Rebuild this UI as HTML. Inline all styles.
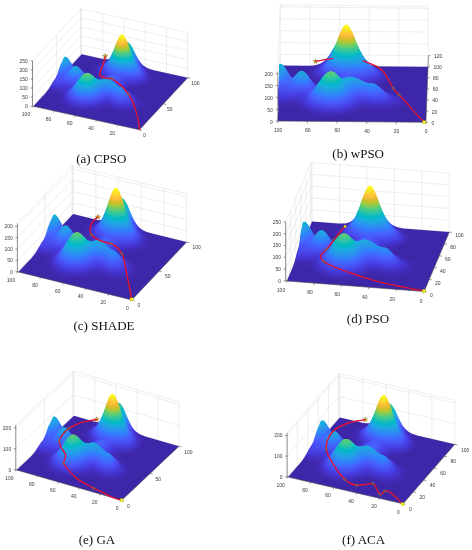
<!DOCTYPE html>
<html><head><meta charset="utf-8"><title>Figure</title>
<style>html,body{margin:0;padding:0;background:#fff}svg{display:block}text{font-family:"Liberation Sans",sans-serif}text.cap{font-family:"Liberation Serif",serif;font-size:13px;fill:#111}</style></head>
<body>
<svg width="472" height="550" viewBox="0 0 472 550">
<defs><linearGradient id="ga" gradientUnits="userSpaceOnUse" x1="0" y1="0" x2="7.83" y2="-35.37"><stop offset="0" stop-color="#3e26a8"/><stop offset=".031" stop-color="#422ebf"/><stop offset=".062" stop-color="#4536d5"/><stop offset=".094" stop-color="#4741e5"/><stop offset=".125" stop-color="#484cef"/><stop offset=".156" stop-color="#4757f7"/><stop offset=".188" stop-color="#4562fc"/><stop offset=".219" stop-color="#3f6efe"/><stop offset=".25" stop-color="#347afd"/><stop offset=".281" stop-color="#2e85f8"/><stop offset=".312" stop-color="#2c90f0"/><stop offset=".344" stop-color="#269ae9"/><stop offset=".375" stop-color="#21a3e3"/><stop offset=".406" stop-color="#1aacdd"/><stop offset=".438" stop-color="#0cb3d3"/><stop offset=".469" stop-color="#01b9c6"/><stop offset=".5" stop-color="#12beb9"/><stop offset=".531" stop-color="#28c2ab"/><stop offset=".562" stop-color="#34c79c"/><stop offset=".594" stop-color="#44ca8a"/><stop offset=".625" stop-color="#5ccc76"/><stop offset=".656" stop-color="#77cc60"/><stop offset=".688" stop-color="#94ca4a"/><stop offset=".719" stop-color="#afc637"/><stop offset=".75" stop-color="#c8c129"/><stop offset=".781" stop-color="#debc2a"/><stop offset=".812" stop-color="#f1ba37"/><stop offset=".844" stop-color="#febe3c"/><stop offset=".875" stop-color="#feca33"/><stop offset=".906" stop-color="#f9d62d"/><stop offset=".938" stop-color="#f5e327"/><stop offset=".969" stop-color="#f6ef20"/><stop offset="1" stop-color="#f9fb15"/></linearGradient><linearGradient id="gb" gradientUnits="userSpaceOnUse" x1="0" y1="0" x2="0.43" y2="-48.58"><stop offset="0" stop-color="#3e26a8"/><stop offset=".031" stop-color="#422ebf"/><stop offset=".062" stop-color="#4536d5"/><stop offset=".094" stop-color="#4741e5"/><stop offset=".125" stop-color="#484cef"/><stop offset=".156" stop-color="#4757f7"/><stop offset=".188" stop-color="#4562fc"/><stop offset=".219" stop-color="#3f6efe"/><stop offset=".25" stop-color="#347afd"/><stop offset=".281" stop-color="#2e85f8"/><stop offset=".312" stop-color="#2c90f0"/><stop offset=".344" stop-color="#269ae9"/><stop offset=".375" stop-color="#21a3e3"/><stop offset=".406" stop-color="#1aacdd"/><stop offset=".438" stop-color="#0cb3d3"/><stop offset=".469" stop-color="#01b9c6"/><stop offset=".5" stop-color="#12beb9"/><stop offset=".531" stop-color="#28c2ab"/><stop offset=".562" stop-color="#34c79c"/><stop offset=".594" stop-color="#44ca8a"/><stop offset=".625" stop-color="#5ccc76"/><stop offset=".656" stop-color="#77cc60"/><stop offset=".688" stop-color="#94ca4a"/><stop offset=".719" stop-color="#afc637"/><stop offset=".75" stop-color="#c8c129"/><stop offset=".781" stop-color="#debc2a"/><stop offset=".812" stop-color="#f1ba37"/><stop offset=".844" stop-color="#febe3c"/><stop offset=".875" stop-color="#feca33"/><stop offset=".906" stop-color="#f9d62d"/><stop offset=".938" stop-color="#f5e327"/><stop offset=".969" stop-color="#f6ef20"/><stop offset="1" stop-color="#f9fb15"/></linearGradient><linearGradient id="gc" gradientUnits="userSpaceOnUse" x1="0" y1="0" x2="10.80" y2="-43.77"><stop offset="0" stop-color="#3e26a8"/><stop offset=".031" stop-color="#422ebf"/><stop offset=".062" stop-color="#4536d5"/><stop offset=".094" stop-color="#4741e5"/><stop offset=".125" stop-color="#484cef"/><stop offset=".156" stop-color="#4757f7"/><stop offset=".188" stop-color="#4562fc"/><stop offset=".219" stop-color="#3f6efe"/><stop offset=".25" stop-color="#347afd"/><stop offset=".281" stop-color="#2e85f8"/><stop offset=".312" stop-color="#2c90f0"/><stop offset=".344" stop-color="#269ae9"/><stop offset=".375" stop-color="#21a3e3"/><stop offset=".406" stop-color="#1aacdd"/><stop offset=".438" stop-color="#0cb3d3"/><stop offset=".469" stop-color="#01b9c6"/><stop offset=".5" stop-color="#12beb9"/><stop offset=".531" stop-color="#28c2ab"/><stop offset=".562" stop-color="#34c79c"/><stop offset=".594" stop-color="#44ca8a"/><stop offset=".625" stop-color="#5ccc76"/><stop offset=".656" stop-color="#77cc60"/><stop offset=".688" stop-color="#94ca4a"/><stop offset=".719" stop-color="#afc637"/><stop offset=".75" stop-color="#c8c129"/><stop offset=".781" stop-color="#debc2a"/><stop offset=".812" stop-color="#f1ba37"/><stop offset=".844" stop-color="#febe3c"/><stop offset=".875" stop-color="#feca33"/><stop offset=".906" stop-color="#f9d62d"/><stop offset=".938" stop-color="#f5e327"/><stop offset=".969" stop-color="#f6ef20"/><stop offset="1" stop-color="#f9fb15"/></linearGradient><linearGradient id="gd" gradientUnits="userSpaceOnUse" x1="0" y1="0" x2="3.68" y2="-48.10"><stop offset="0" stop-color="#3e26a8"/><stop offset=".031" stop-color="#422ebf"/><stop offset=".062" stop-color="#4536d5"/><stop offset=".094" stop-color="#4741e5"/><stop offset=".125" stop-color="#484cef"/><stop offset=".156" stop-color="#4757f7"/><stop offset=".188" stop-color="#4562fc"/><stop offset=".219" stop-color="#3f6efe"/><stop offset=".25" stop-color="#347afd"/><stop offset=".281" stop-color="#2e85f8"/><stop offset=".312" stop-color="#2c90f0"/><stop offset=".344" stop-color="#269ae9"/><stop offset=".375" stop-color="#21a3e3"/><stop offset=".406" stop-color="#1aacdd"/><stop offset=".438" stop-color="#0cb3d3"/><stop offset=".469" stop-color="#01b9c6"/><stop offset=".5" stop-color="#12beb9"/><stop offset=".531" stop-color="#28c2ab"/><stop offset=".562" stop-color="#34c79c"/><stop offset=".594" stop-color="#44ca8a"/><stop offset=".625" stop-color="#5ccc76"/><stop offset=".656" stop-color="#77cc60"/><stop offset=".688" stop-color="#94ca4a"/><stop offset=".719" stop-color="#afc637"/><stop offset=".75" stop-color="#c8c129"/><stop offset=".781" stop-color="#debc2a"/><stop offset=".812" stop-color="#f1ba37"/><stop offset=".844" stop-color="#febe3c"/><stop offset=".875" stop-color="#feca33"/><stop offset=".906" stop-color="#f9d62d"/><stop offset=".938" stop-color="#f5e327"/><stop offset=".969" stop-color="#f6ef20"/><stop offset="1" stop-color="#f9fb15"/></linearGradient><linearGradient id="ge" gradientUnits="userSpaceOnUse" x1="0" y1="0" x2="11.44" y2="-39.54"><stop offset="0" stop-color="#3e26a8"/><stop offset=".031" stop-color="#422ebf"/><stop offset=".062" stop-color="#4536d5"/><stop offset=".094" stop-color="#4741e5"/><stop offset=".125" stop-color="#484cef"/><stop offset=".156" stop-color="#4757f7"/><stop offset=".188" stop-color="#4562fc"/><stop offset=".219" stop-color="#3f6efe"/><stop offset=".25" stop-color="#347afd"/><stop offset=".281" stop-color="#2e85f8"/><stop offset=".312" stop-color="#2c90f0"/><stop offset=".344" stop-color="#269ae9"/><stop offset=".375" stop-color="#21a3e3"/><stop offset=".406" stop-color="#1aacdd"/><stop offset=".438" stop-color="#0cb3d3"/><stop offset=".469" stop-color="#01b9c6"/><stop offset=".5" stop-color="#12beb9"/><stop offset=".531" stop-color="#28c2ab"/><stop offset=".562" stop-color="#34c79c"/><stop offset=".594" stop-color="#44ca8a"/><stop offset=".625" stop-color="#5ccc76"/><stop offset=".656" stop-color="#77cc60"/><stop offset=".688" stop-color="#94ca4a"/><stop offset=".719" stop-color="#afc637"/><stop offset=".75" stop-color="#c8c129"/><stop offset=".781" stop-color="#debc2a"/><stop offset=".812" stop-color="#f1ba37"/><stop offset=".844" stop-color="#febe3c"/><stop offset=".875" stop-color="#feca33"/><stop offset=".906" stop-color="#f9d62d"/><stop offset=".938" stop-color="#f5e327"/><stop offset=".969" stop-color="#f6ef20"/><stop offset="1" stop-color="#f9fb15"/></linearGradient><linearGradient id="gf" gradientUnits="userSpaceOnUse" x1="0" y1="0" x2="9.36" y2="-40.15"><stop offset="0" stop-color="#3e26a8"/><stop offset=".031" stop-color="#422ebf"/><stop offset=".062" stop-color="#4536d5"/><stop offset=".094" stop-color="#4741e5"/><stop offset=".125" stop-color="#484cef"/><stop offset=".156" stop-color="#4757f7"/><stop offset=".188" stop-color="#4562fc"/><stop offset=".219" stop-color="#3f6efe"/><stop offset=".25" stop-color="#347afd"/><stop offset=".281" stop-color="#2e85f8"/><stop offset=".312" stop-color="#2c90f0"/><stop offset=".344" stop-color="#269ae9"/><stop offset=".375" stop-color="#21a3e3"/><stop offset=".406" stop-color="#1aacdd"/><stop offset=".438" stop-color="#0cb3d3"/><stop offset=".469" stop-color="#01b9c6"/><stop offset=".5" stop-color="#12beb9"/><stop offset=".531" stop-color="#28c2ab"/><stop offset=".562" stop-color="#34c79c"/><stop offset=".594" stop-color="#44ca8a"/><stop offset=".625" stop-color="#5ccc76"/><stop offset=".656" stop-color="#77cc60"/><stop offset=".688" stop-color="#94ca4a"/><stop offset=".719" stop-color="#afc637"/><stop offset=".75" stop-color="#c8c129"/><stop offset=".781" stop-color="#debc2a"/><stop offset=".812" stop-color="#f1ba37"/><stop offset=".844" stop-color="#febe3c"/><stop offset=".875" stop-color="#feca33"/><stop offset=".906" stop-color="#f9d62d"/><stop offset=".938" stop-color="#f5e327"/><stop offset=".969" stop-color="#f6ef20"/><stop offset="1" stop-color="#f9fb15"/></linearGradient></defs>
<rect width="472" height="550" fill="#fff"/>
<g id="plot-a">
<g stroke="#e3e3e3" stroke-width=".6" fill="none"><path d="M32.5 106.1L80.8 54"/><path d="M80.8 54L187.7 77.7"/><path d="M32.5 97.1L80.8 45"/><path d="M80.8 45L187.7 68.7"/><path d="M32.5 88L80.8 35.9"/><path d="M80.8 35.9L187.7 59.6"/><path d="M32.5 79L80.8 26.9"/><path d="M80.8 26.9L187.7 50.6"/><path d="M32.5 69.9L80.8 17.8"/><path d="M80.8 17.8L187.7 41.5"/><path d="M32.5 60.9L80.8 8.8"/><path d="M80.8 8.8L187.7 32.5"/><path d="M32.5 106.1L32.5 60.9"/><path d="M56.6 80.1L56.6 34.8"/><path d="M80.8 54L80.8 8.8"/><path d="M187.7 77.7L187.7 32.5"/><path d="M166.5 73L166.5 27.8"/><path d="M145.3 68.3L145.3 23"/><path d="M124 63.6L124 18.3"/><path d="M102.8 58.9L102.8 13.6"/><path d="M81.6 54.2L81.6 8.9"/><path d="M80.8 54L80.8 8.8"/></g>
<polygon fill="#3e26a8" points="139.4,129.8 33.3,106.3 81.6,54.2 187.7,77.7"/>
<g fill="url(#ga)"><path transform="translate(187.7 77.7)" d="M-35 -7.8l-1.1-.4-1-.3-1.1-.4-1.1-.4-1-.4-1.1-.6-1-.6-1.1-.7-1.1-.9-1-1-1.1-1.2-1-1.4-1.1-1.6-1.1-1.7-1-2-1.1-2.1-1.1-2.1-1-2.2-1.1-2.1-1-1.9-1.1-1.6-1.1-1.3-1-.8-1.1-.5-1 .1-1.1 .5-1.1 .9-1 1.3-1.1 1.5-1 1.6-1.1 1.7-1.1 1.7-1 1.7-1.1 1.4-1 1.3-1.1 1.1-1.1 .9-1 .7-1.1 .5-1.1 .4-1 .2-1.1 .1-1 0-1.1-.1-1.1-.1-1-.1-1.1-.1z"/>
<path transform="translate(187.2 78.2)" d="M-34 -7.5l-1-.5-1.1-.3-1-.3-1.1-.4-1.1-.4-1-.5-1.1-.5-1-.6-1.1-.7-1.1-.9-1-1-1.1-1.2-1-1.3-1.1-1.6-1.1-1.7-1-1.9-1.1-2-1.1-2.1-1-2-1.1-2-1-1.8-1.1-1.5-1.1-1.2-1-.9-1.1-.3-1 0-1.1 .5-1.1 .9-1 1.2-1.1 1.4-1 1.6-1.1 1.6-1.1 1.6-1 1.6-1.1 1.4-1 1.2-1.1 1-1.1 .9-1 .6-1.1 .5-1.1 .3-1 .2-1.1 .1-1 0-1.1 0-1.1-.1-1-.2-1.1 0z"/>
<path transform="translate(186.7 78.7)" d="M-32.9 -7.3l-1.1-.4-1-.3-1.1-.4-1-.3-1.1-.4-1.1-.4-1-.5-1.1-.6-1-.6-1.1-.7-1.1-.9-1-1-1.1-1.2-1-1.3-1.1-1.5-1.1-1.7-1-1.8-1.1-1.9-1.1-2-1-1.9-1.1-1.9-1-1.7-1.1-1.4-1.1-1.1-1-.8-1.1-.3-1 .1-1.1 .5-1.1 .8-1 1.2-1.1 1.3-1 1.5-1.1 1.5-1.1 1.5-1 1.5-1.1 1.3-1 1.2-1.1 .9-1.1 .8-1 .7-1.1 .4-1.1 .3-1 .2-1.1 .1-1 0-1.1 0-1.1-.1-1-.2-1.1 0z"/>
<path transform="translate(186.3 79.3)" d="M-31.8 -7.1l-1.1-.4-1.1-.3-1-.3-1.1-.4-1-.3-1.1-.4-1.1-.5-1-.5-1.1-.6-1-.6-1.1-.8-1.1-.9-1-1-1.1-1.1-1-1.3-1.1-1.5-1.1-1.6-1-1.8-1.1-1.8-1.1-1.9-1-1.8-1.1-1.8-1-1.6-1.1-1.3-1.1-1-1-.7-1.1-.3-1 .1-1.1 .5-1.1 .8-1 1.1-1.1 1.3-1 1.4-1.1 1.5-1.1 1.4-1 1.4-1.1 1.2-1 1.1-1.1 .9-1.1 .8-1 .5-1.1 .5-1.1 .3-1 .2-1.1 .1-1 0-1.1-.1-1.1-.1-1-.1-1.1 0z"/>
<path transform="translate(185.8 79.8)" d="M-30.8 -6.8l-1-.4-1.1-.3-1.1-.4-1-.3-1.1-.4-1-.4-1.1-.4-1.1-.5-1-.5-1.1-.6-1-.7-1.1-.8-1.1-.9-1-1.1-1.1-1.1-1-1.3-1.1-1.5-1.1-1.6-1-1.7-1.1-1.8-1.1-1.8-1-1.7-1.1-1.7-1-1.5-1.1-1.2-1.1-1-1-.6-1.1-.2-1 .2-1.1 .5-1.1 .8-1 1.1-1.1 1.3-1 1.3-1.1 1.4-1.1 1.4-1 1.2-1.1 1.2-1 1-1.1 .9-1.1 .7-1 .6-1.1 .4-1.1 .3-1 .2-1.1 .1-1 0-1.1 0-1.1-.1-1-.1-1.1-.2-1 0z"/>
<path transform="translate(185.3 80.3)" d="M-29.7 -6.6l-1.1-.4-1-.3-1.1-.3-1.1-.4-1-.3-1.1-.4-1-.4-1.1-.5-1.1-.5-1-.6-1.1-.7-1-.7-1.1-.8-1.1-1-1-1-1.1-1.2-1-1.4-1.1-1.4-1.1-1.6-1-1.7-1.1-1.8-1.1-1.7-1-1.8-1.1-1.6-1-1.4-1.1-1.2-1.1-.8-1-.5-1.1-.2-1 .3-1.1 .6-1.1 .8-1 1.1-1.1 1.2-1 1.4-1.1 1.3-1.1 1.3-1 1.3-1.1 1.1-1 1-1.1 .8-1.1 .7-1 .6-1.1 .4-1.1 .3-1 .2-1.1 .1-1 0-1.1 0-1.1-.1-1-.1-1.1-.1-1 0z"/>
<path transform="translate(184.8 80.8)" d="M-29.7 -6.6l-1.1-.4-1-.4-1.1-.3-1.1-.4-1-.3-1.1-.5-1-.4-1.1-.6-1.1-.5-1-.7-1.1-.7-1-.8-1.1-.8-1.1-1-1-1.2-1.1-1.2-1-1.4-1.1-1.5-1.1-1.6-1-1.7-1.1-1.8-1.1-1.8-1-1.7-1.1-1.6-1-1.4-1.1-1.1-1.1-.8-1-.4-1.1 0-1 .3-1.1 .7-1.1 .9-1 1.1-1.1 1.3-1 1.4-1.1 1.3-1.1 1.3-1 1.3-1.1 1.1-1 .9-1.1 .9-1.1 .7-1 .5-1.1 .5-1.1 .3-1 .2-1.1 .1-1 0-1.1 0-1.1 0-1-.1-1.1-.2-1-.1-1.1-.1z"/>
<path transform="translate(184.3 81.3)" d="M-28.6 -6.3l-1.1-.5-1.1-.3-1-.3-1.1-.4-1.1-.4-1-.4-1.1-.5-1-.5-1.1-.6-1.1-.6-1-.7-1.1-.7-1-.9-1.1-.9-1.1-1.1-1-1.2-1.1-1.3-1-1.4-1.1-1.6-1.1-1.7-1-1.8-1.1-1.9-1.1-1.8-1-1.8-1.1-1.6-1-1.4-1.1-1.1-1.1-.8-1-.3-1.1 .1-1 .5-1.1 .8-1.1 1-1 1.3-1.1 1.4-1 1.4-1.1 1.4-1.1 1.3-1 1.3-1.1 1.1-1 1-1.1 .8-1.1 .7-1 .6-1.1 .5-1.1 .3-1 .2-1.1 .2-1 0-1.1 0-1.1 0-1-.1-1.1-.1-1-.2-1.1 0z"/>
<path transform="translate(183.8 81.9)" d="M-27.6 -6.1l-1-.4-1.1-.3-1.1-.4-1-.3-1.1-.4-1.1-.4-1-.5-1.1-.5-1-.6-1.1-.6-1.1-.7-1-.7-1.1-.9-1-.9-1.1-1-1.1-1.2-1-1.2-1.1-1.4-1-1.6-1.1-1.6-1.1-1.9-1-1.9-1.1-2-1.1-1.9-1-1.9-1.1-1.7-1-1.5-1.1-1.1-1.1-.7-1-.2-1.1 .2-1 .6-1.1 1-1.1 1.3-1 1.4-1.1 1.5-1 1.5-1.1 1.5-1.1 1.4-1 1.3-1.1 1.2-1 1-1.1 .9-1.1 .7-1 .6-1.1 .5-1.1 .4-1 .3-1.1 .1-1 .1-1.1 0-1.1 0-1-.1-1.1-.1-1-.1-1.1-.2-1.1 0z"/>
<path transform="translate(183.4 82.4)" d="M-27.6 -6.1l-1-.5-1.1-.3-1.1-.3-1-.4-1.1-.4-1.1-.5-1-.5-1.1-.6-1-.6-1.1-.7-1.1-.7-1-.8-1.1-.9-1-1.1-1.1-1.1-1.1-1.2-1-1.4-1.1-1.5-1-1.6-1.1-1.8-1.1-2-1-2.1-1.1-2.1-1.1-2.1-1-2.1-1.1-1.8-1-1.6-1.1-1.1-1.1-.6-1-.2-1.1 .4-1 .8-1.1 1.2-1.1 1.4-1 1.6-1.1 1.7-1 1.7-1.1 1.7-1.1 1.5-1 1.4-1.1 1.2-1 1.1-1.1 .9-1.1 .8-1 .7-1.1 .5-1.1 .4-1 .3-1.1 .2-1 .1-1.1 0-1.1 0-1 0-1.1-.1-1-.1-1.1-.2-1.1 0z"/>
<path transform="translate(182.9 82.9)" d="M-26.5 -5.9l-1.1-.4-1-.3-1.1-.4-1.1-.3-1-.4-1.1-.5-1.1-.5-1-.5-1.1-.6-1-.7-1.1-.8-1.1-.8-1-.9-1.1-1-1-1.1-1.1-1.2-1.1-1.3-1-1.4-1.1-1.7-1-1.7-1.1-2-1.1-2.1-1-2.3-1.1-2.3-1.1-2.4-1-2.2-1.1-2-1-1.6-1.1-1.2-1.1-.6-1-.1-1.1 .5-1 1-1.1 1.4-1.1 1.7-1 1.9-1.1 1.9-1 1.9-1.1 1.8-1.1 1.6-1 1.5-1.1 1.4-1 1.1-1.1 1-1.1 .8-1 .7-1.1 .6-1.1 .4-1 .4-1.1 .2-1 .2-1.1 0-1.1 .1-1-.1-1.1-.1-1-.1-1.1-.1-1.1 0z"/>
<path transform="translate(182.4 83.4)" d="M-26.5 -5.9l-1.1-.4-1-.4-1.1-.3-1.1-.4-1-.5-1.1-.5-1.1-.5-1-.6-1.1-.7-1-.7-1.1-.8-1.1-.9-1-1-1.1-1-1-1.2-1.1-1.3-1.1-1.4-1-1.5-1.1-1.8-1-1.9-1.1-2.1-1.1-2.3-1-2.4-1.1-2.6-1.1-2.5-1-2.4-1.1-2.2-1-1.8-1.1-1.2-1.1-.7-1 0-1.1 .7-1 1.2-1.1 1.6-1.1 2-1 2.1-1.1 2.2-1 2.1-1.1 1.9-1.1 1.8-1 1.7-1.1 1.4-1 1.2-1.1 1.1-1.1 .9-1 .7-1.1 .6-1.1 .5-1 .4-1.1 .3-1 .1-1.1 .2-1.1 0-1 0-1.1-.1-1-.1-1.1-.1-1.1-.2-1 0z"/>
<path transform="translate(181.9 84)" d="M-25.5 -5.6l-1-.5-1.1-.3-1-.3-1.1-.4-1.1-.4-1-.5-1.1-.5-1.1-.6-1-.7-1.1-.7-1-.8-1.1-.8-1.1-1-1-1-1.1-1.2-1-1.2-1.1-1.4-1.1-1.5-1-1.6-1.1-1.8-1-2-1.1-2.3-1.1-2.4-1-2.7-1.1-2.7-1.1-2.8-1-2.6-1.1-2.3-1-1.9-1.1-1.3-1.1-.7-1 .1-1.1 .8-1 1.4-1.1 1.9-1.1 2.2-1 2.3-1.1 2.4-1 2.3-1.1 2.2-1.1 1.9-1 1.7-1.1 1.6-1 1.3-1.1 1.1-1.1 1-1 .8-1.1 .6-1.1 .5-1 .4-1.1 .3-1 .2-1.1 .2-1.1 0-1 0-1.1 0-1-.1-1.1-.2-1.1-.1-1 0z"/>
<path transform="translate(181.4 84.5)" d="M-25.5 -5.6l-1-.5-1.1-.3-1-.4-1.1-.4-1.1-.4-1-.5-1.1-.6-1.1-.6-1-.7-1.1-.8-1-.9-1.1-.9-1.1-1-1-1.1-1.1-1.2-1-1.3-1.1-1.4-1.1-1.6-1-1.7-1.1-1.9-1-2.1-1.1-2.3-1.1-2.6-1-2.8-1.1-2.9-1.1-2.9-1-2.8-1.1-2.5-1-2-1.1-1.3-1.1-.7-1 .2-1.1 .9-1 1.5-1.1 2.1-1.1 2.4-1 2.6-1.1 2.5-1 2.5-1.1 2.3-1.1 2.1-1 1.8-1.1 1.6-1 1.4-1.1 1.2-1.1 1-1 .8-1.1 .7-1.1 .6-1 .4-1.1 .3-1 .3-1.1 .1-1.1 .1-1 0-1.1-.1-1-.1-1.1-.1-1.1-.1-1 0z"/>
<path transform="translate(180.9 85)" d="M-25.5 -5.6l-1-.5-1.1-.4-1-.4-1.1-.4-1.1-.5-1-.5-1.1-.6-1.1-.7-1-.7-1.1-.8-1-1-1.1-.9-1.1-1.1-1-1.2-1.1-1.2-1-1.4-1.1-1.4-1.1-1.6-1-1.7-1.1-2-1-2.1-1.1-2.4-1.1-2.7-1-2.8-1.1-3-1.1-3-1-2.9-1.1-2.6-1-2.1-1.1-1.4-1.1-.6-1 .2-1.1 1-1 1.6-1.1 2.2-1.1 2.6-1 2.7-1.1 2.7-1 2.6-1.1 2.4-1.1 2.2-1 1.9-1.1 1.6-1 1.5-1.1 1.2-1.1 1-1 .9-1.1 .7-1.1 .6-1 .4-1.1 .4-1 .2-1.1 .2-1.1 0-1 0-1.1 0-1-.1-1.1-.1-1.1-.1-1 0z"/>
<path transform="translate(180.5 85.5)" d="M-24.4 -5.4l-1.1-.4-1-.4-1.1-.3-1-.4-1.1-.5-1.1-.5-1-.5-1.1-.7-1.1-.7-1-.8-1.1-.9-1-.9-1.1-1.1-1.1-1.1-1-1.2-1.1-1.3-1-1.3-1.1-1.5-1.1-1.6-1-1.7-1.1-1.9-1-2.2-1.1-2.4-1.1-2.7-1-2.8-1.1-3-1.1-3.1-1-2.9-1.1-2.6-1-2.1-1.1-1.4-1.1-.6-1 .2-1.1 1-1 1.8-1.1 2.2-1.1 2.7-1 2.7-1.1 2.8-1 2.7-1.1 2.4-1.1 2.2-1 1.9-1.1 1.7-1 1.5-1.1 1.2-1.1 1.1-1 .8-1.1 .8-1.1 .5-1 .5-1.1 .3-1 .3-1.1 .1-1.1 .1-1 0-1.1 0-1-.1-1.1-.1-1.1-.1-1 0z"/>
<path transform="translate(180 86)" d="M-24.4 -5.4l-1.1-.5-1-.3-1.1-.4-1-.4-1.1-.4-1.1-.6-1-.6-1.1-.6-1.1-.8-1-.8-1.1-1-1-1-1.1-1-1.1-1.2-1-1.2-1.1-1.3-1-1.4-1.1-1.4-1.1-1.6-1-1.7-1.1-1.9-1-2.1-1.1-2.3-1.1-2.6-1-2.8-1.1-3-1.1-3-1-2.8-1.1-2.6-1-2-1.1-1.4-1.1-.6-1 .3-1.1 1-1 1.7-1.1 2.3-1.1 2.6-1 2.7-1.1 2.8-1 2.6-1.1 2.5-1.1 2.1-1 2-1.1 1.6-1 1.4-1.1 1.3-1.1 1-1 .9-1.1 .7-1.1 .6-1 .4-1.1 .3-1 .3-1.1 .1-1.1 .1-1 0-1.1 0-1-.1-1.1-.1-1.1-.1-1 0z"/>
<path transform="translate(179.5 86.6)" d="M-24.4 -5.4l-1.1-.5-1-.3-1.1-.4-1-.4-1.1-.5-1.1-.6-1-.6-1.1-.7-1.1-.8-1-.9-1.1-.9-1-1.1-1.1-1.1-1.1-1.1-1-1.3-1.1-1.2-1-1.4-1.1-1.4-1.1-1.5-1-1.7-1.1-1.8-1-1.9-1.1-2.3-1.1-2.4-1-2.7-1.1-2.8-1-2.8-1.1-2.7-1.1-2.5-1-1.9-1.1-1.3-1.1-.6-1 .3-1.1 1-1 1.6-1.1 2.2-1.1 2.5-1 2.6-1.1 2.7-1 2.5-1.1 2.4-1.1 2.1-1 1.8-1.1 1.6-1 1.4-1.1 1.2-1.1 1-1 .8-1.1 .7-1.1 .5-1 .5-1.1 .3-1 .2-1.1 .2-1.1 0-1 .1-1.1-.1-1-.1-1.1-.1-1.1-.1-1 0z"/>
<path transform="translate(179 87.1)" d="M-24.4 -5.4l-1.1-.5-1-.3-1.1-.4-1-.5-1.1-.5-1.1-.5-1-.7-1.1-.7-1.1-.8-1-.9-1.1-1-1-1.1-1.1-1.1-1.1-1.2-1-1.2-1.1-1.3-1-1.3-1.1-1.3-1.1-1.4-1-1.6-1.1-1.7-1-1.8-1.1-2.1-1.1-2.2-1-2.5-1.1-2.5-1-2.7-1.1-2.5-1.1-2.2-1-1.8-1.1-1.2-1.1-.5-1 .2-1.1 .9-1 1.6-1.1 2-1.1 2.3-1 2.5-1.1 2.4-1 2.4-1.1 2.2-1.1 1.9-1 1.8-1.1 1.5-1 1.3-1.1 1.1-1.1 .9-1 .8-1.1 .7-1.1 .5-1 .4-1.1 .3-1 .2-1.1 .1-1.1 .1-1 0-1.1-.1-1-.1-1.1-.1-1.1-.1-1 0z"/>
<path transform="translate(178.5 87.6)" d="M-24.4 -5.4l-1.1-.5-1-.4-1.1-.4-1-.4-1.1-.5-1.1-.6-1-.7-1.1-.7-1.1-.8-1-1-1.1-1-1-1-1.1-1.1-1.1-1.2-1-1.2-1.1-1.2-1-1.3-1.1-1.2-1.1-1.4-1-1.4-1.1-1.5-1-1.7-1.1-1.8-1.1-2-1-2.2-1.1-2.3-1.1-2.4-1-2.2-1.1-2-1-1.6-1.1-1.1-1.1-.5-1 .2-1.1 .9-1 1.3-1.1 1.8-1.1 2.1-1 2.2-1.1 2.3-1 2.1-1.1 2-1.1 1.8-1 1.5-1.1 1.4-1 1.2-1.1 1-1.1 .9-1 .7-1.1 .6-1.1 .5-1 .3-1.1 .3-1 .2-1.1 .1-1.1 0-1 0-1.1 0-1-.1-1.1-.2-1.1-.1-1 0z"/>
<path transform="translate(178 88.1)" d="M-24.4 -5.4l-1.1-.5-1-.4-1.1-.4-1-.4-1.1-.5-1.1-.6-1-.7-1.1-.8-1.1-.8-1-.9-1.1-1-1-1.1-1.1-1.1-1.1-1.1-1-1.2-1.1-1.1-1-1.2-1.1-1.2-1.1-1.2-1-1.3-1.1-1.3-1-1.5-1.1-1.6-1.1-1.8-1-1.9-1.1-2-1.1-2-1-2-1.1-1.7-1-1.4-1.1-.9-1.1-.4-1 .1-1.1 .7-1 1.2-1.1 1.6-1.1 1.8-1 1.9-1.1 2-1 1.8-1.1 1.8-1.1 1.6-1 1.4-1.1 1.2-1 1.1-1.1 .9-1.1 .7-1 .7-1.1 .5-1.1 .4-1 .3-1.1 .3-1 .1-1.1 .1-1.1 0-1 0-1.1-.1-1-.1-1.1-.1-1.1-.2-1 0z"/>
<path transform="translate(177.6 88.6)" d="M-24.4 -5.4l-1.1-.5-1-.4-1.1-.4-1-.4-1.1-.5-1.1-.6-1-.7-1.1-.8-1.1-.8-1-.9-1.1-1-1-1-1.1-1.1-1.1-1.1-1-1.1-1.1-1.1-1-1.1-1.1-1.1-1.1-1.1-1-1.1-1.1-1.2-1-1.2-1.1-1.4-1.1-1.5-1-1.6-1.1-1.7-1.1-1.7-1-1.7-1.1-1.4-1-1.2-1.1-.8-1.1-.4-1 .1-1.1 .6-1 1-1.1 1.3-1.1 1.5-1 1.7-1.1 1.6-1 1.6-1.1 1.5-1.1 1.4-1 1.2-1.1 1-1 1-1.1 .8-1.1 .6-1 .6-1.1 .4-1.1 .4-1 .3-1.1 .1-1 .2-1.1 0-1.1 0-1-.1-1.1 0-1-.2-1.1-.1-1.1-.2-1 0zM-101.9 -22.6l-1-.4-1.1-.2-1-.3-1.1-.2 0 .2z"/>
<path transform="translate(177.1 89.2)" d="M-24.4 -5.4l-1.1-.5-1-.4-1.1-.4-1-.4-1.1-.5-1.1-.6-1-.7-1.1-.7-1.1-.8-1-.9-1.1-1-1-1-1.1-1-1.1-1.1-1-1-1.1-1-1-1.1-1.1-.9-1.1-1-1-1-1.1-1-1-1.1-1.1-1.1-1.1-1.3-1-1.3-1.1-1.4-1.1-1.4-1-1.4-1.1-1.2-1-.9-1.1-.7-1.1-.3-1 .1-1.1 .4-1 .8-1.1 1.1-1.1 1.2-1 1.4-1.1 1.3-1 1.3-1.1 1.3-1.1 1.1-1 1-1.1 .9-1 .8-1.1 .7-1.1 .6-1 .4-1.1 .4-1.1 .3-1 .2-1.1 .1-1 .1-1.1 0-1.1 0-1-.1-1.1-.1-1-.1-1.1-.2-1.1 0zM-98.7 -21.9l-1-.4-1.1-.3-1.1-.2-1-.3-1.1-.3-1-.2-1.1-.2 0 .3z"/>
<path transform="translate(176.6 89.7)" d="M-24.4 -5.4l-1.1-.5-1-.3-1.1-.4-1-.5-1.1-.5-1.1-.6-1-.6-1.1-.7-1.1-.8-1-.9-1.1-.9-1-1-1.1-1-1.1-.9-1-1-1.1-1-1-.9-1.1-.9-1.1-.8-1-.9-1.1-.8-1-.9-1.1-1-1.1-1-1-1.1-1.1-1.1-1.1-1.2-1-1-1.1-1-1-.8-1.1-.6-1.1-.2-1 0-1.1 .4-1 .6-1.1 .8-1.1 1-1 1.1-1.1 1-1 1.1-1.1 1-1.1 1-1 .8-1.1 .7-1 .7-1.1 .5-1.1 .5-1 .4-1.1 .3-1.1 .2-1 .1-1.1 .1-1 0-1.1 0-1.1 0-1-.1-1.1-.2-1-.1-1.1-.2-1.1 0zM-96.6 -21.4l-1-.4-1.1-.3-1-.3-1.1-.3-1.1-.4-1-.2-1.1-.3-1-.3-1.1-.2 0 .6z"/>
<path transform="translate(176.1 90.2)" d="M-24.4 -5.4l-1.1-.5-1-.3-1.1-.4-1-.4-1.1-.5-1.1-.6-1-.6-1.1-.7-1.1-.8-1-.8-1.1-.9-1-.9-1.1-.9-1.1-.9-1-.9-1.1-.9-1-.8-1.1-.8-1.1-.7-1-.8-1.1-.7-1-.8-1.1-.7-1.1-.9-1-.9-1.1-.9-1.1-.9-1-.9-1.1-.8-1-.6-1.1-.5-1.1-.2-1 0-1.1 .3-1 .4-1.1 .7-1.1 .7-1 .9-1.1 .8-1 .9-1.1 .8-1.1 .7-1 .7-1.1 .6-1 .5-1.1 .4-1.1 .4-1 .3-1.1 .2-1.1 .2-1 .1-1.1 0-1 0-1.1-.1-1.1-.1-1-.1-1.1-.1-1-.2-1.1-.2-1.1 0zM-94.4 -20.9l-1.1-.4-1.1-.3-1-.4-1.1-.3-1-.3-1.1-.4-1.1-.4-1-.3-1.1-.3-1-.3-1.1-.2 0 1z"/>
<path transform="translate(175.6 90.7)" d="M-24.4 -5.4l-1.1-.5-1-.3-1.1-.4-1-.4-1.1-.5-1.1-.5-1-.6-1.1-.6-1.1-.7-1-.8-1.1-.8-1-.9-1.1-.8-1.1-.9-1-.8-1.1-.8-1-.8-1.1-.7-1.1-.6-1-.7-1.1-.6-1-.6-1.1-.7-1.1-.7-1-.7-1.1-.8-1.1-.7-1-.7-1.1-.7-1-.5-1.1-.4-1.1-.2-1 0-1.1 .2-1 .3-1.1 .5-1.1 .6-1 .6-1.1 .7-1 .7-1.1 .6-1.1 .6-1 .5-1.1 .5-1 .4-1.1 .3-1.1 .3-1 .2-1.1 .1-1.1 .1-1 .1-1.1 0-1-.1-1.1-.1-1.1-.1-1-.1-1.1-.2-1-.2-1.1-.2-1.1 0zM-93.4 -20.7l-1-.4-1.1-.3-1.1-.4-1-.3-1.1-.4-1-.5-1.1-.4-1.1-.4-1-.4-1.1-.4-1-.2-1.1-.2 0 1.5z"/>
<path transform="translate(175.1 91.2)" d="M-24.4 -5.4l-1.1-.4-1-.4-1.1-.3-1-.4-1.1-.5-1.1-.5-1-.5-1.1-.6-1.1-.7-1-.7-1.1-.8-1-.8-1.1-.8-1.1-.7-1-.8-1.1-.7-1-.7-1.1-.6-1.1-.6-1-.6-1.1-.6-1-.5-1.1-.6-1.1-.6-1-.6-1.1-.6-1.1-.6-1-.6-1.1-.5-1-.5-1.1-.3-1.1-.2-1 0-1.1 .1-1 .2-1.1 .4-1.1 .4-1 .5-1.1 .5-1 .5-1.1 .5-1.1 .5-1 .4-1.1 .4-1 .3-1.1 .2-1.1 .2-1 .1-1.1 .1-1.1 .1-1 0-1.1-.1-1-.1-1.1-.1-1.1-.1-1-.2-1.1-.2-1-.2-1.1-.2-1.1-.2-1-.2-1.1-.3-1-.2-1.1-.3-1.1-.2-1-.3-1.1-.4-1.1-.4-1-.4-1.1-.5-1-.5-1.1-.6-1.1-.5-1-.4-1.1-.4-1-.3-1.1-.2 0 2.3z"/>
<path transform="translate(174.7 91.8)" d="M-25.5 -5.6l-1-.5-1.1-.4-1-.4-1.1-.4-1.1-.4-1-.6-1.1-.5-1.1-.7-1-.6-1.1-.7-1-.7-1.1-.7-1.1-.8-1-.6-1.1-.7-1-.6-1.1-.6-1.1-.6-1-.5-1.1-.5-1-.5-1.1-.5-1.1-.5-1-.6-1.1-.5-1.1-.6-1-.5-1.1-.4-1-.4-1.1-.3-1.1-.2-1 0-1.1 .1-1 .1-1.1 .3-1.1 .3-1 .4-1.1 .4-1 .4-1.1 .4-1.1 .4-1 .3-1.1 .3-1 .2-1.1 .1-1.1 .2-1 0-1.1 .1-1.1 0-1-.1-1.1-.1-1-.1-1.1-.1-1.1-.2-1-.2-1.1-.2-1-.2-1.1-.2-1.1-.3-1-.2-1.1-.2-1-.3-1.1-.3-1.1-.3-1-.3-1.1-.4-1.1-.4-1-.6-1.1-.6-1-.6-1.1-.7-1.1-.6-1-.6-1.1-.5-1-.3-1.1-.1 0 3.3z"/>
<path transform="translate(174.2 92.3)" d="M-25.5 -5.6l-1-.5-1.1-.3-1-.4-1.1-.4-1.1-.4-1-.5-1.1-.5-1.1-.6-1-.6-1.1-.6-1-.7-1.1-.6-1.1-.7-1-.6-1.1-.6-1-.6-1.1-.5-1.1-.5-1-.5-1.1-.5-1-.5-1.1-.5-1.1-.5-1-.5-1.1-.5-1.1-.5-1-.5-1.1-.4-1-.3-1.1-.3-1.1-.2-1 0-1.1 0-1 .1-1.1 .3-1.1 .2-1 .3-1.1 .4-1 .3-1.1 .3-1.1 .3-1 .2-1.1 .2-1 .2-1.1 .1-1.1 .1-1 0-1.1 0-1.1-.1-1-.1-1.1-.1-1-.1-1.1-.2-1.1-.2-1-.2-1.1-.2-1-.3-1.1-.2-1.1-.3-1-.2-1.1-.3-1-.2-1.1-.3-1.1-.3-1-.4-1.1-.4-1.1-.6-1-.6-1.1-.8-1-.8-1.1-.8-1.1-.8-1-.7-1.1-.6-1-.3-1.1-.1 0 4.6z"/>
<path transform="translate(173.7 92.8)" d="M-25.5 -5.6l-1-.5-1.1-.3-1-.3-1.1-.4-1.1-.4-1-.4-1.1-.5-1.1-.5-1-.6-1.1-.5-1-.6-1.1-.6-1.1-.6-1-.6-1.1-.6-1-.5-1.1-.5-1.1-.5-1-.5-1.1-.5-1-.5-1.1-.5-1.1-.5-1-.5-1.1-.5-1.1-.5-1-.4-1.1-.4-1-.3-1.1-.3-1.1-.2-1 0-1.1 0-1 .1-1.1 .2-1.1 .2-1 .3-1.1 .3-1 .3-1.1 .2-1.1 .3-1 .2-1.1 .1-1 .1-1.1 .1-1.1 0-1 0-1.1 0-1.1-.1-1-.2-1.1-.1-1-.2-1.1-.2-1.1-.2-1-.3-1.1-.2-1-.3-1.1-.3-1.1-.2-1-.3-1.1-.2-1-.3-1.1-.3-1.1-.3-1-.5-1.1-.5-1.1-.6-1-.8-1.1-.9-1-1-1.1-1-1.1-1-1-.9-1.1-.7-1-.3-1.1-.1 0 6.2z"/>
<path transform="translate(173.2 93.3)" d="M-26.5 -5.9l-1.1-.4-1-.4-1.1-.3-1.1-.4-1-.4-1.1-.4-1.1-.5-1-.5-1.1-.5-1-.5-1.1-.6-1.1-.5-1-.5-1.1-.6-1-.5-1.1-.5-1.1-.5-1-.5-1.1-.5-1-.5-1.1-.5-1.1-.5-1-.5-1.1-.6-1-.5-1.1-.4-1.1-.4-1-.3-1.1-.3-1.1-.2-1 0-1.1 0-1 .1-1.1 .2-1.1 .2-1 .2-1.1 .3-1 .3-1.1 .2-1.1 .2-1 .2-1.1 .1-1 .1-1.1 0-1.1 0-1 0-1.1-.1-1.1-.1-1-.2-1.1-.2-1-.2-1.1-.2-1.1-.3-1-.3-1.1-.3-1-.3-1.1-.3-1.1-.3-1-.2-1.1-.3-1-.3-1.1-.3-1.1-.3-1-.5-1.1-.6-1.1-.7-1-1-1.1-1-1-1.3-1.1-1.2-1.1-1.2-1-1.1-1.1-.7-1-.4-1.1-.1 0 8z"/>
<path transform="translate(172.7 93.9)" d="M-27.6 -6.1l-1-.5-1.1-.3-1.1-.4-1-.3-1.1-.4-1.1-.5-1-.4-1.1-.5-1-.5-1.1-.5-1.1-.5-1-.5-1.1-.5-1-.4-1.1-.5-1.1-.5-1-.6-1.1-.5-1-.5-1.1-.6-1.1-.5-1-.6-1.1-.5-1-.6-1.1-.4-1.1-.5-1-.3-1.1-.3-1.1-.1-1-.1-1.1 0-1 .1-1.1 .2-1.1 .2-1 .3-1.1 .2-1 .3-1.1 .2-1.1 .2-1 .2-1.1 .1-1 .1-1.1 0-1.1-.1-1 0-1.1-.1-1.1-.2-1-.2-1.1-.2-1-.2-1.1-.3-1.1-.3-1-.4-1.1-.3-1-.3-1.1-.4-1.1-.3-1-.3-1.1-.2-1-.3-1.1-.3-1.1-.4-1-.5-1.1-.7-1.1-.8-1-1.1-1.1-1.2-1-1.5-1.1-1.5-1.1-1.4-1-1.2-1.1-.9-1-.5-1.1 .1 0 9.8z"/>
<path transform="translate(172.2 94.4)" d="M-27.6 -6.1l-1-.4-1.1-.3-1.1-.4-1-.3-1.1-.4-1.1-.4-1-.4-1.1-.4-1-.5-1.1-.4-1.1-.5-1-.4-1.1-.5-1-.5-1.1-.5-1.1-.5-1-.6-1.1-.5-1-.6-1.1-.6-1.1-.6-1-.6-1.1-.6-1.1-.6-1-.5-1.1-.4-1-.4-1.1-.2-1.1-.2-1 0-1.1 0-1 .1-1.1 .2-1.1 .2-1 .3-1.1 .3-1 .2-1.1 .3-1.1 .2-1 .1-1.1 .1-1 .1-1.1 0-1.1-.1-1-.1-1.1-.1-1.1-.2-1-.2-1.1-.2-1-.3-1.1-.4-1.1-.3-1-.4-1.1-.4-1-.4-1.1-.3-1.1-.4-1-.3-1.1-.3-1-.3-1.1-.3-1.1-.4-1-.5-1.1-.7-1.1-.9-1-1.2-1.1-1.5-1-1.6-1.1-1.7-1.1-1.6-1-1.4-1.1-1-1-.5-1.1 0 0 11.7z"/>
<path transform="translate(171.8 94.9)" d="M-28.6 -6.3l-1.1-.5-1.1-.3-1-.3-1.1-.4-1.1-.3-1-.4-1.1-.4-1-.4-1.1-.4-1.1-.4-1-.5-1.1-.5-1-.4-1.1-.6-1.1-.5-1-.5-1.1-.6-1-.7-1.1-.6-1.1-.7-1-.6-1.1-.7-1.1-.6-1-.5-1.1-.5-1-.3-1.1-.3-1.1-.2-1 0-1.1 0-1 .2-1.1 .2-1.1 .2-1 .3-1.1 .3-1 .3-1.1 .2-1.1 .2-1 .2-1.1 .1-1 0-1.1 0-1.1 0-1-.1-1.1-.2-1.1-.2-1-.2-1.1-.3-1-.4-1.1-.4-1.1-.4-1-.4-1.1-.5-1-.4-1.1-.4-1.1-.4-1-.4-1.1-.3-1-.3-1.1-.3-1.1-.3-1-.5-1.1-.8-1.1-1-1-1.2-1.1-1.6-1-1.8-1.1-1.9-1.1-1.8-1-1.6-1.1-1.1-1-.5-1.1 .1 0 13.3z"/>
<path transform="translate(171.3 95.4)" d="M-29.7 -6.6l-1.1-.4-1-.3-1.1-.4-1.1-.3-1-.3-1.1-.4-1-.4-1.1-.4-1.1-.4-1-.4-1.1-.5-1-.5-1.1-.5-1.1-.5-1-.6-1.1-.6-1-.7-1.1-.7-1.1-.7-1-.7-1.1-.7-1.1-.6-1-.6-1.1-.5-1-.4-1.1-.3-1.1-.1-1-.1-1.1 .1-1 .1-1.1 .3-1.1 .2-1 .3-1.1 .3-1 .3-1.1 .3-1.1 .2-1 .2-1.1 .1-1 .1-1.1 0-1.1-.1-1-.1-1.1-.2-1.1-.2-1-.3-1.1-.3-1-.4-1.1-.5-1.1-.5-1-.5-1.1-.6-1-.5-1.1-.5-1.1-.4-1-.4-1.1-.3-1-.3-1.1-.2-1.1-.4-1-.5-1.1-.7-1.1-1-1-1.3-1.1-1.7-1-1.9-1.1-2-1.1-2-1-1.6-1.1-1.2-1-.6-1.1 .1 0 14.7z"/>
<path transform="translate(170.8 95.9)" d="M-30.8 -6.8l-1-.5-1.1-.3-1.1-.3-1-.3-1.1-.3-1-.4-1.1-.4-1.1-.4-1-.4-1.1-.5-1-.4-1.1-.6-1.1-.5-1-.7-1.1-.6-1-.7-1.1-.8-1.1-.7-1-.7-1.1-.8-1.1-.7-1-.6-1.1-.5-1-.4-1.1-.3-1.1-.1-1-.1-1.1 .1-1 .2-1.1 .2-1.1 .3-1 .3-1.1 .4-1 .3-1.1 .3-1.1 .2-1 .2-1.1 .1-1 .1-1.1 0-1.1-.1-1-.1-1.1-.2-1.1-.3-1-.3-1.1-.4-1-.5-1.1-.5-1.1-.6-1-.6-1.1-.7-1-.6-1.1-.6-1.1-.5-1-.4-1.1-.3-1-.2-1.1-.3-1.1-.2-1-.5-1.1-.6-1.1-1-1-1.3-1.1-1.7-1-1.9-1.1-2.1-1.1-2-1-1.8-1.1-1.2-1-.6-1.1 .1 0 15.6z"/>
<path transform="translate(170.3 96.5)" d="M-31.8 -7.1l-1.1-.4-1.1-.3-1-.3-1.1-.3-1-.4-1.1-.3-1.1-.4-1-.4-1.1-.5-1-.5-1.1-.5-1.1-.6-1-.6-1.1-.7-1-.8-1.1-.7-1.1-.8-1-.8-1.1-.8-1-.7-1.1-.6-1.1-.5-1-.5-1.1-.3-1.1-.1-1 0-1.1 0-1 .2-1.1 .3-1.1 .3-1 .4-1.1 .3-1 .3-1.1 .3-1.1 .3-1 .2-1.1 .1-1 0-1.1 0-1.1 0-1-.2-1.1-.2-1.1-.3-1-.4-1.1-.4-1-.6-1.1-.6-1.1-.7-1-.7-1.1-.8-1-.7-1.1-.7-1.1-.6-1-.4-1.1-.3-1-.2-1.1-.2-1.1-.2-1-.3-1.1-.6-1.1-.8-1-1.3-1.1-1.6-1-1.9-1.1-2.1-1.1-2-1-1.8-1.1-1.3-1-.6-1.1 .2 0 16z"/>
<path transform="translate(169.8 97)" d="M-32.9 -7.3l-1.1-.4-1-.3-1.1-.4-1-.3-1.1-.3-1.1-.4-1-.4-1.1-.5-1-.5-1.1-.5-1.1-.6-1-.7-1.1-.7-1-.7-1.1-.8-1.1-.8-1-.8-1.1-.8-1.1-.8-1-.6-1.1-.6-1-.4-1.1-.3-1.1-.1-1-.1-1.1 .1-1 .2-1.1 .3-1.1 .3-1 .4-1.1 .3-1 .4-1.1 .3-1.1 .2-1 .2-1.1 .1-1 .1-1.1 0-1.1-.1-1-.1-1.1-.3-1.1-.3-1-.4-1.1-.6-1-.6-1.1-.7-1.1-.9-1-.8-1.1-.9-1-.9-1.1-.8-1.1-.6-1-.5-1.1-.3-1-.2-1.1-.1-1.1-.1-1-.1-1.1-.4-1.1-.7-1-1.1-1.1-1.5-1-1.8-1.1-2-1.1-2-1-1.8-1.1-1.3-1-.6-1.1 .1 0 16.1z"/>
<path transform="translate(169.3 97.5)" d="M-32.9 -7.3l-1.1-.4-1-.3-1.1-.3-1-.3-1.1-.4-1.1-.4-1-.4-1.1-.4-1-.5-1.1-.5-1.1-.6-1-.7-1.1-.7-1-.8-1.1-.8-1.1-.8-1-.8-1.1-.8-1.1-.8-1-.7-1.1-.5-1-.5-1.1-.3-1.1-.1-1 0-1.1 .1-1 .2-1.1 .2-1.1 .4-1 .3-1.1 .4-1 .3-1.1 .3-1.1 .3-1 .2-1.1 .1-1 .1-1.1-.1-1.1 0-1-.2-1.1-.3-1.1-.4-1-.4-1.1-.7-1-.7-1.1-.8-1.1-1-1-1-1.1-1.1-1-1-1.1-.8-1.1-.8-1-.5-1.1-.3-1-.1-1.1 0-1.1 0-1 0-1.1-.2-1.1-.5-1-.9-1.1-1.3-1-1.6-1.1-1.9-1.1-1.9-1-1.7-1.1-1.3-1-.6-1.1 0 0 15.8z"/>
<path transform="translate(168.9 98)" d="M-32.9 -7.3l-1.1-.4-1-.3-1.1-.3-1-.3-1.1-.4-1.1-.3-1-.4-1.1-.5-1-.5-1.1-.5-1.1-.6-1-.7-1.1-.7-1-.8-1.1-.8-1.1-.8-1-.8-1.1-.8-1.1-.8-1-.7-1.1-.5-1-.5-1.1-.3-1.1-.1-1 0-1.1 .1-1 .2-1.1 .3-1.1 .3-1 .3-1.1 .4-1 .3-1.1 .3-1.1 .3-1 .1-1.1 .2-1 0-1.1 0-1.1-.1-1-.2-1.1-.3-1.1-.4-1-.6-1.1-.7-1-.8-1.1-1-1.1-1.1-1-1.1-1.1-1.2-1-1.2-1.1-1-1.1-.8-1-.6-1.1-.3-1-.1-1.1 .1-1.1 .2-1 .2-1.1 0-1.1-.2-1-.7-1.1-1-1-1.4-1.1-1.7-1.1-1.8-1-1.7-1.1-1.3-1-.7-1.1 .1 0 15.2z"/>
<path transform="translate(168.4 98.5)" d="M-32.9 -7.3l-1.1-.4-1-.3-1.1-.3-1-.3-1.1-.4-1.1-.3-1-.4-1.1-.5-1-.4-1.1-.6-1.1-.6-1-.6-1.1-.8-1-.7-1.1-.8-1.1-.9-1-.8-1.1-.8-1.1-.8-1-.6-1.1-.6-1-.4-1.1-.3-1.1-.2-1 0-1.1 .1-1 .2-1.1 .3-1.1 .3-1 .4-1.1 .3-1 .3-1.1 .3-1.1 .2-1 .2-1.1 .1-1 0-1.1 0-1.1-.1-1-.2-1.1-.4-1.1-.4-1-.6-1.1-.8-1-.9-1.1-1.1-1.1-1.2-1-1.4-1.1-1.3-1-1.3-1.1-1.2-1.1-.9-1-.6-1.1-.3-1 0-1.1 .2-1.1 .4-1 .3-1.1 .3-1.1 0-1-.4-1.1-.8-1-1.2-1.1-1.5-1.1-1.7-1-1.6-1.1-1.3-1-.7-1.1 0 0 14.6z"/>
<path transform="translate(167.9 99.1)" d="M-31.8 -7.1l-1.1-.4-1.1-.3-1-.3-1.1-.3-1-.3-1.1-.3-1.1-.4-1-.4-1.1-.4-1-.5-1.1-.5-1.1-.6-1-.7-1.1-.7-1-.7-1.1-.8-1.1-.9-1-.8-1.1-.8-1.1-.7-1-.7-1.1-.5-1-.4-1.1-.3-1.1-.2-1 0-1.1 .1-1 .2-1.1 .3-1.1 .3-1 .3-1.1 .4-1 .2-1.1 .3-1.1 .2-1 .2-1.1 0-1 .1-1.1-.1-1.1-.1-1-.3-1.1-.3-1.1-.5-1-.7-1.1-.8-1-1-1.1-1.2-1.1-1.4-1-1.5-1.1-1.5-1-1.4-1.1-1.3-1.1-1-1-.7-1.1-.3-1 .1-1.1 .3-1.1 .5-1 .6-1.1 .4-1.1 .3-1-.1-1.1-.6-1-.9-1.1-1.4-1.1-1.6-1-1.5-1.1-1.3-1-.8-1.1-.1 0 14.1z"/>
<path transform="translate(167.4 99.6)" d="M-30.8 -6.8l-1-.4-1.1-.3-1.1-.3-1-.3-1.1-.4-1-.3-1.1-.3-1.1-.4-1-.4-1.1-.4-1-.5-1.1-.5-1.1-.6-1-.6-1.1-.7-1-.8-1.1-.8-1.1-.8-1-.8-1.1-.8-1.1-.7-1-.7-1.1-.5-1-.4-1.1-.2-1.1-.2-1 0-1.1 .2-1 .2-1.1 .2-1.1 .3-1 .3-1.1 .3-1 .3-1.1 .2-1.1 .2-1 .1-1.1 .1-1 0-1.1-.1-1.1-.2-1-.2-1.1-.4-1.1-.5-1-.7-1.1-.9-1-1.1-1.1-1.4-1.1-1.4-1-1.6-1.1-1.7-1-1.5-1.1-1.4-1.1-1.1-1-.7-1.1-.3-1 .1-1.1 .4-1.1 .6-1 .8-1.1 .7-1.1 .4-1 .2-1.1-.3-1-.8-1.1-1.2-1.1-1.5-1-1.5-1.1-1.3-1-.8-1.1-.2 0 13.6z"/>
<path transform="translate(166.9 100.1)" d="M-29.7 -6.6l-1.1-.4-1-.3-1.1-.3-1.1-.3-1-.4-1.1-.3-1-.3-1.1-.4-1.1-.4-1-.3-1.1-.5-1-.4-1.1-.5-1.1-.6-1-.7-1.1-.7-1-.7-1.1-.8-1.1-.8-1-.8-1.1-.8-1-.7-1.1-.6-1.1-.5-1-.4-1.1-.2-1.1-.1-1 0-1.1 .2-1 .2-1.1 .2-1.1 .3-1 .3-1.1 .2-1 .2-1.1 .2-1.1 .2-1 .1-1.1 0-1 0-1.1-.1-1.1-.1-1-.3-1.1-.4-1.1-.5-1-.8-1.1-.9-1-1.2-1.1-1.4-1.1-1.6-1-1.7-1.1-1.7-1-1.7-1.1-1.4-1.1-1.2-1-.7-1.1-.4-1 .2-1.1 .4-1.1 .8-1 .9-1.1 .8-1.1 .7-1 .3-1.1-.1-1-.5-1.1-1.1-1.1-1.3-1-1.5-1.1-1.3-1-.9-1.1-.2 0 13.1z"/>
<path transform="translate(166.4 100.6)" d="M-27.6 -6.1l-1-.4-1.1-.3-1.1-.3-1-.3-1.1-.3-1.1-.4-1-.3-1.1-.4-1-.4-1.1-.3-1.1-.4-1-.4-1.1-.4-1-.5-1.1-.5-1.1-.6-1-.6-1.1-.7-1-.7-1.1-.8-1.1-.8-1-.8-1.1-.8-1.1-.7-1-.6-1.1-.4-1-.4-1.1-.2-1.1 0-1 0-1.1 .2-1 .2-1.1 .3-1.1 .2-1 .3-1.1 .2-1 .2-1.1 .1-1.1 .2-1 0-1.1 .1-1-.1-1.1-.1-1.1-.1-1-.3-1.1-.4-1.1-.6-1-.7-1.1-1-1-1.2-1.1-1.5-1.1-1.6-1-1.8-1.1-1.8-1-1.7-1.1-1.5-1.1-1.2-1-.8-1.1-.3-1 .1-1.1 .5-1.1 .9-1 .9-1.1 1-1.1 .8-1 .5-1.1 .1-1-.4-1.1-.9-1.1-1.3-1-1.4-1.1-1.3-1-.8-1.1-.3 0 12.6z"/>
<path transform="translate(166 101.1)" d="M-26.5 -5.9l-1.1-.4-1-.3-1.1-.3-1.1-.3-1-.4-1.1-.3-1.1-.4-1-.4-1.1-.4-1-.4-1.1-.3-1.1-.4-1-.4-1.1-.4-1-.5-1.1-.5-1.1-.6-1-.7-1.1-.7-1-.7-1.1-.8-1.1-.8-1-.7-1.1-.8-1.1-.7-1-.6-1.1-.4-1-.3-1.1-.2-1.1 0-1 .1-1.1 .2-1 .3-1.1 .2-1.1 .3-1 .2-1.1 .2-1 .2-1.1 .1-1.1 .1-1 0-1.1 0-1 0-1.1-.1-1.1-.2-1-.3-1.1-.4-1.1-.5-1-.8-1.1-.9-1-1.3-1.1-1.4-1.1-1.7-1-1.8-1.1-1.9-1-1.7-1.1-1.6-1.1-1.2-1-.8-1.1-.3-1 .1-1.1 .6-1.1 .8-1 1.1-1.1 1-1.1 1-1 .6-1.1 .2-1-.3-1.1-.8-1.1-1.1-1-1.4-1.1-1.2-1-.8-1.1-.2 0 11.9z"/>
<path transform="translate(165.5 101.7)" d="M-24.4 -5.4l-1.1-.4-1-.3-1.1-.3-1-.3-1.1-.3-1.1-.4-1-.3-1.1-.4-1.1-.5-1-.4-1.1-.4-1-.5-1.1-.4-1.1-.4-1-.4-1.1-.4-1-.5-1.1-.5-1.1-.6-1-.7-1.1-.7-1-.7-1.1-.8-1.1-.8-1-.8-1.1-.7-1.1-.7-1-.6-1.1-.4-1-.3-1.1-.1-1.1 .1-1 .2-1.1 .2-1 .3-1.1 .3-1.1 .2-1 .3-1.1 .1-1 .2-1.1 0-1.1 .1-1 0-1.1 0-1 0-1.1-.1-1.1-.2-1-.3-1.1-.3-1.1-.6-1-.7-1.1-1-1-1.2-1.1-1.4-1.1-1.7-1-1.7-1.1-1.9-1-1.8-1.1-1.5-1.1-1.2-1-.9-1.1-.3-1 .2-1.1 .5-1.1 .9-1 1-1.1 1.1-1.1 1-1 .7-1.1 .2-1-.1-1.1-.7-1.1-1-1-1.2-1.1-1.1-1-.8-1.1-.2 0 11.2z"/>
<path transform="translate(165 102.2)" d="M-22.3 -4.9l-1-.5-1.1-.2-1.1-.3-1-.3-1.1-.3-1-.3-1.1-.4-1.1-.4-1-.4-1.1-.4-1.1-.5-1-.5-1.1-.5-1-.5-1.1-.4-1.1-.4-1-.5-1.1-.4-1-.5-1.1-.5-1.1-.6-1-.7-1.1-.8-1-.8-1.1-.7-1.1-.8-1-.8-1.1-.7-1.1-.7-1-.5-1.1-.4-1-.3-1.1 0-1.1 .1-1 .3-1.1 .3-1 .3-1.1 .3-1.1 .3-1 .2-1.1 .1-1 .1-1.1 .1-1.1 0-1 0-1.1 0-1 0-1.1-.1-1.1-.2-1-.2-1.1-.4-1.1-.5-1-.6-1.1-.9-1-1.2-1.1-1.4-1.1-1.6-1-1.7-1.1-1.8-1-1.7-1.1-1.5-1.1-1.3-1-.8-1.1-.3-1 .1-1.1 .5-1.1 .9-1 1-1.1 1.1-1.1 .9-1 .7-1.1 .4-1-.1-1.1-.5-1.1-.9-1-1-1.1-1-1-.7-1.1-.2 0 10.3z"/>
<path transform="translate(164.5 102.7)" d="M-20.2 -4.5l-1-.4-1.1-.3-1-.2-1.1-.3-1.1-.3-1-.3-1.1-.3-1-.4-1.1-.4-1.1-.4-1-.5-1.1-.5-1.1-.6-1-.5-1.1-.6-1-.5-1.1-.5-1.1-.4-1-.5-1.1-.4-1-.5-1.1-.6-1.1-.6-1-.8-1.1-.7-1-.8-1.1-.8-1.1-.8-1-.8-1.1-.7-1.1-.7-1-.5-1.1-.4-1-.1-1.1 0-1.1 .2-1 .3-1.1 .4-1 .4-1.1 .3-1.1 .3-1 .2-1.1 .1-1 .1-1.1 0-1.1 0-1 0-1.1 0-1-.1-1.1 0-1.1-.1-1-.2-1.1-.3-1.1-.5-1-.6-1.1-.8-1-1.1-1.1-1.3-1.1-1.5-1-1.6-1.1-1.7-1-1.6-1.1-1.5-1.1-1.2-1-.7-1.1-.4-1 .1-1.1 .5-1.1 .7-1 1-1.1 .9-1.1 .9-1 .7-1.1 .4-1 0-1.1-.4-1.1-.7-1-.8-1.1-.8-1-.6-1.1-.2 0 9.3z"/>
<path transform="translate(164 103.2)" d="M-18 -4l-1.1-.4-1.1-.3-1-.3-1.1-.2-1-.3-1.1-.3-1.1-.3-1-.4-1.1-.3-1-.4-1.1-.4-1.1-.5-1-.6-1.1-.6-1.1-.6-1-.6-1.1-.6-1-.6-1.1-.6-1.1-.4-1-.5-1.1-.5-1-.5-1.1-.6-1.1-.7-1-.7-1.1-.8-1-.9-1.1-.8-1.1-.8-1-.7-1.1-.8-1-.6-1.1-.5-1.1-.3-1-.2-1.1 .1-1.1 .3-1 .4-1.1 .4-1 .5-1.1 .4-1.1 .3-1 .2-1.1 .1-1 0-1.1 0-1.1 0-1 0-1.1 0-1-.1-1.1 0-1.1-.1-1-.1-1.1-.3-1.1-.3-1-.6-1.1-.7-1-.9-1.1-1.2-1.1-1.3-1-1.6-1.1-1.5-1-1.5-1.1-1.4-1.1-1.1-1-.7-1.1-.4-1 0-1.1 .4-1.1 .7-1 .8-1.1 .9-1.1 .8-1 .6-1.1 .4-1 0-1.1-.2-1.1-.6-1-.6-1.1-.7-1-.4-1.1-.1 0 8.2z"/>
<path transform="translate(163.6 103.8)" d="M-17 -3.8l-1-.4-1.1-.3-1.1-.2-1-.3-1.1-.3-1-.3-1.1-.3-1.1-.4-1-.3-1.1-.4-1-.5-1.1-.5-1.1-.5-1-.6-1.1-.7-1.1-.7-1-.7-1.1-.7-1-.7-1.1-.6-1.1-.5-1-.4-1.1-.5-1-.6-1.1-.6-1.1-.7-1-.8-1.1-.9-1-.8-1.1-.8-1.1-.8-1-.8-1.1-.7-1.1-.6-1-.5-1.1-.3-1-.1-1.1 .2-1.1 .3-1 .5-1.1 .5-1 .5-1.1 .4-1.1 .3-1 .2-1.1 .1-1 0-1.1 0-1.1 0-1-.1-1.1 0-1 0-1.1 0-1.1 0-1-.1-1.1-.2-1.1-.2-1-.5-1.1-.6-1-.8-1.1-1-1.1-1.2-1-1.3-1.1-1.4-1-1.4-1.1-1.2-1.1-1-1-.7-1.1-.4-1 0-1.1 .3-1.1 .5-1 .7-1.1 .8-1.1 .6-1 .6-1.1 .3-1 .1-1.1-.2-1.1-.4-1-.5-1.1-.5-1-.3-1.1 0 0 7.2z"/>
<path transform="translate(163.1 104.3)" d="M-15.9 -3.5l-1.1-.5-1-.2-1.1-.3-1.1-.3-1-.3-1.1-.3-1-.3-1.1-.4-1.1-.3-1-.4-1.1-.5-1-.4-1.1-.6-1.1-.6-1-.8-1.1-.7-1.1-.8-1-.8-1.1-.8-1-.7-1.1-.6-1.1-.6-1-.5-1.1-.5-1-.5-1.1-.7-1.1-.7-1-.8-1.1-.9-1-.9-1.1-.8-1.1-.8-1-.7-1.1-.7-1.1-.6-1-.5-1.1-.2-1-.1-1.1 .2-1.1 .4-1 .5-1.1 .5-1 .5-1.1 .5-1.1 .3-1 .2-1.1 0-1 0-1.1 0-1.1 0-1-.1-1.1 0-1 0-1.1 .1-1.1 0-1 0-1.1-.1-1.1-.1-1-.3-1.1-.5-1-.6-1.1-.8-1.1-1.1-1-1.1-1.1-1.2-1-1.2-1.1-1.1-1.1-.9-1-.7-1.1-.4-1 0-1.1 .2-1.1 .4-1 .5-1.1 .6-1.1 .6-1 .4-1.1 .3-1 0-1.1-.1-1.1-.3-1-.3-1.1-.4-1-.2-1.1 0 0 6.4z"/>
<path transform="translate(162.6 104.8)" d="M-14.9 -3.3l-1-.4-1.1-.3-1-.3-1.1-.3-1.1-.3-1-.3-1.1-.3-1-.4-1.1-.3-1.1-.4-1-.4-1.1-.5-1-.6-1.1-.6-1.1-.7-1-.8-1.1-.9-1.1-.9-1-.9-1.1-.8-1-.8-1.1-.7-1.1-.5-1-.5-1.1-.5-1-.6-1.1-.6-1.1-.8-1-.8-1.1-.9-1-.9-1.1-.8-1.1-.8-1-.7-1.1-.6-1.1-.6-1-.5-1.1-.2-1-.1-1.1 .2-1.1 .4-1 .6-1.1 .5-1 .6-1.1 .4-1.1 .3-1 .1-1.1 .1-1 0-1.1-.1-1.1-.1-1 0-1.1 0-1 .1-1.1 0-1.1 .1-1 .1-1.1 .1-1.1-.1-1-.1-1.1-.3-1-.5-1.1-.6-1.1-.8-1-1-1.1-1-1-1-1.1-1-1.1-.8-1-.6-1.1-.3-1-.2-1.1 .1-1.1 .3-1 .4-1.1 .4-1.1 .4-1 .3-1.1 .2-1 .1-1.1-.1-1.1-.2-1-.3-1.1-.2-1-.1-1.1 0 0 5.7z"/>
<path transform="translate(162.1 105.3)" d="M-13.8 -3.1l-1.1-.4-1-.3-1.1-.3-1-.3-1.1-.3-1.1-.3-1-.3-1.1-.4-1-.3-1.1-.4-1.1-.4-1-.5-1.1-.5-1-.7-1.1-.7-1.1-.8-1-.9-1.1-.9-1.1-1-1-1-1.1-.9-1-.8-1.1-.7-1.1-.6-1-.5-1.1-.5-1-.5-1.1-.6-1.1-.8-1-.9-1.1-.8-1-.9-1.1-.8-1.1-.7-1-.7-1.1-.6-1.1-.5-1-.5-1.1-.2-1-.1-1.1 .2-1.1 .4-1 .5-1.1 .5-1 .5-1.1 .4-1.1 .3-1 .1-1.1 0-1-.1-1.1-.1-1.1 0-1-.1-1.1 .1-1 .1-1.1 .1-1.1 .2-1 .2-1.1 .1-1.1 .1-1 0-1.1-.1-1-.3-1.1-.5-1.1-.6-1-.7-1.1-.8-1-.8-1.1-.8-1.1-.7-1-.6-1.1-.3-1-.2-1.1 0-1.1 .2-1 .2-1.1 .3-1.1 .2-1 .2-1.1 .1-1 0-1.1-.1-1.1-.2-1-.1-1.1-.2-1 0-1.1 0 0 5.2z"/>
<path transform="translate(161.6 105.8)" d="M-12.7 -2.8l-1.1-.4-1.1-.3-1-.3-1.1-.3-1-.3-1.1-.4-1.1-.3-1-.3-1.1-.4-1-.4-1.1-.4-1.1-.4-1-.6-1.1-.6-1-.7-1.1-.7-1.1-.9-1-1-1.1-1.1-1.1-1-1-1.1-1.1-1-1-.8-1.1-.7-1.1-.6-1-.5-1.1-.4-1-.5-1.1-.6-1.1-.8-1-.8-1.1-.8-1-.9-1.1-.7-1.1-.7-1-.6-1.1-.6-1.1-.5-1-.5-1.1-.2-1-.1-1.1 .1-1.1 .4-1 .4-1.1 .5-1 .4-1.1 .3-1.1 .2-1 0-1.1 0-1-.1-1.1-.1-1.1-.1-1 0-1.1 0-1 .2-1.1 .2-1.1 .2-1 .3-1.1 .3-1.1 .2-1 .2-1.1 0-1-.1-1.1-.2-1.1-.4-1-.5-1.1-.7-1-.6-1.1-.6-1.1-.6-1-.5-1.1-.3-1-.2-1.1-.1-1.1 0-1 .1-1.1 .1-1.1 .1-1 0-1.1 0-1 0-1.1-.1-1.1-.1-1-.2-1.1-.1-1 0-1.1 .1 0 4.8z"/>
<path transform="translate(161.1 106.4)" d="M-12.7 -2.8l-1.1-.5-1.1-.3-1-.3-1.1-.3-1-.3-1.1-.3-1.1-.4-1-.4-1.1-.3-1-.4-1.1-.5-1.1-.5-1-.5-1.1-.7-1-.8-1.1-.8-1.1-1-1-1.1-1.1-1.1-1.1-1.2-1-1.1-1.1-1-1-.9-1.1-.7-1.1-.5-1-.4-1.1-.4-1-.5-1.1-.5-1.1-.7-1-.8-1.1-.8-1-.8-1.1-.6-1.1-.7-1-.6-1.1-.5-1.1-.5-1-.5-1.1-.3-1-.1-1.1 .1-1.1 .2-1 .3-1.1 .4-1 .3-1.1 .2-1.1 .1-1-.1-1.1-.1-1-.2-1.1-.1-1.1-.1-1 0-1.1 .1-1 .2-1.1 .2-1.1 .4-1 .4-1.1 .4-1.1 .3-1 .3-1.1 .2-1 .1-1.1 0-1.1-.2-1-.3-1.1-.4-1-.5-1.1-.5-1.1-.4-1-.4-1.1-.4-1-.2-1.1-.1-1.1-.1-1-.1-1.1 0-1.1 0-1-.1-1.1-.1-1-.1-1.1-.1-1.1-.2-1-.1-1.1 0-1 0-1.1 .1 0 4.5z"/>
<path transform="translate(160.7 106.9)" d="M-11.7 -2.6l-1-.4-1.1-.3-1.1-.3-1-.3-1.1-.4-1-.3-1.1-.3-1.1-.4-1-.4-1.1-.4-1-.4-1.1-.5-1.1-.5-1-.6-1.1-.7-1-.9-1.1-.9-1.1-1.1-1-1.1-1.1-1.2-1.1-1.2-1-1.1-1.1-1.1-1-.9-1.1-.6-1.1-.6-1-.3-1.1-.4-1-.3-1.1-.5-1.1-.6-1-.7-1.1-.7-1-.7-1.1-.7-1.1-.5-1-.6-1.1-.5-1-.5-1.1-.5-1.1-.3-1-.2-1.1-.1-1.1 .1-1 .2-1.1 .2-1 .2-1.1 0-1.1 0-1-.2-1.1-.2-1-.3-1.1-.1-1.1-.2-1 0-1.1 .1-1 .3-1.1 .3-1.1 .5-1 .5-1.1 .5-1.1 .5-1 .5-1.1 .3-1 .3-1.1 .2-1.1 0-1-.1-1.1-.3-1-.3-1.1-.3-1.1-.4-1-.3-1.1-.3-1-.2-1.1-.3-1.1-.1-1-.2-1.1-.1-1.1-.2-1-.1-1.1-.2-1-.2-1.1-.1-1.1-.2-1-.1-1.1 0-1 0-1.1 .1 0 4.3z"/>
<path transform="translate(160.2 107.4)" d="M-11.7 -2.6l-1-.4-1.1-.3-1.1-.4-1-.3-1.1-.3-1-.4-1.1-.3-1.1-.4-1-.4-1.1-.4-1-.5-1.1-.5-1.1-.6-1-.6-1.1-.8-1-.8-1.1-1-1.1-1.1-1-1.2-1.1-1.3-1.1-1.2-1-1.2-1.1-1-1-.9-1.1-.6-1.1-.5-1-.3-1.1-.3-1-.2-1.1-.4-1.1-.5-1-.6-1.1-.7-1-.6-1.1-.6-1.1-.5-1-.5-1.1-.5-1-.5-1.1-.5-1.1-.4-1-.3-1.1-.2-1.1-.1-1 0-1.1 0-1 0-1.1-.2-1.1-.2-1-.3-1.1-.3-1-.3-1.1-.2-1.1-.2-1 0-1.1 .2-1 .3-1.1 .4-1.1 .5-1 .6-1.1 .7-1.1 .6-1 .6-1.1 .6-1 .4-1.1 .3-1.1 .2-1 .1-1.1 0-1-.2-1.1-.2-1.1-.2-1-.3-1.1-.3-1-.2-1.1-.3-1.1-.2-1-.2-1.1-.3-1.1-.2-1-.3-1.1-.2-1-.2-1.1-.2-1.1-.2-1-.1-1.1-.1-1 .1-1.1 0 0 4.2z"/>
<path transform="translate(159.7 107.9)" d="M-10.6 -2.3l-1.1-.5-1-.3-1.1-.3-1.1-.3-1-.3-1.1-.4-1-.3-1.1-.4-1.1-.4-1-.4-1.1-.5-1-.5-1.1-.5-1.1-.6-1-.7-1.1-.8-1-.9-1.1-1-1.1-1.2-1-1.2-1.1-1.2-1.1-1.3-1-1.1-1.1-1.1-1-.8-1.1-.6-1.1-.4-1-.2-1.1-.2-1-.2-1.1-.3-1.1-.4-1-.5-1.1-.5-1-.5-1.1-.5-1.1-.5-1-.5-1.1-.5-1.1-.5-1-.5-1.1-.6-1-.4-1.1-.4-1.1-.3-1-.2-1.1-.2-1-.3-1.1-.3-1.1-.4-1-.4-1.1-.5-1-.4-1.1-.2-1.1-.2-1 0-1.1 .2-1 .3-1.1 .5-1.1 .7-1 .7-1.1 .8-1.1 .7-1 .8-1.1 .7-1 .6-1.1 .5-1.1 .3-1 .3-1.1 .1-1 0-1.1-.1-1.1-.2-1-.2-1.1-.2-1-.2-1.1-.3-1.1-.3-1-.3-1.1-.3-1.1-.3-1-.3-1.1-.3-1-.3-1.1-.2-1.1-.2-1-.1-1.1-.1-1 0-1.1 .1 0 4z"/>
<path transform="translate(159.2 108.4)" d="M-10.6 -2.3l-1.1-.5-1-.3-1.1-.3-1.1-.3-1-.4-1.1-.3-1-.4-1.1-.4-1.1-.4-1-.5-1.1-.4-1-.5-1.1-.6-1.1-.6-1-.7-1.1-.8-1-.9-1.1-1.1-1.1-1.2-1-1.2-1.1-1.3-1.1-1.2-1-1.1-1.1-1-1-.7-1.1-.6-1.1-.3-1-.2-1.1-.1-1-.1-1.1-.1-1.1-.3-1-.4-1.1-.5-1-.4-1.1-.4-1.1-.5-1-.4-1.1-.5-1.1-.6-1-.6-1.1-.7-1-.6-1.1-.5-1.1-.5-1-.5-1.1-.4-1-.5-1.1-.6-1.1-.6-1-.6-1.1-.5-1-.5-1.1-.3-1.1-.2-1 0-1.1 .2-1 .4-1.1 .6-1.1 .7-1 .8-1.1 .9-1.1 .9-1 .9-1.1 .9-1 .7-1.1 .7-1.1 .5-1 .4-1.1 .2-1 .1-1.1 .1-1.1-.1-1-.1-1.1-.2-1-.3-1.1-.2-1.1-.4-1-.3-1.1-.3-1.1-.4-1-.3-1.1-.4-1-.3-1.1-.2-1.1-.2-1-.2-1.1 0-1 0-1.1 0 0 3.8z"/>
<path transform="translate(158.7 109)" d="M-10.6 -2.3l-1.1-.5-1-.3-1.1-.3-1.1-.4-1-.3-1.1-.4-1-.4-1.1-.4-1.1-.4-1-.5-1.1-.4-1-.5-1.1-.6-1.1-.6-1-.8-1.1-.8-1-.9-1.1-1.1-1.1-1.2-1-1.2-1.1-1.2-1.1-1.2-1-1-1.1-1-1-.7-1.1-.4-1.1-.3-1-.1-1.1 0-1 0-1.1-.1-1.1-.2-1-.2-1.1-.4-1-.4-1.1-.4-1.1-.4-1-.4-1.1-.6-1.1-.6-1-.7-1.1-.8-1-.7-1.1-.8-1.1-.7-1-.7-1.1-.7-1-.7-1.1-.8-1.1-.8-1-.7-1.1-.7-1-.6-1.1-.3-1.1-.2-1 0-1.1 .2-1 .5-1.1 .6-1.1 .8-1 1-1.1 1-1.1 1-1 1-1.1 1-1 .9-1.1 .7-1.1 .7-1 .5-1.1 .4-1 .2-1.1 .1-1.1 .1-1-.1-1.1-.2-1-.2-1.1-.3-1.1-.3-1-.3-1.1-.4-1.1-.4-1-.4-1.1-.3-1-.3-1.1-.3-1.1-.2-1-.2-1.1-.1-1 0-1.1 .1 0 3.5z"/>
<path transform="translate(158.2 109.5)" d="M-9.5 -2.1l-1.1-.4-1.1-.3-1-.3-1.1-.4-1.1-.3-1-.4-1.1-.3-1-.4-1.1-.4-1.1-.5-1-.4-1.1-.5-1-.6-1.1-.5-1.1-.7-1-.7-1.1-.8-1-1-1.1-1-1.1-1.1-1-1.2-1.1-1.2-1.1-1.1-1-1-1.1-.8-1-.6-1.1-.5-1.1-.1-1-.1-1.1 .1-1 .1-1.1 0-1.1-.1-1-.2-1.1-.3-1-.3-1.1-.4-1.1-.4-1-.5-1.1-.5-1.1-.7-1-.8-1.1-.9-1-.9-1.1-1-1.1-.9-1-1-1.1-.9-1-1-1.1-.9-1.1-1-1-.9-1.1-.8-1-.6-1.1-.5-1.1-.2-1 .1-1.1 .2-1 .5-1.1 .7-1.1 .9-1 1-1.1 1.1-1.1 1.2-1 1.1-1.1 1.1-1 1-1.1 .9-1.1 .8-1 .6-1.1 .5-1 .3-1.1 .2-1.1 .1-1 0-1.1-.1-1-.2-1.1-.3-1.1-.3-1-.3-1.1-.4-1.1-.4-1-.4-1.1-.3-1-.4-1.1-.3-1.1-.2-1-.2-1.1-.1-1 0-1.1 0 0 3.3z"/>
<path transform="translate(157.8 110)" d="M-9.5 -2.1l-1.1-.4-1.1-.3-1-.4-1.1-.3-1.1-.3-1-.4-1.1-.4-1-.4-1.1-.4-1.1-.4-1-.5-1.1-.5-1-.5-1.1-.6-1.1-.6-1-.8-1.1-.8-1-.9-1.1-1-1.1-1-1-1.2-1.1-1.1-1.1-1-1-.9-1.1-.8-1-.5-1.1-.4-1.1-.1-1 0-1.1 .1-1 .2-1.1 .1-1.1-.1-1-.1-1.1-.2-1-.3-1.1-.4-1.1-.4-1-.5-1.1-.6-1.1-.8-1-.9-1.1-1-1-1-1.1-1.2-1.1-1.1-1-1.2-1.1-1.1-1-1.2-1.1-1.2-1.1-1.1-1-1-1.1-.9-1-.7-1.1-.5-1.1-.3-1 .1-1.1 .3-1 .5-1.1 .8-1.1 .9-1 1.1-1.1 1.2-1.1 1.3-1 1.2-1.1 1.2-1 1.1-1.1 1-1.1 .8-1 .8-1.1 .5-1 .5-1.1 .2-1.1 .2-1 0-1.1 0-1-.2-1.1-.2-1.1-.3-1-.4-1.1-.3-1.1-.4-1-.4-1.1-.4-1-.3-1.1-.3-1.1-.2-1-.2-1.1-.1-1-.1-1.1 0 0 3z"/>
<path transform="translate(157.3 110.5)" d="M-9.5 -2.1l-1.1-.5-1.1-.2-1-.4-1.1-.3-1.1-.3-1-.4-1.1-.4-1-.4-1.1-.4-1.1-.5-1-.4-1.1-.5-1-.6-1.1-.5-1.1-.7-1-.7-1.1-.7-1-.9-1.1-1-1.1-1-1-1-1.1-1-1.1-.9-1-.9-1.1-.6-1-.5-1.1-.3-1.1-.1-1 .1-1.1 .1-1 .2-1.1 .1-1.1 0-1-.1-1.1-.1-1-.3-1.1-.4-1.1-.4-1-.5-1.1-.7-1.1-.9-1-1-1.1-1.1-1-1.2-1.1-1.3-1.1-1.3-1-1.3-1.1-1.4-1-1.4-1.1-1.3-1.1-1.3-1-1.1-1.1-1-1-.8-1.1-.5-1.1-.3-1 .1-1.1 .3-1 .6-1.1 .8-1.1 1-1 1.2-1.1 1.2-1.1 1.3-1 1.4-1.1 1.2-1 1.2-1.1 1.1-1.1 .9-1 .8-1.1 .7-1 .5-1.1 .3-1.1 .2-1 .1-1.1 0-1-.1-1.1-.2-1.1-.3-1-.3-1.1-.4-1.1-.4-1-.3-1.1-.4-1-.3-1.1-.3-1.1-.3-1-.1-1.1-.2-1 0-1.1-.1 0 2.7z"/>
<path transform="translate(156.8 111)" d="M-9.5 -2.1l-1.1-.5-1.1-.3-1-.3-1.1-.3-1.1-.3-1-.4-1.1-.4-1-.4-1.1-.4-1.1-.5-1-.5-1.1-.4-1-.6-1.1-.5-1.1-.6-1-.7-1.1-.8-1-.8-1.1-.8-1.1-1-1-.9-1.1-.9-1.1-.9-1-.7-1.1-.6-1-.4-1.1-.2-1.1-.1-1 .1-1.1 .1-1 .2-1.1 .2-1.1 0-1 0-1.1-.2-1-.3-1.1-.3-1.1-.5-1-.6-1.1-.8-1.1-.9-1-1-1.1-1.2-1-1.4-1.1-1.4-1.1-1.5-1-1.5-1.1-1.5-1-1.5-1.1-1.5-1.1-1.4-1-1.2-1.1-1.1-1-.8-1.1-.6-1.1-.2-1 0-1.1 .3-1 .6-1.1 .9-1.1 1.1-1 1.2-1.1 1.3-1.1 1.4-1 1.3-1.1 1.4-1 1.2-1.1 1.2-1.1 1-1 .8-1.1 .7-1 .6-1.1 .4-1.1 .2-1 .2-1.1 0-1-.1-1.1-.2-1.1-.2-1-.3-1.1-.4-1.1-.3-1-.4-1.1-.3-1-.4-1.1-.2-1.1-.3-1-.2-1.1-.1-1-.1-1.1-.1 0 2.4z"/>
<path transform="translate(156.3 111.6)" d="M-9.5 -2.1l-1.1-.5-1.1-.2-1-.4-1.1-.3-1.1-.3-1-.4-1.1-.4-1-.4-1.1-.4-1.1-.5-1-.4-1.1-.5-1-.5-1.1-.6-1.1-.6-1-.6-1.1-.7-1-.8-1.1-.8-1.1-.8-1-.8-1.1-.8-1.1-.8-1-.6-1.1-.5-1-.4-1.1-.2-1.1 0-1 0-1.1 .2-1 .2-1.1 .1-1.1 .1-1-.1-1.1-.1-1-.3-1.1-.4-1.1-.5-1-.7-1.1-.8-1.1-1-1-1.1-1.1-1.3-1-1.4-1.1-1.5-1.1-1.6-1-1.7-1.1-1.6-1-1.7-1.1-1.6-1.1-1.4-1-1.3-1.1-1.2-1-.8-1.1-.6-1.1-.3-1 .1-1.1 .3-1 .6-1.1 .9-1.1 1.1-1 1.3-1.1 1.3-1.1 1.4-1 1.5-1.1 1.3-1 1.3-1.1 1.2-1.1 1.1-1 .9-1.1 .7-1 .6-1.1 .4-1.1 .3-1 .2-1.1 0-1 0-1.1-.2-1.1-.2-1-.3-1.1-.3-1.1-.3-1-.4-1.1-.3-1-.3-1.1-.3-1.1-.2-1-.2-1.1-.2-1-.1-1.1-.1 0 2.1z"/>
<path transform="translate(155.8 112.1)" d="M-9.5 -2.1l-1.1-.4-1.1-.3-1-.4-1.1-.3-1.1-.3-1-.4-1.1-.4-1-.4-1.1-.4-1.1-.4-1-.5-1.1-.5-1-.5-1.1-.5-1.1-.6-1-.6-1.1-.6-1-.7-1.1-.7-1.1-.8-1-.7-1.1-.7-1.1-.7-1-.5-1.1-.5-1-.3-1.1-.1-1.1-.1-1 .1-1.1 .1-1 .2-1.1 .1-1.1 0-1 0-1.1-.2-1-.3-1.1-.4-1.1-.6-1-.7-1.1-.8-1.1-1-1-1.2-1.1-1.4-1-1.5-1.1-1.6-1.1-1.7-1-1.7-1.1-1.7-1-1.8-1.1-1.6-1.1-1.6-1-1.3-1.1-1.2-1-.9-1.1-.6-1.1-.2-1 0-1.1 .3-1 .7-1.1 .9-1.1 1.1-1 1.3-1.1 1.3-1.1 1.5-1 1.4-1.1 1.4-1 1.3-1.1 1.2-1.1 1.1-1 1-1.1 .7-1 .6-1.1 .5-1.1 .3-1 .2-1.1 .1-1-.1-1.1-.1-1.1-.2-1-.2-1.1-.3-1.1-.3-1-.3-1.1-.4-1-.2-1.1-.3-1.1-.3-1-.2-1.1-.1-1-.2-1.1-.1 0 1.8z"/>
<path transform="translate(155.3 112.6)" d="M-9.5 -2.1l-1.1-.4-1.1-.3-1-.3-1.1-.4-1.1-.3-1-.4-1.1-.3-1-.4-1.1-.4-1.1-.5-1-.4-1.1-.5-1-.5-1.1-.5-1.1-.5-1-.6-1.1-.6-1-.6-1.1-.6-1.1-.7-1-.7-1.1-.6-1.1-.5-1-.5-1.1-.4-1-.3-1.1-.1-1.1-.1-1 .1-1.1 .1-1 .1-1.1 .1-1.1 0-1-.1-1.1-.2-1-.3-1.1-.4-1.1-.6-1-.8-1.1-.9-1.1-1-1-1.2-1.1-1.4-1-1.6-1.1-1.6-1.1-1.7-1-1.8-1.1-1.8-1-1.8-1.1-1.7-1.1-1.6-1-1.4-1.1-1.1-1-.9-1.1-.6-1.1-.3-1 0-1.1 .3-1 .7-1.1 .9-1.1 1.1-1 1.3-1.1 1.3-1.1 1.5-1 1.4-1.1 1.4-1 1.3-1.1 1.3-1.1 1.1-1 .9-1.1 .8-1 .6-1.1 .5-1.1 .3-1 .2-1.1 .1-1 0-1.1-.1-1.1-.2-1-.2-1.1-.3-1.1-.3-1-.2-1.1-.3-1-.3-1.1-.3-1.1-.2-1-.2-1.1-.2-1-.2-1.1-.1 0 1.5z"/>
<path transform="translate(154.9 113.1)" d="M-10.6 -2.3l-1.1-.5-1-.3-1.1-.3-1.1-.4-1-.3-1.1-.4-1-.4-1.1-.4-1.1-.4-1-.4-1.1-.5-1-.5-1.1-.4-1.1-.5-1-.6-1.1-.5-1-.6-1.1-.5-1.1-.6-1-.6-1.1-.5-1.1-.5-1-.4-1.1-.4-1-.2-1.1-.1-1.1-.1-1 0-1.1 .1-1 .1-1.1 0-1.1 0-1-.1-1.1-.3-1-.3-1.1-.5-1.1-.6-1-.7-1.1-1-1.1-1.1-1-1.2-1.1-1.4-1-1.6-1.1-1.6-1.1-1.8-1-1.8-1.1-1.8-1-1.8-1.1-1.7-1.1-1.6-1-1.4-1.1-1.1-1-.9-1.1-.7-1.1-.2-1 0-1.1 .3-1 .6-1.1 .9-1.1 1.1-1 1.3-1.1 1.3-1.1 1.4-1 1.5-1.1 1.4-1 1.3-1.1 1.2-1.1 1.1-1 .9-1.1 .8-1 .6-1.1 .5-1.1 .3-1 .2-1.1 .1-1 0-1.1 0-1.1-.2-1-.2-1.1-.2-1.1-.3-1-.3-1.1-.3-1-.2-1.1-.3-1.1-.2-1-.2-1.1-.2-1-.2-1.1-.1 0 1.2z"/>
<path transform="translate(154.4 113.6)" d="M-10.6 -2.3l-1.1-.5-1-.3-1.1-.3-1.1-.3-1-.4-1.1-.3-1-.4-1.1-.4-1.1-.4-1-.4-1.1-.5-1-.4-1.1-.5-1.1-.4-1-.5-1.1-.5-1-.5-1.1-.5-1.1-.6-1-.4-1.1-.5-1.1-.4-1-.4-1.1-.3-1-.2-1.1-.1-1.1-.1-1 0-1.1 0-1 0-1.1 0-1.1 0-1-.2-1.1-.2-1-.4-1.1-.5-1.1-.6-1-.8-1.1-1-1-1-1.1-1.3-1.1-1.4-1-1.5-1.1-1.7-1.1-1.7-1-1.8-1.1-1.8-1-1.8-1.1-1.7-1.1-1.6-1-1.3-1.1-1.2-1-.9-1.1-.6-1.1-.3-1 0-1.1 .3-1 .7-1.1 .8-1.1 1.1-1 1.2-1.1 1.3-1.1 1.4-1 1.4-1.1 1.3-1 1.3-1.1 1.2-1.1 1-1 .9-1.1 .8-1 .6-1.1 .5-1.1 .3-1 .2-1.1 .2-1 0-1.1-.1-1.1-.1-1-.2-1.1-.2-1.1-.3-1-.2-1.1-.3-1-.3-1.1-.2-1.1-.3-1-.2-1.1-.2-1-.1-1.1-.2 0 1z"/>
<path transform="translate(153.9 114.2)" d="M-10.6 -2.3l-1.1-.5-1-.3-1.1-.3-1.1-.3-1-.3-1.1-.4-1-.3-1.1-.4-1.1-.4-1-.4-1.1-.4-1-.5-1.1-.4-1.1-.4-1-.5-1.1-.4-1-.5-1.1-.4-1.1-.5-1-.4-1.1-.4-1.1-.4-1-.3-1.1-.3-1-.2-1.1-.1-1.1-.1-1 0-1.1-.1-1 0-1.1 0-1.1-.1-1-.2-1.1-.3-1-.4-1.1-.5-1.1-.7-1-.7-1.1-1-1-1.1-1.1-1.2-1.1-1.4-1-1.5-1.1-1.6-1.1-1.7-1-1.8-1.1-1.7-1-1.8-1.1-1.6-1.1-1.5-1-1.4-1.1-1.1-1-.9-1.1-.6-1.1-.3-1 0-1.1 .3-1 .6-1.1 .8-1.1 1-1 1.2-1.1 1.3-1.1 1.3-1 1.3-1.1 1.3-1 1.2-1.1 1.2-1.1 1-1 .9-1.1 .7-1 .6-1.1 .4-1.1 .4-1 .2-1.1 .1-1 0-1.1-.1-1.1-.1-1-.2-1.1-.2-1.1-.2-1-.2-1.1-.3-1-.2-1.1-.3-1.1-.2-1-.2-1.1-.2-1-.2-1.1-.2 0 .8z"/>
<path transform="translate(153.4 114.7)" d="M-11.7 -2.6l-1-.4-1.1-.3-1.1-.4-1-.3-1.1-.3-1-.4-1.1-.3-1.1-.4-1-.4-1.1-.4-1-.4-1.1-.4-1.1-.4-1-.4-1.1-.4-1-.5-1.1-.4-1.1-.4-1-.3-1.1-.4-1.1-.3-1-.3-1.1-.2-1-.2-1.1-.2-1.1-.1-1-.1-1.1 0-1-.1-1.1-.1-1.1-.1-1-.3-1.1-.3-1-.4-1.1-.5-1.1-.6-1-.8-1.1-.9-1.1-1.1-1-1.2-1.1-1.3-1-1.5-1.1-1.5-1.1-1.7-1-1.7-1.1-1.7-1-1.7-1.1-1.6-1.1-1.5-1-1.3-1.1-1.1-1-.8-1.1-.6-1.1-.3-1 0-1.1 .3-1 .5-1.1 .8-1.1 1-1 1.1-1.1 1.2-1.1 1.2-1 1.3-1.1 1.2-1 1.2-1.1 1-1.1 1-1 .8-1.1 .7-1 .6-1.1 .4-1.1 .3-1 .2-1.1 .1-1 0-1.1 0-1.1-.2-1-.1-1.1-.2-1.1-.2-1-.3-1.1-.2-1-.2-1.1-.3-1.1-.2-1-.2-1.1-.2-1-.2-1.1-.2 0 .6z"/>
<path transform="translate(152.9 115.2)" d="M-11.7 -2.6l-1-.4-1.1-.3-1.1-.3-1-.3-1.1-.4-1-.3-1.1-.3-1.1-.4-1-.4-1.1-.3-1-.4-1.1-.4-1.1-.4-1-.4-1.1-.4-1-.3-1.1-.4-1.1-.4-1-.3-1.1-.3-1.1-.3-1-.3-1.1-.2-1-.2-1.1-.2-1.1-.1-1-.1-1.1-.1-1-.1-1.1-.1-1.1-.2-1-.2-1.1-.4-1-.4-1.1-.5-1.1-.7-1-.7-1.1-.9-1.1-1-1-1.2-1.1-1.2-1-1.4-1.1-1.5-1.1-1.6-1-1.6-1.1-1.7-1-1.6-1.1-1.5-1.1-1.4-1-1.3-1.1-1-1-.8-1.1-.6-1.1-.3-1 0-1.1 .3-1 .5-1.1 .7-1.1 .9-1 1-1.1 1.1-1.1 1.2-1 1.1-1.1 1.2-1 1.1-1.1 1-1.1 .8-1 .8-1.1 .7-1 .5-1.1 .4-1.1 .3-1 .1-1.1 .1-1 0-1.1 0-1.1-.1-1-.2-1.1-.2-1.1-.2-1-.2-1.1-.3-1-.2-1.1-.2-1.1-.2-1-.3-1.1-.2-1-.2-1.1-.2 0 .5z"/>
<path transform="translate(152.4 115.7)" d="M-12.7 -2.8l-1.1-.5-1.1-.3-1-.3-1.1-.3-1-.3-1.1-.3-1.1-.4-1-.3-1.1-.4-1-.4-1.1-.3-1.1-.4-1-.3-1.1-.4-1-.3-1.1-.4-1.1-.3-1-.3-1.1-.3-1.1-.3-1-.2-1.1-.2-1-.2-1.1-.2-1.1-.1-1-.2-1.1-.1-1-.1-1.1-.2-1.1-.2-1-.3-1.1-.3-1-.4-1.1-.6-1.1-.6-1-.7-1.1-.9-1.1-.9-1-1.1-1.1-1.3-1-1.3-1.1-1.4-1.1-1.5-1-1.5-1.1-1.6-1-1.5-1.1-1.4-1.1-1.3-1-1.2-1.1-1-1-.8-1.1-.5-1.1-.3-1 0-1.1 .2-1 .4-1.1 .7-1.1 .8-1 .9-1.1 1-1.1 1.1-1 1.1-1.1 1-1 1-1.1 .9-1.1 .9-1 .7-1.1 .5-1 .5-1.1 .4-1.1 .2-1 .2-1.1 0-1 0-1.1 0-1.1-.1-1-.2-1.1-.2-1.1-.2-1-.2-1.1-.2-1-.3-1.1-.2-1.1-.2-1-.2-1.1-.3-1-.2-1.1-.2 0 .4z"/>
<path transform="translate(152 116.3)" d="M-12.7 -2.8l-1.1-.4-1.1-.3-1-.3-1.1-.3-1-.3-1.1-.4-1.1-.3-1-.3-1.1-.4-1-.3-1.1-.3-1.1-.4-1-.3-1.1-.3-1-.4-1.1-.3-1.1-.3-1-.3-1.1-.3-1.1-.2-1-.2-1.1-.2-1-.2-1.1-.2-1.1-.2-1-.1-1.1-.2-1-.2-1.1-.1-1.1-.3-1-.3-1.1-.3-1-.4-1.1-.5-1.1-.6-1-.7-1.1-.8-1.1-1-1-1-1.1-1.1-1-1.3-1.1-1.3-1.1-1.4-1-1.4-1.1-1.5-1-1.4-1.1-1.3-1.1-1.3-1-1.1-1.1-.9-1-.8-1.1-.5-1.1-.2-1-.1-1.1 .2-1 .4-1.1 .5-1.1 .8-1 .8-1.1 .9-1.1 1-1 1-1.1 .9-1 .9-1.1 .9-1.1 .7-1 .6-1.1 .5-1 .4-1.1 .4-1.1 .2-1 .1-1.1 .1-1-.1-1.1 0-1.1-.1-1-.2-1.1-.2-1.1-.2-1-.2-1.1-.2-1-.2-1.1-.3-1.1-.2-1-.2-1.1-.2-1-.3-1.1-.2 0 .3z"/>
<path transform="translate(151.5 116.8)" d="M-13.8 -3.1l-1.1-.4-1-.3-1.1-.3-1-.3-1.1-.3-1.1-.3-1-.3-1.1-.3-1-.3-1.1-.4-1.1-.3-1-.3-1.1-.3-1-.3-1.1-.3-1.1-.3-1-.3-1.1-.2-1.1-.3-1-.2-1.1-.2-1-.2-1.1-.2-1.1-.2-1-.1-1.1-.2-1-.2-1.1-.2-1.1-.3-1-.3-1.1-.3-1-.4-1.1-.5-1.1-.6-1-.7-1.1-.7-1.1-.9-1-1-1.1-1-1-1.2-1.1-1.2-1.1-1.3-1-1.3-1.1-1.3-1-1.4-1.1-1.2-1.1-1.2-1-1-1.1-.9-1-.6-1.1-.5-1.1-.3-1-.1-1.1 .2-1 .3-1.1 .5-1.1 .6-1 .8-1.1 .8-1.1 .9-1 .8-1.1 .9-1 .8-1.1 .7-1.1 .6-1 .6-1.1 .4-1 .4-1.1 .3-1.1 .1-1 .1-1.1 .1-1-.1-1.1 0-1.1-.2-1-.1-1.1-.2-1.1-.2-1-.2-1.1-.2-1-.3-1.1-.2-1.1-.2-1-.2-1.1-.3-1-.2-1.1-.2 0 .2z"/>
<path transform="translate(151 117.3)" d="M-14.9 -3.3l-1-.4-1.1-.3-1-.3-1.1-.3-1.1-.3-1-.3-1.1-.3-1-.3-1.1-.3-1.1-.3-1-.3-1.1-.3-1-.3-1.1-.3-1.1-.3-1-.2-1.1-.3-1.1-.2-1-.2-1.1-.2-1-.2-1.1-.2-1.1-.2-1-.2-1.1-.2-1-.2-1.1-.2-1.1-.3-1-.3-1.1-.4-1-.4-1.1-.4-1.1-.6-1-.6-1.1-.7-1-.8-1.1-.9-1.1-1-1-1.1-1.1-1.1-1.1-1.2-1-1.2-1.1-1.2-1-1.2-1.1-1.2-1.1-1-1-1-1.1-.8-1-.6-1.1-.5-1.1-.3-1 0-1.1 .1-1 .2-1.1 .5-1.1 .5-1 .7-1.1 .7-1.1 .7-1 .8-1.1 .7-1 .7-1.1 .6-1.1 .6-1 .5-1.1 .4-1 .3-1.1 .2-1.1 .1-1 .1-1.1 0-1-.1-1.1-.1-1.1-.1-1-.2-1.1-.1-1.1-.2-1-.2-1.1-.3-1-.2-1.1-.2-1.1-.2-1-.1z"/>
<path transform="translate(150.5 117.8)" d="M-15.9 -3.5l-1.1-.5-1-.2-1.1-.3-1.1-.3-1-.3-1.1-.3-1-.3-1.1-.3-1.1-.3-1-.3-1.1-.2-1-.3-1.1-.3-1.1-.3-1-.2-1.1-.3-1.1-.2-1-.2-1.1-.2-1-.2-1.1-.2-1.1-.2-1-.2-1.1-.2-1-.3-1.1-.2-1.1-.3-1-.3-1.1-.3-1-.4-1.1-.5-1.1-.5-1-.6-1.1-.6-1.1-.8-1-.8-1.1-.9-1-.9-1.1-1.1-1.1-1.1-1-1.1-1.1-1.1-1-1.1-1.1-1-1.1-1-1-.9-1.1-.7-1-.6-1.1-.4-1.1-.3-1-.1-1.1 .1-1 .2-1.1 .3-1.1 .5-1 .5-1.1 .7-1.1 .6-1 .6-1.1 .7-1 .6-1.1 .5-1.1 .5-1 .3-1.1 .4-1 .2-1.1 .2-1.1 .1-1 0-1.1 0-1-.1-1.1-.1-1.1-.1-1-.2-1.1-.2-1.1-.2-1 0z"/>
<path transform="translate(150 118.3)" d="M-17 -3.8l-1-.4-1.1-.3-1.1-.2-1-.3-1.1-.3-1-.3-1.1-.3-1.1-.2-1-.3-1.1-.3-1-.3-1.1-.2-1.1-.3-1-.2-1.1-.3-1.1-.2-1-.2-1.1-.2-1-.3-1.1-.2-1.1-.2-1-.2-1.1-.2-1-.2-1.1-.3-1.1-.2-1-.3-1.1-.4-1-.4-1.1-.4-1.1-.5-1-.5-1.1-.6-1.1-.7-1-.8-1.1-.8-1-.9-1.1-.9-1.1-1-1-1-1.1-1-1-1-1.1-.9-1.1-.9-1-.8-1.1-.7-1-.5-1.1-.4-1.1-.3-1-.1-1.1 0-1 .2-1.1 .3-1.1 .3-1 .5-1.1 .5-1.1 .5-1 .6-1.1 .5-1 .5-1.1 .4-1.1 .4-1 .3-1.1 .3-1 .1-1.1 .2-1.1 0-1 0-1.1 0-1-.1-1.1-.1-1.1-.2-1-.1-1.1-.2-1.1-.1z"/>
<path transform="translate(149.5 118.9)" d="M-18 -4l-1.1-.4-1.1-.3-1-.3-1.1-.2-1-.3-1.1-.3-1.1-.2-1-.3-1.1-.3-1-.2-1.1-.3-1.1-.2-1-.3-1.1-.2-1.1-.2-1-.3-1.1-.2-1-.2-1.1-.2-1.1-.2-1-.3-1.1-.2-1-.2-1.1-.3-1.1-.2-1-.3-1.1-.4-1-.3-1.1-.4-1.1-.5-1-.5-1.1-.6-1.1-.6-1-.7-1.1-.7-1-.8-1.1-.8-1.1-.9-1-.9-1.1-.9-1-.9-1.1-.9-1.1-.8-1-.7-1.1-.6-1-.5-1.1-.4-1.1-.3-1-.1-1.1 0-1 .1-1.1 .2-1.1 .3-1 .4-1.1 .4-1.1 .4-1 .5-1.1 .4-1 .4-1.1 .3-1.1 .3-1 .3-1.1 .1-1 .2-1.1 0-1.1 .1-1-.1-1.1 0-1-.1-1.1-.2-1.1-.1-1-.2-1.1-.1z"/>
<path transform="translate(149.1 119.4)" d="M-20.2 -4.5l-1-.4-1.1-.3-1-.2-1.1-.3-1.1-.2-1-.3-1.1-.3-1-.2-1.1-.3-1.1-.2-1-.3-1.1-.2-1.1-.2-1-.2-1.1-.3-1-.2-1.1-.2-1.1-.2-1-.3-1.1-.2-1-.2-1.1-.3-1.1-.3-1-.2-1.1-.4-1-.3-1.1-.4-1.1-.4-1-.5-1.1-.5-1.1-.6-1-.6-1.1-.7-1-.7-1.1-.7-1.1-.8-1-.8-1.1-.8-1-.8-1.1-.8-1.1-.7-1-.7-1.1-.5-1-.5-1.1-.4-1.1-.2-1-.2-1.1 0-1 0-1.1 .2-1.1 .2-1 .3-1.1 .3-1.1 .4-1 .3-1.1 .3-1 .3-1.1 .3-1.1 .2-1 .2-1.1 .1-1 .1-1.1 0-1.1 0-1-.1-1.1 0-1-.2-1.1-.1-1.1-.2-1 0z"/>
<path transform="translate(148.6 119.9)" d="M-22.3 -4.9l-1-.5-1.1-.2-1.1-.3-1-.2-1.1-.3-1-.2-1.1-.3-1.1-.2-1-.3-1.1-.2-1.1-.2-1-.3-1.1-.2-1-.2-1.1-.2-1.1-.3-1-.2-1.1-.2-1-.3-1.1-.2-1.1-.3-1-.3-1.1-.3-1-.3-1.1-.4-1.1-.4-1-.4-1.1-.5-1.1-.5-1-.6-1.1-.6-1-.6-1.1-.7-1.1-.7-1-.7-1.1-.7-1-.7-1.1-.7-1.1-.7-1-.5-1.1-.6-1-.4-1.1-.3-1.1-.3-1-.2-1.1 0-1 0-1.1 .1-1.1 .1-1 .2-1.1 .3-1.1 .2-1 .3-1.1 .2-1 .2-1.1 .2-1.1 .2-1 .1-1.1 .1-1 0-1.1 0-1.1-.1-1-.1-1.1-.1-1-.1-1.1-.2-1.1 0z"/>
<path transform="translate(148.1 120.4)" d="M-25.5 -5.6l-1-.5-1.1-.2-1-.3-1.1-.2-1.1-.2-1-.3-1.1-.2-1.1-.2-1-.3-1.1-.2-1-.2-1.1-.3-1.1-.2-1-.2-1.1-.3-1-.2-1.1-.3-1.1-.2-1-.3-1.1-.3-1-.3-1.1-.4-1.1-.3-1-.4-1.1-.5-1-.4-1.1-.5-1.1-.6-1-.6-1.1-.6-1.1-.6-1-.6-1.1-.7-1-.6-1.1-.6-1.1-.6-1-.5-1.1-.5-1-.4-1.1-.3-1.1-.3-1-.2-1.1-.1-1 0-1.1 .1-1.1 0-1 .2-1.1 .1-1.1 .2-1 .2-1.1 .1-1 .2-1.1 .1-1.1 .1-1 .1-1.1 0-1 0-1.1-.1-1.1-.1-1-.1-1.1-.1-1-.2-1.1-.1-1.1-.1z"/>
<path transform="translate(147.6 120.9)" d="M-43.5 -9.6l-1.1-.5-1-.2-1.1-.3-1-.3-1.1-.4-1.1-.3-1-.4-1.1-.4-1-.4-1.1-.5-1.1-.5-1-.5-1.1-.5-1.1-.6-1-.6-1.1-.5-1-.6-1.1-.5-1.1-.6-1-.4-1.1-.5-1-.3-1.1-.4-1.1-.2-1-.2-1.1-.1-1-.1-1.1 0-1.1 .1-1 0-1.1 .1-1.1 .1-1 .1-1.1 .1-1 .1-1.1 .1-1.1 0-1 0-1.1 0-1-.1-1.1-.1-1.1-.1-1-.1-1.1-.1-1-.2-1.1 0z"/>
<path transform="translate(147.1 121.5)" d="M-44.6 -9.9l-1-.4-1.1-.3-1-.3-1.1-.3-1.1-.3-1-.4-1.1-.3-1.1-.4-1-.4-1.1-.5-1-.5-1.1-.4-1.1-.5-1-.5-1.1-.6-1-.5-1.1-.5-1.1-.4-1-.5-1.1-.3-1-.4-1.1-.3-1.1-.2-1-.2-1.1-.2-1-.1-1.1 0-1.1 0-1 0-1.1 0-1.1 0-1 .1-1.1 0-1 0-1.1 .1-1.1-.1-1 0-1.1-.1-1 0-1.1-.2-1.1-.1-1-.1-1.1-.2-1 0z"/>
<path transform="translate(146.6 122)" d="M-45.6 -10.1l-1.1-.4-1-.3-1.1-.3-1.1-.3-1-.3-1.1-.4-1.1-.4-1-.3-1.1-.4-1-.5-1.1-.4-1.1-.5-1-.4-1.1-.5-1-.4-1.1-.5-1.1-.4-1-.4-1.1-.3-1-.4-1.1-.3-1.1-.2-1-.2-1.1-.2-1-.1-1.1-.1-1.1 0-1-.1-1.1 0-1.1 0-1 0-1.1 0-1 0-1.1-.1-1.1 0-1-.1-1.1-.1-1-.1-1.1-.2-1.1-.1-1-.2-1.1 0z"/>
<path transform="translate(146.2 122.5)" d="M-46.7 -10.3l-1-.5-1.1-.2-1.1-.3-1-.3-1.1-.4-1.1-.3-1-.4-1.1-.3-1-.4-1.1-.4-1.1-.4-1-.4-1.1-.4-1-.5-1.1-.4-1.1-.3-1-.4-1.1-.3-1-.4-1.1-.2-1.1-.3-1-.2-1.1-.2-1-.1-1.1-.1-1.1-.1-1-.1-1.1 0-1.1-.1-1-.1-1.1 0-1-.1-1.1-.1-1.1-.1-1-.1-1.1-.1-1-.1-1.1-.2-1.1-.1-1-.2-1.1-.1z"/>
<path transform="translate(145.7 123)" d="M-48.8 -10.8l-1.1-.5-1-.3-1.1-.3-1.1-.3-1-.3-1.1-.4-1-.3-1.1-.4-1.1-.4-1-.3-1.1-.4-1-.4-1.1-.3-1.1-.4-1-.3-1.1-.3-1-.3-1.1-.3-1.1-.2-1-.3-1.1-.1-1-.2-1.1-.1-1.1-.2-1-.1-1.1-.1-1.1-.1-1-.1-1.1-.1-1-.1-1.1-.1-1.1-.1-1-.1-1.1-.2-1-.1-1.1-.2-1.1-.2-1 0z"/>
<path transform="translate(145.2 123.5)" d="M-49.9 -11l-1-.5-1.1-.3-1.1-.3-1-.3-1.1-.3-1-.3-1.1-.4-1.1-.3-1-.4-1.1-.3-1-.4-1.1-.3-1.1-.3-1-.3-1.1-.3-1-.3-1.1-.3-1.1-.2-1-.2-1.1-.2-1-.2-1.1-.2-1.1-.1-1-.2-1.1-.1-1.1-.1-1-.1-1.1-.2-1-.1-1.1-.1-1.1-.2-1-.1-1.1-.2-1-.2-1.1-.2-1.1 0z"/>
<path transform="translate(144.7 124.1)" d="M-50.9 -11.3l-1.1-.4-1-.3-1.1-.3-1.1-.3-1-.3-1.1-.3-1.1-.3-1-.4-1.1-.3-1-.3-1.1-.3-1.1-.3-1-.3-1.1-.3-1-.3-1.1-.2-1.1-.3-1-.2-1.1-.2-1-.2-1.1-.2-1.1-.1-1-.2-1.1-.1-1.1-.2-1-.1-1.1-.2-1-.1-1.1-.2-1.1-.2-1-.2-1.1-.1-1-.2-1.1-.1z"/>
<path transform="translate(144.2 124.6)" d="M-52 -11.5l-1.1-.5-1-.2-1.1-.3-1-.3-1.1-.3-1.1-.3-1-.3-1.1-.3-1-.3-1.1-.3-1.1-.3-1-.3-1.1-.2-1-.3-1.1-.2-1.1-.3-1-.2-1.1-.2-1-.2-1.1-.2-1.1-.2-1-.2-1.1-.1-1.1-.2-1-.2-1.1-.2-1-.1-1.1-.2-1.1-.2-1-.2-1.1 0z"/>
<path transform="translate(143.7 125.1)" d="M-53.1 -11.8l-1-.4-1.1-.2-1-.3-1.1-.3-1.1-.3-1-.3-1.1-.2-1-.3-1.1-.3-1.1-.3-1-.3-1.1-.2-1-.3-1.1-.2-1.1-.3-1-.2-1.1-.2-1-.2-1.1-.2-1.1-.2-1-.2-1.1-.2-1.1-.2-1-.2-1.1-.2-1-.1-1.1-.2-1.1-.2-1-.1z"/>
<path transform="translate(143.3 125.6)" d="M-55.2 -12.2l-1-.5-1.1-.2-1.1-.3-1-.3-1.1-.2-1-.3-1.1-.3-1.1-.2-1-.3-1.1-.3-1-.2-1.1-.2-1.1-.3-1-.2-1.1-.2-1-.2-1.1-.3-1.1-.2-1-.2-1.1-.2-1.1-.2-1-.2-1.1-.2-1-.2-1.1 0z"/>
<path transform="translate(142.8 126.2)" d="M-57.3 -12.7l-1.1-.4-1-.3-1.1-.2-1-.3-1.1-.3-1.1-.2-1-.3-1.1-.2-1-.3-1.1-.2-1.1-.2-1-.3-1.1-.2-1-.2-1.1-.2-1.1-.3-1-.2-1.1-.2-1.1-.2-1-.2-1.1 0z"/>
<path transform="translate(142.3 126.7)" d="M-60.5 -13.4l-1-.4-1.1-.3-1.1-.2-1-.3-1.1-.2-1-.3-1.1-.2-1.1-.2-1-.3-1.1-.2-1-.2-1.1-.3-1.1-.2-1-.2-1.1-.2-1.1-.1z"/>
<path transform="translate(141.8 127.2)" d="M-64.7 -14.3l-1.1-.5-1-.2-1.1-.2-1.1-.3-1-.2-1.1-.2-1-.1z"/></g>
<g stroke="#4a4a4a" stroke-width=".6" fill="none"><path d="M32.5 106.1L32.5 60.9"/><path d="M32.5 106.1L139.4 129.8"/><path d="M139.4 129.8L187.7 77.7"/><path d="M32.5 106.1L30.5 106.1"/><path d="M32.5 97.1L30.5 97.1"/><path d="M32.5 88L30.5 88"/><path d="M32.5 79L30.5 79"/><path d="M32.5 69.9L30.5 69.9"/><path d="M32.5 60.9L30.5 60.9"/><path d="M33.3 106.3L31.9 107.8"/><path d="M54.5 111L53.2 112.5"/><path d="M75.7 115.7L74.4 117.2"/><path d="M97 120.4L95.6 121.9"/><path d="M118.2 125.1L116.8 126.6"/><path d="M139.4 129.8L141.9 130.4"/><path d="M163.6 103.8L166.1 104.3"/><path d="M187.7 77.7L190.2 78.3"/></g>
<g font-size="5" fill="#3a3a3a"><text x="27.9" y="107.9" text-anchor="end">0</text><text x="27.9" y="98.9" text-anchor="end">50</text><text x="27.9" y="89.8" text-anchor="end">100</text><text x="27.9" y="80.8" text-anchor="end">150</text><text x="27.9" y="71.7" text-anchor="end">200</text><text x="27.9" y="62.7" text-anchor="end">250</text><text x="30.2" y="116" text-anchor="end">100</text><text x="51.4" y="120.7" text-anchor="end">80</text><text x="72.6" y="125.4" text-anchor="end">60</text><text x="93.9" y="130.1" text-anchor="end">40</text><text x="115.1" y="134.8" text-anchor="end">20</text><text x="142.9" y="136.6">0</text><text x="167.1" y="110.5">50</text><text x="191.2" y="84.5">100</text></g>
<polygon points="105.2,53.5 105.8,55.3 107.8,55.4 106.2,56.5 106.8,58.4 105.2,57.3 103.6,58.4 104.2,56.5 102.6,55.4 104.6,55.3" fill="#f0e01e" stroke="#5a5420" stroke-width=".4"/>
<path d="M105.2 56.2C105 57.2 104.5 60.1 103.8 62.3C103.1 64.5 101.9 67.3 101.2 69.2C100.5 71.1 99.9 72.3 99.8 73.5C99.7 74.7 99.9 75.4 100.7 76.1C101.5 76.8 103.3 77.4 104.7 77.8C106.1 78.2 107.7 78 109 78.2C110.3 78.4 111.2 78.6 112.5 79.2C113.8 79.8 115.2 80.9 116.8 82.1C118.4 83.3 120.3 84.8 122 86.5C123.7 88.2 125.5 90.3 127.1 92.5C128.7 94.7 130.1 96.7 131.5 99.4C132.9 102.1 134.2 105.6 135.3 108.9C136.4 112.2 137.3 115.8 138 119.3C138.7 122.8 139.3 127.9 139.6 129.6" fill="none" stroke="#dd1431" stroke-width="1.4" stroke-linecap="round" stroke-linejoin="round"/>
<circle cx="111.6" cy="78.7" r="1.3" fill="none" stroke="#4f9a4c" stroke-width=".5"/>
<circle cx="128.3" cy="93.9" r="1.3" fill="none" stroke="#4f9a4c" stroke-width=".5"/>
<text x="101.3" y="162.7" text-anchor="middle" class="cap">(a) CPSO</text>
</g>
<g id="plot-b">
<g stroke="#e3e3e3" stroke-width=".6" fill="none"><path d="M280.3 54.4L428.4 55.7"/><path d="M280.3 42.6L428.4 43.9"/><path d="M280.3 30.7L428.4 32"/><path d="M280.3 18.9L428.4 20.2"/><path d="M280.3 7L428.4 8.3"/><path d="M280.3 4.9L428.4 6.2"/><path d="M280.3 54.4L280.3 4.9"/><path d="M279.9 65.5L280.3 54.4"/><path d="M309.9 54.7L309.9 5.1"/><path d="M309.5 65.8L309.9 54.7"/><path d="M339.6 54.9L339.6 5.4"/><path d="M339.1 66L339.6 54.9"/><path d="M369.2 55.2L369.2 5.6"/><path d="M368.8 66.3L369.2 55.2"/><path d="M398.8 55.4L398.8 5.9"/><path d="M398.4 66.5L398.8 55.4"/><path d="M428.4 55.7L428.4 6.2"/><path d="M428 66.8L428.4 55.7"/><path d="M277.8 71.5L280.3 4.9"/><path d="M277.8 121L280.3 54.4"/></g>
<polygon fill="#3e26a8" points="425.9,122.3 277.8,121 279.9,65.5 428,66.8"/>
<g fill="url(#gb)"><path transform="translate(428 66.8)" d="M-48.9 -.4l-1.5-.4-1.4-.1-1.5-.1-1.5-.3-1.5-.3-1.5-.3-1.4-.6-1.5-.6-1.5-.8-1.5-1.1-1.5-1.2-1.4-1.6-1.5-1.8-1.5-2-1.5-2.3-1.5-2.4-1.4-2.5-1.5-2.6-1.5-2.4-1.5-2.2-1.5-1.8-1.5-1.4-1.4-.8-1.5-.3-1.5 .4-1.5 .9-1.5 1.5-1.4 1.9-1.5 2.3-1.5 2.5-1.5 2.5-1.5 2.6-1.4 2.4-1.5 2.2-1.5 2-1.5 1.7-1.5 1.5-1.5 1.2-1.4 .9-1.5 .8-1.5 .5-1.5 .5-1.5 .3-1.4 .2-1.5 .1-1.5 .1-1.5 .3z"/>
<path transform="translate(428 67.4)" d="M-47.4 -.4l-1.5-.3-1.5-.1-1.4-.2-1.5-.2-1.5-.2-1.5-.3-1.5-.4-1.4-.5-1.5-.7-1.5-.8-1.5-1-1.5-1.3-1.4-1.5-1.5-1.7-1.5-2-1.5-2.1-1.5-2.4-1.4-2.4-1.5-2.4-1.5-2.3-1.5-2-1.5-1.8-1.5-1.2-1.4-.8-1.5-.2-1.5 .4-1.5 .9-1.5 1.5-1.4 1.8-1.5 2.2-1.5 2.3-1.5 2.5-1.5 2.4-1.4 2.3-1.5 2.1-1.5 1.9-1.5 1.7-1.5 1.4-1.5 1.1-1.4 .9-1.5 .8-1.5 .5-1.5 .4-1.5 .3-1.4 .3-1.5 .1-1.5 .1-1.5 .3z"/>
<path transform="translate(428 67.9)" d="M-45.9 -.4l-1.5-.3-1.5-.1-1.5-.1-1.4-.2-1.5-.2-1.5-.3-1.5-.3-1.5-.4-1.4-.6-1.5-.6-1.5-.9-1.5-1-1.5-1.2-1.4-1.5-1.5-1.7-1.5-1.8-1.5-2.1-1.5-2.2-1.4-2.3-1.5-2.3-1.5-2.1-1.5-1.9-1.5-1.6-1.5-1.2-1.4-.7-1.5-.1-1.5 .4-1.5 .9-1.5 1.4-1.4 1.8-1.5 2.1-1.5 2.2-1.5 2.3-1.5 2.3-1.4 2.2-1.5 2-1.5 1.8-1.5 1.6-1.5 1.3-1.5 1.1-1.4 .9-1.5 .7-1.5 .6-1.5 .4-1.5 .3-1.4 .2-1.5 .2-1.5 .1-1.5 .3z"/>
<path transform="translate(427.9 68.5)" d="M-44.4 -.4l-1.5-.3-1.5-.1-1.5-.1-1.5-.1-1.4-.2-1.5-.3-1.5-.3-1.5-.3-1.5-.5-1.4-.6-1.5-.7-1.5-.8-1.5-1.1-1.5-1.2-1.4-1.4-1.5-1.6-1.5-1.9-1.5-1.9-1.5-2.2-1.4-2.1-1.5-2.2-1.5-2-1.5-1.7-1.5-1.5-1.5-1-1.4-.6-1.5-.1-1.5 .5-1.5 .9-1.5 1.4-1.4 1.7-1.5 2-1.5 2.1-1.5 2.2-1.5 2.2-1.4 2-1.5 2-1.5 1.7-1.5 1.5-1.5 1.2-1.5 1.1-1.4 .9-1.5 .7-1.5 .5-1.5 .4-1.5 .3-1.4 .3-1.5 .1-1.5 .1-1.5 .4z"/>
<path transform="translate(427.9 69)" d="M-42.9 -.4l-1.5-.2-1.5-.1-1.5-.2-1.5-.1-1.5-.2-1.4-.2-1.5-.3-1.5-.3-1.5-.5-1.5-.5-1.4-.6-1.5-.7-1.5-.9-1.5-1.1-1.5-1.2-1.4-1.4-1.5-1.6-1.5-1.8-1.5-1.9-1.5-2.1-1.4-2-1.5-2.1-1.5-1.9-1.5-1.6-1.5-1.4-1.5-.9-1.4-.5-1.5 .1-1.5 .5-1.5 1-1.5 1.3-1.4 1.7-1.5 2-1.5 2-1.5 2.1-1.5 2.1-1.4 2-1.5 1.8-1.5 1.6-1.5 1.5-1.5 1.2-1.5 1-1.4 .9-1.5 .7-1.5 .5-1.5 .4-1.5 .4-1.4 .2-1.5 .2-1.5 .1-1.5 .1-1.5 .2z"/>
<path transform="translate(427.9 69.6)" d="M-41.5 -.4l-1.4-.2-1.5-.1-1.5-.1-1.5-.2-1.5-.2-1.5-.2-1.4-.2-1.5-.4-1.5-.4-1.5-.4-1.5-.6-1.4-.7-1.5-.8-1.5-.9-1.5-1.1-1.5-1.3-1.4-1.4-1.5-1.6-1.5-1.8-1.5-1.9-1.5-2-1.4-2.1-1.5-1.9-1.5-1.9-1.5-1.5-1.5-1.3-1.5-.8-1.4-.3-1.5 .1-1.5 .6-1.5 1-1.5 1.5-1.4 1.7-1.5 1.9-1.5 2-1.5 2.1-1.5 2-1.4 1.9-1.5 1.8-1.5 1.6-1.5 1.4-1.5 1.2-1.5 1-1.4 .9-1.5 .6-1.5 .6-1.5 .4-1.5 .4-1.4 .2-1.5 .2-1.5 .1-1.5 .1-1.5 .3z"/>
<path transform="translate(427.9 70.1)" d="M-41.5 -.4l-1.4-.3-1.5-.1-1.5-.1-1.5-.2-1.5-.2-1.5-.3-1.4-.3-1.5-.4-1.5-.5-1.5-.5-1.5-.6-1.4-.8-1.5-.8-1.5-1-1.5-1.2-1.5-1.3-1.4-1.5-1.5-1.7-1.5-1.8-1.5-2-1.5-2-1.4-2.1-1.5-2-1.5-1.8-1.5-1.5-1.5-1.2-1.5-.7-1.4-.2-1.5 .2-1.5 .8-1.5 1.2-1.5 1.5-1.4 1.8-1.5 1.9-1.5 2.1-1.5 2.1-1.5 2-1.4 1.9-1.5 1.7-1.5 1.6-1.5 1.4-1.5 1.2-1.5 1-1.4 .9-1.5 .7-1.5 .5-1.5 .5-1.5 .3-1.4 .3-1.5 .2-1.5 .2-1.5 .1-1.5 .1-1.4 .2z"/>
<path transform="translate(427.9 70.7)" d="M-40 -.4l-1.5-.2-1.4-.2-1.5-.1-1.5-.2-1.5-.2-1.5-.2-1.5-.4-1.4-.3-1.5-.5-1.5-.5-1.5-.6-1.5-.7-1.4-.9-1.5-.9-1.5-1.1-1.5-1.3-1.5-1.4-1.4-1.6-1.5-1.7-1.5-2-1.5-2-1.5-2.2-1.4-2.1-1.5-2-1.5-1.9-1.5-1.5-1.5-1.2-1.5-.6-1.4-.1-1.5 .4-1.5 .9-1.5 1.3-1.5 1.7-1.4 2-1.5 2-1.5 2.2-1.5 2.1-1.5 2.1-1.4 1.9-1.5 1.8-1.5 1.6-1.5 1.4-1.5 1.2-1.5 1-1.4 .9-1.5 .7-1.5 .6-1.5 .5-1.5 .4-1.4 .3-1.5 .2-1.5 .2-1.5 .1-1.5 .1-1.4 .3z"/>
<path transform="translate(427.8 71.2)" d="M-38.5 -.3l-1.5-.3-1.5-.1-1.4-.1-1.5-.2-1.5-.2-1.5-.3-1.5-.3-1.5-.4-1.4-.4-1.5-.5-1.5-.6-1.5-.7-1.5-.8-1.4-.9-1.5-1.1-1.5-1.2-1.5-1.4-1.5-1.5-1.4-1.7-1.5-1.9-1.5-2.1-1.5-2.2-1.5-2.3-1.4-2.3-1.5-2.2-1.5-1.9-1.5-1.6-1.5-1.2-1.5-.6-1.4 0-1.5 .6-1.5 1.1-1.5 1.6-1.5 1.9-1.4 2.1-1.5 2.3-1.5 2.3-1.5 2.3-1.5 2.1-1.4 2-1.5 1.8-1.5 1.7-1.5 1.4-1.5 1.3-1.5 1.1-1.4 .9-1.5 .8-1.5 .6-1.5 .5-1.5 .4-1.4 .4-1.5 .2-1.5 .2-1.5 .2-1.5 .1-1.4 .1-1.5 .2z"/>
<path transform="translate(427.8 71.8)" d="M-38.5 -.3l-1.5-.4-1.5-.1-1.4-.1-1.5-.2-1.5-.3-1.5-.3-1.5-.4-1.5-.4-1.4-.5-1.5-.6-1.5-.7-1.5-.8-1.5-.9-1.4-1-1.5-1.2-1.5-1.3-1.5-1.5-1.5-1.6-1.4-1.9-1.5-2.1-1.5-2.3-1.5-2.4-1.5-2.5-1.4-2.5-1.5-2.4-1.5-2.1-1.5-1.7-1.5-1.2-1.5-.5-1.4 .1-1.5 .7-1.5 1.4-1.5 1.8-1.5 2.2-1.4 2.4-1.5 2.5-1.5 2.6-1.5 2.4-1.5 2.3-1.4 2.1-1.5 1.9-1.5 1.7-1.5 1.5-1.5 1.4-1.5 1.1-1.4 1-1.5 .8-1.5 .7-1.5 .5-1.5 .5-1.4 .3-1.5 .3-1.5 .3-1.5 .1-1.5 .1-1.4 .1-1.5 .3z"/>
<path transform="translate(427.8 72.3)" d="M-37 -.3l-1.5-.3-1.5-.1-1.5-.2-1.4-.2-1.5-.2-1.5-.3-1.5-.3-1.5-.5-1.5-.5-1.4-.6-1.5-.6-1.5-.8-1.5-.9-1.5-1-1.4-1.1-1.5-1.3-1.5-1.4-1.5-1.7-1.5-1.8-1.4-2-1.5-2.3-1.5-2.5-1.5-2.6-1.5-2.8-1.4-2.8-1.5-2.6-1.5-2.3-1.5-1.9-1.5-1.2-1.5-.6-1.4 .3-1.5 .9-1.5 1.6-1.5 2.1-1.5 2.6-1.4 2.7-1.5 2.8-1.5 2.8-1.5 2.6-1.5 2.5-1.4 2.2-1.5 2.1-1.5 1.8-1.5 1.6-1.5 1.4-1.5 1.2-1.4 1-1.5 .9-1.5 .7-1.5 .6-1.5 .5-1.4 .4-1.5 .3-1.5 .3-1.5 .2-1.5 .1-1.4 .1-1.5 .3z"/>
<path transform="translate(427.8 72.9)" d="M-37 -.3l-1.5-.4-1.5-.1-1.5-.2-1.4-.2-1.5-.3-1.5-.3-1.5-.4-1.5-.5-1.5-.6-1.4-.6-1.5-.8-1.5-.9-1.5-.9-1.5-1.1-1.4-1.3-1.5-1.4-1.5-1.5-1.5-1.8-1.5-1.9-1.4-2.2-1.5-2.5-1.5-2.7-1.5-2.9-1.5-3.1-1.4-3-1.5-2.9-1.5-2.5-1.5-2.1-1.5-1.3-1.5-.5-1.4 .3-1.5 1.1-1.5 1.9-1.5 2.4-1.5 2.9-1.4 3-1.5 3.2-1.5 3-1.5 2.9-1.5 2.7-1.4 2.4-1.5 2.1-1.5 2-1.5 1.6-1.5 1.5-1.5 1.3-1.4 1.1-1.5 .9-1.5 .8-1.5 .6-1.5 .6-1.4 .4-1.5 .3-1.5 .3-1.5 .2-1.5 .2-1.4 .1-1.5 .1-1.5 .2z"/>
<path transform="translate(427.7 73.5)" d="M-35.5 -.3l-1.5-.3-1.5-.1-1.5-.2-1.5-.2-1.4-.2-1.5-.3-1.5-.4-1.5-.5-1.5-.5-1.5-.7-1.4-.7-1.5-.9-1.5-.9-1.5-1.1-1.5-1.2-1.4-1.3-1.5-1.5-1.5-1.7-1.5-1.8-1.5-2.1-1.4-2.4-1.5-2.6-1.5-2.9-1.5-3.2-1.5-3.3-1.4-3.3-1.5-3.1-1.5-2.8-1.5-2.2-1.5-1.4-1.5-.5-1.4 .4-1.5 1.3-1.5 2.1-1.5 2.8-1.5 3.1-1.4 3.4-1.5 3.4-1.5 3.3-1.5 3.1-1.5 2.9-1.4 2.6-1.5 2.3-1.5 2-1.5 1.7-1.5 1.6-1.5 1.3-1.4 1.2-1.5 1-1.5 .8-1.5 .7-1.5 .5-1.4 .5-1.5 .3-1.5 .3-1.5 .3-1.5 .1-1.4 .2-1.5 0-1.5 .3z"/>
<path transform="translate(427.7 74)" d="M-35.5 -.3l-1.5-.3-1.5-.2-1.5-.1-1.5-.3-1.4-.3-1.5-.3-1.5-.5-1.5-.5-1.5-.6-1.5-.7-1.4-.9-1.5-.9-1.5-1-1.5-1.2-1.5-1.2-1.4-1.5-1.5-1.5-1.5-1.7-1.5-2-1.5-2.2-1.4-2.4-1.5-2.8-1.5-3.1-1.5-3.3-1.5-3.5-1.4-3.5-1.5-3.4-1.5-2.9-1.5-2.4-1.5-1.5-1.5-.5-1.4 .5-1.5 1.4-1.5 2.4-1.5 3-1.5 3.4-1.4 3.7-1.5 3.6-1.5 3.6-1.5 3.3-1.5 3-1.4 2.7-1.5 2.4-1.5 2.1-1.5 1.8-1.5 1.6-1.5 1.4-1.4 1.2-1.5 1.1-1.5 .8-1.5 .7-1.5 .6-1.4 .5-1.5 .4-1.5 .3-1.5 .2-1.5 .2-1.4 .1-1.5 .1-1.5 .3z"/>
<path transform="translate(427.7 74.6)" d="M-35.5 -.3l-1.5-.4-1.5-.1-1.5-.2-1.5-.3-1.4-.3-1.5-.4-1.5-.5-1.5-.6-1.5-.7-1.5-.8-1.4-.9-1.5-1-1.5-1.1-1.5-1.2-1.5-1.3-1.4-1.5-1.5-1.6-1.5-1.8-1.5-2-1.5-2.2-1.4-2.5-1.5-2.9-1.5-3.1-1.5-3.5-1.5-3.6-1.4-3.7-1.5-3.5-1.5-3-1.5-2.5-1.5-1.5-1.5-.5-1.4 .5-1.5 1.6-1.5 2.5-1.5 3.2-1.5 3.6-1.4 3.8-1.5 3.9-1.5 3.7-1.5 3.4-1.5 3.1-1.4 2.8-1.5 2.5-1.5 2.2-1.5 1.9-1.5 1.6-1.5 1.4-1.4 1.3-1.5 1-1.5 .9-1.5 .7-1.5 .6-1.4 .5-1.5 .4-1.5 .3-1.5 .3-1.5 .2-1.4 .1-1.5 .1-1.5 .3z"/>
<path transform="translate(427.7 75.1)" d="M-34.1 -.3l-1.4-.3-1.5-.1-1.5-.2-1.5-.2-1.5-.3-1.4-.4-1.5-.4-1.5-.5-1.5-.7-1.5-.7-1.5-.9-1.4-1-1.5-1-1.5-1.2-1.5-1.3-1.5-1.3-1.4-1.5-1.5-1.7-1.5-1.7-1.5-2-1.5-2.3-1.4-2.5-1.5-2.8-1.5-3.2-1.5-3.5-1.5-3.6-1.4-3.7-1.5-3.6-1.5-3.1-1.5-2.4-1.5-1.6-1.5-.5-1.4 .6-1.5 1.7-1.5 2.5-1.5 3.3-1.5 3.7-1.4 4-1.5 3.9-1.5 3.8-1.5 3.5-1.5 3.1-1.4 2.9-1.5 2.5-1.5 2.1-1.5 2-1.5 1.6-1.5 1.5-1.4 1.2-1.5 1.1-1.5 .8-1.5 .8-1.5 .6-1.4 .5-1.5 .4-1.5 .3-1.5 .3-1.5 .2-1.4 .1-1.5 .1-1.5 .3z"/>
<path transform="translate(427.7 75.7)" d="M-34.1 -.3l-1.4-.3-1.5-.1-1.5-.2-1.5-.3-1.5-.3-1.4-.4-1.5-.5-1.5-.6-1.5-.7-1.5-.8-1.5-.9-1.4-1-1.5-1.1-1.5-1.2-1.5-1.3-1.5-1.4-1.4-1.5-1.5-1.6-1.5-1.8-1.5-1.9-1.5-2.2-1.4-2.5-1.5-2.7-1.5-3.1-1.5-3.4-1.5-3.6-1.4-3.6-1.5-3.4-1.5-3.1-1.5-2.4-1.5-1.5-1.5-.5-1.4 .7-1.5 1.6-1.5 2.6-1.5 3.2-1.5 3.7-1.4 3.9-1.5 3.9-1.5 3.8-1.5 3.4-1.5 3.2-1.4 2.8-1.5 2.5-1.5 2.1-1.5 1.9-1.5 1.7-1.5 1.4-1.4 1.2-1.5 1.1-1.5 .9-1.5 .7-1.5 .6-1.4 .5-1.5 .4-1.5 .3-1.5 .3-1.5 .2-1.4 .1-1.5 .1-1.5 .3z"/>
<path transform="translate(427.6 76.2)" d="M-34.1 -.3l-1.4-.3-1.5-.2-1.5-.2-1.5-.2-1.5-.4-1.4-.4-1.5-.5-1.5-.7-1.5-.7-1.5-.9-1.5-.9-1.4-1.1-1.5-1.1-1.5-1.3-1.5-1.3-1.5-1.4-1.4-1.4-1.5-1.6-1.5-1.7-1.5-1.8-1.5-2.1-1.4-2.3-1.5-2.6-1.5-2.9-1.5-3.2-1.5-3.4-1.4-3.4-1.5-3.3-1.5-2.9-1.5-2.2-1.5-1.5-1.5-.4-1.4 .6-1.5 1.6-1.5 2.5-1.5 3.1-1.5 3.6-1.4 3.8-1.5 3.7-1.5 3.6-1.5 3.4-1.5 3-1.4 2.7-1.5 2.4-1.5 2.1-1.5 1.9-1.5 1.6-1.5 1.4-1.4 1.2-1.5 1-1.5 .9-1.5 .7-1.5 .6-1.4 .5-1.5 .3-1.5 .4-1.5 .2-1.5 .2-1.4 .1-1.5 .1-1.5 .3z"/>
<path transform="translate(427.6 76.8)" d="M-34.1 -.3l-1.4-.3-1.5-.2-1.5-.2-1.5-.3-1.5-.4-1.4-.4-1.5-.6-1.5-.6-1.5-.8-1.5-.9-1.5-1-1.4-1.1-1.5-1.1-1.5-1.3-1.5-1.3-1.5-1.3-1.4-1.5-1.5-1.4-1.5-1.6-1.5-1.7-1.5-1.9-1.4-2.2-1.5-2.3-1.5-2.7-1.5-2.9-1.5-3.1-1.4-3.1-1.5-3-1.5-2.7-1.5-2-1.5-1.3-1.5-.4-1.4 .6-1.5 1.5-1.5 2.3-1.5 3-1.5 3.3-1.4 3.5-1.5 3.5-1.5 3.4-1.5 3.2-1.5 2.8-1.4 2.6-1.5 2.3-1.5 2-1.5 1.7-1.5 1.5-1.5 1.4-1.4 1.1-1.5 1-1.5 .8-1.5 .7-1.5 .6-1.4 .4-1.5 .4-1.5 .3-1.5 .2-1.5 .2-1.4 .1-1.5 .1-1.5 .3z"/>
<path transform="translate(427.6 77.3)" d="M-34.1 -.3l-1.4-.4-1.5-.1-1.5-.2-1.5-.3-1.5-.4-1.4-.5-1.5-.6-1.5-.6-1.5-.8-1.5-1-1.5-1-1.4-1.1-1.5-1.1-1.5-1.3-1.5-1.2-1.5-1.3-1.4-1.4-1.5-1.3-1.5-1.5-1.5-1.5-1.5-1.7-1.4-1.9-1.5-2.1-1.5-2.4-1.5-2.6-1.5-2.7-1.4-2.8-1.5-2.6-1.5-2.3-1.5-1.9-1.5-1.1-1.5-.3-1.4 .6-1.5 1.3-1.5 2.1-1.5 2.7-1.5 3-1.4 3.2-1.5 3.2-1.5 3.1-1.5 2.9-1.5 2.6-1.4 2.4-1.5 2.1-1.5 1.9-1.5 1.6-1.5 1.4-1.5 1.3-1.4 1-1.5 .9-1.5 .8-1.5 .7-1.5 .5-1.4 .4-1.5 .4-1.5 .3-1.5 .2-1.5 .1-1.4 .2-1.5 0-1.5 .3z"/>
<path transform="translate(427.6 77.9)" d="M-34.1 -.3l-1.4-.4-1.5-.1-1.5-.3-1.5-.3-1.5-.3-1.4-.5-1.5-.6-1.5-.7-1.5-.8-1.5-.9-1.5-1-1.4-1.1-1.5-1.2-1.5-1.2-1.5-1.2-1.5-1.2-1.4-1.3-1.5-1.2-1.5-1.3-1.5-1.4-1.5-1.5-1.4-1.6-1.5-1.8-1.5-2-1.5-2.2-1.5-2.4-1.4-2.3-1.5-2.3-1.5-1.9-1.5-1.6-1.5-.9-1.5-.3-1.4 .6-1.5 1.2-1.5 1.8-1.5 2.4-1.5 2.6-1.4 2.9-1.5 2.8-1.5 2.7-1.5 2.6-1.5 2.4-1.4 2.1-1.5 1.9-1.5 1.7-1.5 1.5-1.5 1.3-1.5 1.1-1.4 1-1.5 .9-1.5 .7-1.5 .6-1.5 .5-1.4 .4-1.5 .3-1.5 .2-1.5 .2-1.5 .2-1.4 .1-1.5 .1-1.5 .2z"/>
<path transform="translate(427.6 78.5)" d="M-34.1 -.3l-1.4-.4-1.5-.1-1.5-.3-1.5-.3-1.5-.4-1.4-.4-1.5-.6-1.5-.7-1.5-.8-1.5-.9-1.5-1-1.4-1.1-1.5-1.1-1.5-1.1-1.5-1.2-1.5-1.1-1.4-1.2-1.5-1.1-1.5-1.1-1.5-1.2-1.5-1.2-1.4-1.4-1.5-1.5-1.5-1.7-1.5-1.8-1.5-1.9-1.4-2-1.5-1.8-1.5-1.6-1.5-1.3-1.5-.8-1.5-.1-1.4 .4-1.5 1.1-1.5 1.6-1.5 2-1.5 2.3-1.4 2.4-1.5 2.5-1.5 2.3-1.5 2.3-1.5 2.1-1.4 1.8-1.5 1.7-1.5 1.5-1.5 1.4-1.5 1.1-1.5 1.1-1.4 .9-1.5 .7-1.5 .6-1.5 .6-1.5 .4-1.4 .4-1.5 .3-1.5 .2-1.5 .2-1.5 .1-1.4 .1-1.5 .1-1.5 .2zM-142.2 -1.2l-1.5-.3-1.4 0-1.5 0-1.5-.1 0 .3z"/>
<path transform="translate(427.5 79)" d="M-34.1 -.3l-1.4-.4-1.5-.1-1.5-.3-1.5-.3-1.5-.3-1.4-.5-1.5-.6-1.5-.7-1.5-.7-1.5-.9-1.5-1-1.4-1-1.5-1.1-1.5-1-1.5-1.1-1.5-1.1-1.4-1-1.5-1-1.5-.9-1.5-1-1.5-1.1-1.4-1.1-1.5-1.2-1.5-1.3-1.5-1.5-1.5-1.5-1.4-1.6-1.5-1.4-1.5-1.3-1.5-1-1.5-.6-1.5-.1-1.4 .4-1.5 .9-1.5 1.3-1.5 1.7-1.5 1.9-1.4 2.1-1.5 2.1-1.5 2-1.5 1.9-1.5 1.8-1.4 1.6-1.5 1.5-1.5 1.3-1.5 1.2-1.5 1-1.5 .9-1.4 .8-1.5 .7-1.5 .6-1.5 .4-1.5 .4-1.4 .3-1.5 .3-1.5 .2-1.5 .1-1.5 .2-1.4 0-1.5 .3zM-137.7 -1.2l-1.5-.3-1.5-.1-1.5 0-1.5-.1-1.4 0-1.5-.1-1.5 0 0 .5z"/>
<path transform="translate(427.5 79.6)" d="M-34.1 -.3l-1.4-.3-1.5-.2-1.5-.2-1.5-.3-1.5-.4-1.4-.4-1.5-.6-1.5-.6-1.5-.8-1.5-.8-1.5-.9-1.4-1-1.5-1-1.5-1-1.5-1-1.5-.9-1.4-.9-1.5-.9-1.5-.8-1.5-.8-1.5-.8-1.4-.9-1.5-1-1.5-1-1.5-1.2-1.5-1.1-1.4-1.2-1.5-1.2-1.5-1-1.5-.7-1.5-.4-1.5-.1-1.4 .4-1.5 .7-1.5 1.1-1.5 1.4-1.5 1.6-1.4 1.7-1.5 1.7-1.5 1.7-1.5 1.6-1.5 1.5-1.4 1.4-1.5 1.3-1.5 1.1-1.5 1-1.5 .9-1.5 .8-1.4 .7-1.5 .6-1.5 .5-1.5 .4-1.5 .3-1.4 .3-1.5 .2-1.5 .2-1.5 .1-1.5 .1-1.4 .1-1.5 .2zM-134.8 -1.2l-1.5-.3-1.4-.1-1.5-.1-1.5-.1-1.5-.1-1.5-.1-1.4 0-1.5-.1-1.5 0 0 .8z"/>
<path transform="translate(427.5 80.1)" d="M-34.1 -.3l-1.4-.3-1.5-.2-1.5-.2-1.5-.3-1.5-.3-1.4-.4-1.5-.6-1.5-.6-1.5-.7-1.5-.8-1.5-.8-1.4-.9-1.5-.9-1.5-.9-1.5-.9-1.5-.8-1.4-.8-1.5-.8-1.5-.7-1.5-.6-1.5-.7-1.4-.7-1.5-.7-1.5-.8-1.5-.9-1.5-.9-1.4-.9-1.5-.8-1.5-.8-1.5-.5-1.5-.3-1.5 0-1.4 .3-1.5 .6-1.5 .9-1.5 1.1-1.5 1.3-1.4 1.4-1.5 1.4-1.5 1.4-1.5 1.4-1.5 1.2-1.4 1.2-1.5 1.1-1.5 1-1.5 .8-1.5 .8-1.5 .7-1.4 .5-1.5 .5-1.5 .5-1.5 .3-1.5 .3-1.4 .2-1.5 .2-1.5 .1-1.5 .1-1.5 .1-1.4 .1-1.5 .2zM-131.8 -1.2l-1.5-.2-1.5-.1-1.5-.1-1.4-.2-1.5-.2-1.5-.1-1.5-.2-1.5-.1-1.4-.1-1.5-.1-1.5 0 0 1.3z"/>
<path transform="translate(427.5 80.7)" d="M-34.1 -.3l-1.4-.3-1.5-.1-1.5-.2-1.5-.3-1.5-.3-1.4-.4-1.5-.5-1.5-.6-1.5-.6-1.5-.7-1.5-.8-1.4-.8-1.5-.8-1.5-.8-1.5-.8-1.5-.8-1.4-.7-1.5-.6-1.5-.6-1.5-.5-1.5-.6-1.4-.5-1.5-.6-1.5-.6-1.5-.6-1.5-.7-1.4-.7-1.5-.6-1.5-.6-1.5-.4-1.5-.2-1.5 .1-1.4 .3-1.5 .5-1.5 .7-1.5 .9-1.5 1.1-1.4 1.1-1.5 1.2-1.5 1.1-1.5 1.2-1.5 1-1.4 1-1.5 .9-1.5 .8-1.5 .8-1.5 .6-1.5 .6-1.4 .5-1.5 .4-1.5 .3-1.5 .3-1.5 .3-1.4 .1-1.5 .2-1.5 .1-1.5 .1-1.5 0-1.4 .1-1.5 .2zM-130.3 -1.1l-1.5-.3-1.5-.1-1.5-.2-1.5-.2-1.4-.2-1.5-.3-1.5-.2-1.5-.3-1.5-.2-1.4-.2-1.5 0-1.5 0 0 2z"/>
<path transform="translate(427.5 81.2)" d="M-34.1 -.3l-1.4-.3-1.5-.1-1.5-.2-1.5-.2-1.5-.3-1.4-.4-1.5-.4-1.5-.5-1.5-.6-1.5-.6-1.5-.7-1.4-.7-1.5-.8-1.5-.7-1.5-.7-1.5-.7-1.4-.6-1.5-.5-1.5-.5-1.5-.4-1.5-.5-1.4-.4-1.5-.5-1.5-.4-1.5-.5-1.5-.6-1.4-.5-1.5-.5-1.5-.4-1.5-.2-1.5-.2-1.5 .1-1.4 .2-1.5 .5-1.5 .6-1.5 .8-1.5 .8-1.4 1-1.5 .9-1.5 1-1.5 .9-1.5 .9-1.4 .9-1.5 .7-1.5 .7-1.5 .6-1.5 .6-1.5 .5-1.4 .4-1.5 .3-1.5 .3-1.5 .2-1.5 .2-1.4 .1-1.5 .2-1.5 0-1.5 .1-1.5 0-1.4 0-1.5 .1-1.5 0-1.5-.1-1.5 0-1.4 0-1.5-.1-1.5-.1-1.5-.1-1.5-.2-1.5-.3-1.4-.4-1.5-.4-1.5-.4-1.5-.4-1.5-.3-1.4-.2-1.5-.1-1.5 .1 0 3z"/>
<path transform="translate(427.4 81.8)" d="M-35.5 -.3l-1.5-.4-1.5-.1-1.5-.2-1.5-.3-1.4-.3-1.5-.4-1.5-.4-1.5-.5-1.5-.6-1.5-.6-1.4-.7-1.5-.6-1.5-.7-1.5-.6-1.5-.5-1.4-.6-1.5-.4-1.5-.4-1.5-.4-1.5-.4-1.4-.4-1.5-.3-1.5-.4-1.5-.5-1.5-.4-1.4-.4-1.5-.4-1.5-.3-1.5-.2-1.5-.1-1.5 .1-1.4 .2-1.5 .4-1.5 .6-1.5 .6-1.5 .7-1.4 .8-1.5 .9-1.5 .8-1.5 .8-1.5 .7-1.4 .7-1.5 .7-1.5 .6-1.5 .5-1.5 .5-1.5 .4-1.4 .3-1.5 .3-1.5 .2-1.5 .2-1.5 .1-1.4 .1-1.5 .1-1.5 0-1.5 .1-1.5 0-1.4 0-1.5 0-1.5 0-1.5-.1-1.5 0-1.4 0-1.5-.1-1.5-.2-1.5-.2-1.5-.3-1.5-.4-1.4-.5-1.5-.6-1.5-.5-1.5-.6-1.5-.4-1.4-.3-1.5-.2-1.5 .1 0 4.4z"/>
<path transform="translate(427.4 82.3)" d="M-35.5 -.3l-1.5-.3-1.5-.2-1.5-.1-1.5-.3-1.4-.2-1.5-.4-1.5-.4-1.5-.4-1.5-.5-1.5-.5-1.4-.6-1.5-.5-1.5-.6-1.5-.5-1.5-.5-1.4-.5-1.5-.4-1.5-.4-1.5-.3-1.5-.4-1.4-.3-1.5-.4-1.5-.3-1.5-.4-1.5-.4-1.4-.3-1.5-.3-1.5-.3-1.5-.1-1.5-.1-1.5 .1-1.4 .2-1.5 .3-1.5 .5-1.5 .6-1.5 .6-1.4 .7-1.5 .8-1.5 .7-1.5 .7-1.5 .6-1.4 .7-1.5 .5-1.5 .5-1.5 .5-1.5 .4-1.5 .3-1.4 .3-1.5 .2-1.5 .2-1.5 .1-1.5 .1-1.4 .1-1.5 0-1.5 0-1.5 0-1.5 0-1.4 0-1.5-.1-1.5 0-1.5 0-1.5-.1-1.4 0-1.5-.1-1.5-.2-1.5-.3-1.5-.5-1.5-.5-1.4-.7-1.5-.8-1.5-.8-1.5-.7-1.5-.6-1.4-.5-1.5-.1-1.5 .1 0 6.1z"/>
<path transform="translate(427.4 82.9)" d="M-35.5 -.3l-1.5-.3-1.5-.1-1.5-.1-1.5-.2-1.4-.3-1.5-.3-1.5-.3-1.5-.4-1.5-.4-1.5-.4-1.4-.5-1.5-.5-1.5-.5-1.5-.4-1.5-.5-1.4-.4-1.5-.4-1.5-.3-1.5-.4-1.5-.3-1.4-.3-1.5-.4-1.5-.4-1.5-.3-1.5-.4-1.4-.3-1.5-.3-1.5-.3-1.5-.1-1.5 0-1.5 .1-1.4 .2-1.5 .3-1.5 .4-1.5 .6-1.5 .6-1.4 .6-1.5 .7-1.5 .6-1.5 .7-1.5 .6-1.4 .5-1.5 .5-1.5 .5-1.5 .4-1.5 .3-1.5 .3-1.4 .2-1.5 .2-1.5 .1-1.5 .1-1.5 0-1.4 .1-1.5 0-1.5-.1-1.5 0-1.5-.1-1.4 0-1.5-.1-1.5 0-1.5 0-1.5-.1-1.4-.1-1.5-.1-1.5-.3-1.5-.4-1.5-.5-1.5-.7-1.4-.9-1.5-1.1-1.5-1-1.5-1-1.5-.9-1.4-.5-1.5-.2-1.5 .2 0 8.1z"/>
<path transform="translate(427.4 83.5)" d="M-37 -.3l-1.5-.3-1.5-.2-1.5-.1-1.4-.2-1.5-.3-1.5-.2-1.5-.3-1.5-.4-1.5-.4-1.4-.4-1.5-.4-1.5-.4-1.5-.4-1.5-.4-1.4-.4-1.5-.3-1.5-.4-1.5-.3-1.5-.4-1.4-.4-1.5-.3-1.5-.4-1.5-.4-1.5-.4-1.4-.4-1.5-.3-1.5-.2-1.5-.2-1.5 0-1.5 .1-1.4 .2-1.5 .3-1.5 .5-1.5 .5-1.5 .6-1.4 .6-1.5 .6-1.5 .6-1.5 .6-1.5 .6-1.4 .5-1.5 .5-1.5 .4-1.5 .3-1.5 .3-1.5 .3-1.4 .2-1.5 .1-1.5 .1-1.5 0-1.5 0-1.4 0-1.5 0-1.5-.1-1.5-.1-1.5-.1-1.4-.1-1.5-.1-1.5 0-1.5-.1-1.5 0-1.4-.1-1.5-.2-1.5-.3-1.5-.5-1.5-.7-1.5-.9-1.4-1.1-1.5-1.3-1.5-1.4-1.5-1.3-1.5-1-1.4-.7-1.5-.3-1.5 .3 0 10.4z"/>
<path transform="translate(427.3 84)" d="M-38.5 -.3l-1.5-.4-1.5-.1-1.4-.2-1.5-.2-1.5-.2-1.5-.3-1.5-.3-1.5-.3-1.4-.3-1.5-.4-1.5-.3-1.5-.4-1.5-.3-1.4-.4-1.5-.3-1.5-.4-1.5-.4-1.5-.4-1.4-.4-1.5-.4-1.5-.4-1.5-.5-1.5-.4-1.4-.4-1.5-.3-1.5-.3-1.5-.1-1.5-.1-1.5 .1-1.4 .2-1.5 .3-1.5 .5-1.5 .5-1.5 .6-1.4 .6-1.5 .6-1.5 .7-1.5 .6-1.5 .5-1.4 .5-1.5 .4-1.5 .4-1.5 .3-1.5 .3-1.5 .2-1.4 .2-1.5 .1-1.5 0-1.5 0-1.5 0-1.4-.1-1.5-.1-1.5-.1-1.5-.2-1.5-.1-1.4-.2-1.5-.1-1.5-.1-1.5 0-1.5-.1-1.4-.1-1.5-.2-1.5-.4-1.5-.5-1.5-.8-1.5-1.1-1.4-1.4-1.5-1.6-1.5-1.6-1.5-1.6-1.5-1.3-1.4-.9-1.5-.3-1.5 .3 0 12.9z"/>
<path transform="translate(427.3 84.6)" d="M-38.5 -.3l-1.5-.3-1.5-.1-1.4-.1-1.5-.2-1.5-.2-1.5-.2-1.5-.2-1.5-.3-1.4-.3-1.5-.3-1.5-.3-1.5-.3-1.5-.4-1.4-.3-1.5-.4-1.5-.3-1.5-.4-1.5-.5-1.4-.4-1.5-.5-1.5-.5-1.5-.5-1.5-.5-1.4-.4-1.5-.4-1.5-.3-1.5-.2-1.5 0-1.5 .1-1.4 .2-1.5 .3-1.5 .5-1.5 .5-1.5 .6-1.4 .6-1.5 .7-1.5 .6-1.5 .6-1.5 .6-1.4 .5-1.5 .4-1.5 .4-1.5 .3-1.5 .2-1.5 .2-1.4 .1-1.5 .1-1.5 0-1.5 0-1.5-.1-1.4-.2-1.5-.1-1.5-.3-1.5-.2-1.5-.2-1.4-.2-1.5-.1-1.5-.1-1.5-.1-1.5-.1-1.4-.1-1.5-.2-1.5-.4-1.5-.6-1.5-1-1.5-1.2-1.4-1.6-1.5-1.9-1.5-1.9-1.5-1.9-1.5-1.5-1.4-1-1.5-.4-1.5 .4 0 15.3z"/>
<path transform="translate(427.3 85.1)" d="M-40 -.4l-1.5-.2-1.4-.1-1.5-.2-1.5-.1-1.5-.2-1.5-.2-1.5-.2-1.4-.2-1.5-.3-1.5-.3-1.5-.3-1.5-.3-1.4-.3-1.5-.4-1.5-.4-1.5-.4-1.5-.5-1.4-.5-1.5-.6-1.5-.6-1.5-.5-1.5-.6-1.4-.5-1.5-.4-1.5-.3-1.5-.2-1.5-.1-1.5 .1-1.4 .3-1.5 .3-1.5 .5-1.5 .6-1.5 .6-1.4 .7-1.5 .6-1.5 .7-1.5 .6-1.5 .6-1.4 .5-1.5 .4-1.5 .4-1.5 .3-1.5 .2-1.5 .1-1.4 .1-1.5 .1-1.5-.1-1.5-.1-1.5-.1-1.4-.2-1.5-.3-1.5-.3-1.5-.3-1.5-.3-1.4-.2-1.5-.2-1.5-.2-1.5-.1-1.5-.1-1.4-.1-1.5-.2-1.5-.3-1.5-.7-1.5-1-1.5-1.4-1.4-1.7-1.5-2.1-1.5-2.2-1.5-2.1-1.5-1.7-1.4-1.2-1.5-.4-1.5 .4 0 17.5z"/>
<path transform="translate(427.3 85.7)" d="M-41.5 -.4l-1.4-.3-1.5-.1-1.5-.1-1.5-.1-1.5-.2-1.5-.2-1.4-.2-1.5-.2-1.5-.2-1.5-.3-1.5-.3-1.4-.4-1.5-.3-1.5-.5-1.5-.4-1.5-.6-1.4-.5-1.5-.7-1.5-.6-1.5-.6-1.5-.6-1.4-.6-1.5-.4-1.5-.4-1.5-.2-1.5-.1-1.5 .1-1.4 .3-1.5 .3-1.5 .5-1.5 .6-1.5 .7-1.4 .7-1.5 .7-1.5 .7-1.5 .6-1.5 .6-1.4 .5-1.5 .4-1.5 .4-1.5 .3-1.5 .2-1.5 .2-1.4 0-1.5 0-1.5-.1-1.5-.1-1.5-.2-1.4-.4-1.5-.3-1.5-.4-1.5-.4-1.5-.4-1.4-.4-1.5-.2-1.5-.2-1.5-.1-1.5-.1-1.4-.1-1.5-.1-1.5-.4-1.5-.6-1.5-1-1.5-1.5-1.4-1.8-1.5-2.2-1.5-2.4-1.5-2.3-1.5-1.9-1.4-1.2-1.5-.5-1.5 .5 0 19.2z"/>
<path transform="translate(427.3 86.2)" d="M-42.9 -.4l-1.5-.3-1.5-.1-1.5-.1-1.5-.1-1.5-.2-1.4-.1-1.5-.2-1.5-.3-1.5-.2-1.5-.3-1.4-.4-1.5-.4-1.5-.4-1.5-.5-1.5-.6-1.4-.6-1.5-.7-1.5-.7-1.5-.7-1.5-.6-1.4-.6-1.5-.5-1.5-.4-1.5-.2-1.5-.1-1.5 .1-1.4 .2-1.5 .4-1.5 .5-1.5 .6-1.5 .7-1.4 .8-1.5 .7-1.5 .7-1.5 .6-1.5 .6-1.4 .6-1.5 .4-1.5 .4-1.5 .3-1.5 .2-1.5 .1-1.4 .1-1.5-.1-1.5-.1-1.5-.2-1.5-.4-1.4-.4-1.5-.4-1.5-.6-1.5-.5-1.5-.5-1.4-.5-1.5-.3-1.5-.3-1.5-.1-1.5 0-1.4 0-1.5-.1-1.5-.3-1.5-.5-1.5-1-1.5-1.4-1.4-1.9-1.5-2.3-1.5-2.4-1.5-2.4-1.5-2-1.4-1.3-1.5-.5-1.5 .5 0 20.4z"/>
<path transform="translate(427.2 86.8)" d="M-44.4 -.4l-1.5-.3-1.5-.1-1.5-.1-1.5-.1-1.4-.2-1.5-.2-1.5-.2-1.5-.2-1.5-.3-1.4-.4-1.5-.4-1.5-.4-1.5-.6-1.5-.6-1.4-.7-1.5-.7-1.5-.7-1.5-.7-1.5-.7-1.4-.7-1.5-.5-1.5-.4-1.5-.3-1.5-.1-1.5 .1-1.4 .3-1.5 .4-1.5 .5-1.5 .7-1.5 .7-1.4 .7-1.5 .8-1.5 .7-1.5 .7-1.5 .6-1.4 .5-1.5 .5-1.5 .4-1.5 .3-1.5 .2-1.5 .1-1.4 0-1.5-.1-1.5-.2-1.5-.3-1.5-.4-1.4-.6-1.5-.6-1.5-.7-1.5-.7-1.5-.6-1.4-.6-1.5-.5-1.5-.2-1.5-.2-1.5 .1-1.4 0-1.5 .1-1.5-.2-1.5-.4-1.5-.8-1.5-1.3-1.4-1.8-1.5-2.3-1.5-2.4-1.5-2.4-1.5-2-1.4-1.4-1.5-.5-1.5 .5 0 21z"/>
<path transform="translate(427.2 87.3)" d="M-45.9 -.4l-1.5-.3-1.5-.1-1.5-.1-1.4-.2-1.5-.1-1.5-.2-1.5-.3-1.5-.3-1.4-.3-1.5-.4-1.5-.5-1.5-.6-1.5-.6-1.4-.7-1.5-.7-1.5-.8-1.5-.8-1.5-.7-1.4-.7-1.5-.5-1.5-.5-1.5-.2-1.5-.1-1.5 .1-1.4 .2-1.5 .4-1.5 .6-1.5 .6-1.5 .8-1.4 .7-1.5 .8-1.5 .7-1.5 .7-1.5 .6-1.4 .6-1.5 .5-1.5 .3-1.5 .3-1.5 .2-1.5 .1-1.4 0-1.5-.2-1.5-.2-1.5-.4-1.5-.6-1.4-.6-1.5-.8-1.5-.9-1.5-.9-1.5-.8-1.4-.7-1.5-.6-1.5-.3-1.5-.1-1.5 .1-1.4 .1-1.5 .2-1.5 .1-1.5-.2-1.5-.7-1.5-1.1-1.4-1.6-1.5-2.1-1.5-2.3-1.5-2.4-1.5-2-1.4-1.4-1.5-.5-1.5 .5 0 21z"/>
<path transform="translate(427.2 87.9)" d="M-45.9 -.4l-1.5-.3-1.5-.1-1.5-.1-1.4-.1-1.5-.2-1.5-.2-1.5-.2-1.5-.3-1.4-.3-1.5-.4-1.5-.5-1.5-.6-1.5-.6-1.4-.8-1.5-.7-1.5-.8-1.5-.8-1.5-.7-1.4-.7-1.5-.6-1.5-.4-1.5-.3-1.5-.1-1.5 .1-1.4 .2-1.5 .5-1.5 .5-1.5 .7-1.5 .7-1.4 .8-1.5 .7-1.5 .8-1.5 .7-1.5 .6-1.4 .5-1.5 .5-1.5 .4-1.5 .2-1.5 .2-1.5 .1-1.4-.1-1.5-.2-1.5-.3-1.5-.5-1.5-.7-1.4-.8-1.5-1-1.5-1-1.5-1.1-1.5-1-1.4-.8-1.5-.7-1.5-.4-1.5-.1-1.5 .1-1.4 .3-1.5 .4-1.5 .3-1.5 0-1.5-.4-1.5-.8-1.4-1.4-1.5-1.9-1.5-2.1-1.5-2.2-1.5-2-1.4-1.4-1.5-.5-1.5 .4 0 20.6z"/>
<path transform="translate(427.2 88.4)" d="M-45.9 -.4l-1.5-.3-1.5 0-1.5-.2-1.4-.1-1.5-.1-1.5-.2-1.5-.2-1.5-.3-1.4-.4-1.5-.4-1.5-.5-1.5-.5-1.5-.7-1.4-.7-1.5-.8-1.5-.8-1.5-.8-1.5-.7-1.4-.7-1.5-.6-1.5-.5-1.5-.2-1.5-.1-1.5 .1-1.4 .2-1.5 .5-1.5 .5-1.5 .7-1.5 .7-1.4 .8-1.5 .7-1.5 .8-1.5 .6-1.5 .7-1.4 .5-1.5 .4-1.5 .4-1.5 .3-1.5 .1-1.5 .1-1.4-.1-1.5-.3-1.5-.4-1.5-.6-1.5-.8-1.4-1-1.5-1.1-1.5-1.3-1.5-1.2-1.5-1.2-1.4-1.1-1.5-.8-1.5-.4-1.5-.1-1.5 .2-1.4 .4-1.5 .6-1.5 .5-1.5 .3-1.5 0-1.5-.6-1.4-1-1.5-1.6-1.5-2-1.5-2-1.5-1.9-1.4-1.4-1.5-.6-1.5 .3 0 20z"/>
<path transform="translate(427.2 89)" d="M-45.9 -.4l-1.5-.3-1.5-.1-1.5-.1-1.4-.1-1.5-.1-1.5-.2-1.5-.2-1.5-.3-1.4-.4-1.5-.4-1.5-.4-1.5-.6-1.5-.7-1.4-.7-1.5-.7-1.5-.8-1.5-.8-1.5-.8-1.4-.7-1.5-.6-1.5-.4-1.5-.3-1.5 0-1.5 .1-1.4 .2-1.5 .5-1.5 .5-1.5 .7-1.5 .7-1.4 .7-1.5 .8-1.5 .7-1.5 .6-1.5 .6-1.4 .5-1.5 .5-1.5 .3-1.5 .3-1.5 .1-1.5 0-1.4-.1-1.5-.3-1.5-.5-1.5-.7-1.5-1-1.4-1.1-1.5-1.3-1.5-1.5-1.5-1.4-1.5-1.4-1.4-1.2-1.5-.9-1.5-.6-1.5-.1-1.5 .3-1.4 .6-1.5 .8-1.5 .7-1.5 .7-1.5 .2-1.5-.1-1.4-.8-1.5-1.3-1.5-1.7-1.5-1.9-1.5-1.8-1.4-1.4-1.5-.7-1.5 .3 0 19.2z"/>
<path transform="translate(427.1 89.6)" d="M-44.4 -.4l-1.5-.2-1.5-.1-1.5-.1-1.5-.1-1.4-.2-1.5-.1-1.5-.2-1.5-.2-1.5-.3-1.4-.3-1.5-.4-1.5-.5-1.5-.5-1.5-.7-1.4-.7-1.5-.7-1.5-.8-1.5-.8-1.5-.8-1.4-.6-1.5-.6-1.5-.4-1.5-.3-1.5 0-1.5 .1-1.4 .3-1.5 .4-1.5 .6-1.5 .6-1.5 .7-1.4 .7-1.5 .7-1.5 .7-1.5 .6-1.5 .6-1.4 .5-1.5 .4-1.5 .3-1.5 .2-1.5 .1-1.5 0-1.4-.1-1.5-.4-1.5-.6-1.5-.8-1.5-1-1.4-1.3-1.5-1.5-1.5-1.6-1.5-1.7-1.5-1.6-1.4-1.3-1.5-1.1-1.5-.5-1.5-.2-1.5 .4-1.4 .7-1.5 1-1.5 1-1.5 .9-1.5 .6-1.5 .2-1.4-.4-1.5-1-1.5-1.5-1.5-1.7-1.5-1.8-1.4-1.4-1.5-.7-1.5 .2 0 18.4z"/>
<path transform="translate(427.1 90.1)" d="M-42.9 -.4l-1.5-.2-1.5-.1-1.5-.1-1.5-.1-1.5-.2-1.4-.1-1.5-.1-1.5-.2-1.5-.2-1.5-.3-1.4-.3-1.5-.4-1.5-.5-1.5-.5-1.5-.6-1.4-.7-1.5-.8-1.5-.8-1.5-.7-1.5-.8-1.4-.6-1.5-.6-1.5-.4-1.5-.2-1.5 0-1.5 .1-1.4 .3-1.5 .5-1.5 .5-1.5 .6-1.5 .7-1.4 .7-1.5 .7-1.5 .6-1.5 .6-1.5 .5-1.4 .5-1.5 .4-1.5 .3-1.5 .2-1.5 .1-1.5-.1-1.4-.2-1.5-.4-1.5-.6-1.5-.9-1.5-1.1-1.4-1.5-1.5-1.6-1.5-1.8-1.5-1.9-1.5-1.7-1.4-1.5-1.5-1.1-1.5-.7-1.5-.1-1.5 .4-1.4 .9-1.5 1.1-1.5 1.3-1.5 1.1-1.5 1-1.5 .4-1.4-.1-1.5-.7-1.5-1.2-1.5-1.7-1.5-1.7-1.4-1.4-1.5-.8-1.5 .2 0 17.7z"/>
<path transform="translate(427.1 90.7)" d="M-41.5 -.4l-1.4-.2-1.5-.1-1.5-.1-1.5-.2-1.5-.1-1.5-.1-1.4-.2-1.5-.2-1.5-.1-1.5-.3-1.5-.2-1.4-.3-1.5-.4-1.5-.5-1.5-.5-1.5-.6-1.4-.7-1.5-.7-1.5-.8-1.5-.7-1.5-.8-1.4-.6-1.5-.5-1.5-.4-1.5-.2-1.5 0-1.5 .2-1.4 .3-1.5 .5-1.5 .5-1.5 .7-1.5 .6-1.4 .7-1.5 .6-1.5 .6-1.5 .5-1.5 .5-1.4 .4-1.5 .4-1.5 .3-1.5 .2-1.5 .1-1.5-.1-1.4-.2-1.5-.5-1.5-.6-1.5-1-1.5-1.2-1.4-1.5-1.5-1.8-1.5-2-1.5-1.9-1.5-1.9-1.4-1.6-1.5-1.2-1.5-.7-1.5-.2-1.5 .5-1.4 .9-1.5 1.3-1.5 1.5-1.5 1.4-1.5 1.1-1.5 .8-1.4 .1-1.5-.4-1.5-1.1-1.5-1.5-1.5-1.6-1.4-1.4-1.5-.9-1.5 .1 0 17.1z"/>
<path transform="translate(427.1 91.2)" d="M-38.5 -.3l-1.5-.3-1.5-.1-1.4-.1-1.5-.1-1.5-.1-1.5-.1-1.5-.2-1.5-.2-1.4-.2-1.5-.2-1.5-.2-1.5-.2-1.5-.2-1.4-.3-1.5-.4-1.5-.5-1.5-.5-1.5-.6-1.4-.7-1.5-.7-1.5-.8-1.5-.7-1.5-.7-1.4-.6-1.5-.5-1.5-.4-1.5-.1-1.5 0-1.5 .2-1.4 .4-1.5 .5-1.5 .6-1.5 .6-1.5 .7-1.4 .6-1.5 .6-1.5 .5-1.5 .5-1.5 .5-1.4 .4-1.5 .3-1.5 .2-1.5 .2-1.5 .1-1.5-.1-1.4-.2-1.5-.5-1.5-.6-1.5-1-1.5-1.3-1.4-1.6-1.5-1.9-1.5-2-1.5-2.1-1.5-2-1.4-1.7-1.5-1.2-1.5-.8-1.5-.1-1.5 .5-1.4 1-1.5 1.4-1.5 1.6-1.5 1.5-1.5 1.4-1.5 .9-1.4 .4-1.5-.2-1.5-.9-1.5-1.4-1.5-1.5-1.4-1.4-1.5-.9-1.5 .1 0 16.4z"/>
<path transform="translate(427.1 91.8)" d="M-37 -.3l-1.5-.3-1.5-.1-1.5-.1-1.4-.1-1.5-.1-1.5-.2-1.5-.2-1.5-.2-1.5-.3-1.4-.2-1.5-.2-1.5-.2-1.5-.2-1.5-.3-1.4-.3-1.5-.4-1.5-.4-1.5-.6-1.5-.6-1.4-.7-1.5-.7-1.5-.7-1.5-.8-1.5-.7-1.4-.6-1.5-.4-1.5-.4-1.5-.1-1.5 .1-1.5 .3-1.4 .5-1.5 .5-1.5 .6-1.5 .7-1.5 .6-1.4 .6-1.5 .6-1.5 .5-1.5 .4-1.5 .4-1.4 .4-1.5 .3-1.5 .2-1.5 .2-1.5 .1-1.5-.1-1.4-.2-1.5-.5-1.5-.7-1.5-.9-1.5-1.4-1.4-1.6-1.5-1.9-1.5-2-1.5-2.2-1.5-2-1.4-1.7-1.5-1.3-1.5-.8-1.5-.1-1.5 .5-1.4 1-1.5 1.4-1.5 1.7-1.5 1.7-1.5 1.4-1.5 1.1-1.4 .6-1.5-.1-1.5-.7-1.5-1.2-1.5-1.4-1.4-1.3-1.5-.8-1.5 0 0 15.6z"/>
<path transform="translate(427 92.3)" d="M-34.1 -.3l-1.4-.3-1.5 0-1.5-.1-1.5-.1-1.5-.1-1.4-.2-1.5-.2-1.5-.2-1.5-.3-1.5-.3-1.5-.2-1.4-.3-1.5-.2-1.5-.3-1.5-.2-1.5-.3-1.4-.3-1.5-.4-1.5-.5-1.5-.6-1.5-.6-1.4-.7-1.5-.7-1.5-.8-1.5-.7-1.5-.7-1.4-.5-1.5-.5-1.5-.3-1.5 0-1.5 .2-1.5 .3-1.4 .5-1.5 .7-1.5 .6-1.5 .7-1.5 .6-1.4 .6-1.5 .5-1.5 .5-1.5 .4-1.5 .4-1.4 .3-1.5 .3-1.5 .2-1.5 .2-1.5 0-1.5 0-1.4-.2-1.5-.4-1.5-.7-1.5-.9-1.5-1.3-1.4-1.6-1.5-1.9-1.5-2-1.5-2.1-1.5-2.1-1.4-1.7-1.5-1.3-1.5-.8-1.5-.1-1.5 .5-1.4 1-1.5 1.4-1.5 1.7-1.5 1.7-1.5 1.5-1.5 1.2-1.4 .7-1.5 .1-1.5-.6-1.5-1-1.5-1.3-1.4-1.1-1.5-.8-1.5 0 0 14.7z"/>
<path transform="translate(427 92.9)" d="M-31.1 -.3l-1.5-.3-1.5 0-1.4-.1-1.5-.1-1.5-.1-1.5-.1-1.5-.2-1.4-.2-1.5-.2-1.5-.3-1.5-.3-1.5-.4-1.5-.3-1.4-.4-1.5-.2-1.5-.3-1.5-.3-1.5-.2-1.4-.4-1.5-.4-1.5-.5-1.5-.6-1.5-.7-1.4-.7-1.5-.8-1.5-.7-1.5-.7-1.5-.7-1.4-.6-1.5-.4-1.5-.2-1.5 0-1.5 .2-1.5 .5-1.4 .6-1.5 .7-1.5 .7-1.5 .7-1.5 .7-1.4 .6-1.5 .4-1.5 .5-1.5 .3-1.5 .4-1.4 .3-1.5 .2-1.5 .3-1.5 .1-1.5 .1-1.5 0-1.4-.1-1.5-.4-1.5-.6-1.5-.9-1.5-1.2-1.4-1.5-1.5-1.8-1.5-2-1.5-2-1.5-2-1.4-1.7-1.5-1.3-1.5-.7-1.5-.2-1.5 .5-1.4 1-1.5 1.3-1.5 1.7-1.5 1.6-1.5 1.6-1.5 1.2-1.4 .8-1.5 .1-1.5-.3-1.5-.8-1.5-1.1-1.4-1-1.5-.6-1.5 0 0 13.5z"/>
<path transform="translate(427 93.4)" d="M-28.1 -.2l-1.5-.3-1.5-.1-1.5 0-1.5-.1-1.4-.1-1.5-.1-1.5-.1-1.5-.2-1.5-.2-1.4-.3-1.5-.3-1.5-.4-1.5-.4-1.5-.4-1.5-.5-1.4-.4-1.5-.3-1.5-.3-1.5-.3-1.5-.3-1.4-.4-1.5-.4-1.5-.6-1.5-.6-1.5-.7-1.4-.8-1.5-.7-1.5-.8-1.5-.7-1.5-.7-1.4-.5-1.5-.4-1.5-.2-1.5 .1-1.5 .3-1.5 .5-1.4 .8-1.5 .7-1.5 .8-1.5 .8-1.5 .7-1.4 .5-1.5 .5-1.5 .4-1.5 .3-1.5 .3-1.4 .3-1.5 .3-1.5 .2-1.5 .2-1.5 .1-1.5 .1-1.4-.1-1.5-.3-1.5-.5-1.5-.8-1.5-1.1-1.4-1.4-1.5-1.6-1.5-1.9-1.5-1.9-1.5-1.9-1.4-1.6-1.5-1.2-1.5-.7-1.5-.2-1.5 .4-1.4 .9-1.5 1.3-1.5 1.5-1.5 1.6-1.5 1.5-1.5 1.2-1.4 .8-1.5 .2-1.5-.2-1.5-.6-1.5-.8-1.4-.8-1.5-.4-1.5 .1 0 12.1z"/>
<path transform="translate(427 94)" d="M-25.2 -.2l-1.5-.3-1.4 0-1.5-.1-1.5-.1-1.5 0-1.5-.1-1.4-.1-1.5-.2-1.5-.2-1.5-.2-1.5-.3-1.4-.3-1.5-.4-1.5-.5-1.5-.5-1.5-.5-1.5-.6-1.4-.4-1.5-.4-1.5-.4-1.5-.3-1.5-.3-1.4-.4-1.5-.5-1.5-.6-1.5-.7-1.5-.7-1.4-.8-1.5-.8-1.5-.8-1.5-.7-1.5-.6-1.4-.5-1.5-.4-1.5-.2-1.5 .2-1.5 .4-1.5 .6-1.4 .8-1.5 .9-1.5 .9-1.5 .8-1.5 .7-1.4 .5-1.5 .5-1.5 .3-1.5 .3-1.5 .3-1.4 .3-1.5 .2-1.5 .3-1.5 .2-1.5 .2-1.5 .1-1.4 0-1.5-.2-1.5-.4-1.5-.6-1.5-.9-1.4-1.3-1.5-1.5-1.5-1.6-1.5-1.8-1.5-1.7-1.4-1.5-1.5-1.1-1.5-.7-1.5-.2-1.5 .4-1.4 .8-1.5 1.1-1.5 1.4-1.5 1.5-1.5 1.3-1.5 1.1-1.4 .8-1.5 .4-1.5-.1-1.5-.4-1.5-.6-1.4-.5-1.5-.3-1.5 .1 0 10.8z"/>
<path transform="translate(426.9 94.5)" d="M-23.7 -.2l-1.5-.3-1.5 0-1.4-.1-1.5-.1-1.5-.1-1.5-.1-1.5-.1-1.4-.1-1.5-.2-1.5-.2-1.5-.3-1.5-.4-1.4-.4-1.5-.5-1.5-.6-1.5-.6-1.5-.7-1.5-.6-1.4-.5-1.5-.5-1.5-.4-1.5-.3-1.5-.4-1.4-.4-1.5-.5-1.5-.6-1.5-.8-1.5-.8-1.4-.8-1.5-.8-1.5-.7-1.5-.7-1.5-.7-1.4-.5-1.5-.3-1.5-.1-1.5 .2-1.5 .4-1.5 .8-1.4 .8-1.5 1-1.5 .9-1.5 .9-1.5 .7-1.4 .5-1.5 .5-1.5 .3-1.5 .3-1.5 .2-1.4 .3-1.5 .3-1.5 .2-1.5 .3-1.5 .3-1.5 .2-1.4 .1-1.5-.1-1.5-.2-1.5-.5-1.5-.8-1.4-1-1.5-1.3-1.5-1.4-1.5-1.6-1.5-1.5-1.4-1.3-1.5-1.1-1.5-.6-1.5-.2-1.5 .3-1.4 .7-1.5 1-1.5 1.2-1.5 1.3-1.5 1.2-1.5 1-1.4 .7-1.5 .4-1.5 0-1.5-.2-1.5-.3-1.4-.4-1.5-.1-1.5 .2 0 9.5z"/>
<path transform="translate(426.9 95.1)" d="M-22.2 -.2l-1.5-.3-1.5 0-1.5-.1-1.4-.1-1.5-.1-1.5-.1-1.5-.1-1.5-.2-1.4-.1-1.5-.3-1.5-.2-1.5-.4-1.5-.4-1.4-.6-1.5-.6-1.5-.7-1.5-.8-1.5-.7-1.5-.7-1.4-.7-1.5-.5-1.5-.4-1.5-.4-1.5-.3-1.4-.4-1.5-.6-1.5-.7-1.5-.8-1.5-.8-1.4-.8-1.5-.8-1.5-.8-1.5-.6-1.5-.6-1.4-.5-1.5-.3-1.5-.1-1.5 .2-1.5 .5-1.5 .8-1.4 1-1.5 1-1.5 1-1.5 .8-1.5 .7-1.4 .6-1.5 .4-1.5 .3-1.5 .2-1.5 .3-1.4 .2-1.5 .3-1.5 .3-1.5 .3-1.5 .4-1.5 .3-1.4 .2-1.5 .1-1.5-.1-1.5-.3-1.5-.6-1.4-.8-1.5-1-1.5-1.2-1.5-1.3-1.5-1.3-1.4-1.1-1.5-.9-1.5-.6-1.5-.2-1.5 .2-1.4 .6-1.5 .8-1.5 1-1.5 1.1-1.5 1-1.5 .9-1.4 .6-1.5 .4-1.5 .1-1.5 0-1.5-.2-1.4-.2-1.5 0-1.5 .3 0 8.4z"/>
<path transform="translate(426.9 95.7)" d="M-20.7 -.2l-1.5-.3-1.5 0-1.5-.1-1.5-.1-1.4-.1-1.5-.1-1.5-.2-1.5-.1-1.5-.2-1.4-.2-1.5-.3-1.5-.3-1.5-.4-1.5-.6-1.4-.6-1.5-.8-1.5-.8-1.5-.9-1.5-.8-1.5-.9-1.4-.7-1.5-.6-1.5-.4-1.5-.4-1.5-.3-1.4-.4-1.5-.6-1.5-.7-1.5-.8-1.5-.9-1.4-.8-1.5-.8-1.5-.7-1.5-.6-1.5-.6-1.4-.4-1.5-.3-1.5-.1-1.5 .3-1.5 .5-1.5 .8-1.4 1-1.5 1-1.5 1-1.5 .9-1.5 .6-1.4 .6-1.5 .3-1.5 .3-1.5 .2-1.5 .2-1.4 .3-1.5 .3-1.5 .3-1.5 .4-1.5 .5-1.5 .4-1.4 .3-1.5 .3-1.5 0-1.5 0-1.5-.4-1.4-.5-1.5-.8-1.5-.9-1.5-1-1.5-1.1-1.4-.9-1.5-.8-1.5-.5-1.5-.2-1.5 .2-1.4 .4-1.5 .6-1.5 .8-1.5 .9-1.5 .8-1.5 .7-1.4 .5-1.5 .4-1.5 .2-1.5 0-1.5 0-1.4 0-1.5 .1-1.5 .3 0 7.5z"/>
<path transform="translate(426.9 96.2)" d="M-19.3 -.2l-1.4-.2-1.5-.1-1.5-.1-1.5-.1-1.5-.1-1.4-.1-1.5-.2-1.5-.1-1.5-.2-1.5-.2-1.4-.3-1.5-.3-1.5-.4-1.5-.5-1.5-.7-1.4-.7-1.5-.9-1.5-.9-1.5-1-1.5-1-1.5-.9-1.4-.8-1.5-.6-1.5-.5-1.5-.3-1.5-.4-1.4-.4-1.5-.5-1.5-.7-1.5-.8-1.5-.9-1.4-.8-1.5-.7-1.5-.7-1.5-.6-1.5-.5-1.4-.4-1.5-.3-1.5-.1-1.5 .3-1.5 .5-1.5 .8-1.4 1-1.5 1-1.5 .9-1.5 .8-1.5 .6-1.4 .5-1.5 .3-1.5 .2-1.5 .2-1.5 .2-1.4 .2-1.5 .4-1.5 .4-1.5 .5-1.5 .5-1.5 .5-1.4 .5-1.5 .4-1.5 .3-1.5 .1-1.5 0-1.4-.3-1.5-.5-1.5-.7-1.5-.7-1.5-.8-1.4-.8-1.5-.6-1.5-.4-1.5-.2-1.5 .1-1.4 .3-1.5 .5-1.5 .6-1.5 .6-1.5 .6-1.5 .6-1.4 .4-1.5 .3-1.5 .2-1.5 .1-1.5 0-1.4 .1-1.5 .3-1.5 .3 0 6.8z"/>
<path transform="translate(426.9 96.8)" d="M-17.8 -.2l-1.5-.2-1.4-.1-1.5-.1-1.5-.1-1.5-.1-1.5-.1-1.4-.2-1.5-.1-1.5-.2-1.5-.2-1.5-.2-1.4-.3-1.5-.4-1.5-.5-1.5-.6-1.5-.8-1.4-.9-1.5-1-1.5-1-1.5-1.1-1.5-1.1-1.5-1-1.4-.8-1.5-.7-1.5-.4-1.5-.3-1.5-.3-1.4-.4-1.5-.5-1.5-.7-1.5-.7-1.5-.8-1.4-.8-1.5-.7-1.5-.6-1.5-.5-1.5-.5-1.4-.4-1.5-.3-1.5 0-1.5 .2-1.5 .4-1.5 .8-1.4 .8-1.5 1-1.5 .8-1.5 .7-1.5 .5-1.4 .4-1.5 .2-1.5 .2-1.5 .1-1.5 .2-1.4 .3-1.5 .3-1.5 .5-1.5 .6-1.5 .6-1.5 .7-1.4 .6-1.5 .6-1.5 .5-1.5 .4-1.5 .1-1.4 0-1.5-.2-1.5-.4-1.5-.5-1.5-.5-1.4-.6-1.5-.4-1.5-.4-1.5-.1-1.5 0-1.4 .2-1.5 .3-1.5 .4-1.5 .4-1.5 .5-1.5 .3-1.4 .3-1.5 .2-1.5 .2-1.5 .1-1.5 .2-1.4 .1-1.5 .3-1.5 .4 0 6.3z"/>
<path transform="translate(426.8 97.3)" d="M-17.8 -.2l-1.5-.3-1.4-.1-1.5-.1-1.5-.1-1.5-.1-1.5-.1-1.4-.2-1.5-.2-1.5-.2-1.5-.2-1.5-.3-1.4-.4-1.5-.4-1.5-.6-1.5-.7-1.5-.8-1.4-1-1.5-1.1-1.5-1.2-1.5-1.2-1.5-1.2-1.5-1-1.4-.8-1.5-.7-1.5-.4-1.5-.3-1.5-.2-1.4-.3-1.5-.4-1.5-.6-1.5-.7-1.5-.8-1.4-.7-1.5-.6-1.5-.5-1.5-.5-1.5-.4-1.4-.4-1.5-.3-1.5-.1-1.5 .2-1.5 .3-1.5 .6-1.4 .8-1.5 .7-1.5 .7-1.5 .6-1.5 .4-1.4 .2-1.5 .1-1.5 .1-1.5 .1-1.5 .2-1.4 .3-1.5 .4-1.5 .5-1.5 .7-1.5 .7-1.5 .8-1.4 .8-1.5 .8-1.5 .7-1.5 .6-1.5 .4-1.4 .2-1.5 .1-1.5-.1-1.5-.3-1.5-.3-1.4-.3-1.5-.3-1.5-.3-1.5-.1-1.5 0-1.4 .1-1.5 .2-1.5 .2-1.5 .2-1.5 .3-1.5 .2-1.4 .2-1.5 .1-1.5 .1-1.5 .2-1.5 .1-1.4 .2-1.5 .4-1.5 .4 0 5.9z"/>
<path transform="translate(426.8 97.9)" d="M-16.3 -.1l-1.5-.3-1.5-.1-1.4-.1-1.5-.1-1.5-.2-1.5-.1-1.5-.2-1.4-.1-1.5-.3-1.5-.2-1.5-.3-1.5-.3-1.4-.4-1.5-.5-1.5-.6-1.5-.8-1.5-.9-1.4-1.1-1.5-1.2-1.5-1.3-1.5-1.3-1.5-1.2-1.5-1-1.4-.9-1.5-.6-1.5-.4-1.5-.2-1.5-.1-1.4-.2-1.5-.3-1.5-.5-1.5-.7-1.5-.6-1.4-.6-1.5-.6-1.5-.4-1.5-.4-1.5-.4-1.4-.4-1.5-.3-1.5-.1-1.5 0-1.5 .2-1.5 .4-1.4 .6-1.5 .5-1.5 .5-1.5 .4-1.5 .2-1.4 .1-1.5 0-1.5 0-1.5 0-1.5 .2-1.4 .3-1.5 .4-1.5 .6-1.5 .8-1.5 .8-1.5 1-1.4 1-1.5 .9-1.5 .9-1.5 .8-1.5 .7-1.4 .4-1.5 .3-1.5 .2-1.5 0-1.5-.1-1.4-.1-1.5-.2-1.5-.2-1.5-.1-1.5 0-1.4 0-1.5 .1-1.5 .1-1.5 .1-1.5 .1-1.5 .1-1.4 .1-1.5 0-1.5 .1-1.5 .1-1.5 .2-1.4 .2-1.5 .3-1.5 .4 0 5.7z"/>
<path transform="translate(426.8 98.4)" d="M-16.3 -.1l-1.5-.4-1.5-.1-1.4-.1-1.5-.1-1.5-.1-1.5-.2-1.5-.2-1.4-.2-1.5-.2-1.5-.3-1.5-.3-1.5-.3-1.4-.5-1.5-.5-1.5-.7-1.5-.9-1.5-1-1.4-1.2-1.5-1.2-1.5-1.4-1.5-1.3-1.5-1.2-1.5-1.1-1.4-.8-1.5-.6-1.5-.3-1.5-.1-1.5 0-1.4-.1-1.5-.2-1.5-.4-1.5-.5-1.5-.5-1.4-.5-1.5-.5-1.5-.4-1.5-.3-1.5-.4-1.4-.3-1.5-.4-1.5-.3-1.5-.1-1.5 0-1.5 .2-1.4 .3-1.5 .3-1.5 .3-1.5 .1-1.5 0-1.4-.1-1.5-.1-1.5-.1-1.5 0-1.5 .1-1.4 .3-1.5 .5-1.5 .7-1.5 .8-1.5 1-1.5 1.1-1.4 1.1-1.5 1.2-1.5 1.1-1.5 1-1.5 .8-1.4 .8-1.5 .5-1.5 .4-1.5 .2-1.5 .1-1.4 .1-1.5-.1-1.5 0-1.5-.1-1.5 0-1.4-.1-1.5 0-1.5 0-1.5 0-1.5 0-1.5 0-1.4-.1-1.5 0-1.5 .1-1.5 .1-1.5 .1-1.4 .2-1.5 .4-1.5 .3 0 5.5z"/>
<path transform="translate(426.8 99)" d="M-14.8 -.1l-1.5-.3-1.5-.1-1.5-.1-1.4-.1-1.5-.2-1.5-.1-1.5-.2-1.5-.2-1.4-.2-1.5-.3-1.5-.3-1.5-.3-1.5-.4-1.4-.5-1.5-.6-1.5-.7-1.5-.9-1.5-1.1-1.4-1.2-1.5-1.3-1.5-1.4-1.5-1.3-1.5-1.2-1.5-1-1.4-.8-1.5-.5-1.5-.2-1.5-.1-1.5 .1-1.4 .1-1.5-.1-1.5-.3-1.5-.3-1.5-.4-1.4-.4-1.5-.4-1.5-.3-1.5-.3-1.5-.4-1.4-.4-1.5-.4-1.5-.4-1.5-.3-1.5-.2-1.5-.1-1.4 .1-1.5 0-1.5-.1-1.5-.1-1.5-.2-1.4-.3-1.5-.3-1.5-.2-1.5-.1-1.5 .1-1.4 .3-1.5 .5-1.5 .8-1.5 .9-1.5 1.2-1.5 1.2-1.4 1.3-1.5 1.3-1.5 1.3-1.5 1.2-1.5 1.1-1.4 .9-1.5 .8-1.5 .6-1.5 .4-1.5 .3-1.4 .2-1.5 .1-1.5 0-1.5 0-1.5 0-1.4-.1-1.5-.1-1.5 0-1.5-.1-1.5-.1-1.5-.1-1.4-.1-1.5-.1-1.5 0-1.5 0-1.5 .2-1.4 .2-1.5 .3-1.5 .4 0 5.2z"/>
<path transform="translate(426.8 99.5)" d="M-14.8 -.1l-1.5-.3-1.5-.1-1.5-.1-1.4-.2-1.5-.1-1.5-.2-1.5-.2-1.5-.2-1.4-.3-1.5-.2-1.5-.3-1.5-.4-1.5-.4-1.4-.5-1.5-.7-1.5-.7-1.5-1-1.5-1.1-1.4-1.2-1.5-1.3-1.5-1.4-1.5-1.3-1.5-1.1-1.5-1-1.4-.7-1.5-.5-1.5-.1-1.5 .1-1.5 .2-1.4 .1-1.5 .1-1.5-.1-1.5-.2-1.5-.3-1.4-.3-1.5-.3-1.5-.2-1.5-.3-1.5-.4-1.4-.4-1.5-.6-1.5-.5-1.5-.5-1.5-.4-1.5-.4-1.4-.3-1.5-.3-1.5-.4-1.5-.4-1.5-.5-1.4-.4-1.5-.5-1.5-.3-1.5-.1-1.5 0-1.4 .3-1.5 .6-1.5 .8-1.5 1.1-1.5 1.2-1.5 1.4-1.4 1.5-1.5 1.4-1.5 1.5-1.5 1.4-1.5 1.3-1.4 1.1-1.5 1-1.5 .8-1.5 .6-1.5 .5-1.4 .3-1.5 .2-1.5 .1-1.5 .1-1.5-.1-1.4 0-1.5-.1-1.5-.2-1.5-.1-1.5-.2-1.5-.2-1.4-.1-1.5-.1-1.5 0-1.5 0-1.5 .1-1.4 .2-1.5 .3-1.5 .3 0 5z"/>
<path transform="translate(426.7 100.1)" d="M-14.8 -.1l-1.5-.3-1.5-.1-1.5-.2-1.4-.1-1.5-.2-1.5-.2-1.5-.2-1.5-.2-1.4-.3-1.5-.3-1.5-.3-1.5-.4-1.5-.4-1.4-.5-1.5-.7-1.5-.8-1.5-.9-1.5-1.1-1.4-1.2-1.5-1.3-1.5-1.4-1.5-1.2-1.5-1.1-1.5-.9-1.4-.6-1.5-.4-1.5 0-1.5 .2-1.5 .3-1.4 .2-1.5 .2-1.5 .1-1.5-.1-1.5-.2-1.4-.2-1.5-.2-1.5-.2-1.5-.3-1.5-.4-1.4-.6-1.5-.6-1.5-.7-1.5-.7-1.5-.7-1.5-.6-1.4-.6-1.5-.7-1.5-.7-1.5-.7-1.5-.7-1.4-.7-1.5-.5-1.5-.5-1.5-.2-1.5 0-1.4 .4-1.5 .6-1.5 .9-1.5 1.1-1.5 1.4-1.5 1.5-1.4 1.6-1.5 1.6-1.5 1.6-1.5 1.6-1.5 1.5-1.4 1.3-1.5 1.1-1.5 1-1.5 .8-1.5 .6-1.4 .4-1.5 .3-1.5 .2-1.5 .1-1.5 0-1.4 0-1.5-.1-1.5-.2-1.5-.2-1.5-.2-1.5-.2-1.4-.1-1.5-.2-1.5 0-1.5 0-1.5 .1-1.4 .2-1.5 .2-1.5 .4 0 4.6z"/>
<path transform="translate(426.7 100.7)" d="M-13.3 -.1l-1.5-.3-1.5-.1-1.5-.1-1.5-.1-1.4-.2-1.5-.1-1.5-.2-1.5-.2-1.5-.3-1.4-.3-1.5-.3-1.5-.3-1.5-.4-1.5-.5-1.4-.5-1.5-.7-1.5-.8-1.5-.9-1.5-1.1-1.4-1.1-1.5-1.3-1.5-1.2-1.5-1.2-1.5-1-1.5-.8-1.4-.5-1.5-.3-1.5 .1-1.5 .2-1.5 .4-1.4 .4-1.5 .3-1.5 .2-1.5 0-1.5 0-1.4-.2-1.5-.2-1.5-.2-1.5-.3-1.5-.5-1.4-.6-1.5-.7-1.5-.9-1.5-.9-1.5-.9-1.5-1-1.4-.9-1.5-1-1.5-.9-1.5-1-1.5-1-1.4-.9-1.5-.7-1.5-.5-1.5-.3-1.5 0-1.4 .3-1.5 .7-1.5 .9-1.5 1.3-1.5 1.4-1.5 1.6-1.4 1.8-1.5 1.8-1.5 1.7-1.5 1.7-1.5 1.7-1.4 1.4-1.5 1.3-1.5 1.1-1.5 1-1.5 .7-1.4 .6-1.5 .4-1.5 .3-1.5 .1-1.5 0-1.4 0-1.5-.1-1.5-.2-1.5-.2-1.5-.2-1.5-.2-1.4-.2-1.5-.1-1.5-.1-1.5 0-1.5 .1-1.4 .2-1.5 .2-1.5 .3 0 4.3z"/>
<path transform="translate(426.7 101.2)" d="M-13.3 -.1l-1.5-.3-1.5-.1-1.5-.1-1.5-.1-1.4-.2-1.5-.2-1.5-.2-1.5-.2-1.5-.3-1.4-.2-1.5-.4-1.5-.3-1.5-.4-1.5-.5-1.4-.5-1.5-.7-1.5-.7-1.5-.9-1.5-1-1.4-1.1-1.5-1.2-1.5-1.1-1.5-1.1-1.5-.9-1.5-.7-1.4-.4-1.5-.2-1.5 .1-1.5 .3-1.5 .5-1.4 .5-1.5 .4-1.5 .2-1.5 .2-1.5 0-1.4-.1-1.5-.2-1.5-.2-1.5-.4-1.5-.5-1.4-.7-1.5-.9-1.5-1-1.5-1.1-1.5-1.2-1.5-1.2-1.4-1.2-1.5-1.3-1.5-1.2-1.5-1.3-1.5-1.1-1.4-1.1-1.5-.9-1.5-.6-1.5-.3-1.5 0-1.4 .3-1.5 .7-1.5 1-1.5 1.3-1.5 1.5-1.5 1.8-1.4 1.8-1.5 1.9-1.5 1.9-1.5 1.9-1.5 1.7-1.4 1.6-1.5 1.4-1.5 1.3-1.5 1-1.5 .9-1.4 .6-1.5 .5-1.5 .4-1.5 .2-1.5 .1-1.4-.1-1.5 0-1.5-.2-1.5-.2-1.5-.2-1.5-.2-1.4-.2-1.5-.1-1.5-.1-1.5 0-1.5 0-1.4 .2-1.5 .2-1.5 .3 0 3.9z"/>
<path transform="translate(426.7 101.8)" d="M-13.3 -.1l-1.5-.3-1.5-.1-1.5-.1-1.5-.1-1.4-.2-1.5-.2-1.5-.2-1.5-.2-1.5-.3-1.4-.3-1.5-.3-1.5-.4-1.5-.4-1.5-.4-1.4-.5-1.5-.7-1.5-.7-1.5-.8-1.5-1-1.4-1-1.5-1-1.5-1.1-1.5-.9-1.5-.8-1.5-.6-1.4-.3-1.5-.1-1.5 .2-1.5 .3-1.5 .5-1.4 .5-1.5 .5-1.5 .3-1.5 .2-1.5 .1-1.4-.1-1.5-.1-1.5-.3-1.5-.4-1.5-.7-1.4-.8-1.5-1-1.5-1.1-1.5-1.3-1.5-1.4-1.5-1.4-1.4-1.5-1.5-1.5-1.5-1.5-1.5-1.5-1.5-1.3-1.4-1.2-1.5-1-1.5-.7-1.5-.4-1.5-.1-1.4 .4-1.5 .7-1.5 1.1-1.5 1.3-1.5 1.6-1.5 1.9-1.4 1.9-1.5 2-1.5 2-1.5 2-1.5 1.8-1.4 1.7-1.5 1.6-1.5 1.3-1.5 1.1-1.5 1-1.4 .7-1.5 .6-1.5 .4-1.5 .3-1.5 .1-1.4 0-1.5 0-1.5-.2-1.5-.1-1.5-.2-1.5-.2-1.4-.2-1.5-.1-1.5-.1-1.5 0-1.5 0-1.4 .1-1.5 .2-1.5 .3 0 3.5z"/>
<path transform="translate(426.7 102.3)" d="M-13.3 -.1l-1.5-.3-1.5-.1-1.5-.1-1.5-.1-1.4-.2-1.5-.2-1.5-.2-1.5-.2-1.5-.3-1.4-.3-1.5-.3-1.5-.4-1.5-.4-1.5-.4-1.4-.5-1.5-.6-1.5-.7-1.5-.7-1.5-.9-1.4-.9-1.5-.9-1.5-.9-1.5-.8-1.5-.7-1.5-.5-1.4-.2-1.5-.1-1.5 .2-1.5 .4-1.5 .6-1.4 .5-1.5 .5-1.5 .3-1.5 .3-1.5 0-1.4 0-1.5-.2-1.5-.3-1.5-.5-1.5-.7-1.4-.9-1.5-1.1-1.5-1.3-1.5-1.4-1.5-1.6-1.5-1.6-1.4-1.7-1.5-1.7-1.5-1.7-1.5-1.7-1.5-1.5-1.4-1.3-1.5-1.1-1.5-.8-1.5-.4-1.5-.1-1.4 .4-1.5 .7-1.5 1.1-1.5 1.4-1.5 1.7-1.5 1.9-1.4 2-1.5 2.1-1.5 2.1-1.5 2-1.5 1.9-1.4 1.8-1.5 1.7-1.5 1.4-1.5 1.2-1.5 1-1.4 .8-1.5 .6-1.5 .5-1.5 .3-1.5 .2-1.4 0-1.5 0-1.5-.1-1.5-.1-1.5-.2-1.5-.2-1.4-.1-1.5-.1-1.5-.1-1.5 0-1.5 0-1.4 .1-1.5 .2-1.5 .2 0 3.1z"/>
<path transform="translate(426.6 102.9)" d="M-13.3 -.1l-1.5-.3-1.5-.1-1.5-.1-1.5-.1-1.4-.2-1.5-.2-1.5-.2-1.5-.2-1.5-.3-1.4-.3-1.5-.3-1.5-.3-1.5-.4-1.5-.4-1.4-.5-1.5-.6-1.5-.6-1.5-.7-1.5-.7-1.4-.8-1.5-.8-1.5-.8-1.5-.7-1.5-.5-1.5-.4-1.4-.2-1.5 .1-1.5 .2-1.5 .4-1.5 .5-1.4 .5-1.5 .5-1.5 .4-1.5 .2-1.5 .1-1.4-.1-1.5-.2-1.5-.4-1.5-.5-1.5-.8-1.4-1-1.5-1.2-1.5-1.4-1.5-1.5-1.5-1.7-1.5-1.8-1.4-1.9-1.5-1.9-1.5-1.8-1.5-1.8-1.5-1.6-1.4-1.5-1.5-1.1-1.5-.8-1.5-.5-1.5-.1-1.4 .4-1.5 .7-1.5 1.1-1.5 1.5-1.5 1.7-1.5 1.9-1.4 2.1-1.5 2.1-1.5 2.2-1.5 2.1-1.5 2-1.4 1.8-1.5 1.7-1.5 1.5-1.5 1.3-1.5 1-1.4 .9-1.5 .7-1.5 .5-1.5 .3-1.5 .2-1.4 .1-1.5 0-1.5 0-1.5-.1-1.5-.2-1.5-.1-1.4-.2-1.5-.1-1.5 0-1.5-.1-1.5 .1-1.4 .1-1.5 .1-1.5 .2 0 2.7z"/>
<path transform="translate(426.6 103.4)" d="M-13.3 -.1l-1.5-.3-1.5-.1-1.5-.1-1.5-.1-1.4-.2-1.5-.2-1.5-.2-1.5-.2-1.5-.3-1.4-.2-1.5-.3-1.5-.4-1.5-.3-1.5-.4-1.4-.5-1.5-.5-1.5-.5-1.5-.6-1.5-.7-1.4-.7-1.5-.6-1.5-.7-1.5-.5-1.5-.5-1.5-.2-1.4-.2-1.5 .1-1.5 .3-1.5 .3-1.5 .5-1.4 .5-1.5 .5-1.5 .3-1.5 .2-1.5 .1-1.4-.1-1.5-.2-1.5-.5-1.5-.6-1.5-.8-1.4-1.1-1.5-1.2-1.5-1.5-1.5-1.7-1.5-1.8-1.5-1.9-1.4-2-1.5-1.9-1.5-2-1.5-1.9-1.5-1.7-1.4-1.5-1.5-1.2-1.5-.9-1.5-.5-1.5 0-1.4 .3-1.5 .8-1.5 1.1-1.5 1.5-1.5 1.7-1.5 2-1.4 2.1-1.5 2.1-1.5 2.2-1.5 2.1-1.5 2.1-1.4 1.9-1.5 1.7-1.5 1.5-1.5 1.3-1.5 1.1-1.4 .9-1.5 .7-1.5 .5-1.5 .4-1.5 .3-1.4 .1-1.5 0-1.5 0-1.5-.1-1.5-.1-1.5-.1-1.4-.1-1.5-.1-1.5-.1-1.5 0-1.5 0-1.4 .1-1.5 .1-1.5 .2 0 2.3z"/>
<path transform="translate(426.6 104)" d="M-13.3 -.1l-1.5-.3-1.5-.1-1.5-.1-1.5-.1-1.4-.2-1.5-.1-1.5-.2-1.5-.2-1.5-.3-1.4-.3-1.5-.3-1.5-.3-1.5-.3-1.5-.4-1.4-.4-1.5-.4-1.5-.5-1.5-.5-1.5-.6-1.4-.6-1.5-.5-1.5-.5-1.5-.5-1.5-.3-1.5-.2-1.4-.1-1.5 .1-1.5 .3-1.5 .3-1.5 .5-1.4 .4-1.5 .4-1.5 .3-1.5 .2-1.5 0-1.4-.1-1.5-.3-1.5-.4-1.5-.7-1.5-.9-1.4-1.1-1.5-1.3-1.5-1.5-1.5-1.7-1.5-1.9-1.5-2-1.4-2-1.5-2.1-1.5-2-1.5-1.9-1.5-1.8-1.4-1.5-1.5-1.3-1.5-.8-1.5-.5-1.5-.1-1.4 .3-1.5 .8-1.5 1.1-1.5 1.5-1.5 1.7-1.5 2-1.4 2.1-1.5 2.1-1.5 2.2-1.5 2.2-1.5 2-1.4 1.9-1.5 1.7-1.5 1.5-1.5 1.3-1.5 1.2-1.4 .9-1.5 .7-1.5 .6-1.5 .4-1.5 .3-1.4 .1-1.5 .1-1.5 0-1.5-.1-1.5 0-1.5-.1-1.4-.1-1.5-.1-1.5 0-1.5-.1-1.5 .1-1.4 0-1.5 .1-1.5 .2 0 1.9z"/>
<path transform="translate(426.6 104.5)" d="M-14.8 -.1l-1.5-.3-1.5-.1-1.5-.2-1.4-.1-1.5-.2-1.5-.2-1.5-.2-1.5-.2-1.4-.3-1.5-.2-1.5-.3-1.5-.4-1.5-.3-1.4-.3-1.5-.4-1.5-.5-1.5-.4-1.5-.5-1.4-.4-1.5-.5-1.5-.4-1.5-.3-1.5-.3-1.5-.1-1.4 0-1.5 .1-1.5 .2-1.5 .3-1.5 .4-1.4 .4-1.5 .4-1.5 .2-1.5 .2-1.5 0-1.4-.2-1.5-.3-1.5-.5-1.5-.7-1.5-.9-1.4-1.2-1.5-1.3-1.5-1.6-1.5-1.7-1.5-1.9-1.5-2-1.4-2-1.5-2.1-1.5-2.1-1.5-1.9-1.5-1.8-1.4-1.5-1.5-1.3-1.5-.9-1.5-.5-1.5 0-1.4 .3-1.5 .7-1.5 1.1-1.5 1.5-1.5 1.7-1.5 1.9-1.4 2.1-1.5 2.2-1.5 2.1-1.5 2.1-1.5 2.1-1.4 1.8-1.5 1.7-1.5 1.5-1.5 1.4-1.5 1.1-1.4 .9-1.5 .7-1.5 .6-1.5 .4-1.5 .3-1.4 .2-1.5 .1-1.5 .1-1.5-.1-1.5 0-1.5-.1-1.4-.1-1.5 0-1.5 0-1.5-.1-1.5 .1-1.4 0-1.5 .1-1.5 .1 0 1.6z"/>
<path transform="translate(426.6 105.1)" d="M-14.8 -.1l-1.5-.3-1.5-.1-1.5-.1-1.4-.2-1.5-.1-1.5-.2-1.5-.2-1.5-.2-1.4-.3-1.5-.2-1.5-.3-1.5-.3-1.5-.3-1.4-.3-1.5-.3-1.5-.4-1.5-.4-1.5-.3-1.4-.4-1.5-.4-1.5-.3-1.5-.2-1.5-.2-1.5-.1-1.4 0-1.5 .1-1.5 .2-1.5 .3-1.5 .4-1.4 .3-1.5 .3-1.5 .2-1.5 .1-1.5-.1-1.4-.2-1.5-.3-1.5-.6-1.5-.7-1.5-.9-1.4-1.1-1.5-1.4-1.5-1.5-1.5-1.7-1.5-1.9-1.5-2-1.4-2-1.5-2.1-1.5-2-1.5-2-1.5-1.7-1.4-1.5-1.5-1.3-1.5-.8-1.5-.5-1.5-.1-1.4 .3-1.5 .7-1.5 1.1-1.5 1.4-1.5 1.7-1.5 1.9-1.4 2-1.5 2.1-1.5 2.1-1.5 2.1-1.5 2-1.4 1.8-1.5 1.7-1.5 1.5-1.5 1.2-1.5 1.1-1.4 1-1.5 .7-1.5 .6-1.5 .4-1.5 .3-1.4 .2-1.5 .1-1.5 .1-1.5 0-1.5 0-1.5-.1-1.4 0-1.5-.1-1.5 0-1.5 0-1.5 0-1.4 0-1.5 .1-1.5 .1 0 1.3z"/>
<path transform="translate(426.5 105.7)" d="M-14.8 -.1l-1.5-.3-1.5-.1-1.5-.1-1.4-.1-1.5-.2-1.5-.1-1.5-.2-1.5-.2-1.4-.2-1.5-.3-1.5-.2-1.5-.3-1.5-.2-1.4-.3-1.5-.3-1.5-.3-1.5-.3-1.5-.3-1.4-.3-1.5-.3-1.5-.2-1.5-.2-1.5-.1-1.5-.1-1.4 .1-1.5 .1-1.5 .2-1.5 .2-1.5 .3-1.4 .2-1.5 .3-1.5 .1-1.5 .1-1.5-.1-1.4-.2-1.5-.4-1.5-.6-1.5-.7-1.5-.9-1.4-1.1-1.5-1.3-1.5-1.6-1.5-1.6-1.5-1.9-1.5-1.9-1.4-2-1.5-2-1.5-2-1.5-1.9-1.5-1.7-1.4-1.5-1.5-1.2-1.5-.8-1.5-.5-1.5-.1-1.4 .3-1.5 .7-1.5 1.1-1.5 1.3-1.5 1.7-1.5 1.8-1.4 1.9-1.5 2.1-1.5 2-1.5 2-1.5 1.9-1.4 1.8-1.5 1.6-1.5 1.4-1.5 1.3-1.5 1.1-1.4 .8-1.5 .8-1.5 .5-1.5 .5-1.5 .3-1.4 .2-1.5 .1-1.5 .1-1.5 0-1.5 0-1.5 0-1.4 0-1.5-.1-1.5 0-1.5 0-1.5 0-1.4 0-1.5 .1-1.5 .1 0 1z"/>
<path transform="translate(426.5 106.2)" d="M-16.3 -.1l-1.5-.4-1.5-.1-1.4-.1-1.5-.1-1.5-.1-1.5-.2-1.5-.2-1.4-.2-1.5-.2-1.5-.2-1.5-.2-1.5-.3-1.4-.2-1.5-.3-1.5-.2-1.5-.3-1.5-.2-1.4-.2-1.5-.3-1.5-.1-1.5-.2-1.5 0-1.5 0-1.4 0-1.5 .1-1.5 .2-1.5 .2-1.5 .2-1.4 .2-1.5 .1-1.5 .1-1.5 0-1.5-.1-1.4-.2-1.5-.4-1.5-.5-1.5-.8-1.5-.9-1.4-1-1.5-1.3-1.5-1.5-1.5-1.6-1.5-1.7-1.5-1.9-1.4-1.9-1.5-2-1.5-1.9-1.5-1.8-1.5-1.6-1.4-1.4-1.5-1.2-1.5-.8-1.5-.5-1.5 0-1.4 .2-1.5 .7-1.5 1-1.5 1.3-1.5 1.6-1.5 1.7-1.4 1.9-1.5 1.9-1.5 1.9-1.5 1.9-1.5 1.9-1.4 1.6-1.5 1.6-1.5 1.4-1.5 1.2-1.5 1-1.4 .8-1.5 .7-1.5 .6-1.5 .4-1.5 .3-1.4 .3-1.5 .1-1.5 .1-1.5 0-1.5 0-1.5 0-1.4 0-1.5 0-1.5 0-1.5 0-1.5 0-1.4 0-1.5 0-1.5 .1 0 .8z"/>
<path transform="translate(426.5 106.8)" d="M-16.3 -.1l-1.5-.3-1.5-.1-1.4-.1-1.5-.1-1.5-.2-1.5-.1-1.5-.2-1.4-.1-1.5-.2-1.5-.2-1.5-.2-1.5-.2-1.4-.2-1.5-.2-1.5-.3-1.5-.2-1.5-.1-1.4-.2-1.5-.2-1.5-.1-1.5-.1-1.5 0-1.5 0-1.4 0-1.5 .1-1.5 .1-1.5 .2-1.5 .2-1.4 .1-1.5 .1-1.5 .1-1.5 0-1.5-.2-1.4-.2-1.5-.4-1.5-.6-1.5-.7-1.5-.8-1.4-1.1-1.5-1.2-1.5-1.4-1.5-1.5-1.5-1.7-1.5-1.7-1.4-1.9-1.5-1.8-1.5-1.8-1.5-1.7-1.5-1.6-1.4-1.3-1.5-1.1-1.5-.7-1.5-.5-1.5-.1-1.4 .3-1.5 .6-1.5 1-1.5 1.2-1.5 1.5-1.5 1.6-1.4 1.7-1.5 1.9-1.5 1.8-1.5 1.8-1.5 1.7-1.4 1.6-1.5 1.5-1.5 1.3-1.5 1.1-1.5 1-1.4 .8-1.5 .6-1.5 .6-1.5 .4-1.5 .3-1.4 .2-1.5 .2-1.5 .1-1.5 0-1.5 0-1.5 0-1.4 0-1.5 0-1.5 0-1.5 0-1.5 0-1.4 0-1.5 0-1.5 .1 0 .6z"/>
<path transform="translate(426.5 107.3)" d="M-17.8 -.2l-1.5-.3-1.4-.1-1.5-.1-1.5-.1-1.5-.1-1.5-.1-1.4-.2-1.5-.2-1.5-.1-1.5-.2-1.5-.2-1.4-.2-1.5-.1-1.5-.2-1.5-.2-1.5-.1-1.4-.2-1.5-.1-1.5-.1-1.5 0-1.5 0-1.5 0-1.4 0-1.5 .1-1.5 .1-1.5 .1-1.5 .2-1.4 .1-1.5 0-1.5 .1-1.5-.1-1.5-.1-1.4-.3-1.5-.4-1.5-.5-1.5-.7-1.5-.8-1.4-1-1.5-1.1-1.5-1.3-1.5-1.4-1.5-1.6-1.5-1.7-1.4-1.7-1.5-1.7-1.5-1.7-1.5-1.6-1.5-1.4-1.4-1.3-1.5-1-1.5-.7-1.5-.4-1.5-.1-1.4 .3-1.5 .5-1.5 .9-1.5 1.2-1.5 1.3-1.5 1.5-1.4 1.7-1.5 1.7-1.5 1.7-1.5 1.7-1.5 1.5-1.4 1.5-1.5 1.4-1.5 1.2-1.5 1.1-1.5 .9-1.4 .7-1.5 .7-1.5 .5-1.5 .3-1.5 .3-1.4 .3-1.5 .1-1.5 .1-1.5 .1-1.5 0-1.5 0-1.4 0-1.5 0-1.5 0-1.5 0-1.5 0-1.4 0-1.5 0-1.5 0 0 .5z"/>
<path transform="translate(426.4 107.9)" d="M-17.8 -.2l-1.5-.2-1.4-.1-1.5-.1-1.5-.1-1.5-.1-1.5-.1-1.4-.2-1.5-.1-1.5-.1-1.5-.2-1.5-.1-1.4-.2-1.5-.1-1.5-.2-1.5-.1-1.5-.1-1.4-.1-1.5-.1-1.5-.1-1.5 0-1.5 0-1.5 0-1.4 0-1.5 .1-1.5 .1-1.5 .1-1.5 .1-1.4 0-1.5 .1-1.5 0-1.5-.1-1.5-.2-1.4-.2-1.5-.4-1.5-.5-1.5-.6-1.5-.8-1.4-.9-1.5-1-1.5-1.2-1.5-1.4-1.5-1.4-1.5-1.5-1.4-1.6-1.5-1.6-1.5-1.6-1.5-1.4-1.5-1.4-1.4-1.1-1.5-.9-1.5-.7-1.5-.4-1.5-.1-1.4 .3-1.5 .5-1.5 .8-1.5 1-1.5 1.3-1.5 1.4-1.4 1.5-1.5 1.6-1.5 1.5-1.5 1.6-1.5 1.4-1.4 1.4-1.5 1.3-1.5 1.1-1.5 1-1.5 .8-1.4 .7-1.5 .6-1.5 .4-1.5 .4-1.5 .3-1.4 .2-1.5 .1-1.5 .1-1.5 .1-1.5 0-1.5 0-1.4 0-1.5 0-1.5 0-1.5 0-1.5 0-1.4 0-1.5 0-1.5 0 0 .4z"/>
<path transform="translate(426.4 108.4)" d="M-19.3 -.2l-1.4-.2-1.5-.1-1.5-.1-1.5-.1-1.5-.1-1.4-.1-1.5-.1-1.5-.2-1.5-.1-1.5-.1-1.4-.2-1.5-.1-1.5-.1-1.5-.1-1.5-.1-1.4-.1-1.5 0-1.5-.1-1.5 0-1.5 0-1.5 0-1.4 .1-1.5 0-1.5 .1-1.5 0-1.5 .1-1.4 .1-1.5 0-1.5-.1-1.5-.1-1.5-.1-1.4-.3-1.5-.3-1.5-.5-1.5-.6-1.5-.7-1.4-.8-1.5-1-1.5-1.1-1.5-1.2-1.5-1.3-1.5-1.4-1.4-1.4-1.5-1.5-1.5-1.4-1.5-1.3-1.5-1.2-1.4-1.1-1.5-.8-1.5-.6-1.5-.4-1.5-.1-1.4 .3-1.5 .4-1.5 .8-1.5 .9-1.5 1.1-1.5 1.3-1.4 1.4-1.5 1.4-1.5 1.4-1.5 1.4-1.5 1.4-1.4 1.2-1.5 1.2-1.5 1-1.5 .9-1.5 .7-1.4 .7-1.5 .5-1.5 .4-1.5 .3-1.5 .3-1.4 .2-1.5 .1-1.5 .1-1.5 .1-1.5 0-1.5 0-1.4 0-1.5 0-1.5 0-1.5 0-1.5 0-1.4 0-1.5 0-1.5 0 0 .3z"/>
<path transform="translate(426.4 109)" d="M-20.7 -.2l-1.5-.3-1.5 0-1.5-.1-1.5-.1-1.4-.1-1.5-.1-1.5-.1-1.5-.1-1.5-.1-1.4-.1-1.5-.1-1.5-.1-1.5-.1-1.5-.1-1.4-.1-1.5 0-1.5 0-1.5 0-1.5 0-1.5 0-1.4 0-1.5 0-1.5 .1-1.5 0-1.5 .1-1.4 0-1.5 0-1.5 0-1.5-.1-1.5-.2-1.4-.2-1.5-.4-1.5-.4-1.5-.5-1.5-.6-1.4-.8-1.5-.9-1.5-1-1.5-1.1-1.5-1.1-1.5-1.3-1.4-1.3-1.5-1.3-1.5-1.3-1.5-1.2-1.5-1.1-1.4-.9-1.5-.8-1.5-.5-1.5-.4-1.5 0-1.4 .2-1.5 .4-1.5 .7-1.5 .8-1.5 1-1.5 1.2-1.4 1.2-1.5 1.3-1.5 1.3-1.5 1.2-1.5 1.2-1.4 1.1-1.5 1.1-1.5 .9-1.5 .8-1.5 .6-1.4 .6-1.5 .5-1.5 .4-1.5 .3-1.5 .2-1.4 .2-1.5 .1-1.5 .1-1.5 .1-1.5 0-1.5 0-1.4 0-1.5 0-1.5 0-1.5 0-1.5 .2z"/>
<path transform="translate(426.4 109.5)" d="M-22.2 -.2l-1.5-.3-1.5 0-1.5-.1-1.4-.1-1.5-.1-1.5-.1-1.5-.1-1.5-.1-1.4 0-1.5-.1-1.5-.1-1.5-.1-1.5 0-1.4-.1-1.5 0-1.5 0-1.5 0-1.5 0-1.5 0-1.4 0-1.5 0-1.5 .1-1.5 0-1.5 0-1.4 0-1.5 0-1.5-.1-1.5-.1-1.5-.1-1.4-.2-1.5-.3-1.5-.4-1.5-.5-1.5-.6-1.4-.6-1.5-.8-1.5-.9-1.5-1-1.5-1-1.5-1.1-1.4-1.2-1.5-1.2-1.5-1.1-1.5-1.1-1.5-.9-1.4-.9-1.5-.7-1.5-.5-1.5-.2-1.5-.1-1.4 .2-1.5 .4-1.5 .5-1.5 .8-1.5 .9-1.5 1-1.4 1.1-1.5 1.1-1.5 1.2-1.5 1.1-1.5 1.1-1.4 .9-1.5 1-1.5 .8-1.5 .7-1.5 .6-1.4 .5-1.5 .4-1.5 .4-1.5 .2-1.5 .2-1.4 .2-1.5 .1-1.5 .1-1.5 0-1.5 .1-1.5 .2z"/>
<path transform="translate(426.4 110.1)" d="M-23.7 -.2l-1.5-.3-1.5 0-1.4-.1-1.5-.1-1.5-.1-1.5 0-1.5-.1-1.4-.1-1.5 0-1.5-.1-1.5-.1-1.5 0-1.4 0-1.5-.1-1.5 0-1.5 0-1.5 0-1.5 0-1.4 0-1.5 0-1.5 .1-1.5 0-1.5 0-1.4 0-1.5 0-1.5-.1-1.5-.1-1.5-.1-1.4-.2-1.5-.3-1.5-.3-1.5-.5-1.5-.5-1.4-.6-1.5-.7-1.5-.7-1.5-.9-1.5-.9-1.5-1-1.4-1-1.5-1-1.5-1-1.5-1-1.5-.8-1.4-.8-1.5-.6-1.5-.4-1.5-.3-1.5 0-1.4 .1-1.5 .4-1.5 .5-1.5 .6-1.5 .8-1.5 .9-1.4 1-1.5 1-1.5 1-1.5 .9-1.5 1-1.4 .8-1.5 .8-1.5 .7-1.5 .7-1.5 .5-1.4 .4-1.5 .4-1.5 .3-1.5 .3-1.5 .1-1.4 .2-1.5 .1-1.5 0-1.5 .1-1.5 .2z"/>
<path transform="translate(426.3 110.6)" d="M-25.2 -.2l-1.5-.3-1.4 0-1.5-.1-1.5-.1-1.5 0-1.5-.1-1.4 0-1.5-.1-1.5 0-1.5-.1-1.5 0-1.4-.1-1.5 0-1.5 0-1.5 0-1.5 0-1.5 0-1.4 0-1.5 0-1.5 0-1.5 0-1.5 0-1.4 0-1.5 0-1.5-.1-1.5-.1-1.5-.1-1.4-.2-1.5-.2-1.5-.3-1.5-.4-1.5-.4-1.4-.5-1.5-.6-1.5-.7-1.5-.8-1.5-.8-1.5-.8-1.4-.9-1.5-.9-1.5-.9-1.5-.8-1.5-.7-1.4-.7-1.5-.5-1.5-.4-1.5-.2-1.5 0-1.4 .1-1.5 .3-1.5 .4-1.5 .6-1.5 .7-1.5 .7-1.4 .9-1.5 .8-1.5 .9-1.5 .8-1.5 .8-1.4 .8-1.5 .7-1.5 .6-1.5 .5-1.5 .5-1.4 .4-1.5 .3-1.5 .3-1.5 .2-1.5 .1-1.4 .1-1.5 .1-1.5 .1-1.5 .2z"/>
<path transform="translate(426.3 111.2)" d="M-28.1 -.2l-1.5-.3-1.5-.1-1.5 0-1.5-.1-1.4 0-1.5-.1-1.5 0-1.5 0-1.5-.1-1.4 0-1.5 0-1.5 0-1.5 0-1.5 0-1.5 0-1.4 0-1.5 0-1.5 0-1.5 0-1.5 0-1.4-.1-1.5 0-1.5 0-1.5-.1-1.5-.2-1.4-.1-1.5-.2-1.5-.3-1.5-.3-1.5-.4-1.4-.4-1.5-.6-1.5-.5-1.5-.7-1.5-.7-1.5-.7-1.4-.8-1.5-.7-1.5-.8-1.5-.7-1.5-.6-1.4-.6-1.5-.4-1.5-.4-1.5-.1-1.5-.1-1.4 .1-1.5 .3-1.5 .3-1.5 .5-1.5 .6-1.5 .7-1.4 .7-1.5 .7-1.5 .8-1.5 .7-1.5 .7-1.4 .6-1.5 .6-1.5 .5-1.5 .5-1.5 .4-1.4 .3-1.5 .3-1.5 .2-1.5 .2-1.5 .1-1.4 .1-1.5 .1-1.5 .2z"/>
<path transform="translate(426.3 111.8)" d="M-31.1 -.3l-1.5-.2-1.5-.1-1.4 0-1.5-.1-1.5 0-1.5 0-1.5 0-1.4-.1-1.5 0-1.5 0-1.5 0-1.5 0-1.5 0-1.4 0-1.5 0-1.5 0-1.5 0-1.5 0-1.4-.1-1.5 0-1.5 0-1.5-.1-1.5-.1-1.4-.2-1.5-.2-1.5-.2-1.5-.3-1.5-.3-1.4-.4-1.5-.4-1.5-.5-1.5-.6-1.5-.5-1.5-.7-1.4-.6-1.5-.7-1.5-.6-1.5-.6-1.5-.5-1.4-.5-1.5-.4-1.5-.3-1.5-.1-1.5-.1-1.4 .1-1.5 .2-1.5 .3-1.5 .4-1.5 .5-1.5 .6-1.4 .6-1.5 .6-1.5 .6-1.5 .6-1.5 .6-1.4 .6-1.5 .5-1.5 .4-1.5 .4-1.5 .3-1.4 .3-1.5 .2-1.5 .2-1.5 .2-1.5 .1-1.4 .1-1.5 .3z"/>
<path transform="translate(426.3 112.3)" d="M-35.5 -.3l-1.5-.3-1.5 0-1.5 0-1.5-.1-1.4 0-1.5 0-1.5 0-1.5 0-1.5 0-1.5 0-1.4 0-1.5 0-1.5 0-1.5 0-1.5-.1-1.4 0-1.5 0-1.5-.1-1.5 0-1.5-.1-1.4-.2-1.5-.1-1.5-.2-1.5-.2-1.5-.3-1.4-.3-1.5-.4-1.5-.4-1.5-.5-1.5-.5-1.5-.5-1.4-.6-1.5-.5-1.5-.5-1.5-.5-1.5-.5-1.4-.4-1.5-.3-1.5-.3-1.5-.1-1.5 0-1.4 0-1.5 .2-1.5 .3-1.5 .3-1.5 .4-1.5 .5-1.4 .5-1.5 .5-1.5 .5-1.5 .5-1.5 .5-1.4 .5-1.5 .4-1.5 .4-1.5 .3-1.5 .3-1.4 .2-1.5 .2-1.5 .1-1.5 .2-1.5 .1-1.4 0-1.5 .3z"/>
<path transform="translate(426.3 112.9)" d="M-60.7 -.5l-1.5-.3-1.5-.1-1.5 0-1.4-.1-1.5-.2-1.5-.1-1.5-.2-1.5-.3-1.4-.2-1.5-.4-1.5-.3-1.5-.4-1.5-.4-1.5-.4-1.4-.5-1.5-.4-1.5-.5-1.5-.4-1.5-.4-1.4-.3-1.5-.3-1.5-.2-1.5-.1-1.5 0-1.4 0-1.5 .2-1.5 .2-1.5 .3-1.5 .3-1.5 .4-1.4 .4-1.5 .4-1.5 .4-1.5 .5-1.5 .4-1.4 .3-1.5 .4-1.5 .3-1.5 .2-1.5 .3-1.4 .2-1.5 .1-1.5 .1-1.5 .1-1.5 .1-1.4 .3z"/>
<path transform="translate(426.2 113.4)" d="M-62.2 -.5l-1.5-.3-1.5-.1-1.4-.1-1.5-.1-1.5-.1-1.5-.2-1.5-.2-1.4-.2-1.5-.2-1.5-.3-1.5-.4-1.5-.3-1.5-.4-1.4-.3-1.5-.4-1.5-.4-1.5-.3-1.5-.3-1.4-.3-1.5-.2-1.5-.2-1.5-.1-1.5 0-1.4 0-1.5 .1-1.5 .2-1.5 .2-1.5 .3-1.5 .3-1.4 .4-1.5 .3-1.5 .4-1.5 .3-1.5 .3-1.4 .3-1.5 .3-1.5 .2-1.5 .3-1.5 .1-1.4 .2-1.5 .1-1.5 .1-1.5 .1-1.5 .3z"/>
<path transform="translate(426.2 114)" d="M-63.7 -.6l-1.5-.2-1.4-.1-1.5-.1-1.5-.1-1.5-.1-1.5-.2-1.4-.2-1.5-.2-1.5-.2-1.5-.3-1.5-.3-1.5-.2-1.4-.3-1.5-.4-1.5-.3-1.5-.2-1.5-.3-1.4-.2-1.5-.2-1.5-.1-1.5-.1-1.5 0-1.4 0-1.5 .1-1.5 .1-1.5 .2-1.5 .2-1.5 .3-1.4 .2-1.5 .3-1.5 .3-1.5 .3-1.5 .2-1.4 .3-1.5 .2-1.5 .2-1.5 .2-1.5 .1-1.4 .1-1.5 .1-1.5 .1-1.5 .3z"/>
<path transform="translate(426.2 114.5)" d="M-65.2 -.6l-1.4-.2-1.5-.1-1.5-.1-1.5-.1-1.5-.1-1.4-.2-1.5-.2-1.5-.1-1.5-.3-1.5-.2-1.5-.2-1.4-.3-1.5-.2-1.5-.2-1.5-.3-1.5-.2-1.4-.2-1.5-.1-1.5-.1-1.5-.1-1.5 0-1.4 0-1.5 .1-1.5 .1-1.5 .1-1.5 .2-1.5 .2-1.4 .2-1.5 .2-1.5 .2-1.5 .3-1.5 .2-1.4 .2-1.5 .1-1.5 .2-1.5 .1-1.5 .1-1.4 .1-1.5 .1-1.5 .1-1.5 .2z"/>
<path transform="translate(426.2 115.1)" d="M-68.1 -.6l-1.5-.3-1.5-.1-1.5-.1-1.4-.1-1.5-.2-1.5-.1-1.5-.2-1.5-.2-1.5-.2-1.4-.2-1.5-.2-1.5-.1-1.5-.2-1.5-.2-1.4-.1-1.5-.2-1.5 0-1.5-.1-1.5 0-1.4 0-1.5 0-1.5 .1-1.5 .1-1.5 .2-1.5 .1-1.4 .2-1.5 .2-1.5 .1-1.5 .2-1.5 .1-1.4 .2-1.5 .1-1.5 .1-1.5 .2-1.5 0-1.4 .1-1.5 .1-1.5 .2z"/>
<path transform="translate(426.2 115.6)" d="M-69.6 -.6l-1.5-.3-1.5-.1-1.4-.1-1.5-.1-1.5-.1-1.5-.2-1.5-.1-1.5-.2-1.4-.1-1.5-.2-1.5-.1-1.5-.2-1.5-.1-1.4-.1-1.5-.1-1.5-.1-1.5 0-1.5-.1-1.4 .1-1.5 0-1.5 .1-1.5 0-1.5 .1-1.5 .1-1.4 .2-1.5 .1-1.5 .1-1.5 .2-1.5 .1-1.4 .1-1.5 .1-1.5 .1-1.5 .1-1.5 0-1.4 .1-1.5 .2z"/>
<path transform="translate(426.1 116.2)" d="M-71.1 -.6l-1.5-.3-1.4-.1-1.5-.1-1.5-.1-1.5-.1-1.5-.1-1.5-.1-1.4-.1-1.5-.2-1.5-.1-1.5-.1-1.5-.1-1.4-.1-1.5-.1-1.5 0-1.5-.1-1.5 0-1.4 0-1.5 0-1.5 .1-1.5 0-1.5 .1-1.5 .1-1.4 .1-1.5 .1-1.5 .1-1.5 .1-1.5 .1-1.4 .1-1.5 0-1.5 .1-1.5 .1-1.5 0-1.4 .2z"/>
<path transform="translate(426.1 116.8)" d="M-72.6 -.6l-1.4-.3-1.5-.1-1.5-.1-1.5 0-1.5-.1-1.5-.1-1.4-.1-1.5-.1-1.5-.1-1.5-.1-1.5-.1-1.4-.1-1.5 0-1.5-.1-1.5 0-1.5 0-1.4 0-1.5 0-1.5 0-1.5 .1-1.5 0-1.5 .1-1.4 0-1.5 .1-1.5 .1-1.5 .1-1.5 0-1.4 .1-1.5 0-1.5 .1-1.5 .3z"/>
<path transform="translate(426.1 117.3)" d="M-74 -.6l-1.5-.3-1.5-.1-1.5 0-1.5-.1-1.5-.1-1.4-.1-1.5 0-1.5-.1-1.5-.1-1.5 0-1.4-.1-1.5-.1-1.5 0-1.5 0-1.5 0-1.4 0-1.5 0-1.5 0-1.5 0-1.5 .1-1.5 0-1.4 0-1.5 .1-1.5 .1-1.5 0-1.5 0-1.4 .1-1.5 0-1.5 .3z"/>
<path transform="translate(426.1 117.9)" d="M-77 -.7l-1.5-.2-1.5-.1-1.5-.1-1.4 0-1.5-.1-1.5 0-1.5-.1-1.5 0-1.4-.1-1.5 0-1.5-.1-1.5 0-1.5 0-1.4 0-1.5 0-1.5 0-1.5 0-1.5 0-1.5 .1-1.4 0-1.5 0-1.5 .1-1.5 0-1.5 0-1.4 .3z"/>
<path transform="translate(426 118.4)" d="M-80 -.7l-1.5-.3-1.4 0-1.5-.1-1.5 0-1.5-.1-1.5 0-1.4 0-1.5-.1-1.5 0-1.5 0-1.5 0-1.4 0-1.5 0-1.5 0-1.5 0-1.5 0-1.5 0-1.4 0-1.5 0-1.5 .1-1.5 .2z"/>
<path transform="translate(426 119)" d="M-84.4 -.7l-1.5-.3-1.5 0-1.5-.1-1.4 0-1.5 0-1.5-.1-1.5 0-1.5 0-1.4 0-1.5 0-1.5 0-1.5 0-1.5 0-1.5 0-1.4 0-1.5 .3z"/>
<path transform="translate(426 119.5)" d="M-90.3 -.8l-1.5-.2-1.5-.1-1.5 0-1.5 0-1.4 0-1.5 0-1.5 .2z"/></g>
<g stroke="#4a4a4a" stroke-width=".6" fill="none"><path d="M277.8 121L277.8 71.5"/><path d="M277.8 121L425.9 122.3"/><path d="M425.9 122.3L428.4 55.7"/><path d="M277.8 121L275.8 121"/><path d="M277.8 109.2L275.8 109.2"/><path d="M277.8 97.3L275.8 97.3"/><path d="M277.8 85.5L275.8 85.5"/><path d="M277.8 73.6L275.8 73.6"/><path d="M277.8 121L277.8 123"/><path d="M307.4 121.3L307.4 123.3"/><path d="M337 121.5L337 123.5"/><path d="M366.7 121.8L366.7 123.8"/><path d="M396.3 122L396.3 124"/><path d="M425.9 122.3L425.9 124.3"/><path d="M425.9 122.3L427.9 122.3"/><path d="M426.3 111.2L428.3 111.2"/><path d="M426.7 100.1L428.7 100.1"/><path d="M427.2 89L429.2 89"/><path d="M427.6 77.9L429.6 77.9"/><path d="M428 66.8L430 66.8"/><path d="M428.4 55.7L430.4 55.7"/></g>
<g font-size="5" fill="#3a3a3a"><text x="272.8" y="123.6" text-anchor="end">0</text><text x="272.8" y="111.8" text-anchor="end">50</text><text x="272.8" y="99.9" text-anchor="end">100</text><text x="272.8" y="88" text-anchor="end">150</text><text x="272.8" y="76.2" text-anchor="end">200</text><text x="278.1" y="131.8" text-anchor="middle">100</text><text x="307.7" y="132.1" text-anchor="middle">80</text><text x="337.3" y="132.3" text-anchor="middle">60</text><text x="367" y="132.6" text-anchor="middle">40</text><text x="396.6" y="132.8" text-anchor="middle">20</text><text x="426.2" y="133.1" text-anchor="middle">0</text><text x="431.4" y="124.6">0</text><text x="431.8" y="113.5">20</text><text x="432.2" y="102.4">40</text><text x="432.7" y="91.3">60</text><text x="433.1" y="80.2">80</text><text x="433.5" y="69.1">100</text><text x="433.9" y="58">120</text></g>
<polygon points="315.5,58.7 316.1,60.5 318.1,60.6 316.5,61.7 317.1,63.6 315.5,62.5 313.9,63.6 314.5,61.7 312.9,60.6 314.9,60.5" fill="#f0e01e" stroke="#5a5420" stroke-width=".4"/>
<path d="M315.5 61.4C316.9 61.1 320.8 60.4 323.7 59.9C326.6 59.4 331.1 58.6 332.6 58.4" fill="none" stroke="#dd1431" stroke-width="1.4" stroke-linecap="round" stroke-linejoin="round"/>
<path d="M363.4 60.8C364.6 61.3 368.4 62.8 370.8 63.8C373.2 64.8 375.4 65.4 377.5 66.8C379.6 68.2 381.6 69.4 383.7 72C385.8 74.6 388.4 79.7 390 82.4C391.6 85.1 391.8 86.3 393.3 88.4C394.8 90.5 396.6 92.1 399 94.8C401.4 97.5 405 101.2 408 104.5C411 107.8 414.3 111.6 417 114.6C419.7 117.6 423.1 121 424.3 122.3" fill="none" stroke="#dd1431" stroke-width="1.4" stroke-linecap="round" stroke-linejoin="round"/>
<circle cx="393.3" cy="88.4" r="1.3" fill="none" stroke="#4f9a4c" stroke-width=".5"/>
<circle cx="399" cy="94.8" r="1.3" fill="none" stroke="#4f9a4c" stroke-width=".5"/>
<rect x="422.8" y="120.8" width="3" height="3" fill="#f2f01e" stroke="#a9b51e" stroke-width=".3"/>
<text x="358.2" y="157.5" text-anchor="middle" class="cap">(b) wPSO</text>
</g>
<g id="plot-c">
<g stroke="#e3e3e3" stroke-width=".6" fill="none"><path d="M17.4 271.7L72.2 213.9"/><path d="M72.2 213.9L186.6 242.1"/><path d="M17.4 260.4L72.2 202.6"/><path d="M72.2 202.6L186.6 230.8"/><path d="M17.4 249L72.2 191.2"/><path d="M72.2 191.2L186.6 219.4"/><path d="M17.4 237.7L72.2 179.9"/><path d="M72.2 179.9L186.6 208.1"/><path d="M17.4 226.4L72.2 168.6"/><path d="M72.2 168.6L186.6 196.8"/><path d="M17.4 223.4L72.2 165.6"/><path d="M72.2 165.6L186.6 193.9"/><path d="M17.4 271.7L17.4 223.4"/><path d="M44.8 242.8L44.8 194.5"/><path d="M72.2 213.9L72.2 165.6"/><path d="M186.6 242.1L186.6 193.9"/><path d="M163.9 236.5L163.9 188.3"/><path d="M141.2 230.9L141.2 182.7"/><path d="M118.5 225.3L118.5 177.1"/><path d="M95.8 219.7L95.8 171.5"/><path d="M73.1 214.1L73.1 165.9"/><path d="M72.2 213.9L72.2 165.6"/></g>
<polygon fill="#3e26a8" points="131.8,299.9 18.3,271.9 73.1,214.1 186.6,242.1"/>
<g fill="url(#gc)"><path transform="translate(186.6 242.1)" d="M-37.5 -9.2l-1.1-.6-1.1-.4-1.2-.4-1.1-.5-1.1-.6-1.2-.6-1.1-.7-1.1-.9-1.2-1.1-1.1-1.3-1.1-1.4-1.2-1.8-1.1-1.9-1.1-2.3-1.2-2.4-1.1-2.6-1.2-2.7-1.1-2.7-1.1-2.6-1.2-2.3-1.1-2-1.1-1.6-1.2-1.1-1.1-.5-1.1 .1-1.2 .6-1.1 1.2-1.1 1.6-1.2 1.8-1.1 2.1-1.1 2.2-1.2 2.2-1.1 2-1.1 1.9-1.2 1.6-1.1 1.4-1.1 1.1-1.2 .9-1.1 .6-1.2 .5-1.1 .2-1.1 .2-1.2 0-1.1-.1-1.1-.1-1.2-.1-1.1-.1z"/>
<path transform="translate(186.1 242.7)" d="M-36.3 -9l-1.2-.5-1.1-.4-1.1-.4-1.2-.4-1.1-.5-1.1-.6-1.2-.7-1.1-.7-1.1-.9-1.2-1.1-1.1-1.2-1.1-1.5-1.2-1.7-1.1-1.9-1.1-2.1-1.2-2.4-1.1-2.5-1.2-2.5-1.1-2.6-1.1-2.5-1.2-2.2-1.1-1.9-1.1-1.5-1.2-1-1.1-.5-1.1 .1-1.2 .7-1.1 1.1-1.1 1.5-1.2 1.8-1.1 2-1.1 2-1.2 2.1-1.1 1.9-1.1 1.8-1.2 1.5-1.1 1.3-1.1 1.1-1.2 .8-1.1 .6-1.2 .5-1.1 .2-1.1 .2-1.2 0-1.1-.1-1.1-.1-1.2-.2-1.1 0z"/>
<path transform="translate(185.5 243.3)" d="M-35.2 -8.7l-1.1-.5-1.2-.4-1.1-.4-1.1-.4-1.2-.5-1.1-.5-1.1-.6-1.2-.7-1.1-.7-1.1-1-1.2-1-1.1-1.3-1.1-1.4-1.2-1.7-1.1-1.8-1.1-2.1-1.2-2.3-1.1-2.3-1.2-2.5-1.1-2.4-1.1-2.3-1.2-2.1-1.1-1.8-1.1-1.4-1.2-.9-1.1-.4-1.1 .1-1.2 .6-1.1 1.1-1.1 1.4-1.2 1.7-1.1 1.9-1.1 1.9-1.2 2-1.1 1.8-1.1 1.6-1.2 1.5-1.1 1.2-1.1 1-1.2 .8-1.1 .6-1.2 .4-1.1 .3-1.1 .1-1.2 0-1.1 0-1.1-.1-1.2-.2-1.1 0z"/>
<path transform="translate(185 243.8)" d="M-34.1 -8.4l-1.1-.5-1.1-.4-1.2-.4-1.1-.4-1.1-.4-1.2-.5-1.1-.6-1.1-.6-1.2-.7-1.1-.8-1.1-1-1.2-1.1-1.1-1.2-1.1-1.4-1.2-1.7-1.1-1.8-1.1-2-1.2-2.2-1.1-2.3-1.2-2.3-1.1-2.3-1.1-2.2-1.2-2-1.1-1.6-1.1-1.3-1.2-.8-1.1-.3-1.1 .1-1.2 .7-1.1 1-1.1 1.4-1.2 1.6-1.1 1.8-1.1 1.8-1.2 1.8-1.1 1.7-1.1 1.6-1.2 1.4-1.1 1.1-1.1 1-1.2 .7-1.1 .6-1.2 .4-1.1 .2-1.1 .2-1.2 0-1.1-.1-1.1-.1-1.2-.1-1.1 0z"/>
<path transform="translate(184.4 244.4)" d="M-32.9 -8.1l-1.2-.5-1.1-.4-1.1-.4-1.2-.4-1.1-.4-1.1-.5-1.2-.6-1.1-.6-1.1-.6-1.2-.8-1.1-.8-1.1-1-1.2-1.1-1.1-1.3-1.1-1.4-1.2-1.6-1.1-1.8-1.1-2-1.2-2.1-1.1-2.3-1.2-2.2-1.1-2.2-1.1-2.1-1.2-1.8-1.1-1.6-1.1-1.1-1.2-.8-1.1-.2-1.1 .2-1.2 .7-1.1 1-1.1 1.4-1.2 1.6-1.1 1.7-1.1 1.7-1.2 1.7-1.1 1.6-1.1 1.5-1.2 1.3-1.1 1.1-1.1 .9-1.2 .8-1.1 .5-1.2 .4-1.1 .2-1.1 .2-1.2 0-1.1 0-1.1-.1-1.2-.2-1.1-.2-1.1 0z"/>
<path transform="translate(183.9 245)" d="M-31.8 -7.8l-1.1-.6-1.2-.3-1.1-.4-1.1-.4-1.2-.4-1.1-.5-1.1-.5-1.2-.6-1.1-.7-1.1-.7-1.2-.8-1.1-.9-1.1-1-1.2-1.2-1.1-1.3-1.1-1.5-1.2-1.6-1.1-1.8-1.1-2-1.2-2.1-1.1-2.2-1.2-2.2-1.1-2.2-1.1-2-1.2-1.7-1.1-1.5-1.1-1-1.2-.6-1.1-.2-1.1 .3-1.2 .8-1.1 1.1-1.1 1.3-1.2 1.6-1.1 1.7-1.1 1.7-1.2 1.6-1.1 1.6-1.1 1.4-1.2 1.3-1.1 1-1.1 .9-1.2 .7-1.1 .6-1.2 .4-1.1 .2-1.1 .2-1.2 0-1.1 0-1.1-.1-1.2-.1-1.1-.2-1.1 0z"/>
<path transform="translate(183.3 245.6)" d="M-31.8 -7.8l-1.1-.6-1.2-.4-1.1-.4-1.1-.4-1.2-.5-1.1-.5-1.1-.6-1.2-.6-1.1-.7-1.1-.8-1.2-.9-1.1-1-1.1-1.1-1.2-1.2-1.1-1.4-1.1-1.5-1.2-1.7-1.1-1.9-1.1-2-1.2-2.1-1.1-2.2-1.2-2.3-1.1-2.1-1.1-2-1.2-1.7-1.1-1.4-1.1-1-1.2-.5-1.1 0-1.1 .4-1.2 .9-1.1 1.2-1.1 1.4-1.2 1.6-1.1 1.7-1.1 1.8-1.2 1.6-1.1 1.5-1.1 1.4-1.2 1.3-1.1 1-1.1 .9-1.2 .7-1.1 .6-1.2 .4-1.1 .3-1.1 .1-1.2 .1-1.1 0-1.1-.1-1.2-.1-1.1-.1-1.1-.2-1.2-.1z"/>
<path transform="translate(182.8 246.1)" d="M-30.6 -7.6l-1.2-.5-1.1-.4-1.2-.4-1.1-.4-1.1-.5-1.2-.5-1.1-.6-1.1-.6-1.2-.7-1.1-.8-1.1-.8-1.2-1-1.1-1-1.1-1.2-1.2-1.3-1.1-1.5-1.1-1.6-1.2-1.8-1.1-1.9-1.1-2.2-1.2-2.2-1.1-2.3-1.2-2.3-1.1-2.2-1.1-2.1-1.2-1.7-1.1-1.4-1.1-.8-1.2-.4-1.1 .1-1.1 .6-1.2 1-1.1 1.4-1.1 1.5-1.2 1.8-1.1 1.8-1.1 1.7-1.2 1.7-1.1 1.6-1.1 1.4-1.2 1.3-1.1 1-1.2 .9-1.1 .8-1.1 .5-1.2 .5-1.1 .3-1.1 .2-1.2 .1-1.1 0-1.1-.1-1.2-.1-1.1-.1-1.1-.2-1.2 0z"/>
<path transform="translate(182.2 246.7)" d="M-29.5 -7.3l-1.1-.5-1.2-.4-1.1-.4-1.2-.4-1.1-.5-1.1-.5-1.2-.5-1.1-.7-1.1-.6-1.2-.8-1.1-.9-1.1-.9-1.2-1-1.1-1.2-1.1-1.2-1.2-1.5-1.1-1.5-1.1-1.8-1.2-1.9-1.1-2.1-1.1-2.2-1.2-2.4-1.1-2.5-1.2-2.4-1.1-2.4-1.1-2.1-1.2-1.8-1.1-1.4-1.1-.8-1.2-.3-1.1 .3-1.1 .8-1.2 1.2-1.1 1.6-1.1 1.8-1.2 1.9-1.1 1.9-1.1 1.9-1.2 1.8-1.1 1.6-1.1 1.5-1.2 1.3-1.1 1.1-1.2 1-1.1 .7-1.1 .6-1.2 .5-1.1 .4-1.1 .2-1.2 .1-1.1 .1-1.1-.1-1.2 0-1.1-.2-1.1-.1-1.2-.2-1.1 0z"/>
<path transform="translate(181.7 247.3)" d="M-29.5 -7.3l-1.1-.6-1.2-.3-1.1-.5-1.2-.4-1.1-.5-1.1-.6-1.2-.6-1.1-.7-1.1-.7-1.2-.9-1.1-.9-1.1-1-1.2-1.2-1.1-1.2-1.1-1.4-1.2-1.5-1.1-1.7-1.1-1.9-1.2-2-1.1-2.3-1.1-2.4-1.2-2.6-1.1-2.7-1.2-2.6-1.1-2.6-1.1-2.3-1.2-1.9-1.1-1.3-1.1-.8-1.2-.2-1.1 .4-1.1 1.1-1.2 1.4-1.1 1.9-1.1 2-1.2 2.2-1.1 2.1-1.1 2.1-1.2 1.9-1.1 1.7-1.1 1.6-1.2 1.4-1.1 1.1-1.2 1-1.1 .9-1.1 .6-1.2 .5-1.1 .4-1.1 .3-1.2 .2-1.1 0-1.1 0-1.2 0-1.1-.1-1.1-.2-1.2-.1-1.1 0z"/>
<path transform="translate(181.1 247.9)" d="M-28.4 -7l-1.1-.5-1.1-.4-1.2-.4-1.1-.5-1.2-.5-1.1-.5-1.1-.6-1.2-.7-1.1-.7-1.1-.9-1.2-.9-1.1-1-1.1-1.1-1.2-1.2-1.1-1.4-1.1-1.5-1.2-1.6-1.1-1.8-1.1-2-1.2-2.2-1.1-2.5-1.1-2.6-1.2-2.8-1.1-2.9-1.2-3-1.1-2.7-1.1-2.5-1.2-2.1-1.1-1.4-1.1-.8-1.2-.1-1.1 .7-1.1 1.2-1.2 1.8-1.1 2.1-1.1 2.4-1.2 2.4-1.1 2.4-1.1 2.3-1.2 2-1.1 1.9-1.1 1.7-1.2 1.5-1.1 1.2-1.2 1.1-1.1 .9-1.1 .7-1.2 .6-1.1 .4-1.1 .3-1.2 .2-1.1 .1-1.1 0-1.2 0-1.1-.1-1.1-.1-1.2-.2-1.1 .1z"/>
<path transform="translate(180.6 248.5)" d="M-28.4 -7l-1.1-.6-1.1-.4-1.2-.4-1.1-.5-1.2-.5-1.1-.6-1.1-.7-1.2-.7-1.1-.8-1.1-.9-1.2-1-1.1-1.1-1.1-1.2-1.2-1.3-1.1-1.5-1.1-1.6-1.2-1.7-1.1-2-1.1-2.1-1.2-2.4-1.1-2.6-1.1-2.9-1.2-3-1.1-3.2-1.2-3.2-1.1-3-1.1-2.7-1.2-2.2-1.1-1.5-1.1-.8-1.2 0-1.1 .8-1.1 1.6-1.2 2-1.1 2.5-1.1 2.6-1.2 2.8-1.1 2.6-1.1 2.5-1.2 2.3-1.1 2-1.1 1.8-1.2 1.6-1.1 1.3-1.2 1.1-1.1 1-1.1 .8-1.2 .6-1.1 .5-1.1 .3-1.2 .3-1.1 .1-1.1 .1-1.2-.1-1.1 0-1.1-.1-1.2-.2-1.1-.2-1.1 0z"/>
<path transform="translate(180 249)" d="M-27.2 -6.7l-1.2-.5-1.1-.4-1.1-.4-1.2-.5-1.1-.5-1.2-.6-1.1-.6-1.1-.7-1.2-.8-1.1-.9-1.1-1-1.2-1.1-1.1-1.2-1.1-1.3-1.2-1.4-1.1-1.5-1.1-1.7-1.2-1.8-1.1-2.1-1.1-2.2-1.2-2.6-1.1-2.8-1.1-3-1.2-3.3-1.1-3.4-1.2-3.4-1.1-3.3-1.1-2.9-1.2-2.4-1.1-1.6-1.1-.8-1.2 .1-1.1 1-1.1 1.8-1.2 2.4-1.1 2.7-1.1 3-1.2 3-1.1 2.9-1.1 2.7-1.2 2.4-1.1 2.2-1.1 1.9-1.2 1.7-1.1 1.4-1.2 1.2-1.1 1.1-1.1 .8-1.2 .6-1.1 .6-1.1 .4-1.2 .2-1.1 .2-1.1 .1-1.2 0-1.1-.1-1.1-.1-1.2-.1-1.1-.2-1.1 0z"/>
<path transform="translate(179.5 249.6)" d="M-27.2 -6.7l-1.2-.6-1.1-.4-1.1-.4-1.2-.5-1.1-.6-1.2-.6-1.1-.7-1.1-.7-1.2-.9-1.1-.9-1.1-1.1-1.2-1.2-1.1-1.2-1.1-1.4-1.2-1.5-1.1-1.6-1.1-1.7-1.2-2-1.1-2.1-1.1-2.3-1.2-2.7-1.1-2.9-1.1-3.2-1.2-3.4-1.1-3.6-1.2-3.7-1.1-3.5-1.1-3-1.2-2.5-1.1-1.7-1.1-.8-1.2 .2-1.1 1.1-1.1 2-1.2 2.6-1.1 3-1.1 3.2-1.2 3.2-1.1 3.2-1.1 2.9-1.2 2.6-1.1 2.3-1.1 2-1.2 1.8-1.1 1.4-1.1 1.3-1.2 1.1-1.1 .9-1.2 .7-1.1 .5-1.1 .4-1.2 .3-1.1 .2-1.1 .1-1.2 0-1.1 0-1.1-.1-1.2-.1-1.1-.2-1.1 0z"/>
<path transform="translate(178.9 250.2)" d="M-27.2 -6.7l-1.2-.6-1.1-.4-1.1-.5-1.2-.5-1.1-.6-1.2-.6-1.1-.8-1.1-.8-1.2-.9-1.1-1.1-1.1-1.1-1.2-1.2-1.1-1.3-1.1-1.5-1.2-1.5-1.1-1.7-1.1-1.8-1.2-2-1.1-2.1-1.1-2.4-1.2-2.7-1.1-3-1.1-3.3-1.2-3.6-1.1-3.7-1.2-3.8-1.1-3.6-1.1-3.2-1.2-2.5-1.1-1.8-1.1-.8-1.2 .3-1.1 1.2-1.1 2.1-1.2 2.8-1.1 3.2-1.1 3.4-1.2 3.4-1.1 3.3-1.1 3-1.2 2.7-1.1 2.4-1.1 2.1-1.2 1.8-1.1 1.6-1.1 1.3-1.2 1.1-1.1 .9-1.2 .7-1.1 .6-1.1 .4-1.2 .3-1.1 .3-1.1 .1-1.2 0-1.1 0-1.1-.1-1.2-.2-1.1-.1-1.1 0z"/>
<path transform="translate(178.4 250.8)" d="M-26.1 -6.4l-1.1-.6-1.2-.4-1.1-.4-1.1-.5-1.2-.5-1.1-.6-1.2-.7-1.1-.8-1.1-.9-1.2-1-1.1-1.1-1.1-1.2-1.2-1.2-1.1-1.4-1.1-1.5-1.2-1.6-1.1-1.7-1.1-1.8-1.2-2-1.1-2.1-1.1-2.5-1.2-2.6-1.1-3-1.1-3.3-1.2-3.6-1.1-3.8-1.2-3.8-1.1-3.6-1.1-3.2-1.2-2.6-1.1-1.8-1.1-.7-1.2 .2-1.1 1.4-1.1 2.1-1.2 2.9-1.1 3.3-1.1 3.5-1.2 3.5-1.1 3.3-1.1 3.1-1.2 2.7-1.1 2.5-1.1 2.1-1.2 1.8-1.1 1.6-1.1 1.3-1.2 1.1-1.1 .9-1.2 .8-1.1 .6-1.1 .4-1.2 .3-1.1 .2-1.1 .1-1.2 .1-1.1-.1-1.1 0-1.2-.2-1.1-.1-1.1 0z"/>
<path transform="translate(177.8 251.3)" d="M-26.1 -6.4l-1.1-.6-1.2-.4-1.1-.4-1.1-.5-1.2-.6-1.1-.7-1.2-.7-1.1-.8-1.1-1-1.2-1-1.1-1.1-1.1-1.3-1.2-1.3-1.1-1.4-1.1-1.6-1.2-1.6-1.1-1.6-1.1-1.9-1.2-1.9-1.1-2.1-1.1-2.4-1.2-2.6-1.1-2.9-1.1-3.2-1.2-3.5-1.1-3.7-1.2-3.7-1.1-3.6-1.1-3.2-1.2-2.5-1.1-1.7-1.1-.7-1.2 .3-1.1 1.3-1.1 2.2-1.2 2.8-1.1 3.3-1.1 3.4-1.2 3.5-1.1 3.3-1.1 3.1-1.2 2.7-1.1 2.4-1.1 2.1-1.2 1.8-1.1 1.5-1.1 1.4-1.2 1.1-1.1 .9-1.2 .7-1.1 .6-1.1 .4-1.2 .3-1.1 .2-1.1 .1-1.2 .1-1.1 0-1.1-.1-1.2-.2-1.1-.1-1.1 0z"/>
<path transform="translate(177.3 251.9)" d="M-26.1 -6.4l-1.1-.6-1.2-.4-1.1-.5-1.1-.5-1.2-.6-1.1-.7-1.2-.7-1.1-.9-1.1-1-1.2-1.1-1.1-1.2-1.1-1.2-1.2-1.4-1.1-1.5-1.1-1.5-1.2-1.6-1.1-1.6-1.1-1.8-1.2-1.9-1.1-2-1.1-2.3-1.2-2.4-1.1-2.8-1.1-3.1-1.2-3.3-1.1-3.5-1.2-3.5-1.1-3.4-1.1-3-1.2-2.4-1.1-1.7-1.1-.7-1.2 .4-1.1 1.2-1.1 2.1-1.2 2.8-1.1 3.1-1.1 3.3-1.2 3.4-1.1 3.1-1.1 3-1.2 2.6-1.1 2.3-1.1 2.1-1.2 1.7-1.1 1.5-1.1 1.3-1.2 1-1.1 .9-1.2 .7-1.1 .6-1.1 .4-1.2 .3-1.1 .2-1.1 .1-1.2 0-1.1 0-1.1-.1-1.2-.2-1.1-.1-1.1 0z"/>
<path transform="translate(176.7 252.5)" d="M-26.1 -6.4l-1.1-.6-1.2-.5-1.1-.4-1.1-.6-1.2-.6-1.1-.7-1.2-.8-1.1-.9-1.1-1-1.2-1.1-1.1-1.2-1.1-1.3-1.2-1.4-1.1-1.5-1.1-1.5-1.2-1.5-1.1-1.7-1.1-1.6-1.2-1.8-1.1-1.9-1.1-2.1-1.2-2.3-1.1-2.6-1.1-2.8-1.2-3-1.1-3.2-1.2-3.3-1.1-3.1-1.1-2.8-1.2-2.3-1.1-1.4-1.1-.7-1.2 .3-1.1 1.2-1.1 1.9-1.2 2.6-1.1 2.9-1.1 3.1-1.2 3.1-1.1 3-1.1 2.7-1.2 2.5-1.1 2.2-1.1 1.9-1.2 1.6-1.1 1.4-1.1 1.2-1.2 1-1.1 .8-1.2 .7-1.1 .5-1.1 .4-1.2 .3-1.1 .1-1.1 .1-1.2 0-1.1 0-1.1-.1-1.2-.1-1.1-.2-1.1 0z"/>
<path transform="translate(176.2 253.1)" d="M-26.1 -6.4l-1.1-.6-1.2-.5-1.1-.5-1.1-.5-1.2-.6-1.1-.7-1.2-.9-1.1-.9-1.1-1-1.2-1.2-1.1-1.2-1.1-1.3-1.2-1.4-1.1-1.4-1.1-1.5-1.2-1.5-1.1-1.6-1.1-1.6-1.2-1.6-1.1-1.8-1.1-1.8-1.2-2.1-1.1-2.3-1.1-2.5-1.2-2.8-1.1-2.8-1.1-2.9-1.2-2.8-1.1-2.5-1.2-2-1.1-1.4-1.1-.5-1.2 .2-1.1 1.1-1.1 1.7-1.2 2.3-1.1 2.6-1.1 2.8-1.2 2.8-1.1 2.7-1.1 2.5-1.2 2.2-1.1 2-1.1 1.8-1.2 1.5-1.1 1.3-1.1 1-1.2 1-1.1 .7-1.2 .6-1.1 .5-1.1 .3-1.2 .3-1.1 .1-1.1 .1-1.2 0-1.1-.1-1.1-.1-1.2-.1-1.1-.2-1.1 0z"/>
<path transform="translate(175.6 253.7)" d="M-26.1 -6.4l-1.1-.7-1.2-.4-1.1-.5-1.1-.5-1.2-.7-1.1-.7-1.2-.8-1.1-.9-1.1-1.1-1.2-1.1-1.1-1.3-1.1-1.3-1.2-1.3-1.1-1.5-1.1-1.4-1.2-1.4-1.1-1.5-1.1-1.4-1.2-1.6-1.1-1.5-1.1-1.7-1.2-1.8-1.1-2-1.1-2.2-1.2-2.4-1.1-2.5-1.1-2.5-1.2-2.4-1.1-2.2-1.2-1.7-1.1-1.2-1.1-.5-1.2 .2-1.1 .9-1.1 1.5-1.2 2-1.1 2.3-1.1 2.4-1.2 2.5-1.1 2.3-1.1 2.2-1.2 2-1.1 1.8-1.1 1.5-1.2 1.4-1.1 1.1-1.1 1-1.2 .8-1.1 .7-1.2 .5-1.1 .4-1.1 .3-1.2 .2-1.1 .2-1.1 0-1.2 0-1.1-.1-1.1-.1-1.2-.2-1.1-.2-1.1 0z"/>
<path transform="translate(175.1 254.2)" d="M-26.1 -6.4l-1.1-.7-1.2-.4-1.1-.5-1.1-.5-1.2-.7-1.1-.7-1.2-.8-1.1-1-1.1-1-1.2-1.1-1.1-1.2-1.1-1.3-1.2-1.4-1.1-1.3-1.1-1.4-1.2-1.3-1.1-1.4-1.1-1.3-1.2-1.4-1.1-1.4-1.1-1.4-1.2-1.6-1.1-1.7-1.1-1.9-1.2-2-1.1-2.1-1.1-2.1-1.2-2.1-1.1-1.8-1.2-1.4-1.1-1-1.1-.5-1.2 .2-1.1 .8-1.1 1.2-1.2 1.7-1.1 1.9-1.1 2-1.2 2.1-1.1 2-1.1 1.9-1.2 1.7-1.1 1.6-1.1 1.3-1.2 1.2-1.1 1-1.1 .8-1.2 .7-1.1 .6-1.2 .5-1.1 .3-1.1 .3-1.2 .1-1.1 .1-1.1 0-1.2-.1-1.1-.1-1.1-.1-1.2-.2-1.1-.2-1.1 0zM-109 -26.9l-1.1-.5-1.1-.3-1.2-.3-1.1-.2 0 .2z"/>
<path transform="translate(174.5 254.8)" d="M-26.1 -6.4l-1.1-.7-1.2-.4-1.1-.5-1.1-.5-1.2-.6-1.1-.8-1.2-.8-1.1-.9-1.1-1-1.2-1.1-1.1-1.2-1.1-1.2-1.2-1.3-1.1-1.3-1.1-1.3-1.2-1.3-1.1-1.2-1.1-1.2-1.2-1.2-1.1-1.3-1.1-1.2-1.2-1.3-1.1-1.5-1.1-1.5-1.2-1.7-1.1-1.7-1.1-1.7-1.2-1.7-1.1-1.5-1.2-1.2-1.1-.9-1.1-.3-1.2 .1-1.1 .6-1.1 1-1.2 1.3-1.1 1.6-1.1 1.7-1.2 1.7-1.1 1.7-1.1 1.5-1.2 1.5-1.1 1.3-1.1 1.1-1.2 1-1.1 .9-1.1 .7-1.2 .6-1.1 .5-1.2 .3-1.1 .3-1.1 .2-1.2 .1-1.1 0-1.1 0-1.2-.1-1.1-.1-1.1-.2-1.2-.1-1.1 0zM-105.6 -26l-1.1-.6-1.1-.3-1.2-.3-1.1-.4-1.1-.3-1.2-.3-1.1-.2 0 .4z"/>
<path transform="translate(174 255.4)" d="M-26.1 -6.4l-1.1-.6-1.2-.5-1.1-.4-1.1-.6-1.2-.6-1.1-.7-1.2-.8-1.1-.9-1.1-1-1.2-1-1.1-1.2-1.1-1.2-1.2-1.2-1.1-1.2-1.1-1.2-1.2-1.2-1.1-1.1-1.1-1.1-1.2-1-1.1-1.1-1.1-1.1-1.2-1.1-1.1-1.1-1.1-1.3-1.2-1.4-1.1-1.4-1.2-1.4-1.1-1.3-1.1-1.2-1.2-1-1.1-.7-1.1-.3-1.2 .1-1.1 .4-1.1 .8-1.2 1-1.1 1.3-1.1 1.3-1.2 1.4-1.1 1.4-1.1 1.3-1.2 1.1-1.1 1.1-1.1 .9-1.2 .9-1.1 .7-1.2 .5-1.1 .5-1.1 .4-1.2 .3-1.1 .2-1.1 .1-1.2 .1-1.1 0-1.1-.1-1.2-.1-1.1-.1-1.1-.2-1.2-.2-1.1 0zM-103.3 -25.5l-1.1-.5-1.2-.4-1.1-.3-1.1-.4-1.2-.4-1.1-.4-1.1-.3-1.2-.3-1.1-.2 0 .7z"/>
<path transform="translate(173.4 256)" d="M-26.1 -6.4l-1.1-.6-1.2-.4-1.1-.5-1.1-.5-1.2-.6-1.1-.7-1.2-.8-1.1-.8-1.1-1-1.2-1-1.1-1.1-1.1-1.1-1.2-1.1-1.1-1.2-1.1-1.1-1.2-1-1.1-1.1-1.1-.9-1.2-1-1.1-.9-1.1-.9-1.2-.9-1.1-1-1.1-1-1.2-1.1-1.1-1.1-1.2-1.2-1.1-1-1.1-1-1.2-.8-1.1-.6-1.1-.2-1.2 0-1.1 .3-1.1 .6-1.2 .8-1.1 1-1.1 1.1-1.2 1-1.1 1.1-1.1 1-1.2 1-1.1 .8-1.1 .8-1.2 .7-1.1 .5-1.2 .5-1.1 .4-1.1 .2-1.2 .2-1.1 .2-1.1 0-1.2 0-1.1 0-1.1-.1-1.2-.1-1.1-.2-1.1-.2-1.2-.2-1.1 0zM-101 -24.9l-1.2-.5-1.1-.4-1.1-.4-1.2-.4-1.1-.4-1.1-.5-1.2-.4-1.1-.4-1.1-.4-1.2-.3-1.1-.2 0 1.2z"/>
<path transform="translate(172.9 256.6)" d="M-26.1 -6.4l-1.1-.6-1.2-.4-1.1-.5-1.1-.5-1.2-.5-1.1-.7-1.2-.7-1.1-.8-1.1-.9-1.2-1-1.1-1-1.1-1-1.2-1.1-1.1-1-1.1-1-1.2-1-1.1-.9-1.1-.9-1.2-.8-1.1-.8-1.1-.8-1.2-.8-1.1-.8-1.1-.8-1.2-.9-1.1-.9-1.2-1-1.1-.8-1.1-.8-1.2-.7-1.1-.4-1.1-.3-1.2 0-1.1 .3-1.1 .4-1.2 .6-1.1 .8-1.1 .8-1.2 .8-1.1 .9-1.1 .8-1.2 .7-1.1 .7-1.1 .6-1.2 .5-1.1 .4-1.2 .4-1.1 .3-1.1 .2-1.2 .1-1.1 0-1.1 .1-1.2-.1-1.1-.1-1.1-.1-1.2-.2-1.1-.2-1.1-.2-1.2-.2-1.1 0zM-99.9 -24.6l-1.1-.6-1.2-.4-1.1-.4-1.1-.4-1.2-.5-1.1-.5-1.1-.5-1.2-.6-1.1-.4-1.1-.4-1.2-.4-1.1-.2 0 1.9z"/>
<path transform="translate(172.4 257.1)" d="M-26.1 -6.4l-1.1-.6-1.2-.4-1.1-.4-1.1-.5-1.2-.5-1.1-.6-1.2-.7-1.1-.8-1.1-.8-1.2-.9-1.1-.9-1.1-1-1.2-1-1.1-.9-1.1-.9-1.2-.9-1.1-.9-1.1-.8-1.2-.7-1.1-.7-1.1-.7-1.2-.7-1.1-.7-1.1-.7-1.2-.7-1.1-.8-1.2-.8-1.1-.7-1.1-.6-1.2-.6-1.1-.4-1.1-.2-1.2 0-1.1 .2-1.1 .3-1.2 .4-1.1 .6-1.1 .6-1.2 .7-1.1 .6-1.1 .7-1.2 .6-1.1 .5-1.1 .4-1.2 .4-1.1 .4-1.2 .2-1.1 .2-1.1 .1-1.2 .1-1.1 0-1.1-.1-1.2-.1-1.1-.1-1.1-.1-1.2-.2-1.1-.3-1.1-.2-1.2-.2-1.1-.3-1.1-.3-1.2-.2-1.1-.3-1.1-.3-1.2-.4-1.1-.3-1.2-.4-1.1-.5-1.1-.5-1.2-.6-1.1-.7-1.1-.6-1.2-.7-1.1-.5-1.1-.5-1.2-.4-1.1-.2 0 2.9z"/>
<path transform="translate(171.8 257.7)" d="M-27.2 -6.7l-1.2-.6-1.1-.4-1.1-.5-1.2-.5-1.1-.6-1.2-.6-1.1-.7-1.1-.8-1.2-.8-1.1-.8-1.1-.9-1.2-.9-1.1-.9-1.1-.8-1.2-.8-1.1-.8-1.1-.7-1.2-.7-1.1-.6-1.1-.7-1.2-.6-1.1-.6-1.1-.7-1.2-.6-1.1-.7-1.2-.6-1.1-.7-1.1-.5-1.2-.5-1.1-.3-1.1-.2-1.2-.1-1.1 .1-1.1 .3-1.2 .3-1.1 .4-1.1 .5-1.2 .5-1.1 .6-1.1 .5-1.2 .4-1.1 .4-1.1 .4-1.2 .3-1.1 .2-1.2 .2-1.1 .1-1.1 0-1.2 0-1.1 0-1.1-.1-1.2-.1-1.1-.2-1.1-.2-1.2-.2-1.1-.3-1.1-.2-1.2-.3-1.1-.3-1.1-.3-1.2-.2-1.1-.3-1.1-.4-1.2-.3-1.1-.4-1.2-.5-1.1-.5-1.1-.7-1.2-.7-1.1-.8-1.1-.9-1.2-.8-1.1-.7-1.1-.5-1.2-.4-1.1-.2 0 4.2z"/>
<path transform="translate(171.3 258.3)" d="M-27.2 -6.7l-1.2-.6-1.1-.4-1.1-.4-1.2-.5-1.1-.5-1.2-.6-1.1-.7-1.1-.6-1.2-.8-1.1-.8-1.1-.8-1.2-.8-1.1-.8-1.1-.7-1.2-.8-1.1-.7-1.1-.6-1.2-.7-1.1-.6-1.1-.6-1.2-.6-1.1-.6-1.1-.6-1.2-.6-1.1-.6-1.2-.6-1.1-.6-1.1-.5-1.2-.4-1.1-.3-1.1-.2-1.2-.1-1.1 .1-1.1 .1-1.2 .3-1.1 .4-1.1 .4-1.2 .4-1.1 .4-1.1 .4-1.2 .4-1.1 .3-1.1 .3-1.2 .2-1.1 .2-1.1 .1-1.2 0-1.1 0-1.2-.1-1.1-.1-1.1-.1-1.2-.2-1.1-.2-1.1-.2-1.2-.3-1.1-.2-1.1-.3-1.2-.3-1.1-.3-1.1-.3-1.2-.3-1.1-.3-1.1-.3-1.2-.4-1.1-.5-1.2-.5-1.1-.7-1.1-.8-1.2-.9-1.1-1-1.1-1-1.2-1-1.1-.9-1.1-.7-1.2-.4-1.1-.1 0 5.8z"/>
<path transform="translate(170.7 258.9)" d="M-27.2 -6.7l-1.2-.5-1.1-.4-1.1-.4-1.2-.5-1.1-.5-1.2-.5-1.1-.6-1.1-.6-1.2-.7-1.1-.7-1.1-.7-1.2-.7-1.1-.8-1.1-.7-1.2-.7-1.1-.6-1.1-.7-1.2-.6-1.1-.6-1.1-.6-1.2-.5-1.1-.6-1.1-.7-1.2-.6-1.1-.6-1.2-.6-1.1-.5-1.1-.5-1.2-.4-1.1-.3-1.1-.2-1.2-.1-1.1 .1-1.1 .1-1.2 .3-1.1 .3-1.1 .3-1.2 .4-1.1 .3-1.1 .4-1.2 .3-1.1 .2-1.1 .3-1.2 .1-1.1 .1-1.1 .1-1.2 0-1.1-.1-1.2-.1-1.1-.1-1.1-.2-1.2-.2-1.1-.3-1.1-.2-1.2-.3-1.1-.3-1.1-.4-1.2-.3-1.1-.3-1.1-.3-1.2-.3-1.1-.3-1.1-.4-1.2-.4-1.1-.5-1.2-.6-1.1-.8-1.1-1-1.2-1.1-1.1-1.2-1.1-1.3-1.2-1.3-1.1-1-1.1-.8-1.2-.5-1.1-.1 0 7.8z"/>
<path transform="translate(170.2 259.4)" d="M-28.4 -7l-1.1-.6-1.1-.3-1.2-.5-1.1-.4-1.2-.5-1.1-.6-1.1-.5-1.2-.6-1.1-.7-1.1-.6-1.2-.7-1.1-.6-1.1-.7-1.2-.6-1.1-.7-1.1-.6-1.2-.6-1.1-.6-1.1-.6-1.2-.6-1.1-.6-1.1-.7-1.2-.6-1.1-.7-1.2-.6-1.1-.5-1.1-.5-1.2-.4-1.1-.3-1.1-.2-1.2-.1-1.1 .1-1.1 .1-1.2 .2-1.1 .3-1.1 .4-1.2 .3-1.1 .3-1.1 .3-1.2 .3-1.1 .2-1.1 .2-1.2 .1-1.1 .1-1.1 0-1.2 0-1.1-.1-1.2-.2-1.1-.2-1.1-.2-1.2-.2-1.1-.3-1.1-.3-1.2-.4-1.1-.3-1.1-.4-1.2-.3-1.1-.4-1.1-.3-1.2-.3-1.1-.4-1.1-.3-1.2-.5-1.1-.5-1.2-.7-1.1-1-1.1-1.1-1.2-1.4-1.1-1.5-1.1-1.5-1.2-1.5-1.1-1.3-1.1-.9-1.2-.5-1.1-.1 0 10z"/>
<path transform="translate(169.6 260)" d="M-29.5 -7.3l-1.1-.6-1.2-.4-1.1-.4-1.2-.4-1.1-.5-1.1-.5-1.2-.6-1.1-.6-1.1-.6-1.2-.6-1.1-.6-1.1-.6-1.2-.6-1.1-.6-1.1-.6-1.2-.6-1.1-.6-1.1-.7-1.2-.6-1.1-.7-1.1-.7-1.2-.7-1.1-.7-1.2-.6-1.1-.6-1.1-.5-1.2-.4-1.1-.3-1.1-.2-1.2-.1-1.1 .1-1.1 .1-1.2 .3-1.1 .2-1.1 .4-1.2 .3-1.1 .3-1.1 .3-1.2 .3-1.1 .2-1.1 .2-1.2 0-1.1 .1-1.1 0-1.2-.1-1.1-.1-1.2-.2-1.1-.2-1.1-.3-1.2-.3-1.1-.3-1.1-.4-1.2-.4-1.1-.4-1.1-.4-1.2-.4-1.1-.4-1.1-.3-1.2-.4-1.1-.3-1.1-.4-1.2-.4-1.1-.6-1.2-.8-1.1-1.1-1.1-1.3-1.2-1.6-1.1-1.8-1.1-1.8-1.2-1.8-1.1-1.5-1.1-1.1-1.2-.5-1.1 0 0 12.3z"/>
<path transform="translate(169.1 260.6)" d="M-29.5 -7.3l-1.1-.5-1.2-.4-1.1-.4-1.2-.4-1.1-.4-1.1-.5-1.2-.5-1.1-.5-1.1-.6-1.2-.5-1.1-.6-1.1-.6-1.2-.5-1.1-.6-1.1-.6-1.2-.7-1.1-.6-1.1-.7-1.2-.7-1.1-.7-1.1-.8-1.2-.7-1.1-.8-1.2-.7-1.1-.6-1.1-.5-1.2-.5-1.1-.3-1.1-.2-1.2 0-1.1 0-1.1 .2-1.2 .3-1.1 .3-1.1 .3-1.2 .4-1.1 .3-1.1 .3-1.2 .3-1.1 .2-1.1 .1-1.2 .1-1.1 0-1.1 0-1.2-.1-1.1-.2-1.2-.2-1.1-.2-1.1-.3-1.2-.4-1.1-.4-1.1-.4-1.2-.5-1.1-.5-1.1-.4-1.2-.5-1.1-.4-1.1-.4-1.2-.3-1.1-.4-1.1-.3-1.2-.5-1.1-.6-1.2-.9-1.1-1.2-1.1-1.4-1.2-1.8-1.1-2.1-1.1-2.1-1.2-2-1.1-1.8-1.1-1.2-1.2-.6-1.1 .1 0 14.6z"/>
<path transform="translate(168.5 261.2)" d="M-30.6 -7.6l-1.2-.5-1.1-.4-1.2-.4-1.1-.4-1.1-.4-1.2-.5-1.1-.4-1.1-.5-1.2-.5-1.1-.6-1.1-.5-1.2-.6-1.1-.6-1.1-.6-1.2-.7-1.1-.6-1.1-.8-1.2-.7-1.1-.8-1.1-.8-1.2-.8-1.1-.8-1.2-.8-1.1-.6-1.1-.6-1.2-.5-1.1-.3-1.1-.2-1.2 0-1.1 .1-1.1 .1-1.2 .3-1.1 .3-1.1 .4-1.2 .4-1.1 .3-1.1 .4-1.2 .2-1.1 .2-1.1 .2-1.2 .1-1.1 0-1.2-.1-1.1-.1-1.1-.1-1.2-.3-1.1-.3-1.1-.3-1.2-.5-1.1-.4-1.1-.5-1.2-.6-1.1-.5-1.1-.6-1.2-.5-1.1-.5-1.1-.4-1.2-.3-1.1-.4-1.1-.4-1.2-.4-1.1-.6-1.2-.9-1.1-1.2-1.1-1.6-1.2-2-1.1-2.2-1.1-2.4-1.2-2.3-1.1-1.9-1.1-1.4-1.2-.6-1.1 .1 0 16.7z"/>
<path transform="translate(168 261.8)" d="M-31.8 -7.8l-1.1-.6-1.2-.4-1.1-.3-1.1-.4-1.2-.5-1.1-.4-1.1-.5-1.2-.4-1.1-.5-1.1-.6-1.2-.5-1.1-.6-1.1-.7-1.2-.6-1.1-.8-1.1-.7-1.2-.8-1.1-.9-1.1-.9-1.2-.8-1.1-.9-1.2-.8-1.1-.7-1.1-.6-1.2-.5-1.1-.3-1.1-.2-1.2 0-1.1 .1-1.1 .2-1.2 .3-1.1 .3-1.1 .4-1.2 .4-1.1 .4-1.1 .4-1.2 .2-1.1 .3-1.1 .1-1.2 .1-1.1 0-1.2 0-1.1-.2-1.1-.2-1.2-.2-1.1-.4-1.1-.4-1.2-.5-1.1-.5-1.1-.7-1.2-.6-1.1-.7-1.1-.6-1.2-.6-1.1-.5-1.1-.5-1.2-.4-1.1-.3-1.1-.3-1.2-.4-1.1-.6-1.2-.9-1.1-1.2-1.1-1.7-1.2-2-1.1-2.4-1.1-2.5-1.2-2.5-1.1-2.1-1.1-1.4-1.2-.7-1.1 .1 0 18.4z"/>
<path transform="translate(167.4 262.3)" d="M-32.9 -8.1l-1.2-.6-1.1-.3-1.1-.4-1.2-.4-1.1-.4-1.1-.5-1.2-.4-1.1-.5-1.1-.5-1.2-.6-1.1-.6-1.1-.6-1.2-.7-1.1-.8-1.1-.8-1.2-.8-1.1-.9-1.1-1-1.2-.9-1.1-.9-1.2-.8-1.1-.8-1.1-.6-1.2-.5-1.1-.3-1.1-.2-1.2-.1-1.1 .1-1.1 .3-1.2 .3-1.1 .4-1.1 .4-1.2 .4-1.1 .4-1.1 .4-1.2 .3-1.1 .3-1.1 .1-1.2 .1-1.1 0-1.2-.1-1.1-.1-1.1-.2-1.2-.3-1.1-.4-1.1-.5-1.2-.6-1.1-.6-1.1-.8-1.2-.7-1.1-.8-1.1-.8-1.2-.7-1.1-.6-1.1-.5-1.2-.4-1.1-.3-1.1-.2-1.2-.4-1.1-.5-1.2-.8-1.1-1.2-1.1-1.6-1.2-2.1-1.1-2.4-1.1-2.6-1.2-2.6-1.1-2.1-1.1-1.6-1.2-.7-1.1 .2 0 19.5z"/>
<path transform="translate(166.9 262.9)" d="M-34.1 -8.4l-1.1-.6-1.1-.3-1.2-.4-1.1-.4-1.1-.4-1.2-.4-1.1-.5-1.1-.5-1.2-.6-1.1-.6-1.1-.6-1.2-.7-1.1-.8-1.1-.9-1.2-.9-1.1-.9-1.1-1-1.2-.9-1.1-1-1.2-.9-1.1-.7-1.1-.7-1.2-.5-1.1-.4-1.1-.2-1.2 0-1.1 .1-1.1 .3-1.2 .3-1.1 .5-1.1 .4-1.2 .4-1.1 .5-1.1 .4-1.2 .3-1.1 .2-1.1 .2-1.2 .1-1.1 0-1.2-.1-1.1-.2-1.1-.2-1.2-.4-1.1-.4-1.1-.6-1.2-.6-1.1-.8-1.1-.9-1.2-.9-1.1-.9-1.1-.9-1.2-.9-1.1-.7-1.1-.5-1.2-.4-1.1-.2-1.1-.2-1.2-.3-1.1-.3-1.2-.7-1.1-1.1-1.1-1.5-1.2-2-1.1-2.4-1.1-2.6-1.2-2.5-1.1-2.2-1.1-1.6-1.2-.8-1.1 .2 0 20.1z"/>
<path transform="translate(166.3 263.5)" d="M-35.2 -8.7l-1.1-.5-1.2-.4-1.1-.4-1.1-.4-1.2-.4-1.1-.5-1.1-.5-1.2-.5-1.1-.6-1.1-.7-1.2-.7-1.1-.8-1.1-.9-1.2-.9-1.1-1-1.1-1-1.2-1-1.1-1-1.2-.9-1.1-.8-1.1-.6-1.2-.6-1.1-.3-1.1-.2-1.2 0-1.1 .1-1.1 .3-1.2 .3-1.1 .4-1.1 .5-1.2 .5-1.1 .4-1.1 .4-1.2 .3-1.1 .3-1.1 .2-1.2 0-1.1 0-1.2 0-1.1-.2-1.1-.3-1.2-.4-1.1-.5-1.1-.7-1.2-.8-1.1-.9-1.1-1-1.2-1.1-1.1-1.1-1.1-1-1.2-1-1.1-.8-1.1-.6-1.2-.4-1.1-.2-1.1-.1-1.2 0-1.1-.3-1.2-.4-1.1-.9-1.1-1.3-1.2-1.9-1.1-2.2-1.1-2.5-1.2-2.5-1.1-2.2-1.1-1.6-1.2-.8-1.1 .2 0 20.1z"/>
<path transform="translate(165.8 264.1)" d="M-35.2 -8.7l-1.1-.5-1.2-.4-1.1-.3-1.1-.4-1.2-.4-1.1-.5-1.1-.5-1.2-.5-1.1-.6-1.1-.7-1.2-.7-1.1-.8-1.1-.9-1.2-1-1.1-1-1.1-1-1.2-1-1.1-1-1.2-.9-1.1-.8-1.1-.7-1.2-.6-1.1-.3-1.1-.2-1.2 0-1.1 .1-1.1 .3-1.2 .4-1.1 .4-1.1 .5-1.2 .4-1.1 .5-1.1 .4-1.2 .3-1.1 .2-1.1 .2-1.2 .1-1.1 0-1.2-.1-1.1-.2-1.1-.4-1.2-.4-1.1-.6-1.1-.7-1.2-.9-1.1-1.1-1.1-1.2-1.2-1.2-1.1-1.3-1.1-1.3-1.2-1.1-1.1-.9-1.1-.6-1.2-.4-1.1-.1-1.1 0-1.2 .1-1.1 0-1.2-.3-1.1-.6-1.1-1.1-1.2-1.5-1.1-2.1-1.1-2.3-1.2-2.4-1.1-2.2-1.1-1.6-1.2-.7-1.1 .1 0 19.7z"/>
<path transform="translate(165.2 264.6)" d="M-35.2 -8.7l-1.1-.5-1.2-.3-1.1-.4-1.1-.4-1.2-.4-1.1-.5-1.1-.4-1.2-.6-1.1-.6-1.1-.6-1.2-.8-1.1-.8-1.1-.9-1.2-.9-1.1-1-1.1-1.1-1.2-1-1.1-1-1.2-.9-1.1-.8-1.1-.7-1.2-.6-1.1-.3-1.1-.2-1.2 0-1.1 .1-1.1 .3-1.2 .4-1.1 .4-1.1 .5-1.2 .4-1.1 .4-1.1 .4-1.2 .3-1.1 .3-1.1 .1-1.2 .1-1.1 0-1.2-.1-1.1-.3-1.1-.3-1.2-.5-1.1-.7-1.1-.8-1.2-1.1-1.1-1.2-1.1-1.3-1.2-1.5-1.1-1.4-1.1-1.5-1.2-1.2-1.1-1-1.1-.7-1.2-.4-1.1-.1-1.1 .2-1.2 .2-1.1 .3-1.2 0-1.1-.3-1.1-.8-1.2-1.3-1.1-1.8-1.1-2.1-1.2-2.2-1.1-2.1-1.1-1.6-1.2-.8-1.1 0 0 19.1z"/>
<path transform="translate(164.7 265.2)" d="M-35.2 -8.7l-1.1-.5-1.2-.4-1.1-.3-1.1-.4-1.2-.4-1.1-.5-1.1-.4-1.2-.6-1.1-.6-1.1-.6-1.2-.8-1.1-.8-1.1-.8-1.2-1-1.1-1-1.1-1-1.2-1.1-1.1-.9-1.2-1-1.1-.8-1.1-.7-1.2-.5-1.1-.3-1.1-.2-1.2 0-1.1 .1-1.1 .3-1.2 .3-1.1 .5-1.1 .4-1.2 .4-1.1 .4-1.1 .4-1.2 .3-1.1 .2-1.1 .2-1.2 0-1.1 0-1.2-.1-1.1-.3-1.1-.4-1.2-.5-1.1-.8-1.1-.9-1.2-1.2-1.1-1.3-1.1-1.6-1.2-1.6-1.1-1.7-1.1-1.6-1.2-1.4-1.1-1.1-1.1-.8-1.2-.4-1.1 0-1.1 .3-1.2 .5-1.1 .5-1.2 .3-1.1 0-1.1-.5-1.2-.9-1.1-1.5-1.1-1.9-1.2-2.1-1.1-2-1.1-1.6-1.2-.9-1.1 0 0 18.3z"/>
<path transform="translate(164.1 265.8)" d="M-34.1 -8.4l-1.1-.5-1.1-.4-1.2-.3-1.1-.4-1.1-.4-1.2-.4-1.1-.4-1.1-.5-1.2-.5-1.1-.6-1.1-.7-1.2-.7-1.1-.8-1.1-.9-1.2-.9-1.1-1-1.1-1-1.2-1-1.1-1-1.2-.9-1.1-.8-1.1-.7-1.2-.5-1.1-.3-1.1-.2-1.2 0-1.1 .2-1.1 .2-1.2 .4-1.1 .4-1.1 .4-1.2 .4-1.1 .4-1.1 .3-1.2 .3-1.1 .2-1.1 .1-1.2 0-1.1 0-1.2-.2-1.1-.3-1.1-.4-1.2-.6-1.1-.8-1.1-1-1.2-1.3-1.1-1.5-1.1-1.7-1.2-1.8-1.1-1.9-1.1-1.8-1.2-1.5-1.1-1.3-1.1-.8-1.2-.4-1.1 .1-1.1 .4-1.2 .7-1.1 .7-1.2 .6-1.1 .3-1.1-.1-1.2-.7-1.1-1.2-1.1-1.7-1.2-1.9-1.1-2-1.1-1.6-1.2-.9-1.1-.1 0 17.6z"/>
<path transform="translate(163.6 266.4)" d="M-32.9 -8.1l-1.2-.5-1.1-.4-1.1-.3-1.2-.4-1.1-.4-1.1-.4-1.2-.4-1.1-.5-1.1-.4-1.2-.5-1.1-.6-1.1-.7-1.2-.7-1.1-.8-1.1-.8-1.2-1-1.1-.9-1.1-1-1.2-1-1.1-1-1.2-.9-1.1-.8-1.1-.7-1.2-.4-1.1-.3-1.1-.2-1.2 0-1.1 .2-1.1 .3-1.2 .3-1.1 .4-1.1 .4-1.2 .3-1.1 .4-1.1 .3-1.2 .2-1.1 .2-1.1 .1-1.2 0-1.1-.1-1.1-.1-1.2-.3-1.1-.5-1.2-.7-1.1-.8-1.1-1.1-1.2-1.4-1.1-1.6-1.1-1.9-1.2-2-1.1-2-1.1-1.9-1.2-1.7-1.1-1.4-1.1-.9-1.2-.3-1.1 .1-1.1 .5-1.2 .8-1.1 1-1.2 .8-1.1 .6-1.1 .2-1.2-.3-1.1-1-1.1-1.5-1.2-1.8-1.1-1.9-1.1-1.6-1.2-1-1.1-.2 0 17z"/>
<path transform="translate(163 267)" d="M-31.8 -7.8l-1.1-.6-1.2-.3-1.1-.4-1.1-.4-1.2-.4-1.1-.4-1.1-.4-1.2-.4-1.1-.5-1.1-.4-1.2-.5-1.1-.6-1.1-.6-1.2-.7-1.1-.8-1.1-.9-1.2-.9-1.1-1-1.1-1-1.2-1-1.1-.9-1.2-.9-1.1-.8-1.1-.6-1.2-.4-1.1-.3-1.1-.1-1.2 0-1.1 .2-1.1 .3-1.2 .3-1.1 .4-1.1 .3-1.2 .4-1.1 .3-1.1 .2-1.2 .2-1.1 .2-1.1 0-1.2 0-1.1-.1-1.1-.2-1.2-.3-1.1-.5-1.2-.6-1.1-.9-1.1-1.2-1.2-1.5-1.1-1.7-1.1-2-1.2-2.1-1.1-2.1-1.1-2.1-1.2-1.8-1.1-1.4-1.1-1-1.2-.3-1.1 .1-1.1 .6-1.2 1-1.1 1.1-1.2 1.1-1.1 .8-1.1 .5-1.2-.1-1.1-.7-1.1-1.3-1.2-1.7-1.1-1.9-1.1-1.6-1.2-1-1.1-.3 0 16.4z"/>
<path transform="translate(162.5 267.5)" d="M-29.5 -7.3l-1.1-.5-1.2-.3-1.1-.4-1.2-.4-1.1-.3-1.1-.5-1.2-.4-1.1-.4-1.1-.5-1.2-.4-1.1-.5-1.1-.4-1.2-.5-1.1-.6-1.1-.6-1.2-.7-1.1-.8-1.1-.9-1.2-.9-1.1-1-1.1-.9-1.2-1-1.1-1-1.2-.8-1.1-.8-1.1-.6-1.2-.4-1.1-.2-1.1-.1-1.2 .1-1.1 .3-1.1 .2-1.2 .4-1.1 .3-1.1 .3-1.2 .3-1.1 .3-1.1 .2-1.2 .2-1.1 .1-1.1 0-1.2 0-1.1-.1-1.1-.2-1.2-.3-1.1-.5-1.2-.7-1.1-.9-1.1-1.3-1.2-1.5-1.1-1.8-1.1-2-1.2-2.2-1.1-2.3-1.1-2.1-1.2-1.9-1.1-1.5-1.1-1-1.2-.3-1.1 .2-1.1 .6-1.2 1.1-1.1 1.2-1.2 1.3-1.1 1-1.1 .6-1.2 .1-1.1-.5-1.1-1.1-1.2-1.5-1.1-1.8-1.1-1.6-1.2-1.1-1.1-.2 0 15.7z"/>
<path transform="translate(161.9 268.1)" d="M-28.4 -7l-1.1-.5-1.1-.4-1.2-.3-1.1-.4-1.2-.4-1.1-.5-1.1-.4-1.2-.5-1.1-.5-1.1-.4-1.2-.5-1.1-.5-1.1-.5-1.2-.5-1.1-.5-1.1-.7-1.2-.7-1.1-.8-1.1-.8-1.2-1-1.1-.9-1.1-1-1.2-1-1.1-.9-1.2-.8-1.1-.7-1.1-.6-1.2-.4-1.1-.2-1.1 0-1.2 .2-1.1 .3-1.1 .3-1.2 .3-1.1 .4-1.1 .3-1.2 .2-1.1 .2-1.1 .2-1.2 .1-1.1 .1-1.1 0-1.2 0-1.1-.1-1.1-.2-1.2-.3-1.1-.5-1.2-.7-1.1-.9-1.1-1.3-1.2-1.5-1.1-1.8-1.1-2.1-1.2-2.2-1.1-2.3-1.1-2.2-1.2-1.9-1.1-1.6-1.1-1-1.2-.3-1.1 .2-1.1 .7-1.2 1.1-1.1 1.3-1.2 1.3-1.1 1.2-1.1 .8-1.2 .2-1.1-.3-1.1-1-1.2-1.4-1.1-1.6-1.1-1.5-1.2-1.1-1.1-.2 0 14.9z"/>
<path transform="translate(161.4 268.7)" d="M-26.1 -6.4l-1.1-.6-1.2-.3-1.1-.3-1.1-.4-1.2-.4-1.1-.4-1.2-.5-1.1-.4-1.1-.6-1.2-.5-1.1-.5-1.1-.5-1.2-.6-1.1-.4-1.1-.5-1.2-.6-1.1-.5-1.1-.7-1.2-.7-1.1-.8-1.1-.9-1.2-.9-1.1-1-1.1-1-1.2-.9-1.1-.9-1.2-.9-1.1-.7-1.1-.5-1.2-.3-1.1-.1-1.1 .1-1.2 .2-1.1 .3-1.1 .4-1.2 .4-1.1 .3-1.1 .3-1.2 .2-1.1 .2-1.1 .1-1.2 .1-1.1 0-1.1 0-1.2 0-1.1-.1-1.1-.2-1.2-.3-1.1-.5-1.2-.6-1.1-.9-1.1-1.2-1.2-1.5-1.1-1.8-1.1-2.1-1.2-2.2-1.1-2.3-1.1-2.2-1.2-1.9-1.1-1.5-1.1-1-1.2-.4-1.1 .2-1.1 .7-1.2 1.1-1.1 1.3-1.2 1.4-1.1 1.2-1.1 .8-1.2 .4-1.1-.2-1.1-.8-1.2-1.2-1.1-1.5-1.1-1.4-1.2-.9-1.1-.3 0 14z"/>
<path transform="translate(160.8 269.3)" d="M-23.8 -5.9l-1.2-.5-1.1-.3-1.1-.4-1.2-.3-1.1-.4-1.1-.4-1.2-.4-1.1-.5-1.1-.5-1.2-.5-1.1-.6-1.2-.6-1.1-.6-1.1-.6-1.2-.5-1.1-.5-1.1-.6-1.2-.5-1.1-.6-1.1-.7-1.2-.7-1.1-.9-1.1-.9-1.2-.9-1.1-1-1.1-1-1.2-.9-1.1-.9-1.1-.8-1.2-.7-1.1-.5-1.2-.3-1.1 0-1.1 .2-1.2 .3-1.1 .4-1.1 .4-1.2 .4-1.1 .4-1.1 .2-1.2 .2-1.1 .2-1.1 .1-1.2 0-1.1 0-1.1 0-1.2 0-1.1-.1-1.1-.2-1.2-.3-1.1-.4-1.2-.6-1.1-.8-1.1-1.2-1.2-1.4-1.1-1.7-1.1-2-1.2-2.1-1.1-2.3-1.1-2.1-1.2-1.9-1.1-1.5-1.1-1-1.2-.4-1.1 .2-1.1 .6-1.2 1.1-1.1 1.3-1.2 1.3-1.1 1.2-1.1 .9-1.2 .5-1.1-.1-1.1-.6-1.2-1.1-1.1-1.3-1.1-1.2-1.2-.8-1.1-.3 0 12.9z"/>
<path transform="translate(160.3 269.8)" d="M-21.6 -5.3l-1.1-.6-1.1-.3-1.2-.3-1.1-.3-1.1-.4-1.2-.4-1.1-.3-1.1-.5-1.2-.5-1.1-.5-1.1-.6-1.2-.6-1.1-.7-1.2-.6-1.1-.7-1.1-.7-1.2-.6-1.1-.5-1.1-.5-1.2-.6-1.1-.6-1.1-.7-1.2-.8-1.1-.9-1.1-1-1.2-.9-1.1-1-1.1-1-1.2-1-1.1-.9-1.1-.8-1.2-.6-1.1-.4-1.2-.2-1.1 0-1.1 .3-1.2 .4-1.1 .5-1.1 .5-1.2 .4-1.1 .4-1.1 .2-1.2 .2-1.1 .1-1.1 .1-1.2 0-1.1 0-1.1 0-1.2-.1-1.1 0-1.1-.2-1.2-.2-1.1-.4-1.2-.5-1.1-.7-1.1-1.1-1.2-1.3-1.1-1.6-1.1-1.8-1.2-2.1-1.1-2.1-1.1-2-1.2-1.8-1.1-1.5-1.1-.9-1.2-.5-1.1 .2-1.1 .6-1.2 .9-1.1 1.2-1.2 1.3-1.1 1.1-1.1 .9-1.2 .5-1.1 0-1.1-.5-1.2-.8-1.1-1.1-1.1-1-1.2-.7-1.1-.2 0 11.6z"/>
<path transform="translate(159.7 270.4)" d="M-19.3 -4.8l-1.1-.5-1.2-.3-1.1-.3-1.1-.4-1.2-.3-1.1-.4-1.1-.3-1.2-.4-1.1-.5-1.1-.4-1.2-.6-1.1-.6-1.1-.6-1.2-.8-1.1-.7-1.2-.8-1.1-.8-1.1-.7-1.2-.6-1.1-.6-1.1-.6-1.2-.6-1.1-.6-1.1-.7-1.2-.9-1.1-.9-1.1-1-1.2-1-1.1-1-1.1-1-1.2-1-1.1-.8-1.1-.8-1.2-.6-1.1-.5-1.2-.1-1.1 .1-1.1 .4-1.2 .5-1.1 .6-1.1 .5-1.2 .5-1.1 .4-1.1 .3-1.2 .1-1.1 .1-1.1 0-1.2 0-1.1 0-1.1 0-1.2 0-1.1-.1-1.1-.1-1.2-.1-1.1-.3-1.2-.4-1.1-.7-1.1-.9-1.2-1.1-1.1-1.5-1.1-1.7-1.2-1.8-1.1-2-1.1-1.9-1.2-1.7-1.1-1.3-1.1-.9-1.2-.5-1.1 .1-1.1 .5-1.2 .8-1.1 1.1-1.2 1.1-1.1 1-1.1 .8-1.2 .5-1.1 .1-1.1-.4-1.2-.6-1.1-.8-1.1-.8-1.2-.6-1.1-.1 0 10.3z"/>
<path transform="translate(159.2 271)" d="M-18.2 -4.5l-1.1-.5-1.1-.3-1.2-.4-1.1-.3-1.1-.4-1.2-.3-1.1-.4-1.1-.4-1.2-.4-1.1-.5-1.1-.6-1.2-.6-1.1-.6-1.1-.8-1.2-.8-1.1-.9-1.2-.9-1.1-.8-1.1-.8-1.2-.7-1.1-.7-1.1-.6-1.2-.6-1.1-.6-1.1-.8-1.2-.9-1.1-1-1.1-1-1.2-1-1.1-1.1-1.1-.9-1.2-1-1.1-.8-1.1-.8-1.2-.6-1.1-.4-1.2-.1-1.1 .2-1.1 .5-1.2 .5-1.1 .7-1.1 .6-1.2 .6-1.1 .4-1.1 .2-1.2 .2-1.1 0-1.1 0-1.2 0-1.1 0-1.1-.1-1.2 0-1.1 0-1.1 0-1.2-.1-1.1-.1-1.2-.4-1.1-.5-1.1-.7-1.2-1-1.1-1.2-1.1-1.5-1.2-1.7-1.1-1.7-1.1-1.7-1.2-1.6-1.1-1.2-1.1-.9-1.2-.4-1.1 0-1.1 .4-1.2 .6-1.1 .9-1.2 1-1.1 .8-1.1 .7-1.2 .5-1.1 .1-1.1-.2-1.2-.5-1.1-.6-1.1-.6-1.2-.4-1.1-.1 0 9.1z"/>
<path transform="translate(158.7 271.6)" d="M-17 -4.2l-1.2-.5-1.1-.4-1.1-.3-1.2-.4-1.1-.3-1.1-.4-1.2-.4-1.1-.4-1.1-.4-1.2-.5-1.1-.5-1.1-.6-1.2-.7-1.1-.8-1.1-.9-1.2-.9-1.1-1-1.2-1-1.1-.9-1.1-.9-1.2-.8-1.1-.6-1.1-.7-1.2-.6-1.1-.6-1.1-.8-1.2-.9-1.1-1.1-1.1-1-1.2-1.1-1.1-1-1.1-1-1.2-.9-1.1-.8-1.1-.8-1.2-.5-1.1-.4-1.2 0-1.1 .2-1.1 .5-1.2 .6-1.1 .7-1.1 .7-1.2 .6-1.1 .4-1.1 .2-1.2 .1-1.1 0-1.1 0-1.2 0-1.1-.1-1.1 0-1.2 .1-1.1 0-1.1 .1-1.2 0-1.1-.1-1.2-.2-1.1-.3-1.1-.6-1.2-.7-1.1-1.1-1.1-1.2-1.2-1.4-1.1-1.5-1.1-1.5-1.2-1.4-1.1-1.1-1.1-.8-1.2-.5-1.1-.1-1.1 .3-1.2 .5-1.1 .7-1.2 .8-1.1 .7-1.1 .5-1.2 .4-1.1 .1-1.1-.2-1.2-.3-1.1-.4-1.1-.4-1.2-.3-1.1 0 0 8z"/>
<path transform="translate(158.1 272.2)" d="M-15.9 -3.9l-1.1-.6-1.2-.3-1.1-.3-1.1-.4-1.2-.4-1.1-.3-1.1-.4-1.2-.4-1.1-.5-1.1-.4-1.2-.6-1.1-.6-1.1-.6-1.2-.8-1.1-.9-1.2-1-1.1-1-1.1-1.2-1.2-1.1-1.1-1-1.1-1-1.2-.8-1.1-.7-1.1-.6-1.2-.6-1.1-.7-1.1-.8-1.2-.9-1.1-1-1.1-1.1-1.2-1.1-1.1-1-1.1-.9-1.2-.9-1.1-.8-1.2-.7-1.1-.6-1.1-.3-1.2 0-1.1 .2-1.1 .5-1.2 .7-1.1 .7-1.1 .7-1.2 .5-1.1 .4-1.1 .2-1.2 .1-1.1 0-1.1-.1-1.2 0-1.1 0-1.1 0-1.2 .1-1.1 .1-1.2 .1-1.1 .1-1.1 .1-1.2 0-1.1-.2-1.1-.4-1.2-.5-1.1-.8-1.1-1-1.2-1.2-1.1-1.2-1.1-1.3-1.2-1.2-1.1-1-1.1-.7-1.2-.5-1.1-.1-1.1 .1-1.2 .4-1.1 .5-1.2 .5-1.1 .5-1.1 .4-1.2 .3-1.1 .1-1.1-.1-1.2-.3-1.1-.3-1.1-.2-1.2-.2-1.1 .1 0 7.1z"/>
<path transform="translate(157.6 272.7)" d="M-14.8 -3.6l-1.1-.6-1.1-.3-1.2-.4-1.1-.3-1.1-.4-1.2-.4-1.1-.4-1.1-.4-1.2-.4-1.1-.5-1.1-.5-1.2-.6-1.1-.6-1.1-.8-1.2-.9-1.1-1-1.2-1.1-1.1-1.2-1.1-1.2-1.2-1.2-1.1-1.1-1.1-1-1.2-.9-1.1-.7-1.1-.6-1.2-.6-1.1-.6-1.1-.8-1.2-1-1.1-1-1.1-1.1-1.2-1-1.1-1-1.1-.9-1.2-.8-1.1-.8-1.2-.7-1.1-.5-1.1-.3-1.2-.1-1.1 .3-1.1 .5-1.2 .6-1.1 .7-1.1 .6-1.2 .5-1.1 .4-1.1 .1-1.2 0-1.1 0-1.1-.1-1.2-.1-1.1 0-1.1 .1-1.2 .1-1.1 .2-1.2 .2-1.1 .2-1.1 .2-1.2 .2-1.1 0-1.1-.2-1.2-.3-1.1-.5-1.1-.8-1.2-.9-1.1-1-1.1-1-1.2-1-1.1-.8-1.1-.7-1.2-.4-1.1-.2-1.1 0-1.2 .2-1.1 .3-1.2 .3-1.1 .3-1.1 .3-1.2 .1-1.1 0-1.1-.1-1.2-.1-1.1-.2-1.1-.2-1.2-.1-1.1 .1 0 6.5z"/>
<path transform="translate(157 273.3)" d="M-13.6 -3.4l-1.2-.5-1.1-.3-1.1-.4-1.2-.3-1.1-.4-1.1-.4-1.2-.4-1.1-.4-1.1-.5-1.2-.4-1.1-.5-1.1-.6-1.2-.6-1.1-.7-1.1-.9-1.2-1-1.1-1.1-1.2-1.2-1.1-1.3-1.1-1.3-1.2-1.3-1.1-1.2-1.1-1.1-1.2-.9-1.1-.7-1.1-.5-1.2-.6-1.1-.6-1.1-.8-1.2-.9-1.1-1-1.1-1-1.2-1-1.1-.9-1.1-.9-1.2-.7-1.1-.8-1.2-.6-1.1-.5-1.1-.4-1.2 0-1.1 .1-1.1 .5-1.2 .5-1.1 .7-1.1 .5-1.2 .4-1.1 .2-1.1 .1-1.2 0-1.1-.2-1.1-.1-1.2-.1-1.1 0-1.1 .1-1.2 .2-1.1 .2-1.1 .4-1.2 .3-1.1 .4-1.2 .3-1.1 .2-1.1 .1-1.2-.1-1.1-.3-1.1-.5-1.2-.6-1.1-.8-1.1-.8-1.2-.8-1.1-.7-1.1-.5-1.2-.5-1.1-.2-1.1-.1-1.2 0-1.1 .2-1.2 .1-1.1 .1-1.1 .1-1.2 0-1.1 0-1.1-.1-1.2-.2-1.1-.1-1.1-.1-1.2 0-1.1 .1 0 6z"/>
<path transform="translate(156.5 273.9)" d="M-13.6 -3.4l-1.2-.5-1.1-.4-1.1-.3-1.2-.4-1.1-.4-1.1-.4-1.2-.4-1.1-.5-1.1-.4-1.2-.5-1.1-.6-1.1-.6-1.2-.7-1.1-.8-1.1-.9-1.2-1.1-1.1-1.2-1.2-1.3-1.1-1.4-1.1-1.4-1.2-1.4-1.1-1.3-1.1-1.1-1.2-.8-1.1-.7-1.1-.5-1.2-.5-1.1-.6-1.1-.6-1.2-.9-1.1-.9-1.1-1-1.2-.9-1.1-.9-1.1-.8-1.2-.7-1.1-.7-1.2-.6-1.1-.5-1.1-.4-1.2-.1-1.1 .1-1.1 .3-1.2 .4-1.1 .5-1.1 .4-1.2 .2-1.1 .1-1.1 0-1.2-.1-1.1-.2-1.1-.2-1.2-.1-1.1 0-1.1 .1-1.2 .2-1.1 .4-1.1 .5-1.2 .5-1.1 .5-1.2 .4-1.1 .4-1.1 .3-1.2 .1-1.1 0-1.1-.2-1.2-.4-1.1-.5-1.1-.6-1.2-.6-1.1-.5-1.1-.5-1.2-.4-1.1-.3-1.1-.2-1.2-.1-1.1 0-1.2 0-1.1-.1-1.1 0-1.2-.1-1.1-.1-1.1-.2-1.2-.1-1.1-.2-1.1 0-1.2 0-1.1 .1 0 5.7z"/>
<path transform="translate(155.9 274.5)" d="M-12.5 -3.1l-1.1-.5-1.2-.4-1.1-.3-1.1-.4-1.2-.4-1.1-.4-1.1-.4-1.2-.5-1.1-.4-1.1-.5-1.2-.5-1.1-.6-1.1-.7-1.2-.7-1.1-.9-1.1-1-1.2-1.2-1.1-1.3-1.2-1.4-1.1-1.5-1.1-1.5-1.2-1.4-1.1-1.3-1.1-1.1-1.2-.8-1.1-.6-1.1-.5-1.2-.4-1.1-.4-1.1-.6-1.2-.8-1.1-.8-1.1-.9-1.2-.9-1.1-.7-1.1-.7-1.2-.7-1.1-.6-1.2-.7-1.1-.5-1.1-.5-1.2-.2-1.1-.1-1.1 .2-1.2 .2-1.1 .3-1.1 .2-1.2 .1-1.1-.1-1.1-.2-1.2-.2-1.1-.3-1.1-.2-1.2-.2-1.1 .1-1.1 .1-1.2 .3-1.1 .5-1.1 .5-1.2 .7-1.1 .6-1.2 .7-1.1 .6-1.1 .5-1.2 .3-1.1 .2-1.1 0-1.2-.1-1.1-.2-1.1-.4-1.2-.4-1.1-.4-1.1-.4-1.2-.4-1.1-.3-1.1-.3-1.2-.2-1.1-.1-1.2-.2-1.1-.2-1.1-.2-1.2-.2-1.1-.2-1.1-.2-1.2-.1-1.1-.1-1.1-.1-1.2 .1-1.1 .1 0 5.4z"/>
<path transform="translate(155.4 275)" d="M-12.5 -3.1l-1.1-.5-1.2-.4-1.1-.4-1.1-.4-1.2-.4-1.1-.4-1.1-.4-1.2-.5-1.1-.5-1.1-.5-1.2-.6-1.1-.6-1.1-.7-1.2-.8-1.1-.9-1.1-1.1-1.2-1.2-1.1-1.4-1.2-1.5-1.1-1.5-1.1-1.5-1.2-1.5-1.1-1.3-1.1-1-1.2-.8-1.1-.6-1.1-.4-1.2-.3-1.1-.3-1.1-.5-1.2-.6-1.1-.7-1.1-.8-1.2-.8-1.1-.7-1.1-.6-1.2-.6-1.1-.6-1.2-.7-1.1-.6-1.1-.5-1.2-.4-1.1-.2-1.1-.1-1.2 0-1.1 0-1.1 0-1.2-.1-1.1-.3-1.1-.3-1.2-.4-1.1-.4-1.1-.3-1.2-.1-1.1 0-1.1 .2-1.2 .4-1.1 .5-1.1 .7-1.2 .8-1.1 .8-1.2 .8-1.1 .8-1.1 .7-1.2 .5-1.1 .5-1.1 .2-1.2 .1-1.1 0-1.1-.2-1.2-.2-1.1-.3-1.1-.4-1.2-.3-1.1-.3-1.1-.3-1.2-.3-1.1-.2-1.2-.3-1.1-.3-1.1-.3-1.2-.3-1.1-.3-1.1-.2-1.2-.2-1.1-.1-1.1-.1-1.2 .1-1.1 .1 0 5.2z"/>
<path transform="translate(154.8 275.6)" d="M-11.3 -2.8l-1.2-.5-1.1-.4-1.2-.3-1.1-.4-1.1-.4-1.2-.5-1.1-.4-1.1-.5-1.2-.4-1.1-.6-1.1-.5-1.2-.6-1.1-.6-1.1-.8-1.2-.8-1.1-1-1.1-1.1-1.2-1.3-1.1-1.4-1.2-1.5-1.1-1.6-1.1-1.5-1.2-1.5-1.1-1.2-1.1-1-1.2-.8-1.1-.5-1.1-.2-1.2-.2-1.1-.3-1.1-.3-1.2-.5-1.1-.6-1.1-.7-1.2-.6-1.1-.6-1.1-.6-1.2-.6-1.1-.6-1.2-.6-1.1-.7-1.1-.6-1.2-.6-1.1-.4-1.1-.4-1.2-.2-1.1-.3-1.1-.3-1.2-.4-1.1-.5-1.1-.5-1.2-.6-1.1-.4-1.1-.4-1.2-.2-1.1 .1-1.1 .2-1.2 .5-1.1 .6-1.1 .8-1.2 .9-1.1 1-1.2 1-1.1 .9-1.1 .9-1.2 .8-1.1 .6-1.1 .5-1.2 .3-1.1 .2-1.1 0-1.2-.1-1.1-.2-1.1-.2-1.2-.3-1.1-.3-1.1-.3-1.2-.4-1.1-.3-1.2-.4-1.1-.4-1.1-.3-1.2-.4-1.1-.3-1.1-.3-1.2-.2-1.1-.1-1.1-.1-1.2 0-1.1 .1 0 5z"/>
<path transform="translate(154.3 276.2)" d="M-11.3 -2.8l-1.2-.6-1.1-.3-1.2-.4-1.1-.4-1.1-.4-1.2-.4-1.1-.5-1.1-.5-1.2-.5-1.1-.5-1.1-.6-1.2-.6-1.1-.6-1.1-.8-1.2-.9-1.1-1-1.1-1.1-1.2-1.4-1.1-1.4-1.2-1.5-1.1-1.6-1.1-1.5-1.2-1.4-1.1-1.2-1.1-.9-1.2-.7-1.1-.4-1.1-.2-1.2-.1-1.1-.1-1.1-.2-1.2-.3-1.1-.5-1.1-.6-1.2-.5-1.1-.5-1.1-.6-1.2-.5-1.1-.6-1.2-.7-1.1-.8-1.1-.8-1.2-.7-1.1-.7-1.1-.6-1.2-.6-1.1-.5-1.1-.7-1.2-.6-1.1-.7-1.1-.8-1.2-.6-1.1-.6-1.1-.4-1.2-.2-1.1 0-1.1 .3-1.2 .5-1.1 .7-1.1 .9-1.2 1.1-1.1 1.1-1.2 1.2-1.1 1.1-1.1 1.1-1.2 .9-1.1 .8-1.1 .7-1.2 .5-1.1 .3-1.1 .2-1.2 0-1.1 0-1.1-.2-1.2-.2-1.1-.3-1.1-.3-1.2-.4-1.1-.4-1.2-.4-1.1-.5-1.1-.4-1.2-.4-1.1-.3-1.1-.3-1.2-.3-1.1-.1-1.1-.1-1.2 0-1.1 .1 0 4.7z"/>
<path transform="translate(153.7 276.8)" d="M-11.3 -2.8l-1.2-.6-1.1-.3-1.2-.4-1.1-.4-1.1-.4-1.2-.5-1.1-.5-1.1-.5-1.2-.5-1.1-.5-1.1-.6-1.2-.6-1.1-.7-1.1-.8-1.2-.9-1.1-1-1.1-1.2-1.2-1.3-1.1-1.4-1.2-1.5-1.1-1.6-1.1-1.4-1.2-1.3-1.1-1.2-1.1-.8-1.2-.6-1.1-.3-1.1-.1-1.2 0-1.1 0-1.1-.1-1.2-.2-1.1-.3-1.1-.5-1.2-.4-1.1-.5-1.1-.5-1.2-.6-1.1-.6-1.2-.8-1.1-.9-1.1-.9-1.2-.9-1.1-1-1.1-.9-1.2-.8-1.1-.9-1.1-.9-1.2-.9-1.1-1-1.1-.9-1.2-.8-1.1-.7-1.1-.5-1.2-.2-1.1 0-1.1 .3-1.2 .6-1.1 .8-1.1 1.1-1.2 1.1-1.1 1.3-1.2 1.3-1.1 1.3-1.1 1.2-1.2 1.1-1.1 1-1.1 .8-1.2 .7-1.1 .5-1.1 .3-1.2 .2-1.1 0-1.1-.1-1.2-.2-1.1-.2-1.1-.3-1.2-.4-1.1-.4-1.2-.5-1.1-.5-1.1-.4-1.2-.4-1.1-.4-1.1-.4-1.2-.2-1.1-.2-1.1-.1-1.2 0-1.1 .1 0 4.4z"/>
<path transform="translate(153.2 277.4)" d="M-10.2 -2.5l-1.1-.5-1.2-.4-1.1-.4-1.2-.3-1.1-.5-1.1-.4-1.2-.5-1.1-.4-1.1-.5-1.2-.6-1.1-.5-1.1-.6-1.2-.7-1.1-.7-1.1-.8-1.2-.8-1.1-1.1-1.1-1.1-1.2-1.3-1.1-1.4-1.2-1.5-1.1-1.4-1.1-1.4-1.2-1.2-1.1-1.1-1.1-.7-1.2-.5-1.1-.3-1.1 0-1.2 .1-1.1 .1-1.1 0-1.2-.1-1.1-.2-1.1-.3-1.2-.4-1.1-.5-1.1-.5-1.2-.5-1.1-.7-1.2-.9-1.1-1-1.1-1.1-1.2-1.1-1.1-1.2-1.1-1.1-1.2-1.2-1.1-1.2-1.1-1.2-1.2-1.2-1.1-1.1-1.1-1.1-1.2-1-1.1-.8-1.1-.5-1.2-.3-1.1 .1-1.1 .3-1.2 .7-1.1 .9-1.1 1.1-1.2 1.3-1.1 1.3-1.2 1.5-1.1 1.4-1.1 1.4-1.2 1.3-1.1 1.1-1.1 1-1.2 .8-1.1 .6-1.1 .4-1.2 .3-1.1 .1-1.1 0-1.2-.1-1.1-.2-1.1-.3-1.2-.4-1.1-.4-1.2-.5-1.1-.5-1.1-.4-1.2-.5-1.1-.4-1.1-.3-1.2-.3-1.1-.2-1.1-.1-1.2 0-1.1 0 0 4.1z"/>
<path transform="translate(152.6 277.9)" d="M-10.2 -2.5l-1.1-.5-1.2-.4-1.1-.4-1.2-.4-1.1-.4-1.1-.4-1.2-.5-1.1-.5-1.1-.5-1.2-.5-1.1-.6-1.1-.6-1.2-.7-1.1-.7-1.1-.7-1.2-.9-1.1-1-1.1-1.2-1.2-1.2-1.1-1.3-1.1-1.4-1.2-1.3-1.1-1.3-1.2-1.2-1.1-.9-1.1-.7-1.2-.4-1.1-.2-1.1 .1-1.2 .1-1.1 .2-1.1 .1-1.2 0-1.1-.1-1.1-.3-1.2-.3-1.1-.4-1.1-.6-1.2-.6-1.1-.8-1.1-.9-1.2-1.1-1.1-1.2-1.2-1.4-1.1-1.4-1.1-1.4-1.2-1.4-1.1-1.5-1.1-1.4-1.2-1.5-1.1-1.4-1.1-1.2-1.2-1.1-1.1-.9-1.1-.6-1.2-.3-1.1 .1-1.1 .4-1.2 .7-1.1 .9-1.1 1.2-1.2 1.4-1.1 1.5-1.2 1.6-1.1 1.5-1.1 1.5-1.2 1.4-1.1 1.3-1.1 1.1-1.2 .9-1.1 .7-1.1 .6-1.2 .3-1.1 .3-1.1 0-1.2-.1-1.1-.1-1.1-.3-1.2-.4-1.1-.4-1.2-.4-1.1-.5-1.1-.5-1.2-.4-1.1-.4-1.1-.4-1.2-.2-1.1-.3-1.1-.1-1.2 0-1.1 0 0 3.7z"/>
<path transform="translate(152.1 278.5)" d="M-10.2 -2.5l-1.1-.6-1.2-.3-1.1-.4-1.2-.4-1.1-.4-1.1-.4-1.2-.5-1.1-.5-1.1-.5-1.2-.6-1.1-.6-1.1-.6-1.2-.6-1.1-.7-1.1-.8-1.2-.8-1.1-1-1.1-1.1-1.2-1.1-1.1-1.3-1.1-1.3-1.2-1.2-1.1-1.2-1.2-1-1.1-.8-1.1-.6-1.2-.4-1.1-.1-1.1 .1-1.2 .2-1.1 .3-1.1 .1-1.2 .1-1.1-.1-1.1-.2-1.2-.3-1.1-.5-1.1-.5-1.2-.7-1.1-.8-1.1-1.1-1.2-1.2-1.1-1.4-1.2-1.5-1.1-1.6-1.1-1.6-1.2-1.7-1.1-1.7-1.1-1.7-1.2-1.6-1.1-1.6-1.1-1.4-1.2-1.2-1.1-1-1.1-.6-1.2-.3-1.1 0-1.1 .4-1.2 .8-1.1 1-1.1 1.3-1.2 1.5-1.1 1.6-1.2 1.6-1.1 1.7-1.1 1.6-1.2 1.5-1.1 1.3-1.1 1.2-1.2 1-1.1 .9-1.1 .6-1.2 .4-1.1 .3-1.1 .1-1.2 0-1.1-.1-1.1-.3-1.2-.3-1.1-.4-1.2-.4-1.1-.5-1.1-.4-1.2-.5-1.1-.4-1.1-.3-1.2-.3-1.1-.2-1.1-.1-1.2-.1-1.1-.1 0 3.4z"/>
<path transform="translate(151.5 279.1)" d="M-10.2 -2.5l-1.2-.6-1.1-.3-1.1-.4-1.2-.4-1.1-.4-1.1-.5-1.2-.4-1.1-.5-1.1-.5-1.2-.6-1.1-.6-1.1-.6-1.2-.6-1.1-.7-1.1-.8-1.2-.8-1.1-.9-1.1-1-1.2-1.1-1.1-1.1-1.2-1.2-1.1-1.1-1.1-1-1.2-.9-1.1-.8-1.1-.5-1.2-.3-1.1 0-1.1 .1-1.2 .2-1.1 .2-1.1 .2-1.2 .1-1.1 0-1.1-.2-1.2-.3-1.1-.5-1.1-.6-1.2-.7-1.1-.9-1.2-1.2-1.1-1.3-1.1-1.5-1.2-1.6-1.1-1.8-1.1-1.8-1.2-1.9-1.1-1.9-1.1-1.9-1.2-1.8-1.1-1.7-1.1-1.6-1.2-1.3-1.1-1-1.1-.7-1.2-.3-1.1 .1-1.1 .4-1.2 .8-1.1 1-1.2 1.4-1.1 1.5-1.1 1.7-1.2 1.7-1.1 1.7-1.1 1.7-1.2 1.6-1.1 1.5-1.1 1.2-1.2 1.1-1.1 .9-1.1 .7-1.2 .5-1.1 .4-1.1 .1-1.2 .1-1.1-.1-1.1-.3-1.2-.3-1.1-.3-1.2-.4-1.1-.4-1.1-.5-1.2-.4-1.1-.4-1.1-.3-1.2-.3-1.1-.2-1.1-.2-1.2-.1-1.1-.1 0 3z"/>
<path transform="translate(151 279.7)" d="M-10.2 -2.5l-1.2-.6-1.1-.3-1.1-.4-1.2-.4-1.1-.4-1.1-.4-1.2-.5-1.1-.5-1.1-.5-1.2-.6-1.1-.5-1.1-.6-1.2-.7-1.1-.6-1.1-.8-1.2-.7-1.1-.9-1.1-.9-1.2-1-1.1-1.1-1.2-1-1.1-1-1.1-.9-1.2-.8-1.1-.6-1.1-.5-1.2-.2-1.1 0-1.1 .1-1.2 .2-1.1 .2-1.1 .2-1.2 .1-1.1 0-1.1-.2-1.2-.4-1.1-.4-1.1-.7-1.2-.8-1.1-1-1.2-1.2-1.1-1.4-1.1-1.6-1.2-1.7-1.1-1.9-1.1-2-1.2-2.1-1.1-2-1.1-2.1-1.2-1.9-1.1-1.9-1.1-1.6-1.2-1.4-1.1-1-1.1-.7-1.2-.4-1.1 .1-1.1 .4-1.2 .8-1.1 1.1-1.2 1.4-1.1 1.6-1.1 1.7-1.2 1.8-1.1 1.8-1.1 1.7-1.2 1.7-1.1 1.5-1.1 1.3-1.2 1.1-1.1 1-1.1 .7-1.2 .6-1.1 .4-1.1 .2-1.2 .1-1.1-.1-1.1-.2-1.2-.2-1.1-.4-1.2-.3-1.1-.5-1.1-.4-1.2-.4-1.1-.3-1.1-.4-1.2-.2-1.1-.3-1.1-.2-1.2-.1-1.1-.1 0 2.6z"/>
<path transform="translate(150.4 280.2)" d="M-10.2 -2.5l-1.1-.5-1.2-.4-1.1-.4-1.2-.4-1.1-.4-1.1-.4-1.2-.5-1.1-.5-1.1-.5-1.2-.5-1.1-.6-1.1-.6-1.2-.6-1.1-.6-1.1-.7-1.2-.8-1.1-.8-1.1-.8-1.2-.9-1.1-.9-1.2-.9-1.1-.9-1.1-.8-1.2-.7-1.1-.5-1.1-.4-1.2-.2-1.1 0-1.1 .1-1.2 .2-1.1 .2-1.1 .1-1.2 .1-1.1-.1-1.1-.2-1.2-.3-1.1-.5-1.1-.7-1.2-.9-1.1-1-1.2-1.3-1.1-1.5-1.1-1.7-1.2-1.8-1.1-2-1.1-2.1-1.2-2.1-1.1-2.2-1.1-2.2-1.2-2-1.1-1.9-1.1-1.7-1.2-1.4-1.1-1.1-1.1-.8-1.2-.3-1.1 .1-1.1 .4-1.2 .8-1.1 1.1-1.2 1.4-1.1 1.6-1.1 1.8-1.2 1.8-1.1 1.8-1.1 1.8-1.2 1.6-1.1 1.6-1.1 1.3-1.2 1.2-1.1 1-1.1 .8-1.2 .6-1.1 .4-1.1 .2-1.2 .1-1.1 0-1.1-.1-1.2-.3-1.1-.3-1.2-.3-1.1-.4-1.1-.4-1.2-.3-1.1-.4-1.1-.3-1.2-.3-1.1-.2-1.1-.2-1.2-.2-1.1-.1 0 2.2z"/>
<path transform="translate(149.9 280.8)" d="M-10.2 -2.5l-1.1-.5-1.2-.4-1.1-.4-1.2-.3-1.1-.5-1.1-.4-1.2-.5-1.1-.4-1.1-.5-1.2-.6-1.1-.5-1.1-.6-1.2-.6-1.1-.6-1.1-.6-1.2-.7-1.1-.8-1.1-.7-1.2-.8-1.1-.8-1.2-.8-1.1-.8-1.1-.7-1.2-.6-1.1-.4-1.1-.4-1.2-.1-1.1-.1-1.1 .1-1.2 .2-1.1 .1-1.1 .1-1.2 .1-1.1-.1-1.1-.3-1.2-.4-1.1-.5-1.1-.7-1.2-.9-1.1-1.1-1.2-1.3-1.1-1.6-1.1-1.7-1.2-1.9-1.1-2-1.1-2.2-1.2-2.2-1.1-2.3-1.1-2.2-1.2-2.1-1.1-1.9-1.1-1.7-1.2-1.5-1.1-1.1-1.1-.8-1.2-.3-1.1 .1-1.1 .4-1.2 .8-1.1 1.1-1.2 1.4-1.1 1.6-1.1 1.8-1.2 1.8-1.1 1.8-1.1 1.8-1.2 1.7-1.1 1.5-1.1 1.4-1.2 1.2-1.1 1-1.1 .8-1.2 .6-1.1 .4-1.1 .3-1.2 .1-1.1 0-1.1-.1-1.2-.2-1.1-.3-1.2-.3-1.1-.3-1.1-.4-1.2-.4-1.1-.3-1.1-.3-1.2-.3-1.1-.2-1.1-.2-1.2-.2-1.1-.2 0 1.9z"/>
<path transform="translate(149.3 281.4)" d="M-11.3 -2.8l-1.2-.6-1.1-.3-1.2-.4-1.1-.4-1.1-.4-1.2-.5-1.1-.5-1.1-.5-1.2-.5-1.1-.5-1.1-.5-1.2-.6-1.1-.6-1.1-.6-1.2-.7-1.1-.6-1.1-.7-1.2-.7-1.1-.7-1.2-.7-1.1-.7-1.1-.6-1.2-.5-1.1-.4-1.1-.3-1.2-.1-1.1-.1-1.1 .1-1.2 .1-1.1 .1-1.1 0-1.2 0-1.1-.1-1.1-.3-1.2-.4-1.1-.6-1.1-.7-1.2-1-1.1-1.1-1.2-1.4-1.1-1.5-1.1-1.8-1.2-1.9-1.1-2.1-1.1-2.1-1.2-2.3-1.1-2.2-1.1-2.3-1.2-2.1-1.1-1.9-1.1-1.8-1.2-1.4-1.1-1.1-1.1-.8-1.2-.3-1.1 0-1.1 .4-1.2 .8-1.1 1.2-1.2 1.3-1.1 1.6-1.1 1.7-1.2 1.8-1.1 1.8-1.1 1.8-1.2 1.6-1.1 1.5-1.1 1.4-1.2 1.2-1.1 1-1.1 .8-1.2 .6-1.1 .4-1.1 .3-1.2 .2-1.1 0-1.1-.1-1.2-.2-1.1-.2-1.2-.3-1.1-.3-1.1-.4-1.2-.3-1.1-.3-1.1-.3-1.2-.3-1.1-.3-1.1-.2-1.2-.2-1.1-.1 0 1.5z"/>
<path transform="translate(148.8 282)" d="M-11.3 -2.8l-1.2-.6-1.1-.3-1.2-.4-1.1-.4-1.1-.4-1.2-.4-1.1-.5-1.1-.5-1.2-.5-1.1-.5-1.1-.5-1.2-.5-1.1-.6-1.1-.6-1.2-.6-1.1-.6-1.1-.6-1.2-.6-1.1-.6-1.2-.7-1.1-.5-1.1-.5-1.2-.5-1.1-.3-1.1-.3-1.2-.1-1.1-.1-1.1 0-1.2 0-1.1 .1-1.1 0-1.2-.1-1.1-.2-1.1-.3-1.2-.4-1.1-.6-1.1-.8-1.2-.9-1.1-1.2-1.2-1.3-1.1-1.6-1.1-1.7-1.2-1.9-1.1-2.1-1.1-2.2-1.2-2.2-1.1-2.2-1.1-2.3-1.2-2.1-1.1-1.9-1.1-1.7-1.2-1.5-1.1-1.1-1.1-.7-1.2-.4-1.1 .1-1.1 .4-1.2 .8-1.1 1.1-1.1 1.3-1.2 1.5-1.1 1.7-1.2 1.7-1.1 1.8-1.1 1.7-1.2 1.6-1.1 1.5-1.1 1.3-1.2 1.2-1.1 1-1.1 .7-1.2 .6-1.1 .5-1.1 .3-1.2 .1-1.1 0-1.1 0-1.2-.2-1.1-.2-1.2-.3-1.1-.3-1.1-.3-1.2-.3-1.1-.3-1.1-.3-1.2-.3-1.1-.2-1.1-.3-1.2-.2-1.1-.1 0 1.2z"/>
<path transform="translate(148.2 282.6)" d="M-11.3 -2.8l-1.2-.5-1.1-.4-1.2-.3-1.1-.4-1.1-.4-1.2-.5-1.1-.4-1.1-.5-1.2-.4-1.1-.5-1.1-.5-1.2-.5-1.1-.6-1.1-.5-1.2-.5-1.1-.6-1.1-.6-1.2-.5-1.1-.6-1.2-.5-1.1-.5-1.1-.4-1.2-.4-1.1-.3-1.1-.3-1.2-.1-1.1-.1-1.1-.1-1.2 0-1.1 0-1.1 0-1.2-.2-1.1-.2-1.1-.3-1.2-.5-1.1-.6-1.1-.8-1.2-1-1.1-1.1-1.2-1.4-1.1-1.5-1.1-1.7-1.2-1.9-1.1-2-1.1-2.1-1.2-2.2-1.1-2.2-1.1-2.2-1.2-2-1.1-1.9-1.1-1.7-1.2-1.4-1.1-1.1-1.1-.7-1.2-.4-1.1 .1-1.1 .4-1.2 .7-1.1 1-1.1 1.3-1.2 1.5-1.1 1.6-1.2 1.7-1.1 1.6-1.1 1.7-1.2 1.5-1.1 1.5-1.1 1.2-1.2 1.1-1.1 1-1.1 .7-1.2 .6-1.1 .4-1.1 .3-1.2 .2-1.1 0-1.1-.1-1.2-.1-1.1-.2-1.2-.2-1.1-.3-1.1-.3-1.2-.3-1.1-.3-1.1-.3-1.2-.3-1.1-.2-1.1-.3-1.2-.2-1.1-.2 0 1z"/>
<path transform="translate(147.7 283.1)" d="M-12.5 -3.1l-1.1-.5-1.2-.4-1.1-.4-1.1-.4-1.2-.4-1.1-.4-1.1-.4-1.2-.5-1.1-.5-1.1-.4-1.2-.5-1.1-.5-1.1-.5-1.2-.5-1.1-.5-1.1-.5-1.2-.5-1.1-.5-1.2-.5-1.1-.4-1.1-.4-1.2-.4-1.1-.2-1.1-.3-1.2-.1-1.1-.2-1.1 0-1.2-.1-1.1-.1-1.1-.1-1.2-.2-1.1-.2-1.1-.4-1.2-.5-1.1-.6-1.1-.8-1.2-1-1.1-1.1-1.2-1.3-1.1-1.5-1.1-1.6-1.2-1.9-1.1-1.9-1.1-2.1-1.2-2.1-1.1-2.1-1.1-2.1-1.2-2-1.1-1.8-1.1-1.6-1.2-1.4-1.1-1-1.1-.7-1.2-.4-1.1 0-1.1 .4-1.2 .7-1.1 1-1.1 1.2-1.2 1.4-1.1 1.5-1.2 1.6-1.1 1.5-1.1 1.6-1.2 1.5-1.1 1.3-1.1 1.2-1.2 1.1-1.1 .8-1.1 .8-1.2 .5-1.1 .4-1.1 .3-1.2 .1-1.1 .1-1.1-.1-1.2-.1-1.1-.2-1.2-.3-1.1-.2-1.1-.3-1.2-.3-1.1-.3-1.1-.3-1.2-.2-1.1-.3-1.1-.2-1.2-.3-1.1-.2 0 .8z"/>
<path transform="translate(147.1 283.7)" d="M-12.5 -3.1l-1.1-.5-1.2-.4-1.1-.3-1.1-.4-1.2-.4-1.1-.4-1.1-.4-1.2-.5-1.1-.4-1.1-.5-1.2-.4-1.1-.5-1.1-.5-1.2-.4-1.1-.5-1.1-.5-1.2-.4-1.1-.4-1.2-.5-1.1-.3-1.1-.4-1.2-.3-1.1-.3-1.1-.2-1.2-.2-1.1-.1-1.1-.1-1.2-.1-1.1-.2-1.1-.1-1.2-.2-1.1-.3-1.1-.4-1.2-.5-1.1-.7-1.1-.7-1.2-1-1.1-1.1-1.2-1.2-1.1-1.5-1.1-1.6-1.2-1.7-1.1-1.8-1.1-2-1.2-2-1.1-2-1.1-2-1.2-1.9-1.1-1.8-1.1-1.5-1.2-1.3-1.1-1-1.1-.7-1.2-.4-1.1 0-1.1 .3-1.2 .7-1.1 .9-1.1 1.1-1.2 1.3-1.1 1.4-1.2 1.5-1.1 1.5-1.1 1.4-1.2 1.4-1.1 1.3-1.1 1.1-1.2 .9-1.1 .9-1.1 .6-1.2 .5-1.1 .4-1.1 .2-1.2 .2-1.1 0-1.1-.1-1.2-.1-1.1-.2-1.2-.2-1.1-.2-1.1-.3-1.2-.3-1.1-.3-1.1-.2-1.2-.3-1.1-.3-1.1-.2-1.2-.3-1.1-.2 0 .6z"/>
<path transform="translate(146.6 284.3)" d="M-13.6 -3.4l-1.2-.5-1.1-.4-1.1-.3-1.2-.4-1.1-.4-1.1-.4-1.2-.4-1.1-.4-1.1-.5-1.2-.4-1.1-.4-1.1-.5-1.2-.4-1.1-.5-1.1-.4-1.2-.4-1.1-.4-1.2-.4-1.1-.3-1.1-.3-1.2-.3-1.1-.3-1.1-.2-1.2-.2-1.1-.2-1.1-.1-1.2-.2-1.1-.1-1.1-.2-1.2-.3-1.1-.3-1.1-.4-1.2-.5-1.1-.7-1.1-.7-1.2-.9-1.1-1.1-1.2-1.2-1.1-1.3-1.1-1.5-1.2-1.7-1.1-1.7-1.1-1.9-1.2-1.9-1.1-1.9-1.1-1.9-1.2-1.8-1.1-1.6-1.1-1.5-1.2-1.2-1.1-1-1.1-.6-1.2-.4-1.1 0-1.1 .3-1.2 .6-1.1 .8-1.1 1-1.2 1.2-1.1 1.3-1.2 1.3-1.1 1.4-1.1 1.3-1.2 1.3-1.1 1.2-1.1 1-1.2 .9-1.1 .7-1.1 .6-1.2 .5-1.1 .3-1.1 .2-1.2 .1-1.1 0-1.1 0-1.2-.2-1.1-.1-1.2-.2-1.1-.3-1.1-.3-1.2-.2-1.1-.3-1.1-.3-1.2-.2-1.1-.3-1.1-.3-1.2-.2-1.1-.3 0 .5z"/>
<path transform="translate(146 284.9)" d="M-13.6 -3.4l-1.2-.5-1.1-.3-1.1-.4-1.2-.3-1.1-.4-1.1-.4-1.2-.4-1.1-.4-1.1-.4-1.2-.4-1.1-.4-1.1-.4-1.2-.4-1.1-.4-1.1-.4-1.2-.4-1.1-.4-1.2-.3-1.1-.4-1.1-.3-1.2-.2-1.1-.3-1.1-.2-1.2-.2-1.1-.2-1.1-.2-1.2-.2-1.1-.2-1.1-.2-1.2-.3-1.1-.3-1.1-.4-1.2-.5-1.1-.7-1.1-.7-1.2-.9-1.1-1-1.2-1.1-1.1-1.3-1.1-1.4-1.2-1.5-1.1-1.7-1.1-1.7-1.2-1.8-1.1-1.8-1.1-1.7-1.2-1.7-1.1-1.5-1.1-1.4-1.2-1.2-1.1-.9-1.1-.6-1.2-.3-1.1-.1-1.1 .3-1.2 .5-1.1 .7-1.1 .9-1.2 1.1-1.1 1.2-1.2 1.2-1.1 1.2-1.1 1.2-1.2 1.2-1.1 1-1.1 .9-1.2 .8-1.1 .7-1.1 .5-1.2 .4-1.1 .3-1.1 .2-1.2 .1-1.1 0-1.1-.1-1.2-.1-1.1-.2-1.2-.2-1.1-.3-1.1-.2-1.2-.3-1.1-.3-1.1-.2-1.2-.3-1.1-.3-1.1-.2-1.2-.3-1.1-.2 0 .3z"/>
<path transform="translate(145.5 285.4)" d="M-14.8 -3.6l-1.1-.6-1.1-.3-1.2-.4-1.1-.3-1.1-.4-1.2-.4-1.1-.4-1.1-.3-1.2-.4-1.1-.4-1.1-.4-1.2-.4-1.1-.4-1.1-.3-1.2-.4-1.1-.3-1.2-.4-1.1-.3-1.1-.3-1.2-.2-1.1-.3-1.1-.2-1.2-.2-1.1-.2-1.1-.2-1.2-.2-1.1-.3-1.1-.2-1.2-.3-1.1-.4-1.1-.4-1.2-.5-1.1-.6-1.1-.7-1.2-.8-1.1-1-1.2-1-1.1-1.2-1.1-1.3-1.2-1.5-1.1-1.5-1.1-1.6-1.2-1.6-1.1-1.7-1.1-1.6-1.2-1.6-1.1-1.4-1.1-1.3-1.2-1-1.1-.9-1.1-.6-1.2-.3-1.1-.1-1.1 .2-1.2 .4-1.1 .7-1.1 .8-1.2 .9-1.1 1.1-1.2 1.1-1.1 1.1-1.1 1-1.2 1.1-1.1 .9-1.1 .8-1.2 .7-1.1 .6-1.1 .4-1.2 .4-1.1 .2-1.1 .2-1.2 0-1.1 0-1.1-.1-1.2-.1-1.1-.2-1.2-.2-1.1-.3-1.1-.2-1.2-.3-1.1-.3-1.1-.2-1.2-.3-1.1-.3-1.1-.2-1.2-.3-1.1-.3 0 .3z"/>
<path transform="translate(145 286)" d="M-15.9 -3.9l-1.1-.6-1.2-.3-1.1-.3-1.1-.4-1.2-.4-1.1-.3-1.1-.4-1.2-.4-1.1-.3-1.1-.4-1.2-.4-1.1-.3-1.1-.4-1.2-.3-1.1-.3-1.1-.3-1.2-.3-1.1-.3-1.2-.3-1.1-.2-1.1-.3-1.2-.2-1.1-.2-1.1-.3-1.2-.2-1.1-.2-1.1-.3-1.2-.3-1.1-.4-1.1-.4-1.2-.5-1.1-.6-1.1-.6-1.2-.8-1.1-.9-1.1-1-1.2-1.1-1.1-1.2-1.2-1.3-1.1-1.4-1.1-1.5-1.2-1.5-1.1-1.5-1.1-1.5-1.2-1.4-1.1-1.3-1.1-1.2-1.2-1-1.1-.8-1.1-.5-1.2-.4-1.1-.1-1.1 .2-1.2 .3-1.1 .6-1.1 .7-1.2 .8-1.1 .9-1.2 1-1.1 .9-1.1 1-1.2 .9-1.1 .8-1.1 .7-1.2 .6-1.1 .5-1.1 .4-1.2 .2-1.1 .2-1.1 .1-1.2 0-1.1 0-1.1-.1-1.2-.2-1.1-.1-1.2-.3-1.1-.2-1.1-.2-1.2-.3-1.1-.3-1.1-.2-1.2-.3-1.1-.1z"/>
<path transform="translate(144.4 286.6)" d="M-17 -4.2l-1.2-.5-1.1-.4-1.1-.3-1.2-.4-1.1-.3-1.1-.4-1.2-.3-1.1-.4-1.1-.3-1.2-.4-1.1-.3-1.1-.3-1.2-.4-1.1-.3-1.1-.3-1.2-.3-1.1-.2-1.2-.3-1.1-.3-1.1-.2-1.2-.2-1.1-.3-1.1-.2-1.2-.3-1.1-.2-1.1-.3-1.2-.3-1.1-.4-1.1-.4-1.2-.5-1.1-.5-1.1-.7-1.2-.7-1.1-.8-1.1-.9-1.2-1-1.1-1.1-1.2-1.2-1.1-1.3-1.1-1.3-1.2-1.4-1.1-1.4-1.1-1.3-1.2-1.3-1.1-1.2-1.1-1.1-1.2-.9-1.1-.8-1.1-.5-1.2-.3-1.1-.1-1.1 .1-1.2 .2-1.1 .5-1.1 .6-1.2 .7-1.1 .8-1.2 .8-1.1 .8-1.1 .8-1.2 .8-1.1 .6-1.1 .6-1.2 .5-1.1 .4-1.1 .4-1.2 .2-1.1 .1-1.1 .1-1.2 0-1.1-.1-1.1-.1-1.2-.2-1.1-.2-1.2-.2-1.1-.2-1.1-.1z"/>
<path transform="translate(143.9 287.2)" d="M-18.2 -4.5l-1.1-.5-1.1-.3-1.2-.4-1.1-.3-1.1-.3-1.2-.4-1.1-.3-1.1-.4-1.2-.3-1.1-.3-1.1-.3-1.2-.3-1.1-.4-1.1-.2-1.2-.3-1.1-.3-1.2-.3-1.1-.2-1.1-.3-1.2-.2-1.1-.3-1.1-.2-1.2-.3-1.1-.3-1.1-.3-1.2-.3-1.1-.3-1.1-.4-1.2-.5-1.1-.5-1.1-.6-1.2-.7-1.1-.7-1.1-.9-1.2-.9-1.1-1-1.2-1.1-1.1-1.2-1.1-1.2-1.2-1.2-1.1-1.2-1.1-1.3-1.2-1.1-1.1-1.1-1.1-1-1.2-.8-1.1-.7-1.1-.5-1.2-.3-1.1-.2-1.1 .1-1.2 .2-1.1 .4-1.1 .4-1.2 .6-1.1 .7-1.2 .7-1.1 .6-1.1 .7-1.2 .6-1.1 .6-1.1 .5-1.2 .4-1.1 .3-1.1 .3-1.2 .1-1.1 .1-1.1 0-1.2 0-1.1-.1-1.1-.1-1.2-.2-1.1-.2-1.2-.2-1.1-.1z"/>
<path transform="translate(143.3 287.8)" d="M-19.3 -4.8l-1.1-.5-1.2-.3-1.1-.3-1.1-.3-1.2-.4-1.1-.3-1.1-.3-1.2-.3-1.1-.4-1.1-.3-1.2-.3-1.1-.3-1.1-.3-1.2-.2-1.1-.3-1.2-.3-1.1-.2-1.1-.3-1.2-.3-1.1-.2-1.1-.3-1.2-.2-1.1-.3-1.1-.3-1.2-.3-1.1-.4-1.1-.4-1.2-.4-1.1-.5-1.1-.6-1.2-.6-1.1-.7-1.1-.8-1.2-.8-1.1-.9-1.2-1-1.1-1-1.1-1.1-1.2-1.1-1.1-1.2-1.1-1.1-1.2-1-1.1-1-1.1-.9-1.2-.7-1.1-.7-1.1-.4-1.2-.4-1.1-.1-1.1 0-1.2 .2-1.1 .2-1.1 .4-1.2 .5-1.1 .5-1.2 .6-1.1 .5-1.1 .6-1.2 .5-1.1 .4-1.1 .4-1.2 .3-1.1 .3-1.1 .2-1.2 .1-1.1 0-1.1 0-1.2-.1-1.1-.1-1.1-.2-1.2-.2-1.1-.2-1.2 0z"/>
<path transform="translate(142.8 288.3)" d="M-21.6 -5.3l-1.1-.5-1.1-.4-1.2-.3-1.1-.3-1.1-.3-1.2-.3-1.1-.3-1.1-.3-1.2-.3-1.1-.3-1.2-.3-1.1-.3-1.1-.3-1.2-.2-1.1-.3-1.1-.3-1.2-.2-1.1-.3-1.1-.3-1.2-.2-1.1-.3-1.1-.3-1.2-.3-1.1-.4-1.1-.4-1.2-.4-1.1-.5-1.1-.5-1.2-.5-1.1-.7-1.2-.7-1.1-.7-1.1-.9-1.2-.8-1.1-1-1.1-1-1.2-.9-1.1-1-1.1-1-1.2-1-1.1-.8-1.1-.8-1.2-.7-1.1-.6-1.1-.5-1.2-.3-1.1-.1-1.1-.1-1.2 .1-1.1 .2-1.2 .3-1.1 .4-1.1 .4-1.2 .4-1.1 .4-1.1 .5-1.2 .4-1.1 .3-1.1 .3-1.2 .2-1.1 .2-1.1 .1-1.2 .1-1.1 0-1.1-.1-1.2-.1-1.1-.1-1.1-.2-1.2-.2-1.1 0z"/>
<path transform="translate(142.2 288.9)" d="M-23.8 -5.9l-1.2-.5-1.1-.3-1.1-.3-1.2-.3-1.1-.3-1.1-.3-1.2-.3-1.1-.3-1.2-.3-1.1-.3-1.1-.2-1.2-.3-1.1-.3-1.1-.2-1.2-.3-1.1-.3-1.1-.3-1.2-.2-1.1-.3-1.1-.3-1.2-.3-1.1-.4-1.1-.4-1.2-.4-1.1-.4-1.1-.5-1.2-.5-1.1-.6-1.2-.6-1.1-.7-1.1-.8-1.2-.8-1.1-.8-1.1-.8-1.2-.9-1.1-.9-1.1-.9-1.2-.8-1.1-.8-1.1-.7-1.2-.7-1.1-.5-1.1-.4-1.2-.3-1.1-.2-1.1-.1-1.2 0-1.1 .2-1.2 .2-1.1 .2-1.1 .3-1.2 .4-1.1 .3-1.1 .3-1.2 .3-1.1 .3-1.1 .2-1.2 .1-1.1 .1-1.1 .1-1.2 0-1.1-.1-1.1-.1-1.2-.1-1.1-.2-1.1-.1-1.2 0z"/>
<path transform="translate(141.7 289.5)" d="M-27.2 -6.7l-1.2-.5-1.1-.3-1.1-.3-1.2-.3-1.1-.3-1.2-.3-1.1-.3-1.1-.2-1.2-.3-1.1-.3-1.1-.3-1.2-.2-1.1-.3-1.1-.3-1.2-.3-1.1-.2-1.1-.4-1.2-.3-1.1-.3-1.1-.4-1.2-.3-1.1-.5-1.1-.4-1.2-.5-1.1-.5-1.2-.6-1.1-.6-1.1-.7-1.2-.7-1.1-.8-1.1-.7-1.2-.8-1.1-.8-1.1-.8-1.2-.7-1.1-.7-1.1-.7-1.2-.6-1.1-.5-1.1-.3-1.2-.3-1.1-.3-1.1-.1-1.2 0-1.1 .1-1.2 .1-1.1 .2-1.1 .2-1.2 .2-1.1 .3-1.1 .2-1.2 .2-1.1 .1-1.1 .2-1.2 0-1.1 .1-1.1 0-1.2-.1-1.1 0-1.1-.2-1.2-.1-1.1-.2-1.1-.2-1.2 0z"/>
<path transform="translate(141.1 290.1)" d="M-46.5 -11.5l-1.2-.5-1.1-.3-1.1-.4-1.2-.3-1.1-.4-1.1-.5-1.2-.4-1.1-.5-1.2-.5-1.1-.6-1.1-.6-1.2-.6-1.1-.7-1.1-.7-1.2-.7-1.1-.7-1.1-.7-1.2-.6-1.1-.7-1.1-.6-1.2-.5-1.1-.4-1.1-.4-1.2-.3-1.1-.2-1.1-.2-1.2 0-1.1 0-1.2 0-1.1 .1-1.1 .2-1.2 .1-1.1 .1-1.1 .2-1.2 .1-1.1 .1-1.1 0-1.2 0-1.1 0-1.1 0-1.2-.1-1.1-.1-1.1-.2-1.2-.1-1.1-.2-1.1-.1z"/>
<path transform="translate(140.6 290.7)" d="M-47.7 -11.8l-1.1-.5-1.1-.3-1.2-.4-1.1-.3-1.1-.4-1.2-.5-1.1-.4-1.2-.5-1.1-.5-1.1-.5-1.2-.6-1.1-.6-1.1-.6-1.2-.6-1.1-.7-1.1-.6-1.2-.6-1.1-.6-1.1-.5-1.2-.5-1.1-.4-1.1-.3-1.2-.3-1.1-.3-1.1-.1-1.2-.1-1.1-.1-1.1 0-1.2 0-1.1 .1-1.2 .1-1.1 0-1.1 .1-1.2 0-1.1 0-1.1 0-1.2 0-1.1-.1-1.1 0-1.2-.2-1.1-.1-1.1-.2-1.2-.2-1.1 0z"/>
<path transform="translate(140 291.2)" d="M-48.8 -12l-1.1-.5-1.2-.4-1.1-.3-1.1-.4-1.2-.4-1.1-.4-1.2-.5-1.1-.4-1.1-.5-1.2-.6-1.1-.5-1.1-.5-1.2-.6-1.1-.6-1.1-.5-1.2-.5-1.1-.6-1.1-.4-1.2-.5-1.1-.4-1.1-.3-1.2-.3-1.1-.2-1.1-.2-1.2-.2-1.1-.1-1.1 0-1.2 0-1.1-.1-1.2 0-1.1 0-1.1 0-1.2 0-1.1 0-1.1-.1-1.2-.1-1.1-.1-1.1-.1-1.2-.2-1.1-.1-1.1-.2-1.2 0z"/>
<path transform="translate(139.5 291.8)" d="M-49.9 -12.3l-1.2-.5-1.1-.4-1.1-.3-1.2-.4-1.1-.4-1.2-.4-1.1-.4-1.1-.5-1.2-.4-1.1-.5-1.1-.5-1.2-.5-1.1-.5-1.1-.5-1.2-.5-1.1-.5-1.1-.4-1.2-.4-1.1-.4-1.1-.3-1.2-.3-1.1-.3-1.1-.2-1.2-.1-1.1-.2-1.1-.1-1.2-.1-1.1 0-1.2-.1-1.1 0-1.1-.1-1.2-.1-1.1-.1-1.1-.1-1.2-.1-1.1-.1-1.1-.2-1.2-.2-1.1-.1-1.1-.3-1.2 0z"/>
<path transform="translate(138.9 292.4)" d="M-52.2 -12.9l-1.1-.5-1.2-.4-1.1-.4-1.2-.4-1.1-.4-1.1-.4-1.2-.4-1.1-.4-1.1-.5-1.2-.4-1.1-.5-1.1-.4-1.2-.5-1.1-.4-1.1-.4-1.2-.4-1.1-.4-1.1-.3-1.2-.3-1.1-.2-1.1-.2-1.2-.2-1.1-.2-1.1-.1-1.2-.2-1.1-.1-1.2-.1-1.1-.1-1.1-.1-1.2-.1-1.1-.1-1.1-.2-1.2-.1-1.1-.2-1.1-.2-1.2-.2-1.1-.2-1.1 0z"/>
<path transform="translate(138.4 293)" d="M-53.3 -13.2l-1.2-.5-1.1-.4-1.2-.3-1.1-.4-1.1-.4-1.2-.4-1.1-.4-1.1-.4-1.2-.4-1.1-.4-1.1-.4-1.2-.5-1.1-.3-1.1-.4-1.2-.4-1.1-.3-1.1-.3-1.2-.3-1.1-.3-1.1-.2-1.2-.2-1.1-.2-1.1-.2-1.2-.1-1.1-.2-1.2-.1-1.1-.2-1.1-.1-1.2-.2-1.1-.1-1.1-.2-1.2-.2-1.1-.2-1.1-.2-1.2-.2-1.1 0z"/>
<path transform="translate(137.8 293.5)" d="M-54.5 -13.4l-1.1-.6-1.2-.3-1.1-.4-1.1-.3-1.2-.4-1.1-.4-1.1-.4-1.2-.4-1.1-.3-1.1-.4-1.2-.4-1.1-.4-1.1-.3-1.2-.4-1.1-.3-1.1-.3-1.2-.3-1.1-.2-1.1-.3-1.2-.2-1.1-.2-1.1-.2-1.2-.2-1.1-.2-1.2-.2-1.1-.1-1.1-.2-1.2-.2-1.1-.2-1.1-.2-1.2-.2-1.1-.2-1.1-.2-1.2-.1z"/>
<path transform="translate(137.3 294.1)" d="M-55.6 -13.7l-1.1-.6-1.2-.3-1.1-.3-1.2-.4-1.1-.3-1.1-.4-1.2-.3-1.1-.4-1.1-.4-1.2-.3-1.1-.4-1.1-.3-1.2-.3-1.1-.3-1.1-.3-1.2-.3-1.1-.3-1.1-.2-1.2-.3-1.1-.2-1.1-.2-1.2-.2-1.1-.2-1.2-.2-1.1-.2-1.1-.2-1.2-.2-1.1-.3-1.1-.2-1.2-.2-1.1 0z"/>
<path transform="translate(136.7 294.7)" d="M-56.7 -14l-1.2-.5-1.1-.3-1.2-.4-1.1-.3-1.1-.3-1.2-.4-1.1-.3-1.1-.4-1.2-.3-1.1-.3-1.1-.4-1.2-.3-1.1-.3-1.1-.3-1.2-.2-1.1-.3-1.1-.3-1.2-.2-1.1-.3-1.1-.2-1.2-.2-1.1-.2-1.2-.3-1.1-.2-1.1-.2-1.2-.2-1.1-.3-1.1-.2-1.2 0z"/>
<path transform="translate(136.2 295.3)" d="M-59 -14.6l-1.2-.5-1.1-.3-1.1-.3-1.2-.4-1.1-.3-1.1-.3-1.2-.3-1.1-.3-1.1-.4-1.2-.3-1.1-.3-1.1-.3-1.2-.2-1.1-.3-1.1-.3-1.2-.2-1.1-.3-1.1-.2-1.2-.3-1.1-.2-1.2-.2-1.1-.3-1.1-.2-1.2-.2-1.1-.1z"/>
<path transform="translate(135.6 295.9)" d="M-61.3 -15.1l-1.1-.5-1.2-.4-1.1-.3-1.1-.3-1.2-.3-1.1-.3-1.1-.3-1.2-.3-1.1-.3-1.1-.3-1.2-.3-1.1-.2-1.1-.3-1.2-.3-1.1-.2-1.2-.3-1.1-.2-1.1-.3-1.2-.2-1.1-.3-1.1 0z"/>
<path transform="translate(135.1 296.4)" d="M-64.7 -16l-1.1-.5-1.2-.3-1.1-.3-1.1-.3-1.2-.3-1.1-.3-1.1-.3-1.2-.2-1.1-.3-1.1-.3-1.2-.3-1.1-.2-1.2-.3-1.1-.2-1.1-.3-1.2 0z"/>
<path transform="translate(134.5 297)" d="M-69.2 -17.1l-1.2-.5-1.1-.3-1.1-.3-1.2-.2-1.1-.3-1.1-.3-1.2 0z"/></g>
<g stroke="#4a4a4a" stroke-width=".6" fill="none"><path d="M17.4 271.7L17.4 223.4"/><path d="M17.4 271.7L131.8 299.9"/><path d="M131.8 299.9L186.6 242.1"/><path d="M17.4 271.7L15.4 271.7"/><path d="M17.4 260.4L15.4 260.4"/><path d="M17.4 249L15.4 249"/><path d="M17.4 237.7L15.4 237.7"/><path d="M17.4 226.4L15.4 226.4"/><path d="M18.3 271.9L16.9 273.4"/><path d="M41 277.5L39.6 279"/><path d="M63.7 283.1L62.3 284.6"/><path d="M86.4 288.7L85 290.2"/><path d="M109.1 294.3L107.7 295.8"/><path d="M131.8 299.9L130.4 301.4"/><path d="M131.8 299.9L134.3 300.5"/><path d="M159.2 271L161.7 271.6"/><path d="M186.6 242.1L189.1 242.7"/></g>
<g font-size="5" fill="#3a3a3a"><text x="12.8" y="273.5" text-anchor="end">0</text><text x="12.8" y="262.2" text-anchor="end">50</text><text x="12.8" y="250.8" text-anchor="end">100</text><text x="12.8" y="239.5" text-anchor="end">150</text><text x="12.8" y="228.2" text-anchor="end">200</text><text x="15.2" y="281.6" text-anchor="end">100</text><text x="37.9" y="287.2" text-anchor="end">80</text><text x="60.6" y="292.8" text-anchor="end">60</text><text x="83.3" y="298.4" text-anchor="end">40</text><text x="106" y="304" text-anchor="end">20</text><text x="128.7" y="309.6" text-anchor="end">0</text><text x="137.6" y="307.2">0</text><text x="165" y="278.3">50</text><text x="192.4" y="249.4">100</text></g>
<polygon points="98,214.3 98.6,216.1 100.6,216.2 99,217.3 99.6,219.2 98,218.1 96.4,219.2 97,217.3 95.4,216.2 97.4,216.1" fill="#f0e01e" stroke="#5a5420" stroke-width=".4"/>
<path d="M98 217C97.3 217.5 95.2 218.7 94 220C92.8 221.3 91.7 223.3 91 225C90.3 226.7 89.9 228.3 90 230C90.1 231.7 90.6 233.6 91.6 235C92.6 236.4 94.4 237.4 96 238.4C97.6 239.4 99.3 240.3 101 241C102.7 241.7 104.3 242 106 242.4C107.7 242.8 109.3 242.9 111 243.6C112.7 244.3 114.5 245.2 116 246.4C117.5 247.6 119 249.7 120 251C121 252.3 121.3 252.5 122 254C122.7 255.5 123.3 257.3 124 260C124.7 262.7 125.3 266.7 126 270C126.7 273.3 127.3 276.7 128 280C128.7 283.3 129.4 286.8 130 290C130.6 293.2 131.3 297.8 131.6 299.4" fill="none" stroke="#dd1431" stroke-width="1.4" stroke-linecap="round" stroke-linejoin="round"/>
<circle cx="91.6" cy="235" r="1.3" fill="none" stroke="#4f9a4c" stroke-width=".5"/>
<circle cx="111" cy="243.6" r="1.3" fill="none" stroke="#4f9a4c" stroke-width=".5"/>
<circle cx="122" cy="254" r="1.3" fill="none" stroke="#4f9a4c" stroke-width=".5"/>
<rect x="130.1" y="297.9" width="3" height="3" fill="#f2f01e" stroke="#a9b51e" stroke-width=".3"/>
<text x="104" y="330.4" text-anchor="middle" class="cap">(c) SHADE</text>
</g>
<g id="plot-d">
<g stroke="#e3e3e3" stroke-width=".6" fill="none"><path d="M285.7 280.9L310.9 221.5"/><path d="M310.9 221.5L449.3 232.1"/><path d="M285.7 269.1L310.9 209.7"/><path d="M310.9 209.7L449.3 220.3"/><path d="M285.7 257.3L310.9 197.9"/><path d="M310.9 197.9L449.3 208.5"/><path d="M285.7 245.5L310.9 186.1"/><path d="M310.9 186.1L449.3 196.7"/><path d="M285.7 233.7L310.9 174.3"/><path d="M310.9 174.3L449.3 184.9"/><path d="M285.7 221.9L310.9 162.5"/><path d="M310.9 162.5L449.3 173.1"/><path d="M285.7 280.9L285.7 221.9"/><path d="M290.7 269L290.7 210"/><path d="M295.8 257.2L295.8 198.2"/><path d="M300.8 245.3L300.8 186.3"/><path d="M305.9 233.4L305.9 174.4"/><path d="M310.9 221.5L310.9 162.5"/><path d="M449.3 232.1L449.3 173.1"/><path d="M421.8 230L421.8 171"/><path d="M394.4 227.9L394.4 168.9"/><path d="M366.9 225.8L366.9 166.8"/><path d="M339.5 223.7L339.5 164.7"/><path d="M312 221.6L312 162.6"/><path d="M310.9 221.5L310.9 162.5"/></g>
<polygon fill="#3e26a8" points="424.1,291.5 286.8,281 312,221.6 449.3,232.1"/>
<g fill="url(#gd)"><path transform="translate(449.3 232.1)" d="M-45.3 -3.5l-1.4-.4-1.4-.2-1.3-.3-1.4-.3-1.4-.4-1.3-.4-1.4-.6-1.4-.8-1.4-.9-1.3-1.1-1.4-1.4-1.4-1.6-1.4-1.9-1.3-2.1-1.4-2.3-1.4-2.5-1.3-2.7-1.4-2.6-1.4-2.5-1.4-2.3-1.3-1.9-1.4-1.4-1.4-1-1.4-.3-1.3 .3-1.4 .8-1.4 1.4-1.4 1.8-1.3 2.2-1.4 2.4-1.4 2.4-1.3 2.4-1.4 2.4-1.4 2.1-1.4 1.9-1.3 1.6-1.4 1.4-1.4 1.1-1.4 .8-1.3 .7-1.4 .4-1.4 .4-1.3 .2-1.4 .1-1.4 .1-1.4 0-1.3 .1z"/>
<path transform="translate(449 232.7)" d="M-43.9 -3.4l-1.4-.4-1.4-.2-1.4-.2-1.3-.3-1.4-.3-1.4-.4-1.3-.5-1.4-.6-1.4-.8-1.4-.9-1.3-1.1-1.4-1.3-1.4-1.6-1.4-1.8-1.3-2.1-1.4-2.2-1.4-2.4-1.3-2.5-1.4-2.5-1.4-2.4-1.4-2.1-1.3-1.8-1.4-1.4-1.4-.8-1.4-.3-1.3 .3-1.4 .8-1.4 1.3-1.4 1.8-1.3 2.1-1.4 2.2-1.4 2.3-1.3 2.4-1.4 2.2-1.4 2-1.4 1.8-1.3 1.5-1.4 1.3-1.4 1.1-1.4 .8-1.3 .6-1.4 .5-1.4 .3-1.3 .2-1.4 .2-1.4 0-1.4 0-1.3 .2z"/>
<path transform="translate(448.8 233.3)" d="M-42.6 -3.3l-1.3-.3-1.4-.2-1.4-.2-1.4-.3-1.3-.3-1.4-.4-1.4-.4-1.3-.5-1.4-.6-1.4-.8-1.4-.9-1.3-1.1-1.4-1.4-1.4-1.5-1.4-1.7-1.3-2-1.4-2.2-1.4-2.3-1.3-2.3-1.4-2.4-1.4-2.2-1.4-2-1.3-1.7-1.4-1.2-1.4-.8-1.4-.2-1.3 .3-1.4 .8-1.4 1.3-1.4 1.7-1.3 2-1.4 2.1-1.4 2.2-1.3 2.2-1.4 2.1-1.4 1.9-1.4 1.7-1.3 1.5-1.4 1.2-1.4 1-1.4 .8-1.3 .6-1.4 .5-1.4 .3-1.3 .2-1.4 .1-1.4 .1-1.4 0-1.3 .2z"/>
<path transform="translate(448.5 233.9)" d="M-41.2 -3.1l-1.4-.4-1.3-.2-1.4-.2-1.4-.3-1.4-.3-1.3-.3-1.4-.4-1.4-.4-1.3-.6-1.4-.6-1.4-.8-1.4-1-1.3-1.1-1.4-1.3-1.4-1.5-1.4-1.7-1.3-1.9-1.4-2.1-1.4-2.2-1.3-2.2-1.4-2.3-1.4-2.1-1.4-1.8-1.3-1.6-1.4-1.1-1.4-.7-1.4-.1-1.3 .4-1.4 .8-1.4 1.3-1.4 1.6-1.3 1.9-1.4 2-1.4 2.1-1.3 2.1-1.4 1.9-1.4 1.8-1.4 1.6-1.3 1.4-1.4 1.2-1.4 1-1.4 .8-1.3 .6-1.4 .4-1.4 .3-1.3 .2-1.4 .2-1.4 .1-1.4 0-1.3 .2z"/>
<path transform="translate(448.3 234.5)" d="M-39.8 -3l-1.4-.4-1.4-.2-1.3-.2-1.4-.2-1.4-.3-1.4-.3-1.3-.4-1.4-.4-1.4-.5-1.3-.6-1.4-.7-1.4-.9-1.4-.9-1.3-1.2-1.4-1.3-1.4-1.5-1.4-1.7-1.3-1.9-1.4-2-1.4-2.1-1.3-2.2-1.4-2.1-1.4-2-1.4-1.7-1.3-1.4-1.4-1-1.4-.6-1.4-.1-1.3 .5-1.4 .8-1.4 1.3-1.4 1.6-1.3 1.8-1.4 2-1.4 2-1.3 2-1.4 1.8-1.4 1.8-1.4 1.5-1.3 1.4-1.4 1.1-1.4 .9-1.4 .8-1.3 .6-1.4 .4-1.4 .3-1.3 .3-1.4 .1-1.4 .1-1.4 0-1.3 0-1.4 .2z"/>
<path transform="translate(448 235.1)" d="M-38.4 -2.9l-1.4-.4-1.4-.2-1.4-.2-1.3-.2-1.4-.3-1.4-.3-1.4-.4-1.3-.4-1.4-.5-1.4-.5-1.3-.7-1.4-.7-1.4-.9-1.4-1-1.3-1.2-1.4-1.4-1.4-1.5-1.4-1.7-1.3-1.9-1.4-2-1.4-2.1-1.3-2.1-1.4-2.1-1.4-1.9-1.4-1.6-1.3-1.3-1.4-.9-1.4-.5-1.4 .1-1.3 .5-1.4 .9-1.4 1.3-1.4 1.7-1.3 1.8-1.4 1.9-1.4 2-1.3 1.9-1.4 1.8-1.4 1.7-1.4 1.5-1.3 1.3-1.4 1.1-1.4 .9-1.4 .7-1.3 .6-1.4 .5-1.4 .3-1.3 .3-1.4 .1-1.4 .1-1.4 .1-1.3 0-1.4 .2z"/>
<path transform="translate(447.8 235.7)" d="M-38.4 -2.9l-1.4-.4-1.4-.3-1.4-.2-1.3-.3-1.4-.3-1.4-.3-1.4-.4-1.3-.5-1.4-.5-1.4-.7-1.3-.7-1.4-.8-1.4-1-1.4-1.1-1.3-1.2-1.4-1.4-1.4-1.6-1.4-1.8-1.3-1.9-1.4-2-1.4-2.2-1.3-2.1-1.4-2.1-1.4-1.8-1.4-1.7-1.3-1.2-1.4-.8-1.4-.4-1.4 .2-1.3 .7-1.4 1-1.4 1.5-1.4 1.7-1.3 1.8-1.4 2-1.4 1.9-1.3 2-1.4 1.7-1.4 1.7-1.4 1.5-1.3 1.3-1.4 1.1-1.4 .9-1.4 .7-1.3 .7-1.4 .4-1.4 .4-1.3 .2-1.4 .2-1.4 .1-1.4 .1-1.3 0-1.4 0-1.4 .2z"/>
<path transform="translate(447.5 236.3)" d="M-37.1 -2.8l-1.3-.4-1.4-.2-1.4-.3-1.4-.2-1.3-.3-1.4-.4-1.4-.4-1.4-.4-1.3-.6-1.4-.6-1.4-.7-1.3-.8-1.4-.9-1.4-1.1-1.4-1.1-1.3-1.4-1.4-1.5-1.4-1.7-1.4-1.8-1.3-2-1.4-2.2-1.4-2.2-1.3-2.2-1.4-2.1-1.4-2-1.4-1.6-1.3-1.2-1.4-.8-1.4-.2-1.4 .3-1.3 .9-1.4 1.2-1.4 1.6-1.4 1.8-1.3 2-1.4 2.1-1.4 2-1.3 2-1.4 1.8-1.4 1.6-1.4 1.5-1.3 1.3-1.4 1.2-1.4 .9-1.4 .8-1.3 .6-1.4 .5-1.4 .4-1.3 .3-1.4 .2-1.4 .2-1.4 0-1.3 .1-1.4 0-1.4 .2z"/>
<path transform="translate(447.3 236.9)" d="M-35.7 -2.7l-1.4-.4-1.3-.2-1.4-.2-1.4-.3-1.4-.3-1.3-.3-1.4-.4-1.4-.5-1.4-.5-1.3-.6-1.4-.7-1.4-.8-1.3-.9-1.4-1-1.4-1.1-1.4-1.3-1.3-1.5-1.4-1.6-1.4-1.8-1.4-2-1.3-2.2-1.4-2.3-1.4-2.3-1.3-2.4-1.4-2.3-1.4-2-1.4-1.7-1.3-1.2-1.4-.7-1.4-.1-1.4 .5-1.3 1-1.4 1.5-1.4 1.8-1.4 2-1.3 2.2-1.4 2.2-1.4 2.2-1.3 2-1.4 1.9-1.4 1.7-1.4 1.6-1.3 1.3-1.4 1.2-1.4 1-1.4 .8-1.3 .7-1.4 .5-1.4 .4-1.3 .4-1.4 .2-1.4 .2-1.4 .1-1.3 0-1.4 0-1.4 0-1.4 .2z"/>
<path transform="translate(447 237.4)" d="M-35.7 -2.7l-1.4-.4-1.3-.3-1.4-.2-1.4-.3-1.4-.3-1.3-.4-1.4-.5-1.4-.5-1.4-.6-1.3-.7-1.4-.8-1.4-.9-1.3-.9-1.4-1.2-1.4-1.2-1.4-1.4-1.3-1.6-1.4-1.7-1.4-2-1.4-2.2-1.3-2.3-1.4-2.5-1.4-2.6-1.3-2.6-1.4-2.5-1.4-2.2-1.4-1.8-1.3-1.2-1.4-.7-1.4 0-1.4 .7-1.3 1.3-1.4 1.7-1.4 2.1-1.4 2.3-1.3 2.4-1.4 2.4-1.4 2.4-1.3 2.2-1.4 2-1.4 1.8-1.4 1.6-1.3 1.4-1.4 1.2-1.4 1.1-1.4 .9-1.3 .7-1.4 .6-1.4 .4-1.3 .4-1.4 .3-1.4 .2-1.4 .1-1.3 .1-1.4 0-1.4 0-1.4 .2z"/>
<path transform="translate(446.8 238)" d="M-34.3 -2.6l-1.4-.4-1.4-.2-1.3-.2-1.4-.3-1.4-.4-1.4-.3-1.3-.5-1.4-.5-1.4-.6-1.4-.7-1.3-.7-1.4-.9-1.4-1-1.3-1.1-1.4-1.2-1.4-1.3-1.4-1.6-1.3-1.7-1.4-1.9-1.4-2.1-1.4-2.3-1.3-2.6-1.4-2.8-1.4-2.8-1.3-2.9-1.4-2.7-1.4-2.4-1.4-1.9-1.3-1.3-1.4-.7-1.4 .2-1.4 .8-1.3 1.5-1.4 2-1.4 2.5-1.4 2.6-1.3 2.7-1.4 2.7-1.4 2.5-1.3 2.4-1.4 2.1-1.4 2-1.4 1.7-1.3 1.5-1.4 1.3-1.4 1.1-1.4 .9-1.3 .8-1.4 .6-1.4 .5-1.3 .4-1.4 .3-1.4 .3-1.4 .1-1.3 .1-1.4 .1-1.4 0-1.4 .2z"/>
<path transform="translate(446.5 238.6)" d="M-34.3 -2.6l-1.4-.4-1.4-.3-1.3-.2-1.4-.3-1.4-.4-1.4-.4-1.3-.5-1.4-.6-1.4-.7-1.4-.7-1.3-.9-1.4-1-1.4-1-1.3-1.2-1.4-1.3-1.4-1.5-1.4-1.6-1.3-1.9-1.4-2-1.4-2.3-1.4-2.5-1.3-2.8-1.4-3-1.4-3.1-1.3-3.2-1.4-2.9-1.4-2.7-1.4-2.1-1.3-1.4-1.4-.6-1.4 .2-1.4 1-1.3 1.8-1.4 2.4-1.4 2.7-1.4 3-1.3 3-1.4 2.9-1.4 2.8-1.3 2.6-1.4 2.3-1.4 2-1.4 1.8-1.3 1.6-1.4 1.4-1.4 1.2-1.4 1-1.3 .8-1.4 .7-1.4 .5-1.3 .5-1.4 .3-1.4 .3-1.4 .1-1.3 .1-1.4 .1-1.4 0-1.4 0-1.3 .2z"/>
<path transform="translate(446.3 239.2)" d="M-33 -2.5l-1.3-.4-1.4-.2-1.4-.2-1.3-.3-1.4-.4-1.4-.4-1.4-.5-1.3-.5-1.4-.7-1.4-.7-1.4-.8-1.3-1-1.4-1-1.4-1.2-1.3-1.3-1.4-1.4-1.4-1.5-1.4-1.8-1.3-1.9-1.4-2.2-1.4-2.4-1.4-2.8-1.3-2.9-1.4-3.3-1.4-3.3-1.3-3.4-1.4-3.2-1.4-2.9-1.4-2.3-1.3-1.5-1.4-.6-1.4 .3-1.4 1.2-1.3 2-1.4 2.7-1.4 3-1.4 3.3-1.3 3.3-1.4 3.2-1.4 3-1.3 2.8-1.4 2.5-1.4 2.1-1.4 2-1.3 1.6-1.4 1.5-1.4 1.2-1.4 1.1-1.3 .9-1.4 .7-1.4 .6-1.3 .4-1.4 .4-1.4 .3-1.4 .2-1.3 .1-1.4 .1-1.4 0-1.4 0-1.3 .2z"/>
<path transform="translate(446 239.8)" d="M-33 -2.5l-1.3-.4-1.4-.2-1.4-.3-1.3-.3-1.4-.4-1.4-.5-1.4-.5-1.3-.6-1.4-.7-1.4-.8-1.4-1-1.3-1-1.4-1.1-1.4-1.2-1.3-1.4-1.4-1.5-1.4-1.6-1.4-1.8-1.3-2.1-1.4-2.2-1.4-2.6-1.4-2.8-1.3-3.2-1.4-3.4-1.4-3.6-1.3-3.6-1.4-3.4-1.4-3-1.4-2.5-1.3-1.6-1.4-.6-1.4 .4-1.4 1.4-1.3 2.2-1.4 2.9-1.4 3.3-1.4 3.6-1.3 3.5-1.4 3.5-1.4 3.2-1.3 2.9-1.4 2.6-1.4 2.3-1.4 2-1.3 1.7-1.4 1.5-1.4 1.3-1.4 1.1-1.3 1-1.4 .7-1.4 .6-1.3 .5-1.4 .4-1.4 .3-1.4 .2-1.3 .2-1.4 0-1.4 .1-1.4 0-1.3 .2z"/>
<path transform="translate(445.8 240.4)" d="M-33 -2.5l-1.3-.5-1.4-.2-1.4-.3-1.3-.4-1.4-.4-1.4-.5-1.4-.5-1.3-.7-1.4-.8-1.4-.9-1.4-1-1.3-1.1-1.4-1.2-1.4-1.3-1.3-1.4-1.4-1.5-1.4-1.7-1.4-1.9-1.3-2.1-1.4-2.3-1.4-2.6-1.4-2.9-1.3-3.3-1.4-3.5-1.4-3.7-1.3-3.7-1.4-3.6-1.4-3.1-1.4-2.5-1.3-1.7-1.4-.6-1.4 .5-1.4 1.4-1.3 2.4-1.4 3.1-1.4 3.5-1.4 3.8-1.3 3.7-1.4 3.6-1.4 3.3-1.3 3-1.4 2.7-1.4 2.4-1.4 2.1-1.3 1.8-1.4 1.5-1.4 1.3-1.4 1.2-1.3 .9-1.4 .8-1.4 .6-1.3 .6-1.4 .4-1.4 .3-1.4 .2-1.3 .1-1.4 .1-1.4 .1-1.4 0-1.3 .2z"/>
<path transform="translate(445.5 241)" d="M-31.6 -2.4l-1.4-.4-1.3-.2-1.4-.3-1.4-.3-1.3-.4-1.4-.4-1.4-.6-1.4-.6-1.3-.7-1.4-.9-1.4-.9-1.4-1.1-1.3-1.1-1.4-1.3-1.4-1.3-1.3-1.5-1.4-1.6-1.4-1.7-1.4-1.8-1.3-2.1-1.4-2.3-1.4-2.6-1.4-3-1.3-3.2-1.4-3.6-1.4-3.7-1.3-3.8-1.4-3.6-1.4-3.2-1.4-2.5-1.3-1.6-1.4-.6-1.4 .5-1.4 1.5-1.3 2.5-1.4 3.1-1.4 3.7-1.4 3.8-1.3 3.8-1.4 3.7-1.4 3.4-1.3 3-1.4 2.8-1.4 2.4-1.4 2-1.3 1.9-1.4 1.5-1.4 1.4-1.4 1.1-1.3 1-1.4 .8-1.4 .6-1.3 .5-1.4 .4-1.4 .3-1.4 .3-1.3 .1-1.4 .1-1.4 .1-1.4 0-1.3 .2z"/>
<path transform="translate(445.3 241.6)" d="M-31.6 -2.4l-1.4-.4-1.3-.2-1.4-.3-1.4-.4-1.3-.4-1.4-.4-1.4-.6-1.4-.7-1.3-.8-1.4-.9-1.4-1-1.4-1.1-1.3-1.2-1.4-1.3-1.4-1.4-1.3-1.5-1.4-1.5-1.4-1.7-1.4-1.9-1.3-2-1.4-2.3-1.4-2.5-1.4-2.9-1.3-3.1-1.4-3.5-1.4-3.6-1.3-3.7-1.4-3.5-1.4-3.2-1.4-2.4-1.3-1.6-1.4-.6-1.4 .5-1.4 1.6-1.3 2.4-1.4 3.2-1.4 3.6-1.4 3.8-1.3 3.8-1.4 3.6-1.4 3.4-1.3 3-1.4 2.7-1.4 2.4-1.4 2-1.3 1.8-1.4 1.6-1.4 1.3-1.4 1.1-1.3 1-1.4 .8-1.4 .6-1.3 .5-1.4 .4-1.4 .3-1.4 .3-1.3 .1-1.4 .1-1.4 .1-1.4 0-1.3 .2z"/>
<path transform="translate(445 242.2)" d="M-31.6 -2.4l-1.4-.4-1.3-.3-1.4-.3-1.4-.3-1.3-.5-1.4-.5-1.4-.6-1.4-.7-1.3-.8-1.4-1-1.4-1-1.4-1.2-1.3-1.2-1.4-1.3-1.4-1.4-1.3-1.5-1.4-1.6-1.4-1.6-1.4-1.8-1.3-1.9-1.4-2.2-1.4-2.4-1.4-2.7-1.3-2.9-1.4-3.3-1.4-3.5-1.3-3.5-1.4-3.3-1.4-3-1.4-2.3-1.3-1.5-1.4-.5-1.4 .5-1.4 1.5-1.3 2.3-1.4 3.1-1.4 3.4-1.4 3.7-1.3 3.7-1.4 3.5-1.4 3.2-1.3 2.9-1.4 2.6-1.4 2.3-1.4 2-1.3 1.8-1.4 1.5-1.4 1.3-1.4 1.1-1.3 .9-1.4 .8-1.4 .6-1.3 .5-1.4 .4-1.4 .3-1.4 .2-1.3 .1-1.4 .1-1.4 .1-1.4 0-1.3 .2z"/>
<path transform="translate(444.8 242.8)" d="M-31.6 -2.4l-1.4-.4-1.3-.3-1.4-.3-1.4-.4-1.3-.4-1.4-.6-1.4-.6-1.4-.8-1.3-.8-1.4-1-1.4-1.1-1.4-1.2-1.3-1.2-1.4-1.4-1.4-1.3-1.3-1.5-1.4-1.5-1.4-1.5-1.4-1.7-1.3-1.8-1.4-2-1.4-2.2-1.4-2.5-1.3-2.7-1.4-3-1.4-3.2-1.3-3.2-1.4-3.1-1.4-2.7-1.4-2.1-1.3-1.4-1.4-.5-1.4 .5-1.4 1.4-1.3 2.3-1.4 2.8-1.4 3.2-1.4 3.4-1.3 3.5-1.4 3.2-1.4 3.1-1.3 2.7-1.4 2.5-1.4 2.2-1.4 1.9-1.3 1.6-1.4 1.4-1.4 1.3-1.4 1-1.3 .9-1.4 .7-1.4 .6-1.3 .5-1.4 .4-1.4 .2-1.4 .2-1.3 .2-1.4 .1-1.4 0-1.4 0-1.3 .2z"/>
<path transform="translate(444.5 243.4)" d="M-31.6 -2.4l-1.4-.5-1.3-.2-1.4-.3-1.4-.4-1.3-.5-1.4-.5-1.4-.7-1.4-.8-1.3-.9-1.4-1-1.4-1.1-1.4-1.2-1.3-1.2-1.4-1.3-1.4-1.4-1.3-1.4-1.4-1.4-1.4-1.5-1.4-1.5-1.3-1.6-1.4-1.8-1.4-2-1.4-2.2-1.3-2.4-1.4-2.7-1.4-2.8-1.3-2.8-1.4-2.8-1.4-2.4-1.4-1.9-1.3-1.2-1.4-.4-1.4 .5-1.4 1.3-1.3 2-1.4 2.5-1.4 2.9-1.4 3.1-1.3 3.1-1.4 3-1.4 2.8-1.3 2.5-1.4 2.3-1.4 2-1.4 1.8-1.3 1.5-1.4 1.3-1.4 1.1-1.4 1-1.3 .8-1.4 .7-1.4 .6-1.3 .4-1.4 .4-1.4 .2-1.4 .2-1.3 .1-1.4 .1-1.4 0-1.4 0-1.3 .2z"/>
<path transform="translate(444.3 244)" d="M-31.6 -2.4l-1.4-.5-1.3-.2-1.4-.4-1.4-.3-1.3-.5-1.4-.6-1.4-.7-1.4-.7-1.3-.9-1.4-1-1.4-1.1-1.4-1.2-1.3-1.3-1.4-1.2-1.4-1.4-1.3-1.3-1.4-1.3-1.4-1.3-1.4-1.4-1.3-1.5-1.4-1.5-1.4-1.8-1.4-1.9-1.3-2-1.4-2.3-1.4-2.4-1.3-2.5-1.4-2.3-1.4-2.1-1.4-1.6-1.3-1-1.4-.4-1.4 .5-1.4 1.1-1.3 1.7-1.4 2.3-1.4 2.5-1.4 2.8-1.3 2.7-1.4 2.6-1.4 2.5-1.3 2.3-1.4 2-1.4 1.8-1.4 1.6-1.3 1.4-1.4 1.2-1.4 1-1.4 .9-1.3 .8-1.4 .6-1.4 .5-1.3 .4-1.4 .3-1.4 .2-1.4 .2-1.3 .1-1.4 0-1.4 0-1.4 0-1.3 .2z"/>
<path transform="translate(444 244.6)" d="M-31.6 -2.4l-1.4-.5-1.3-.2-1.4-.4-1.4-.3-1.3-.5-1.4-.6-1.4-.7-1.4-.8-1.3-.8-1.4-1-1.4-1.1-1.4-1.2-1.3-1.2-1.4-1.2-1.4-1.2-1.3-1.3-1.4-1.2-1.4-1.2-1.4-1.2-1.3-1.3-1.4-1.3-1.4-1.5-1.4-1.6-1.3-1.7-1.4-1.9-1.4-2-1.3-2.1-1.4-1.9-1.4-1.7-1.4-1.3-1.3-.9-1.4-.2-1.4 .3-1.4 1-1.3 1.5-1.4 1.9-1.4 2.2-1.4 2.3-1.3 2.3-1.4 2.3-1.4 2.2-1.3 1.9-1.4 1.8-1.4 1.6-1.4 1.4-1.3 1.3-1.4 1-1.4 1-1.4 .7-1.3 .7-1.4 .6-1.4 .4-1.3 .3-1.4 .3-1.4 .2-1.4 .1-1.3 .1-1.4 .1-1.4 0-1.4-.1-1.3 .2zM-131.8 -10.1l-1.4-.3-1.4-.1-1.3-.2-1.4-.1 0 .3z"/>
<path transform="translate(443.8 245.2)" d="M-31.6 -2.4l-1.4-.5-1.3-.2-1.4-.3-1.4-.4-1.3-.5-1.4-.6-1.4-.6-1.4-.8-1.3-.9-1.4-.9-1.4-1.1-1.4-1.1-1.3-1.1-1.4-1.2-1.4-1.2-1.3-1.1-1.4-1.1-1.4-1.1-1.4-1-1.3-1.1-1.4-1.1-1.4-1.2-1.4-1.3-1.3-1.5-1.4-1.5-1.4-1.6-1.3-1.7-1.4-1.5-1.4-1.4-1.4-1.1-1.3-.6-1.4-.2-1.4 .3-1.4 .8-1.3 1.2-1.4 1.6-1.4 1.8-1.4 2-1.3 1.9-1.4 2-1.4 1.8-1.3 1.7-1.4 1.5-1.4 1.4-1.4 1.2-1.3 1.1-1.4 .9-1.4 .8-1.4 .7-1.3 .6-1.4 .5-1.4 .3-1.3 .3-1.4 .3-1.4 .1-1.4 .1-1.3 .1-1.4 0-1.4 0-1.4 .2zM-127.7 -9.8l-1.4-.3-1.3-.2-1.4-.2-1.4-.1-1.4-.1-1.3-.2-1.4-.1 0 .5z"/>
<path transform="translate(443.5 245.8)" d="M-31.6 -2.4l-1.4-.5-1.3-.2-1.4-.3-1.4-.4-1.3-.5-1.4-.5-1.4-.6-1.4-.8-1.3-.8-1.4-.9-1.4-1-1.4-1.1-1.3-1.1-1.4-1.1-1.4-1-1.3-1.1-1.4-.9-1.4-1-1.4-.9-1.3-.9-1.4-.9-1.4-1-1.4-1-1.3-1.2-1.4-1.2-1.4-1.3-1.3-1.3-1.4-1.2-1.4-1.1-1.4-.8-1.3-.5-1.4-.2-1.4 .3-1.4 .7-1.3 1-1.4 1.3-1.4 1.4-1.4 1.6-1.3 1.7-1.4 1.6-1.4 1.5-1.3 1.4-1.4 1.3-1.4 1.1-1.4 1.1-1.3 .9-1.4 .8-1.4 .7-1.4 .6-1.3 .5-1.4 .4-1.4 .3-1.3 .2-1.4 .2-1.4 .1-1.4 .1-1.3 0-1.4 0-1.4 0-1.4 .2zM-124.9 -9.6l-1.4-.3-1.4-.2-1.4-.2-1.3-.2-1.4-.2-1.4-.2-1.4-.2-1.3-.1-1.4-.1 0 .8z"/>
<path transform="translate(443.3 246.4)" d="M-31.6 -2.4l-1.4-.4-1.3-.3-1.4-.3-1.4-.3-1.3-.5-1.4-.5-1.4-.6-1.4-.7-1.3-.8-1.4-.9-1.4-.9-1.4-1-1.3-1-1.4-1-1.4-1-1.3-.9-1.4-.9-1.4-.8-1.4-.8-1.3-.7-1.4-.8-1.4-.8-1.4-.8-1.3-.9-1.4-.9-1.4-1-1.3-1-1.4-1-1.4-.8-1.4-.6-1.3-.4-1.4-.1-1.4 .2-1.4 .5-1.3 .8-1.4 1.1-1.4 1.2-1.4 1.3-1.3 1.3-1.4 1.3-1.4 1.2-1.3 1.2-1.4 1.1-1.4 1-1.4 .8-1.3 .8-1.4 .7-1.4 .5-1.4 .5-1.3 .4-1.4 .4-1.4 .2-1.3 .2-1.4 .1-1.4 .1-1.4 .1-1.3 0-1.4 0-1.4-.1-1.4 .2zM-122.2 -9.3l-1.4-.4-1.3-.2-1.4-.2-1.4-.2-1.4-.3-1.3-.3-1.4-.2-1.4-.3-1.4-.2-1.3-.1-1.4-.1 0 1.3z"/>
<path transform="translate(443 246.9)" d="M-31.6 -2.4l-1.4-.4-1.3-.2-1.4-.3-1.4-.4-1.3-.4-1.4-.5-1.4-.5-1.4-.7-1.3-.7-1.4-.8-1.4-.9-1.4-.9-1.3-.9-1.4-.9-1.4-.9-1.3-.8-1.4-.8-1.4-.7-1.4-.7-1.3-.6-1.4-.7-1.4-.6-1.4-.6-1.3-.7-1.4-.8-1.4-.7-1.3-.8-1.4-.7-1.4-.7-1.4-.5-1.3-.3-1.4 0-1.4 .2-1.4 .4-1.3 .6-1.4 .9-1.4 .9-1.4 1.1-1.3 1-1.4 1.1-1.4 1-1.3 1-1.4 .9-1.4 .8-1.4 .7-1.3 .6-1.4 .6-1.4 .5-1.4 .4-1.3 .3-1.4 .2-1.4 .2-1.3 .2-1.4 .1-1.4 0-1.4 0-1.3 0-1.4 0-1.4-.1-1.4 .2zM-120.8 -9.2l-1.4-.4-1.4-.2-1.3-.3-1.4-.2-1.4-.4-1.4-.3-1.3-.4-1.4-.3-1.4-.3-1.4-.3-1.3-.1-1.4-.1 0 2z"/>
<path transform="translate(442.7 247.5)" d="M-31.6 -2.4l-1.4-.4-1.3-.2-1.4-.3-1.4-.3-1.3-.4-1.4-.4-1.4-.5-1.4-.6-1.3-.7-1.4-.7-1.4-.8-1.4-.8-1.3-.9-1.4-.8-1.4-.8-1.3-.7-1.4-.7-1.4-.6-1.4-.6-1.3-.6-1.4-.5-1.4-.5-1.4-.5-1.3-.6-1.4-.6-1.4-.6-1.3-.6-1.4-.6-1.4-.5-1.4-.3-1.3-.3-1.4 0-1.4 .1-1.4 .4-1.3 .5-1.4 .7-1.4 .8-1.4 .8-1.3 .9-1.4 .8-1.4 .9-1.3 .8-1.4 .7-1.4 .7-1.4 .6-1.3 .5-1.4 .4-1.4 .4-1.4 .3-1.3 .3-1.4 .2-1.4 .1-1.3 .1-1.4 .1-1.4 0-1.4 0-1.3-.1-1.4 0-1.4-.1-1.4-.1-1.3-.1-1.4-.1-1.4-.1-1.4-.1-1.3-.2-1.4-.2-1.4-.2-1.3-.3-1.4-.4-1.4-.4-1.4-.5-1.3-.5-1.4-.5-1.4-.4-1.4-.3-1.3-.2-1.4 0 0 3z"/>
<path transform="translate(442.5 248.1)" d="M-33 -2.5l-1.3-.5-1.4-.2-1.4-.3-1.3-.4-1.4-.4-1.4-.4-1.4-.6-1.3-.6-1.4-.6-1.4-.7-1.4-.8-1.3-.7-1.4-.7-1.4-.7-1.3-.7-1.4-.6-1.4-.6-1.4-.5-1.3-.5-1.4-.4-1.4-.5-1.4-.4-1.3-.5-1.4-.5-1.4-.5-1.3-.5-1.4-.5-1.4-.4-1.4-.3-1.3-.2-1.4 0-1.4 .1-1.4 .3-1.3 .5-1.4 .5-1.4 .7-1.4 .7-1.3 .7-1.4 .7-1.4 .7-1.3 .7-1.4 .6-1.4 .5-1.4 .5-1.3 .5-1.4 .3-1.4 .3-1.4 .3-1.3 .2-1.4 .1-1.4 .1-1.3 0-1.4 0-1.4 0-1.4 0-1.3-.1-1.4-.1-1.4-.1-1.4-.1-1.3-.1-1.4-.1-1.4-.1-1.4-.1-1.3-.2-1.4-.3-1.4-.3-1.3-.4-1.4-.5-1.4-.5-1.4-.7-1.3-.7-1.4-.6-1.4-.5-1.4-.4-1.3-.2-1.4 0 0 4.3z"/>
<path transform="translate(442.2 248.7)" d="M-33 -2.5l-1.3-.4-1.4-.2-1.4-.3-1.3-.3-1.4-.4-1.4-.4-1.4-.5-1.3-.5-1.4-.6-1.4-.6-1.4-.7-1.3-.6-1.4-.7-1.4-.6-1.3-.6-1.4-.5-1.4-.5-1.4-.5-1.3-.5-1.4-.4-1.4-.4-1.4-.5-1.3-.4-1.4-.5-1.4-.4-1.3-.5-1.4-.4-1.4-.3-1.4-.3-1.3-.1-1.4 0-1.4 .1-1.4 .2-1.3 .4-1.4 .5-1.4 .6-1.4 .6-1.3 .6-1.4 .6-1.4 .6-1.3 .6-1.4 .5-1.4 .5-1.4 .4-1.3 .3-1.4 .3-1.4 .3-1.4 .1-1.3 .2-1.4 .1-1.4 0-1.3 0-1.4 0-1.4-.1-1.4-.1-1.3-.1-1.4-.1-1.4-.1-1.4-.1-1.3-.1-1.4-.1-1.4-.2-1.4-.1-1.3-.2-1.4-.3-1.4-.4-1.3-.5-1.4-.7-1.4-.7-1.4-.9-1.3-.9-1.4-.8-1.4-.7-1.4-.6-1.3-.2-1.4 0 0 6.1z"/>
<path transform="translate(442 249.3)" d="M-33 -2.5l-1.3-.4-1.4-.2-1.4-.2-1.3-.3-1.4-.3-1.4-.4-1.4-.4-1.3-.5-1.4-.5-1.4-.6-1.4-.5-1.3-.6-1.4-.6-1.4-.5-1.3-.5-1.4-.5-1.4-.5-1.4-.5-1.3-.4-1.4-.4-1.4-.5-1.4-.4-1.3-.4-1.4-.5-1.4-.5-1.3-.4-1.4-.4-1.4-.3-1.4-.2-1.3-.2-1.4 0-1.4 .1-1.4 .3-1.3 .3-1.4 .5-1.4 .5-1.4 .5-1.3 .6-1.4 .6-1.4 .5-1.3 .5-1.4 .5-1.4 .4-1.4 .3-1.3 .3-1.4 .3-1.4 .1-1.4 .2-1.3 .1-1.4 0-1.4 0-1.3 0-1.4-.1-1.4-.1-1.4-.1-1.3-.2-1.4-.1-1.4-.2-1.4-.1-1.3-.1-1.4-.2-1.4-.1-1.4-.2-1.3-.2-1.4-.4-1.4-.4-1.3-.7-1.4-.8-1.4-1-1.4-1.1-1.3-1.1-1.4-1.1-1.4-1-1.4-.6-1.3-.3-1.4 .1 0 8.1z"/>
<path transform="translate(441.7 249.9)" d="M-34.3 -2.6l-1.4-.4-1.4-.2-1.3-.3-1.4-.3-1.4-.3-1.4-.4-1.3-.4-1.4-.4-1.4-.5-1.4-.5-1.3-.5-1.4-.5-1.4-.5-1.3-.5-1.4-.4-1.4-.5-1.4-.4-1.3-.5-1.4-.4-1.4-.5-1.4-.4-1.3-.5-1.4-.5-1.4-.5-1.3-.4-1.4-.4-1.4-.4-1.4-.2-1.3-.1-1.4 0-1.4 .1-1.4 .2-1.3 .4-1.4 .4-1.4 .5-1.4 .5-1.3 .5-1.4 .6-1.4 .5-1.3 .4-1.4 .5-1.4 .3-1.4 .3-1.3 .3-1.4 .2-1.4 .1-1.4 .1-1.3 .1-1.4 0-1.4-.1-1.3-.1-1.4-.1-1.4-.1-1.4-.2-1.3-.2-1.4-.1-1.4-.2-1.4-.2-1.3-.1-1.4-.2-1.4-.2-1.4-.1-1.3-.3-1.4-.4-1.4-.6-1.3-.7-1.4-1.1-1.4-1.2-1.4-1.3-1.3-1.5-1.4-1.4-1.4-1.1-1.4-.8-1.3-.4-1.4 .2 0 10.4z"/>
<path transform="translate(441.5 250.5)" d="M-35.7 -2.7l-1.4-.5-1.3-.2-1.4-.2-1.4-.3-1.4-.3-1.3-.4-1.4-.4-1.4-.4-1.4-.4-1.3-.5-1.4-.4-1.4-.5-1.3-.4-1.4-.4-1.4-.5-1.4-.4-1.3-.5-1.4-.5-1.4-.5-1.4-.5-1.3-.5-1.4-.6-1.4-.5-1.3-.5-1.4-.4-1.4-.3-1.4-.3-1.3-.1-1.4 0-1.4 .1-1.4 .2-1.3 .4-1.4 .4-1.4 .5-1.4 .5-1.3 .6-1.4 .5-1.4 .5-1.3 .4-1.4 .4-1.4 .4-1.4 .3-1.3 .2-1.4 .2-1.4 .1-1.4 0-1.3 0-1.4 0-1.4-.1-1.3-.1-1.4-.2-1.4-.2-1.4-.2-1.3-.2-1.4-.3-1.4-.2-1.4-.2-1.3-.2-1.4-.1-1.4-.2-1.4-.2-1.3-.3-1.4-.4-1.4-.7-1.3-.9-1.4-1.2-1.4-1.4-1.4-1.7-1.3-1.8-1.4-1.6-1.4-1.4-1.4-1-1.3-.3-1.4 .2 0 12.8z"/>
<path transform="translate(441.2 251.1)" d="M-35.7 -2.7l-1.4-.4-1.3-.2-1.4-.2-1.4-.3-1.4-.2-1.3-.3-1.4-.4-1.4-.3-1.4-.4-1.3-.4-1.4-.4-1.4-.4-1.3-.4-1.4-.5-1.4-.4-1.4-.5-1.3-.5-1.4-.5-1.4-.6-1.4-.5-1.3-.6-1.4-.6-1.4-.6-1.3-.5-1.4-.5-1.4-.4-1.4-.2-1.3-.2-1.4 0-1.4 .2-1.4 .2-1.3 .4-1.4 .4-1.4 .5-1.4 .6-1.3 .5-1.4 .5-1.4 .6-1.3 .4-1.4 .4-1.4 .4-1.4 .2-1.3 .2-1.4 .2-1.4 .1-1.4 0-1.3 0-1.4-.1-1.4-.1-1.3-.2-1.4-.3-1.4-.2-1.4-.3-1.3-.3-1.4-.3-1.4-.3-1.4-.2-1.3-.3-1.4-.1-1.4-.2-1.4-.2-1.3-.3-1.4-.5-1.4-.7-1.3-1-1.4-1.4-1.4-1.6-1.4-2-1.3-2-1.4-1.9-1.4-1.7-1.4-1.1-1.3-.4-1.4 .3 0 15.2z"/>
<path transform="translate(441 251.7)" d="M-37.1 -2.8l-1.3-.4-1.4-.2-1.4-.2-1.4-.3-1.3-.2-1.4-.3-1.4-.3-1.4-.4-1.3-.3-1.4-.4-1.4-.4-1.3-.4-1.4-.4-1.4-.5-1.4-.4-1.3-.6-1.4-.5-1.4-.7-1.4-.6-1.3-.7-1.4-.6-1.4-.6-1.3-.6-1.4-.5-1.4-.4-1.4-.3-1.3-.2-1.4 0-1.4 .1-1.4 .3-1.3 .4-1.4 .5-1.4 .5-1.4 .6-1.3 .5-1.4 .6-1.4 .5-1.3 .5-1.4 .4-1.4 .3-1.4 .3-1.3 .2-1.4 .1-1.4 .1-1.4 0-1.3 0-1.4-.2-1.4-.1-1.3-.3-1.4-.3-1.4-.4-1.4-.3-1.3-.4-1.4-.4-1.4-.4-1.4-.3-1.3-.2-1.4-.2-1.4-.2-1.4-.1-1.3-.3-1.4-.5-1.4-.7-1.3-1.1-1.4-1.5-1.4-1.9-1.4-2.1-1.3-2.3-1.4-2.2-1.4-1.8-1.4-1.2-1.3-.5-1.4 .3 0 17.4z"/>
<path transform="translate(440.7 252.3)" d="M-38.4 -2.9l-1.4-.4-1.4-.2-1.4-.2-1.3-.3-1.4-.2-1.4-.3-1.4-.3-1.3-.3-1.4-.3-1.4-.4-1.3-.4-1.4-.4-1.4-.5-1.4-.5-1.3-.6-1.4-.6-1.4-.7-1.4-.7-1.3-.7-1.4-.7-1.4-.7-1.3-.6-1.4-.6-1.4-.4-1.4-.3-1.3-.2-1.4 0-1.4 .1-1.4 .3-1.3 .4-1.4 .5-1.4 .6-1.4 .6-1.3 .6-1.4 .6-1.4 .5-1.3 .5-1.4 .4-1.4 .4-1.4 .2-1.3 .2-1.4 .2-1.4 0-1.4 0-1.3-.1-1.4-.2-1.4-.2-1.3-.3-1.4-.4-1.4-.5-1.4-.5-1.3-.5-1.4-.5-1.4-.4-1.4-.4-1.3-.2-1.4-.2-1.4-.2-1.4-.1-1.3-.3-1.4-.4-1.4-.7-1.3-1.2-1.4-1.5-1.4-1.9-1.4-2.3-1.3-2.5-1.4-2.3-1.4-2-1.4-1.4-1.3-.5-1.4 .4 0 19.1z"/>
<path transform="translate(440.5 252.9)" d="M-39.8 -3l-1.4-.4-1.4-.2-1.3-.2-1.4-.3-1.4-.2-1.4-.3-1.3-.3-1.4-.3-1.4-.3-1.3-.4-1.4-.4-1.4-.5-1.4-.6-1.3-.6-1.4-.6-1.4-.7-1.4-.8-1.3-.8-1.4-.8-1.4-.7-1.3-.7-1.4-.6-1.4-.5-1.4-.3-1.3-.2-1.4 0-1.4 .2-1.4 .3-1.3 .4-1.4 .5-1.4 .6-1.4 .7-1.3 .6-1.4 .6-1.4 .6-1.3 .5-1.4 .4-1.4 .4-1.4 .2-1.3 .2-1.4 .2-1.4 0-1.4-.1-1.3-.1-1.4-.2-1.4-.3-1.3-.4-1.4-.5-1.4-.6-1.4-.6-1.3-.7-1.4-.6-1.4-.5-1.4-.5-1.3-.3-1.4-.2-1.4-.1-1.4-.1-1.3-.2-1.4-.3-1.4-.7-1.3-1-1.4-1.5-1.4-2-1.4-2.4-1.3-2.5-1.4-2.4-1.4-2.1-1.4-1.4-1.3-.6-1.4 .4 0 20.3z"/>
<path transform="translate(440.2 253.5)" d="M-41.2 -3.1l-1.4-.4-1.3-.2-1.4-.2-1.4-.3-1.4-.2-1.3-.3-1.4-.3-1.4-.3-1.3-.4-1.4-.4-1.4-.5-1.4-.6-1.3-.6-1.4-.7-1.4-.8-1.4-.8-1.3-.8-1.4-.8-1.4-.8-1.3-.7-1.4-.7-1.4-.5-1.4-.3-1.3-.2-1.4 0-1.4 .2-1.4 .3-1.3 .4-1.4 .6-1.4 .6-1.4 .6-1.3 .7-1.4 .6-1.4 .6-1.3 .5-1.4 .5-1.4 .3-1.4 .3-1.3 .2-1.4 .1-1.4 0-1.4 0-1.3-.2-1.4-.3-1.4-.4-1.3-.5-1.4-.6-1.4-.8-1.4-.7-1.3-.8-1.4-.8-1.4-.6-1.4-.6-1.3-.3-1.4-.3-1.4 0-1.4 0-1.3-.1-1.4-.2-1.4-.5-1.3-.9-1.4-1.5-1.4-1.8-1.4-2.3-1.3-2.6-1.4-2.4-1.4-2.1-1.4-1.5-1.3-.6-1.4 .4 0 20.9z"/>
<path transform="translate(440 254.1)" d="M-42.6 -3.3l-1.3-.4-1.4-.1-1.4-.3-1.4-.2-1.3-.2-1.4-.3-1.4-.4-1.3-.4-1.4-.4-1.4-.5-1.4-.6-1.3-.6-1.4-.7-1.4-.8-1.4-.8-1.3-.9-1.4-.9-1.4-.8-1.3-.7-1.4-.7-1.4-.5-1.4-.4-1.3-.2-1.4 0-1.4 .2-1.4 .3-1.3 .5-1.4 .5-1.4 .7-1.4 .6-1.3 .7-1.4 .7-1.4 .6-1.3 .5-1.4 .4-1.4 .4-1.4 .3-1.3 .2-1.4 .1-1.4 0-1.4-.2-1.3-.2-1.4-.3-1.4-.5-1.3-.7-1.4-.7-1.4-.9-1.4-.9-1.3-1-1.4-.9-1.4-.8-1.4-.7-1.3-.4-1.4-.2-1.4 0-1.4 .1-1.3 .1-1.4-.1-1.4-.3-1.3-.7-1.4-1.2-1.4-1.7-1.4-2.2-1.3-2.4-1.4-2.4-1.4-2.1-1.4-1.5-1.3-.6-1.4 .4 0 20.9z"/>
<path transform="translate(439.7 254.7)" d="M-42.6 -3.3l-1.3-.3-1.4-.2-1.4-.2-1.4-.2-1.3-.3-1.4-.3-1.4-.3-1.3-.4-1.4-.4-1.4-.5-1.4-.6-1.3-.6-1.4-.8-1.4-.8-1.4-.8-1.3-.9-1.4-.9-1.4-.8-1.3-.8-1.4-.7-1.4-.5-1.4-.4-1.3-.1-1.4 0-1.4 .1-1.4 .4-1.3 .4-1.4 .6-1.4 .6-1.4 .7-1.3 .7-1.4 .6-1.4 .6-1.3 .5-1.4 .5-1.4 .3-1.4 .3-1.3 .2-1.4 .1-1.4-.1-1.4-.1-1.3-.3-1.4-.4-1.4-.6-1.3-.8-1.4-.9-1.4-1-1.4-1.1-1.3-1.2-1.4-1.1-1.4-1-1.4-.7-1.3-.5-1.4-.2-1.4 0-1.4 .2-1.3 .3-1.4 .2-1.4-.1-1.3-.4-1.4-.9-1.4-1.5-1.4-1.9-1.3-2.3-1.4-2.3-1.4-2-1.4-1.5-1.3-.7-1.4 .4 0 20.5z"/>
<path transform="translate(439.5 255.3)" d="M-42.6 -3.3l-1.3-.3-1.4-.2-1.4-.2-1.4-.2-1.3-.2-1.4-.3-1.4-.3-1.3-.4-1.4-.4-1.4-.5-1.4-.6-1.3-.7-1.4-.7-1.4-.8-1.4-.9-1.3-.9-1.4-.9-1.4-.8-1.3-.8-1.4-.7-1.4-.5-1.4-.4-1.3-.1-1.4 0-1.4 .1-1.4 .4-1.3 .4-1.4 .6-1.4 .6-1.4 .7-1.3 .7-1.4 .6-1.4 .6-1.3 .5-1.4 .4-1.4 .4-1.4 .3-1.3 .1-1.4 .1-1.4-.1-1.4-.2-1.3-.3-1.4-.5-1.4-.7-1.3-.9-1.4-1.1-1.4-1.2-1.4-1.3-1.3-1.4-1.4-1.3-1.4-1.1-1.4-.8-1.3-.6-1.4-.2-1.4 .1-1.4 .4-1.3 .4-1.4 .5-1.4 .2-1.3-.2-1.4-.6-1.4-1.1-1.4-1.7-1.3-2-1.4-2.2-1.4-2-1.4-1.4-1.3-.7-1.4 .2 0 19.9z"/>
<path transform="translate(439.2 255.9)" d="M-42.6 -3.3l-1.3-.3-1.4-.2-1.4-.2-1.4-.2-1.3-.3-1.4-.2-1.4-.3-1.3-.4-1.4-.4-1.4-.5-1.4-.6-1.3-.7-1.4-.7-1.4-.8-1.4-.9-1.3-.8-1.4-.9-1.4-.9-1.3-.8-1.4-.6-1.4-.5-1.4-.4-1.3-.2-1.4 0-1.4 .2-1.4 .4-1.3 .4-1.4 .6-1.4 .6-1.4 .6-1.3 .7-1.4 .6-1.4 .6-1.3 .5-1.4 .4-1.4 .3-1.4 .3-1.3 .1-1.4 .1-1.4-.1-1.4-.2-1.3-.4-1.4-.6-1.4-.8-1.3-1-1.4-1.3-1.4-1.4-1.4-1.5-1.3-1.6-1.4-1.4-1.4-1.3-1.4-1-1.3-.6-1.4-.2-1.4 .1-1.4 .5-1.3 .7-1.4 .7-1.4 .5-1.3 .2-1.4-.3-1.4-.8-1.4-1.4-1.3-1.8-1.4-2-1.4-1.9-1.4-1.4-1.3-.8-1.4 .2 0 19.1z"/>
<path transform="translate(439 256.5)" d="M-41.2 -3.1l-1.4-.4-1.3-.2-1.4-.2-1.4-.2-1.4-.2-1.3-.2-1.4-.3-1.4-.3-1.3-.4-1.4-.4-1.4-.5-1.4-.5-1.3-.7-1.4-.7-1.4-.8-1.4-.8-1.3-.9-1.4-.9-1.4-.8-1.3-.8-1.4-.7-1.4-.5-1.4-.3-1.3-.2-1.4 .1-1.4 .2-1.4 .3-1.3 .5-1.4 .5-1.4 .6-1.4 .6-1.3 .6-1.4 .6-1.4 .5-1.3 .5-1.4 .4-1.4 .3-1.4 .3-1.3 .1-1.4 0-1.4-.1-1.4-.3-1.3-.4-1.4-.7-1.4-.8-1.3-1.2-1.4-1.4-1.4-1.5-1.4-1.8-1.3-1.7-1.4-1.7-1.4-1.4-1.4-1.1-1.3-.7-1.4-.2-1.4 .2-1.4 .7-1.3 .8-1.4 1-1.4 .8-1.3 .5-1.4 .1-1.4-.5-1.4-1.1-1.3-1.6-1.4-1.8-1.4-1.9-1.4-1.5-1.3-.8-1.4 .1 0 18.4z"/>
<path transform="translate(438.7 257)" d="M-39.8 -3l-1.4-.4-1.4-.2-1.3-.2-1.4-.2-1.4-.2-1.4-.2-1.3-.3-1.4-.2-1.4-.3-1.3-.4-1.4-.4-1.4-.5-1.4-.5-1.3-.7-1.4-.7-1.4-.8-1.4-.8-1.3-.9-1.4-.8-1.4-.8-1.3-.8-1.4-.6-1.4-.5-1.4-.3-1.3-.2-1.4 .1-1.4 .2-1.4 .3-1.3 .5-1.4 .5-1.4 .6-1.4 .6-1.3 .6-1.4 .5-1.4 .5-1.3 .5-1.4 .3-1.4 .3-1.4 .2-1.3 .1-1.4 0-1.4-.1-1.4-.3-1.3-.5-1.4-.7-1.4-1-1.3-1.2-1.4-1.5-1.4-1.8-1.4-1.8-1.3-2-1.4-1.8-1.4-1.6-1.4-1.2-1.3-.7-1.4-.2-1.4 .3-1.4 .7-1.3 1.1-1.4 1.1-1.4 1.1-1.3 .8-1.4 .4-1.4-.2-1.4-.8-1.3-1.3-1.4-1.7-1.4-1.8-1.4-1.5-1.3-.9-1.4 0 0 17.7z"/>
<path transform="translate(438.5 257.6)" d="M-38.4 -2.9l-1.4-.4-1.4-.2-1.4-.2-1.3-.2-1.4-.2-1.4-.3-1.4-.2-1.3-.3-1.4-.2-1.4-.3-1.3-.4-1.4-.4-1.4-.5-1.4-.5-1.3-.6-1.4-.8-1.4-.7-1.4-.8-1.3-.9-1.4-.8-1.4-.8-1.3-.8-1.4-.6-1.4-.4-1.4-.3-1.3-.1-1.4 0-1.4 .3-1.4 .4-1.3 .4-1.4 .6-1.4 .5-1.4 .6-1.3 .5-1.4 .5-1.4 .5-1.3 .4-1.4 .3-1.4 .3-1.4 .1-1.3 .1-1.4 0-1.4-.1-1.4-.3-1.3-.6-1.4-.7-1.4-1.1-1.3-1.3-1.4-1.6-1.4-1.9-1.4-2-1.3-2-1.4-2-1.4-1.7-1.4-1.3-1.3-.8-1.4-.2-1.4 .4-1.4 .8-1.3 1.2-1.4 1.3-1.4 1.3-1.3 1.1-1.4 .7-1.4 0-1.4-.5-1.3-1.2-1.4-1.6-1.4-1.7-1.4-1.5-1.3-.9-1.4 0 0 17z"/>
<path transform="translate(438.2 258.2)" d="M-35.7 -2.7l-1.4-.4-1.3-.1-1.4-.2-1.4-.2-1.4-.2-1.3-.3-1.4-.3-1.4-.2-1.4-.3-1.3-.3-1.4-.3-1.4-.3-1.3-.3-1.4-.4-1.4-.5-1.4-.5-1.3-.7-1.4-.7-1.4-.7-1.4-.8-1.3-.9-1.4-.8-1.4-.8-1.3-.7-1.4-.6-1.4-.4-1.4-.3-1.3 0-1.4 .1-1.4 .3-1.4 .4-1.3 .5-1.4 .5-1.4 .6-1.4 .5-1.3 .5-1.4 .4-1.4 .4-1.3 .4-1.4 .3-1.4 .2-1.4 .2-1.3 .1-1.4 0-1.4-.2-1.4-.3-1.3-.6-1.4-.7-1.4-1.1-1.3-1.4-1.4-1.7-1.4-1.9-1.4-2.1-1.3-2.2-1.4-2-1.4-1.8-1.4-1.4-1.3-.8-1.4-.2-1.4 .4-1.4 .9-1.3 1.2-1.4 1.5-1.4 1.5-1.3 1.3-1.4 .8-1.4 .3-1.4-.3-1.3-1-1.4-1.5-1.4-1.6-1.4-1.5-1.3-.9-1.4-.1 0 16.4z"/>
<path transform="translate(438 258.8)" d="M-34.3 -2.6l-1.4-.4-1.4-.2-1.3-.2-1.4-.2-1.4-.2-1.4-.3-1.3-.3-1.4-.3-1.4-.3-1.4-.3-1.3-.3-1.4-.3-1.4-.3-1.3-.3-1.4-.4-1.4-.5-1.4-.6-1.3-.6-1.4-.7-1.4-.8-1.4-.8-1.3-.8-1.4-.9-1.4-.7-1.3-.7-1.4-.6-1.4-.4-1.4-.2-1.3 0-1.4 .2-1.4 .3-1.4 .5-1.3 .5-1.4 .6-1.4 .5-1.4 .5-1.3 .5-1.4 .4-1.4 .3-1.3 .3-1.4 .3-1.4 .2-1.4 .2-1.3 0-1.4 0-1.4-.1-1.4-.3-1.3-.6-1.4-.8-1.4-1-1.3-1.4-1.4-1.7-1.4-2-1.4-2.2-1.3-2.2-1.4-2.1-1.4-1.8-1.4-1.4-1.3-.8-1.4-.3-1.4 .4-1.4 1-1.3 1.3-1.4 1.6-1.4 1.5-1.3 1.4-1.4 1-1.4 .5-1.4-.2-1.3-.8-1.4-1.3-1.4-1.5-1.4-1.4-1.3-.9-1.4-.1 0 15.6z"/>
<path transform="translate(437.7 259.4)" d="M-31.6 -2.4l-1.4-.4-1.3-.1-1.4-.2-1.4-.2-1.3-.2-1.4-.3-1.4-.3-1.4-.3-1.3-.3-1.4-.4-1.4-.3-1.4-.4-1.3-.3-1.4-.4-1.4-.3-1.3-.4-1.4-.4-1.4-.4-1.4-.6-1.3-.7-1.4-.7-1.4-.8-1.4-.8-1.3-.8-1.4-.9-1.4-.7-1.3-.7-1.4-.5-1.4-.4-1.4-.1-1.3 0-1.4 .3-1.4 .4-1.4 .5-1.3 .6-1.4 .6-1.4 .5-1.4 .5-1.3 .4-1.4 .4-1.4 .3-1.3 .3-1.4 .2-1.4 .2-1.4 .1-1.3 .1-1.4 0-1.4-.1-1.4-.3-1.3-.5-1.4-.8-1.4-1-1.3-1.4-1.4-1.6-1.4-2-1.4-2.1-1.3-2.2-1.4-2.1-1.4-1.9-1.4-1.4-1.3-.8-1.4-.3-1.4 .4-1.4 1-1.3 1.3-1.4 1.6-1.4 1.6-1.3 1.4-1.4 1.1-1.4 .6-1.4 0-1.3-.7-1.4-1.1-1.4-1.3-1.4-1.3-1.3-.8-1.4-.1 0 14.6z"/>
<path transform="translate(437.5 260)" d="M-28.8 -2.2l-1.4-.4-1.4-.1-1.4-.2-1.3-.2-1.4-.2-1.4-.2-1.3-.2-1.4-.3-1.4-.4-1.4-.4-1.3-.4-1.4-.4-1.4-.4-1.4-.5-1.3-.3-1.4-.4-1.4-.4-1.3-.3-1.4-.4-1.4-.6-1.4-.6-1.3-.7-1.4-.7-1.4-.8-1.4-.9-1.3-.8-1.4-.8-1.4-.8-1.3-.6-1.4-.5-1.4-.3-1.4-.1-1.3 .1-1.4 .4-1.4 .5-1.4 .6-1.3 .6-1.4 .6-1.4 .6-1.4 .5-1.3 .4-1.4 .3-1.4 .3-1.3 .2-1.4 .2-1.4 .2-1.4 .1-1.3 .1-1.4 0-1.4-.1-1.4-.2-1.3-.5-1.4-.7-1.4-.9-1.3-1.3-1.4-1.6-1.4-1.9-1.4-2.1-1.3-2.1-1.4-2.1-1.4-1.7-1.4-1.4-1.3-.9-1.4-.2-1.4 .3-1.4 .9-1.3 1.3-1.4 1.5-1.4 1.6-1.3 1.5-1.4 1.1-1.4 .6-1.4 .1-1.3-.4-1.4-.9-1.4-1.2-1.4-1.1-1.3-.7-1.4 0 0 13.4z"/>
<path transform="translate(437.2 260.6)" d="M-26.1 -2l-1.4-.4-1.3-.1-1.4-.2-1.4-.1-1.4-.2-1.3-.2-1.4-.2-1.4-.3-1.3-.3-1.4-.4-1.4-.4-1.4-.4-1.3-.5-1.4-.6-1.4-.5-1.4-.5-1.3-.4-1.4-.4-1.4-.4-1.3-.4-1.4-.4-1.4-.6-1.4-.6-1.3-.7-1.4-.9-1.4-.8-1.4-.8-1.3-.9-1.4-.8-1.4-.7-1.3-.7-1.4-.5-1.4-.2-1.4-.1-1.3 .3-1.4 .4-1.4 .6-1.4 .7-1.3 .8-1.4 .6-1.4 .6-1.4 .4-1.3 .4-1.4 .3-1.4 .3-1.3 .2-1.4 .2-1.4 .1-1.4 .2-1.3 .1-1.4 0-1.4 0-1.4-.2-1.3-.4-1.4-.6-1.4-.9-1.3-1.1-1.4-1.5-1.4-1.8-1.4-1.9-1.3-2-1.4-2-1.4-1.7-1.4-1.3-1.3-.8-1.4-.2-1.4 .3-1.4 .8-1.3 1.2-1.4 1.4-1.4 1.5-1.3 1.4-1.4 1-1.4 .7-1.4 .2-1.3-.3-1.4-.7-1.4-.9-1.4-.8-1.3-.6-1.4 0 0 12.1z"/>
<path transform="translate(437 261.2)" d="M-23.3 -1.8l-1.4-.3-1.4-.2-1.4-.1-1.3-.2-1.4-.2-1.4-.1-1.4-.3-1.3-.2-1.4-.2-1.4-.4-1.3-.3-1.4-.5-1.4-.5-1.4-.5-1.3-.6-1.4-.7-1.4-.6-1.4-.5-1.3-.5-1.4-.5-1.4-.4-1.3-.4-1.4-.4-1.4-.6-1.4-.7-1.3-.8-1.4-.9-1.4-.8-1.4-.9-1.3-.8-1.4-.8-1.4-.8-1.3-.6-1.4-.5-1.4-.2-1.4 0-1.3 .4-1.4 .5-1.4 .7-1.4 .8-1.3 .8-1.4 .7-1.4 .6-1.4 .4-1.3 .4-1.4 .3-1.4 .2-1.3 .2-1.4 .1-1.4 .2-1.4 .2-1.3 .1-1.4 .1-1.4 0-1.4-.1-1.3-.3-1.4-.4-1.4-.8-1.3-1-1.4-1.3-1.4-1.6-1.4-1.8-1.3-1.8-1.4-1.8-1.4-1.5-1.4-1.3-1.3-.8-1.4-.2-1.4 .2-1.4 .7-1.3 1.1-1.4 1.3-1.4 1.3-1.3 1.3-1.4 1-1.4 .7-1.4 .2-1.3-.1-1.4-.5-1.4-.7-1.4-.6-1.3-.4-1.4 .1 0 10.7z"/>
<path transform="translate(436.7 261.8)" d="M-22 -1.7l-1.3-.3-1.4-.2-1.4-.2-1.4-.1-1.3-.2-1.4-.2-1.4-.2-1.4-.2-1.3-.3-1.4-.3-1.4-.4-1.3-.4-1.4-.6-1.4-.6-1.4-.6-1.3-.8-1.4-.7-1.4-.7-1.4-.6-1.3-.6-1.4-.5-1.4-.4-1.3-.4-1.4-.5-1.4-.6-1.4-.8-1.3-.8-1.4-.9-1.4-.9-1.4-.9-1.3-.8-1.4-.8-1.4-.7-1.3-.6-1.4-.5-1.4-.2-1.4 .1-1.3 .4-1.4 .6-1.4 .8-1.4 .9-1.3 .9-1.4 .7-1.4 .6-1.4 .5-1.3 .3-1.4 .2-1.4 .2-1.3 .2-1.4 .1-1.4 .2-1.4 .2-1.3 .2-1.4 .1-1.4 .1-1.4 .1-1.3-.2-1.4-.3-1.4-.6-1.3-.9-1.4-1.1-1.4-1.3-1.4-1.6-1.3-1.6-1.4-1.6-1.4-1.4-1.4-1.1-1.3-.7-1.4-.3-1.4 .2-1.4 .6-1.3 .9-1.4 1.1-1.4 1.1-1.3 1.1-1.4 .9-1.4 .7-1.4 .3-1.3-.1-1.4-.3-1.4-.4-1.4-.5-1.3-.2-1.4 .2 0 9.4z"/>
<path transform="translate(436.4 262.4)" d="M-20.6 -1.6l-1.4-.3-1.3-.2-1.4-.2-1.4-.2-1.4-.1-1.3-.2-1.4-.2-1.4-.3-1.4-.2-1.3-.4-1.4-.3-1.4-.5-1.3-.5-1.4-.6-1.4-.7-1.4-.8-1.3-.9-1.4-.8-1.4-.8-1.4-.8-1.3-.6-1.4-.5-1.4-.4-1.3-.5-1.4-.5-1.4-.6-1.4-.8-1.3-.9-1.4-.9-1.4-.9-1.4-.9-1.3-.8-1.4-.8-1.4-.7-1.3-.6-1.4-.4-1.4-.1-1.4 .1-1.3 .4-1.4 .7-1.4 .9-1.4 .9-1.3 .9-1.4 .8-1.4 .6-1.4 .4-1.3 .3-1.4 .2-1.4 .2-1.3 .1-1.4 .2-1.4 .2-1.4 .2-1.3 .2-1.4 .3-1.4 .2-1.4 .1-1.3 0-1.4-.2-1.4-.4-1.3-.6-1.4-.9-1.4-1.1-1.4-1.3-1.3-1.4-1.4-1.4-1.4-1.2-1.4-1-1.3-.6-1.4-.3-1.4 .1-1.4 .4-1.3 .8-1.4 .9-1.4 1-1.3 .9-1.4 .7-1.4 .6-1.4 .3-1.3 0-1.4-.1-1.4-.3-1.4-.2-1.3-.1-1.4 .2 0 8.3z"/>
<path transform="translate(436.2 263)" d="M-19.2 -1.5l-1.4-.3-1.4-.2-1.3-.2-1.4-.2-1.4-.2-1.4-.2-1.3-.2-1.4-.2-1.4-.3-1.4-.3-1.3-.3-1.4-.5-1.4-.5-1.3-.6-1.4-.8-1.4-.8-1.4-.9-1.3-1-1.4-1-1.4-.9-1.4-.8-1.3-.6-1.4-.6-1.4-.4-1.3-.5-1.4-.5-1.4-.6-1.4-.8-1.3-.9-1.4-1-1.4-.9-1.4-.8-1.3-.8-1.4-.8-1.4-.6-1.3-.6-1.4-.4-1.4-.1-1.4 .2-1.3 .4-1.4 .7-1.4 .9-1.4 1-1.3 .8-1.4 .8-1.4 .6-1.4 .4-1.3 .2-1.4 .2-1.4 .1-1.3 .2-1.4 .1-1.4 .2-1.4 .3-1.3 .3-1.4 .3-1.4 .4-1.4 .2-1.3 .2-1.4 0-1.4-.2-1.3-.4-1.4-.7-1.4-.8-1.4-1-1.3-1.2-1.4-1.1-1.4-1-1.4-.9-1.3-.6-1.4-.2-1.4 0-1.4 .3-1.3 .6-1.4 .7-1.4 .7-1.3 .8-1.4 .6-1.4 .4-1.4 .3-1.3 .1-1.4-.1-1.4-.1-1.4-.1-1.3 0-1.4 .3 0 7.4z"/>
<path transform="translate(435.9 263.6)" d="M-17.8 -1.4l-1.4-.3-1.4-.2-1.4-.2-1.3-.2-1.4-.2-1.4-.2-1.4-.2-1.3-.2-1.4-.3-1.4-.3-1.4-.4-1.3-.4-1.4-.5-1.4-.6-1.3-.7-1.4-.9-1.4-.9-1.4-1.1-1.3-1.1-1.4-1-1.4-1-1.4-.9-1.3-.7-1.4-.6-1.4-.4-1.3-.4-1.4-.5-1.4-.6-1.4-.8-1.3-.9-1.4-1-1.4-.9-1.4-.8-1.3-.8-1.4-.6-1.4-.6-1.3-.6-1.4-.3-1.4-.2-1.4 .2-1.3 .4-1.4 .7-1.4 .9-1.4 .9-1.3 .8-1.4 .7-1.4 .6-1.4 .3-1.3 .2-1.4 .1-1.4 .1-1.3 .2-1.4 .1-1.4 .3-1.4 .3-1.3 .4-1.4 .4-1.4 .4-1.4 .4-1.3 .3-1.4 .2-1.4 .1-1.3-.2-1.4-.4-1.4-.5-1.4-.8-1.3-.8-1.4-.9-1.4-.9-1.4-.7-1.3-.5-1.4-.2-1.4-.1-1.4 .3-1.3 .3-1.4 .5-1.4 .6-1.3 .5-1.4 .4-1.4 .4-1.4 .2-1.3 0-1.4 .1-1.4-.1-1.4 .1-1.3 .1-1.4 .3 0 6.7z"/>
<path transform="translate(435.7 264.2)" d="M-16.5 -1.3l-1.3-.3-1.4-.2-1.4-.2-1.4-.2-1.3-.2-1.4-.2-1.4-.2-1.4-.3-1.3-.2-1.4-.3-1.4-.4-1.4-.3-1.3-.5-1.4-.6-1.4-.7-1.3-.8-1.4-1-1.4-1.1-1.4-1.2-1.3-1.1-1.4-1.2-1.4-1.1-1.4-.9-1.3-.7-1.4-.6-1.4-.4-1.3-.4-1.4-.4-1.4-.6-1.4-.8-1.3-.8-1.4-.9-1.4-.9-1.4-.8-1.3-.7-1.4-.6-1.4-.5-1.3-.5-1.4-.4-1.4-.1-1.4 .1-1.3 .4-1.4 .6-1.4 .8-1.4 .8-1.3 .7-1.4 .6-1.4 .5-1.4 .2-1.3 .2-1.4 0-1.4 .1-1.3 .1-1.4 .2-1.4 .2-1.4 .4-1.3 .5-1.4 .5-1.4 .6-1.4 .5-1.3 .5-1.4 .4-1.4 .3-1.3 .1-1.4-.2-1.4-.3-1.4-.4-1.3-.6-1.4-.7-1.4-.6-1.4-.5-1.3-.5-1.4-.2-1.4-.1-1.4 .1-1.3 .3-1.4 .3-1.4 .3-1.3 .3-1.4 .3-1.4 .2-1.4 .1-1.3 .1-1.4 0-1.4 .1-1.4 .1-1.3 .1-1.4 .3 0 6.3z"/>
<path transform="translate(435.4 264.8)" d="M-16.5 -1.3l-1.3-.4-1.4-.1-1.4-.2-1.4-.2-1.3-.3-1.4-.2-1.4-.2-1.4-.3-1.3-.3-1.4-.3-1.4-.4-1.4-.5-1.3-.5-1.4-.6-1.4-.8-1.3-1-1.4-1-1.4-1.2-1.4-1.3-1.3-1.3-1.4-1.2-1.4-1.2-1.4-.9-1.3-.7-1.4-.6-1.4-.3-1.3-.3-1.4-.4-1.4-.5-1.4-.7-1.3-.8-1.4-.9-1.4-.7-1.4-.8-1.3-.6-1.4-.5-1.4-.5-1.3-.5-1.4-.4-1.4-.2-1.4 .1-1.3 .2-1.4 .6-1.4 .6-1.4 .7-1.3 .6-1.4 .4-1.4 .3-1.4 .2-1.3 0-1.4 0-1.4 0-1.3 .1-1.4 .2-1.4 .3-1.4 .4-1.3 .6-1.4 .6-1.4 .7-1.4 .7-1.3 .7-1.4 .6-1.4 .5-1.3 .3-1.4 .2-1.4-.1-1.4-.2-1.3-.3-1.4-.4-1.4-.4-1.4-.4-1.3-.4-1.4-.2-1.4-.1-1.4 0-1.3 .1-1.4 .1-1.4 .2-1.3 .2-1.4 .1-1.4 .1-1.4 0-1.3 0-1.4 .1-1.4 0-1.4 .2-1.3 .2-1.4 .3 0 5.9z"/>
<path transform="translate(435.2 265.4)" d="M-15.1 -1.2l-1.4-.3-1.3-.2-1.4-.2-1.4-.2-1.4-.2-1.3-.3-1.4-.2-1.4-.3-1.4-.3-1.3-.3-1.4-.4-1.4-.4-1.4-.5-1.3-.6-1.4-.7-1.4-.9-1.3-1-1.4-1.2-1.4-1.2-1.4-1.4-1.3-1.4-1.4-1.3-1.4-1.1-1.4-1-1.3-.7-1.4-.4-1.4-.3-1.3-.2-1.4-.3-1.4-.5-1.4-.5-1.3-.7-1.4-.8-1.4-.7-1.4-.6-1.3-.6-1.4-.4-1.4-.5-1.3-.5-1.4-.4-1.4-.2-1.4-.1-1.3 .1-1.4 .3-1.4 .5-1.4 .5-1.3 .4-1.4 .2-1.4 .1-1.4 0-1.3 0-1.4-.1-1.4-.1-1.3 .1-1.4 .2-1.4 .3-1.4 .5-1.3 .7-1.4 .8-1.4 .8-1.4 .9-1.3 .8-1.4 .8-1.4 .7-1.3 .6-1.4 .4-1.4 .2-1.4 .1-1.3-.1-1.4-.2-1.4-.3-1.4-.2-1.3-.3-1.4-.1-1.4-.2-1.4 0-1.3-.1-1.4 0-1.4 .1-1.3 0-1.4 0-1.4-.1-1.4 0-1.3 0-1.4 0-1.4 .1-1.4 .1-1.3 .2-1.4 .3 0 5.7z"/>
<path transform="translate(434.9 266)" d="M-15.1 -1.2l-1.4-.4-1.3-.1-1.4-.2-1.4-.3-1.4-.2-1.3-.3-1.4-.2-1.4-.3-1.4-.4-1.3-.3-1.4-.4-1.4-.4-1.4-.6-1.3-.6-1.4-.8-1.4-1-1.3-1.1-1.4-1.2-1.4-1.4-1.4-1.4-1.3-1.4-1.4-1.3-1.4-1.1-1.4-1-1.3-.6-1.4-.4-1.4-.2-1.3-.1-1.4-.2-1.4-.3-1.4-.5-1.3-.6-1.4-.6-1.4-.6-1.4-.5-1.3-.5-1.4-.4-1.4-.5-1.3-.5-1.4-.4-1.4-.4-1.4-.2-1.3 0-1.4 .1-1.4 .2-1.4 .2-1.3 .1-1.4 0-1.4 0-1.4-.2-1.3-.2-1.4-.2-1.4-.1-1.3 0-1.4 .2-1.4 .4-1.4 .6-1.3 .7-1.4 .9-1.4 1-1.4 1.1-1.3 1-1.4 1-1.4 .9-1.3 .8-1.4 .6-1.4 .5-1.4 .3-1.3 .1-1.4 0-1.4 0-1.4-.2-1.3-.1-1.4-.2-1.4-.1-1.4-.1-1.3-.1-1.4-.1-1.4-.1-1.3-.2-1.4-.1-1.4-.1-1.4-.1-1.3 0-1.4 0-1.4 0-1.4 .1-1.3 .3-1.4 .3 0 5.4z"/>
<path transform="translate(434.7 266.6)" d="M-13.7 -1.1l-1.4-.3-1.4-.2-1.3-.2-1.4-.2-1.4-.2-1.4-.3-1.3-.3-1.4-.3-1.4-.3-1.4-.3-1.3-.4-1.4-.4-1.4-.5-1.4-.6-1.3-.7-1.4-.8-1.4-1-1.3-1.1-1.4-1.3-1.4-1.4-1.4-1.5-1.3-1.4-1.4-1.3-1.4-1.1-1.4-.9-1.3-.6-1.4-.3-1.4-.1-1.3 0-1.4-.1-1.4-.1-1.4-.4-1.3-.4-1.4-.5-1.4-.5-1.4-.4-1.3-.5-1.4-.4-1.4-.4-1.3-.5-1.4-.5-1.4-.5-1.4-.4-1.3-.3-1.4-.1-1.4-.1-1.4-.1-1.3-.1-1.4-.3-1.4-.3-1.4-.4-1.3-.3-1.4-.3-1.4-.2-1.3 0-1.4 .2-1.4 .5-1.4 .6-1.3 .9-1.4 1-1.4 1.1-1.4 1.2-1.3 1.2-1.4 1.2-1.4 1.1-1.3 1-1.4 .9-1.4 .6-1.4 .5-1.3 .4-1.4 .2-1.4 .1-1.4 0-1.3-.1-1.4-.1-1.4-.1-1.4-.2-1.3-.1-1.4-.2-1.4-.2-1.3-.2-1.4-.2-1.4-.2-1.4-.1-1.3-.1-1.4-.1-1.4 .1-1.4 .1-1.3 .2-1.4 .3 0 5.2z"/>
<path transform="translate(434.4 267.1)" d="M-13.7 -1.1l-1.4-.3-1.4-.2-1.3-.2-1.4-.3-1.4-.2-1.4-.3-1.3-.3-1.4-.3-1.4-.3-1.4-.4-1.3-.4-1.4-.4-1.4-.5-1.4-.6-1.3-.8-1.4-.8-1.4-1-1.3-1.2-1.4-1.3-1.4-1.4-1.4-1.5-1.3-1.4-1.4-1.2-1.4-1.1-1.4-.8-1.3-.5-1.4-.2-1.4-.1-1.3 .1-1.4 .1-1.4 0-1.4-.2-1.3-.3-1.4-.4-1.4-.4-1.4-.3-1.3-.4-1.4-.4-1.4-.4-1.3-.6-1.4-.6-1.4-.6-1.4-.6-1.3-.5-1.4-.5-1.4-.4-1.4-.4-1.3-.4-1.4-.5-1.4-.6-1.4-.6-1.3-.5-1.4-.4-1.4-.2-1.3-.1-1.4 .3-1.4 .4-1.4 .8-1.3 .9-1.4 1.2-1.4 1.2-1.4 1.4-1.3 1.4-1.4 1.3-1.4 1.3-1.3 1.2-1.4 1.1-1.4 .8-1.4 .7-1.3 .6-1.4 .3-1.4 .3-1.4 .1-1.3 0-1.4 0-1.4-.2-1.4-.1-1.3-.2-1.4-.2-1.4-.3-1.3-.3-1.4-.2-1.4-.2-1.4-.2-1.3-.2-1.4 0-1.4 0-1.4 .1-1.3 .2-1.4 .3 0 4.9z"/>
<path transform="translate(434.2 267.7)" d="M-13.7 -1.1l-1.4-.4-1.4-.2-1.3-.2-1.4-.2-1.4-.3-1.4-.2-1.3-.3-1.4-.4-1.4-.3-1.4-.4-1.3-.4-1.4-.5-1.4-.5-1.4-.6-1.3-.8-1.4-.9-1.4-1-1.3-1.2-1.4-1.3-1.4-1.4-1.4-1.4-1.3-1.3-1.4-1.2-1.4-1-1.4-.7-1.3-.4-1.4-.2-1.4 .1-1.3 .2-1.4 .2-1.4 .1-1.4 0-1.3-.2-1.4-.2-1.4-.3-1.4-.4-1.3-.3-1.4-.4-1.4-.5-1.3-.6-1.4-.7-1.4-.8-1.4-.8-1.3-.8-1.4-.7-1.4-.7-1.4-.7-1.3-.8-1.4-.8-1.4-.8-1.4-.8-1.3-.6-1.4-.6-1.4-.3-1.3 0-1.4 .2-1.4 .5-1.4 .8-1.3 1.1-1.4 1.2-1.4 1.4-1.4 1.5-1.3 1.6-1.4 1.5-1.4 1.4-1.3 1.4-1.4 1.2-1.4 1.1-1.4 .8-1.3 .7-1.4 .5-1.4 .4-1.4 .2-1.3 .1-1.4 0-1.4 0-1.4-.2-1.3-.2-1.4-.3-1.4-.2-1.3-.3-1.4-.3-1.4-.3-1.4-.2-1.3-.2-1.4 0-1.4 0-1.4 .1-1.3 .1-1.4 .3 0 4.6z"/>
<path transform="translate(433.9 268.3)" d="M-12.4 -.9l-1.3-.4-1.4-.2-1.4-.2-1.3-.2-1.4-.2-1.4-.3-1.4-.3-1.3-.3-1.4-.3-1.4-.4-1.4-.4-1.3-.4-1.4-.5-1.4-.6-1.4-.6-1.3-.7-1.4-.9-1.4-1-1.3-1.2-1.4-1.3-1.4-1.3-1.4-1.3-1.3-1.3-1.4-1.1-1.4-.9-1.4-.6-1.3-.3-1.4-.1-1.4 .2-1.3 .3-1.4 .3-1.4 .2-1.4 .1-1.3-.1-1.4-.1-1.4-.3-1.4-.2-1.3-.4-1.4-.4-1.4-.5-1.3-.7-1.4-.9-1.4-.9-1.4-1-1.3-1-1.4-1.1-1.4-1-1.4-1-1.3-1.1-1.4-1.1-1.4-1-1.4-1-1.3-.8-1.4-.6-1.4-.4-1.3-.1-1.4 .3-1.4 .5-1.4 .9-1.3 1.1-1.4 1.4-1.4 1.5-1.4 1.6-1.3 1.7-1.4 1.7-1.4 1.6-1.3 1.5-1.4 1.4-1.4 1.2-1.4 1-1.3 .8-1.4 .7-1.4 .4-1.4 .4-1.3 .1-1.4 .1-1.4 0-1.4-.2-1.3-.2-1.4-.2-1.4-.3-1.3-.3-1.4-.3-1.4-.3-1.4-.2-1.3-.2-1.4-.1-1.4 0-1.4 .1-1.3 .1-1.4 .2 0 4.3z"/>
<path transform="translate(433.7 268.9)" d="M-12.4 -.9l-1.3-.4-1.4-.2-1.4-.2-1.3-.2-1.4-.3-1.4-.2-1.4-.3-1.3-.4-1.4-.3-1.4-.4-1.4-.4-1.3-.4-1.4-.5-1.4-.6-1.4-.6-1.3-.7-1.4-.9-1.4-1-1.3-1.1-1.4-1.2-1.4-1.2-1.4-1.2-1.3-1.2-1.4-1-1.4-.8-1.4-.5-1.3-.2-1.4 0-1.4 .2-1.3 .4-1.4 .3-1.4 .3-1.4 .2-1.3 .1-1.4-.1-1.4-.2-1.4-.3-1.3-.3-1.4-.5-1.4-.6-1.3-.8-1.4-.9-1.4-1.1-1.4-1.2-1.3-1.3-1.4-1.3-1.4-1.3-1.4-1.3-1.3-1.4-1.4-1.3-1.4-1.3-1.4-1.1-1.3-1-1.4-.7-1.4-.4-1.3-.1-1.4 .2-1.4 .6-1.4 .9-1.3 1.2-1.4 1.5-1.4 1.6-1.4 1.8-1.3 1.8-1.4 1.8-1.4 1.7-1.3 1.7-1.4 1.5-1.4 1.3-1.4 1.1-1.3 1-1.4 .7-1.4 .6-1.4 .4-1.3 .3-1.4 .1-1.4 0-1.4-.1-1.3-.2-1.4-.3-1.4-.3-1.3-.3-1.4-.3-1.4-.2-1.4-.3-1.3-.1-1.4-.1-1.4-.1-1.4 .1-1.3 .1-1.4 .2 0 3.9z"/>
<path transform="translate(433.4 269.5)" d="M-12.4 -.9l-1.3-.4-1.4-.2-1.4-.2-1.3-.2-1.4-.3-1.4-.3-1.4-.3-1.3-.3-1.4-.3-1.4-.4-1.4-.4-1.3-.5-1.4-.5-1.4-.5-1.4-.6-1.3-.7-1.4-.9-1.4-.9-1.3-1-1.4-1.1-1.4-1.2-1.4-1.1-1.3-1-1.4-.9-1.4-.7-1.4-.4-1.3-.2-1.4 .1-1.4 .3-1.3 .4-1.4 .4-1.4 .4-1.4 .2-1.3 .1-1.4 0-1.4-.2-1.4-.2-1.3-.4-1.4-.5-1.4-.7-1.3-.9-1.4-1.1-1.4-1.2-1.4-1.4-1.3-1.5-1.4-1.5-1.4-1.6-1.4-1.6-1.3-1.5-1.4-1.6-1.4-1.4-1.4-1.3-1.3-1.1-1.4-.8-1.4-.5-1.3-.1-1.4 .2-1.4 .6-1.4 1-1.3 1.3-1.4 1.5-1.4 1.7-1.4 1.9-1.3 1.9-1.4 1.9-1.4 1.8-1.3 1.8-1.4 1.6-1.4 1.4-1.4 1.3-1.3 1-1.4 .9-1.4 .6-1.4 .5-1.3 .3-1.4 .2-1.4 0-1.4-.1-1.3-.1-1.4-.2-1.4-.3-1.3-.3-1.4-.3-1.4-.2-1.4-.3-1.3-.1-1.4-.1-1.4-.1-1.4 0-1.3 .1-1.4 .2 0 3.5z"/>
<path transform="translate(433.2 270.1)" d="M-12.4 -.9l-1.3-.4-1.4-.2-1.4-.2-1.3-.2-1.4-.3-1.4-.3-1.4-.3-1.3-.3-1.4-.4-1.4-.3-1.4-.5-1.3-.4-1.4-.5-1.4-.5-1.4-.6-1.3-.7-1.4-.7-1.4-.9-1.3-.9-1.4-1.1-1.4-1-1.4-1-1.3-.8-1.4-.8-1.4-.6-1.4-.3-1.3-.1-1.4 .1-1.4 .3-1.3 .4-1.4 .5-1.4 .3-1.4 .3-1.3 .1-1.4 0-1.4-.1-1.4-.3-1.3-.4-1.4-.6-1.4-.8-1.3-1-1.4-1.1-1.4-1.4-1.4-1.6-1.3-1.6-1.4-1.7-1.4-1.8-1.4-1.8-1.3-1.8-1.4-1.7-1.4-1.6-1.4-1.4-1.3-1.2-1.4-.9-1.4-.5-1.3-.1-1.4 .2-1.4 .7-1.4 1-1.3 1.3-1.4 1.5-1.4 1.8-1.4 2-1.3 1.9-1.4 2-1.4 2-1.3 1.8-1.4 1.7-1.4 1.5-1.4 1.3-1.3 1.2-1.4 .9-1.4 .7-1.4 .5-1.3 .4-1.4 .2-1.4 .1-1.4 0-1.3-.2-1.4-.2-1.4-.2-1.3-.3-1.4-.2-1.4-.3-1.4-.2-1.3-.1-1.4-.2-1.4 0-1.4 0-1.3 .1-1.4 .1 0 3.1z"/>
<path transform="translate(432.9 270.7)" d="M-12.4 -.9l-1.3-.4-1.4-.2-1.4-.2-1.3-.2-1.4-.3-1.4-.3-1.4-.3-1.3-.3-1.4-.3-1.4-.4-1.4-.4-1.3-.5-1.4-.4-1.4-.6-1.4-.5-1.3-.6-1.4-.7-1.4-.8-1.3-.9-1.4-.9-1.4-.9-1.4-.8-1.3-.8-1.4-.6-1.4-.5-1.4-.2-1.3-.1-1.4 .1-1.4 .3-1.3 .5-1.4 .4-1.4 .4-1.4 .2-1.3 .2-1.4 0-1.4-.2-1.4-.3-1.3-.5-1.4-.6-1.4-.9-1.3-1-1.4-1.3-1.4-1.5-1.4-1.6-1.3-1.8-1.4-1.9-1.4-2-1.4-1.9-1.3-2-1.4-1.8-1.4-1.7-1.4-1.5-1.3-1.3-1.4-.9-1.4-.6-1.3-.1-1.4 .2-1.4 .7-1.4 1-1.3 1.3-1.4 1.7-1.4 1.8-1.4 2-1.3 2-1.4 2.1-1.4 2-1.3 1.9-1.4 1.7-1.4 1.6-1.4 1.4-1.3 1.1-1.4 1-1.4 .8-1.4 .6-1.3 .4-1.4 .2-1.4 .1-1.4 0-1.3 0-1.4-.2-1.4-.2-1.3-.2-1.4-.3-1.4-.2-1.4-.2-1.3-.2-1.4-.1-1.4 0-1.4 0-1.3 0-1.4 .1 0 2.7z"/>
<path transform="translate(432.7 271.3)" d="M-12.4 -.9l-1.3-.4-1.4-.2-1.4-.2-1.3-.2-1.4-.3-1.4-.2-1.4-.3-1.3-.4-1.4-.3-1.4-.4-1.4-.4-1.3-.4-1.4-.5-1.4-.4-1.4-.6-1.3-.5-1.4-.7-1.4-.7-1.3-.7-1.4-.8-1.4-.8-1.4-.7-1.3-.6-1.4-.6-1.4-.3-1.4-.2-1.3-.1-1.4 .2-1.4 .3-1.3 .4-1.4 .4-1.4 .3-1.4 .3-1.3 .1-1.4 0-1.4-.2-1.4-.3-1.3-.6-1.4-.7-1.4-.9-1.3-1.1-1.4-1.4-1.4-1.5-1.4-1.8-1.3-1.9-1.4-2-1.4-2-1.4-2.1-1.3-2-1.4-2-1.4-1.8-1.4-1.6-1.3-1.3-1.4-.9-1.4-.6-1.3-.2-1.4 .3-1.4 .6-1.4 1.1-1.3 1.3-1.4 1.7-1.4 1.8-1.4 2-1.3 2.1-1.4 2.1-1.4 2-1.3 1.9-1.4 1.8-1.4 1.6-1.4 1.4-1.3 1.2-1.4 1-1.4 .9-1.4 .6-1.3 .4-1.4 .3-1.4 .2-1.4 0-1.3-.1-1.4-.1-1.4-.2-1.3-.2-1.4-.2-1.4-.2-1.4-.2-1.3-.1-1.4-.1-1.4-.1-1.4 0-1.3 0-1.4 .1 0 2.3z"/>
<path transform="translate(432.4 271.9)" d="M-12.4 -.9l-1.3-.4-1.4-.2-1.4-.2-1.3-.2-1.4-.2-1.4-.3-1.4-.3-1.3-.3-1.4-.3-1.4-.4-1.4-.4-1.3-.4-1.4-.4-1.4-.5-1.4-.5-1.3-.5-1.4-.6-1.4-.6-1.3-.6-1.4-.7-1.4-.6-1.4-.7-1.3-.5-1.4-.4-1.4-.3-1.4-.1-1.3 0-1.4 .1-1.4 .3-1.3 .3-1.4 .4-1.4 .3-1.4 .2-1.3 .1-1.4-.1-1.4-.2-1.4-.4-1.3-.5-1.4-.8-1.4-1-1.3-1.1-1.4-1.4-1.4-1.7-1.4-1.8-1.3-1.9-1.4-2.1-1.4-2.1-1.4-2.1-1.3-2.1-1.4-2-1.4-1.9-1.4-1.6-1.3-1.3-1.4-1-1.4-.6-1.3-.2-1.4 .3-1.4 .6-1.4 1.1-1.3 1.3-1.4 1.7-1.4 1.8-1.4 2-1.3 2.1-1.4 2.1-1.4 2-1.3 2-1.4 1.7-1.4 1.7-1.4 1.4-1.3 1.2-1.4 1-1.4 .9-1.4 .6-1.3 .5-1.4 .3-1.4 .2-1.4 0-1.3 0-1.4-.1-1.4-.1-1.3-.2-1.4-.2-1.4-.2-1.4-.1-1.3-.2-1.4-.1-1.4 0-1.4-.1-1.3 0-1.4 .1 0 1.9z"/>
<path transform="translate(432.2 272.5)" d="M-13.7 -1.1l-1.4-.4-1.4-.2-1.3-.2-1.4-.2-1.4-.3-1.4-.2-1.3-.3-1.4-.4-1.4-.3-1.4-.4-1.3-.4-1.4-.4-1.4-.4-1.4-.4-1.3-.5-1.4-.5-1.4-.6-1.3-.5-1.4-.6-1.4-.5-1.4-.5-1.3-.4-1.4-.4-1.4-.2-1.4-.1-1.3 0-1.4 .1-1.4 .3-1.3 .3-1.4 .2-1.4 .3-1.4 .2-1.3 0-1.4-.1-1.4-.2-1.4-.4-1.3-.6-1.4-.8-1.4-1-1.3-1.2-1.4-1.5-1.4-1.6-1.4-1.8-1.3-2-1.4-2.1-1.4-2.1-1.4-2.2-1.3-2.1-1.4-2-1.4-1.9-1.4-1.6-1.3-1.4-1.4-.9-1.4-.6-1.3-.2-1.4 .2-1.4 .7-1.4 1-1.3 1.3-1.4 1.7-1.4 1.8-1.4 2-1.3 2-1.4 2.1-1.4 2-1.3 1.9-1.4 1.8-1.4 1.6-1.4 1.4-1.3 1.2-1.4 1.1-1.4 .8-1.4 .6-1.3 .5-1.4 .3-1.4 .2-1.4 .1-1.3 0-1.4 0-1.4-.1-1.3-.2-1.4-.1-1.4-.2-1.4-.1-1.3-.2-1.4-.1-1.4-.1-1.4 0-1.3 0-1.4 0 0 1.6z"/>
<path transform="translate(431.9 273.1)" d="M-13.7 -1.1l-1.4-.3-1.4-.2-1.3-.2-1.4-.3-1.4-.2-1.4-.3-1.3-.3-1.4-.3-1.4-.3-1.4-.3-1.3-.4-1.4-.4-1.4-.4-1.4-.4-1.3-.4-1.4-.5-1.4-.4-1.3-.5-1.4-.5-1.4-.4-1.4-.4-1.3-.3-1.4-.3-1.4-.2-1.4-.1-1.3 0-1.4 .2-1.4 .2-1.3 .2-1.4 .2-1.4 .2-1.4 .1-1.3 0-1.4-.1-1.4-.3-1.4-.4-1.3-.7-1.4-.8-1.4-1-1.3-1.2-1.4-1.4-1.4-1.7-1.4-1.8-1.3-1.9-1.4-2.1-1.4-2.1-1.4-2.2-1.3-2.1-1.4-2-1.4-1.8-1.4-1.6-1.3-1.4-1.4-.9-1.4-.6-1.3-.2-1.4 .2-1.4 .7-1.4 1-1.3 1.3-1.4 1.6-1.4 1.7-1.4 2-1.3 2-1.4 2-1.4 2-1.3 1.8-1.4 1.8-1.4 1.5-1.4 1.4-1.3 1.2-1.4 1-1.4 .8-1.4 .7-1.3 .5-1.4 .3-1.4 .2-1.4 .1-1.3 .1-1.4-.1-1.4-.1-1.3-.1-1.4-.1-1.4-.2-1.4-.1-1.3-.1-1.4-.1-1.4-.1-1.4-.1-1.3 0-1.4 0 0 1.3z"/>
<path transform="translate(431.7 273.7)" d="M-13.7 -1.1l-1.4-.3-1.4-.2-1.3-.2-1.4-.2-1.4-.2-1.4-.3-1.3-.3-1.4-.3-1.4-.3-1.4-.3-1.3-.3-1.4-.4-1.4-.3-1.4-.4-1.3-.4-1.4-.4-1.4-.4-1.3-.4-1.4-.4-1.4-.3-1.4-.3-1.3-.3-1.4-.2-1.4-.2-1.4 0-1.3 0-1.4 .1-1.4 .1-1.3 .2-1.4 .2-1.4 .1-1.4 .1-1.3-.1-1.4-.2-1.4-.3-1.4-.4-1.3-.7-1.4-.8-1.4-1-1.3-1.2-1.4-1.4-1.4-1.6-1.4-1.8-1.3-1.9-1.4-2-1.4-2.1-1.4-2.1-1.3-2.1-1.4-1.9-1.4-1.8-1.4-1.6-1.3-1.2-1.4-1-1.4-.6-1.3-.1-1.4 .2-1.4 .6-1.4 .9-1.3 1.3-1.4 1.5-1.4 1.7-1.4 1.9-1.3 1.9-1.4 2-1.4 1.9-1.3 1.8-1.4 1.6-1.4 1.5-1.4 1.4-1.3 1.1-1.4 1-1.4 .8-1.4 .6-1.3 .5-1.4 .4-1.4 .2-1.4 .1-1.3 0-1.4 0-1.4 0-1.3-.1-1.4-.2-1.4-.1-1.4-.1-1.3-.1-1.4-.1-1.4-.1-1.4-.1-1.3 0-1.4 0 0 1z"/>
<path transform="translate(431.4 274.3)" d="M-15.1 -1.2l-1.4-.4-1.3-.1-1.4-.2-1.4-.3-1.4-.2-1.3-.3-1.4-.2-1.4-.3-1.4-.3-1.3-.3-1.4-.4-1.4-.3-1.4-.3-1.3-.4-1.4-.3-1.4-.3-1.3-.4-1.4-.3-1.4-.3-1.4-.3-1.3-.2-1.4-.1-1.4-.2-1.4 0-1.3 0-1.4 .1-1.4 .1-1.3 .1-1.4 .1-1.4 .1-1.4 0-1.3-.1-1.4-.2-1.4-.3-1.4-.5-1.3-.6-1.4-.9-1.4-.9-1.3-1.2-1.4-1.4-1.4-1.5-1.4-1.7-1.3-1.9-1.4-1.9-1.4-2-1.4-2-1.3-2-1.4-1.9-1.4-1.7-1.4-1.5-1.3-1.3-1.4-.9-1.4-.5-1.3-.2-1.4 .2-1.4 .6-1.4 .9-1.3 1.2-1.4 1.4-1.4 1.6-1.4 1.8-1.3 1.8-1.4 1.9-1.4 1.8-1.3 1.7-1.4 1.6-1.4 1.4-1.4 1.3-1.3 1.1-1.4 1-1.4 .7-1.4 .6-1.3 .5-1.4 .3-1.4 .2-1.4 .2-1.3 0-1.4 0-1.4 0-1.3-.1-1.4-.1-1.4-.1-1.4-.2-1.3-.1-1.4-.1-1.4-.1-1.4 0-1.3-.1-1.4 0 0 .8z"/>
<path transform="translate(431.2 274.9)" d="M-15.1 -1.2l-1.4-.3-1.3-.2-1.4-.2-1.4-.2-1.4-.2-1.3-.3-1.4-.2-1.4-.3-1.4-.3-1.3-.2-1.4-.3-1.4-.3-1.4-.3-1.3-.3-1.4-.3-1.4-.3-1.3-.3-1.4-.3-1.4-.2-1.4-.2-1.3-.2-1.4-.2-1.4-.1-1.4 0-1.3 0-1.4 0-1.4 .1-1.3 .1-1.4 0-1.4 .1-1.4-.1-1.3-.1-1.4-.2-1.4-.4-1.4-.4-1.3-.7-1.4-.8-1.4-.9-1.3-1.1-1.4-1.3-1.4-1.5-1.4-1.6-1.3-1.8-1.4-1.8-1.4-1.9-1.4-2-1.3-1.9-1.4-1.7-1.4-1.7-1.4-1.4-1.3-1.2-1.4-.8-1.4-.6-1.3-.1-1.4 .1-1.4 .6-1.4 .8-1.3 1.1-1.4 1.4-1.4 1.5-1.4 1.7-1.3 1.7-1.4 1.8-1.4 1.7-1.3 1.6-1.4 1.5-1.4 1.3-1.4 1.2-1.3 1.1-1.4 .8-1.4 .8-1.4 .5-1.3 .5-1.4 .3-1.4 .2-1.4 .1-1.3 .1-1.4 0-1.4-.1-1.3 0-1.4-.1-1.4-.1-1.4-.1-1.3-.2-1.4 0-1.4-.1-1.4-.1-1.3-.1-1.4 0 0 .6z"/>
<path transform="translate(430.9 275.5)" d="M-16.5 -1.3l-1.3-.4-1.4-.1-1.4-.2-1.4-.2-1.3-.3-1.4-.2-1.4-.2-1.4-.3-1.3-.3-1.4-.2-1.4-.3-1.4-.3-1.3-.2-1.4-.3-1.4-.2-1.3-.3-1.4-.2-1.4-.2-1.4-.2-1.3-.2-1.4-.1-1.4 0-1.4-.1-1.3 0-1.4 0-1.4 0-1.3 .1-1.4 0-1.4 0-1.4-.1-1.3-.1-1.4-.3-1.4-.3-1.4-.5-1.3-.6-1.4-.8-1.4-.9-1.3-1-1.4-1.3-1.4-1.4-1.4-1.5-1.3-1.6-1.4-1.8-1.4-1.8-1.4-1.8-1.3-1.7-1.4-1.7-1.4-1.5-1.4-1.4-1.3-1.1-1.4-.8-1.4-.5-1.3-.2-1.4 .2-1.4 .5-1.4 .8-1.3 1-1.4 1.3-1.4 1.4-1.4 1.5-1.3 1.6-1.4 1.6-1.4 1.6-1.3 1.5-1.4 1.4-1.4 1.2-1.4 1.2-1.3 .9-1.4 .8-1.4 .7-1.4 .5-1.3 .4-1.4 .3-1.4 .2-1.4 .2-1.3 0-1.4 0-1.4 0-1.3-.1-1.4-.1-1.4-.1-1.4-.1-1.3-.1-1.4-.1-1.4-.1-1.4 0-1.3-.1-1.4-.1 0 .5z"/>
<path transform="translate(430.7 276.1)" d="M-16.5 -1.3l-1.3-.3-1.4-.2-1.4-.2-1.4-.2-1.3-.2-1.4-.2-1.4-.2-1.4-.2-1.3-.3-1.4-.2-1.4-.3-1.4-.2-1.3-.2-1.4-.3-1.4-.2-1.3-.2-1.4-.2-1.4-.2-1.4-.1-1.3-.2-1.4-.1-1.4 0-1.4-.1-1.3 0-1.4 0-1.4 0-1.3 0-1.4 0-1.4-.1-1.4-.1-1.3-.2-1.4-.2-1.4-.4-1.4-.4-1.3-.6-1.4-.7-1.4-.9-1.3-1-1.4-1.1-1.4-1.3-1.4-1.4-1.3-1.5-1.4-1.6-1.4-1.7-1.4-1.7-1.3-1.6-1.4-1.6-1.4-1.4-1.4-1.2-1.3-1.1-1.4-.7-1.4-.5-1.3-.2-1.4 .2-1.4 .4-1.4 .7-1.3 1-1.4 1.1-1.4 1.3-1.4 1.4-1.3 1.5-1.4 1.5-1.4 1.4-1.3 1.4-1.4 1.3-1.4 1.1-1.4 1-1.3 .9-1.4 .8-1.4 .6-1.4 .4-1.3 .4-1.4 .3-1.4 .2-1.4 .1-1.3 0-1.4 0-1.4 0-1.3-.1-1.4 0-1.4-.1-1.4-.1-1.3-.1-1.4-.1-1.4-.1-1.4-.1-1.3-.1-1.4-.1 0 .4z"/>
<path transform="translate(430.4 276.6)" d="M-17.8 -1.4l-1.4-.3-1.4-.2-1.4-.2-1.3-.2-1.4-.2-1.4-.2-1.4-.2-1.3-.2-1.4-.2-1.4-.2-1.4-.3-1.3-.2-1.4-.2-1.4-.2-1.3-.2-1.4-.1-1.4-.2-1.4-.1-1.3-.1-1.4-.1-1.4-.1-1.4-.1-1.3 0-1.4 0-1.4 0-1.3-.1-1.4 0-1.4-.1-1.4-.1-1.3-.2-1.4-.3-1.4-.3-1.4-.4-1.3-.6-1.4-.7-1.4-.7-1.3-1-1.4-1-1.4-1.2-1.4-1.3-1.3-1.4-1.4-1.5-1.4-1.5-1.4-1.5-1.3-1.6-1.4-1.4-1.4-1.3-1.4-1.1-1.3-1-1.4-.7-1.4-.4-1.3-.2-1.4 .2-1.4 .3-1.4 .7-1.3 .8-1.4 1.1-1.4 1.2-1.4 1.2-1.3 1.4-1.4 1.3-1.4 1.3-1.3 1.2-1.4 1.2-1.4 1-1.4 .9-1.3 .8-1.4 .7-1.4 .5-1.4 .5-1.3 .3-1.4 .2-1.4 .2-1.4 .1-1.3 0-1.4 0-1.4 0-1.3-.1-1.4 0-1.4-.1-1.4-.1-1.3-.1-1.4-.1-1.4-.1-1.4-.1-1.3-.1-1.4-.1 0 .3z"/>
<path transform="translate(430.1 277.2)" d="M-19.2 -1.5l-1.4-.3-1.4-.2-1.3-.2-1.4-.2-1.4-.2-1.4-.1-1.3-.2-1.4-.2-1.4-.2-1.4-.2-1.3-.2-1.4-.2-1.4-.2-1.3-.2-1.4-.1-1.4-.2-1.4-.1-1.3-.1-1.4-.1-1.4 0-1.4-.1-1.3-.1-1.4 0-1.4 0-1.3-.1-1.4-.1-1.4-.1-1.4-.1-1.3-.2-1.4-.2-1.4-.4-1.4-.4-1.3-.5-1.4-.6-1.4-.7-1.3-.9-1.4-.9-1.4-1.1-1.4-1.2-1.3-1.3-1.4-1.3-1.4-1.4-1.4-1.4-1.3-1.4-1.4-1.3-1.4-1.1-1.4-1.1-1.3-.8-1.4-.7-1.4-.4-1.3-.1-1.4 .1-1.4 .3-1.4 .6-1.3 .7-1.4 1-1.4 1-1.4 1.1-1.3 1.2-1.4 1.2-1.4 1.2-1.3 1.1-1.4 1-1.4 .9-1.4 .8-1.3 .7-1.4 .6-1.4 .5-1.4 .4-1.3 .3-1.4 .2-1.4 .1-1.4 .1-1.3 0-1.4 0-1.4 0-1.3-.1-1.4-.1-1.4 0-1.4-.1-1.3-.1-1.4-.1-1.4 .1z"/>
<path transform="translate(429.9 277.8)" d="M-20.6 -1.6l-1.4-.3-1.3-.2-1.4-.2-1.4-.1-1.4-.2-1.3-.2-1.4-.2-1.4-.2-1.4-.1-1.3-.2-1.4-.2-1.4-.1-1.3-.2-1.4-.1-1.4-.2-1.4-.1-1.3-.1-1.4-.1-1.4-.1-1.4 0-1.3-.1-1.4 0-1.4-.1-1.3-.1-1.4-.1-1.4-.1-1.4-.1-1.3-.2-1.4-.3-1.4-.3-1.4-.3-1.3-.5-1.4-.6-1.4-.6-1.3-.8-1.4-.9-1.4-1-1.4-1-1.3-1.2-1.4-1.2-1.4-1.2-1.4-1.3-1.3-1.2-1.4-1.1-1.4-1.1-1.4-.9-1.3-.8-1.4-.6-1.4-.4-1.3-.1-1.4 .1-1.4 .3-1.4 .4-1.3 .7-1.4 .8-1.4 .9-1.4 1-1.3 1.1-1.4 1-1.4 1-1.3 1-1.4 .9-1.4 .8-1.4 .7-1.3 .6-1.4 .5-1.4 .5-1.4 .3-1.3 .2-1.4 .2-1.4 .1-1.4 .1-1.3 0-1.4 0-1.4-.1-1.3 0-1.4 .1z"/>
<path transform="translate(429.6 278.4)" d="M-22 -1.7l-1.3-.3-1.4-.2-1.4-.2-1.4-.1-1.3-.2-1.4-.2-1.4-.1-1.4-.2-1.3-.1-1.4-.2-1.4-.1-1.3-.2-1.4-.1-1.4-.1-1.4-.1-1.3-.1-1.4-.1-1.4-.1-1.4-.1-1.3-.1-1.4 0-1.4-.1-1.3-.1-1.4-.1-1.4-.1-1.4-.2-1.3-.1-1.4-.3-1.4-.3-1.4-.3-1.3-.5-1.4-.5-1.4-.6-1.3-.7-1.4-.7-1.4-.9-1.4-.9-1.3-1.1-1.4-1-1.4-1.1-1.4-1.1-1.3-1.1-1.4-1.1-1.4-.9-1.4-.8-1.3-.7-1.4-.6-1.4-.3-1.3-.1-1.4 0-1.4 .3-1.4 .4-1.3 .5-1.4 .7-1.4 .8-1.4 .9-1.3 .9-1.4 .9-1.4 .9-1.3 .8-1.4 .8-1.4 .7-1.4 .6-1.3 .5-1.4 .5-1.4 .3-1.4 .3-1.3 .2-1.4 .1-1.4 .1-1.4 .1-1.3 0-1.4 0-1.4-.1-1.3 .1z"/>
<path transform="translate(429.4 279)" d="M-23.3 -1.8l-1.4-.3-1.4-.2-1.4-.1-1.3-.2-1.4-.1-1.4-.2-1.4-.1-1.3-.2-1.4-.1-1.4-.2-1.3-.1-1.4-.1-1.4-.1-1.4-.1-1.3-.1-1.4-.1-1.4-.1-1.4-.1-1.3-.1-1.4-.1-1.4 0-1.3-.1-1.4-.1-1.4-.2-1.4-.1-1.3-.2-1.4-.2-1.4-.3-1.4-.3-1.3-.4-1.4-.5-1.4-.5-1.3-.6-1.4-.7-1.4-.8-1.4-.8-1.3-.9-1.4-1-1.4-.9-1.4-1-1.3-1-1.4-.9-1.4-.8-1.4-.7-1.3-.7-1.4-.4-1.4-.3-1.3-.2-1.4 .1-1.4 .2-1.4 .3-1.3 .5-1.4 .6-1.4 .6-1.4 .8-1.3 .7-1.4 .8-1.4 .8-1.3 .7-1.4 .6-1.4 .6-1.4 .5-1.3 .5-1.4 .4-1.4 .2-1.4 .3-1.3 .1-1.4 .2-1.4 0-1.4 0-1.3 0-1.4 0-1.4 .2z"/>
<path transform="translate(429.1 279.6)" d="M-26.1 -2l-1.4-.4-1.3-.1-1.4-.1-1.4-.2-1.4-.1-1.3-.2-1.4-.1-1.4-.1-1.3-.1-1.4-.2-1.4-.1-1.4-.1-1.3-.1-1.4-.1-1.4-.1-1.4-.1-1.3 0-1.4-.1-1.4-.1-1.3-.1-1.4-.1-1.4-.2-1.4-.1-1.3-.2-1.4-.2-1.4-.2-1.4-.3-1.3-.4-1.4-.4-1.4-.5-1.3-.5-1.4-.6-1.4-.7-1.4-.7-1.3-.8-1.4-.8-1.4-.9-1.4-.8-1.3-.9-1.4-.8-1.4-.7-1.4-.7-1.3-.5-1.4-.4-1.4-.3-1.3-.1-1.4 0-1.4 .1-1.4 .3-1.3 .4-1.4 .5-1.4 .6-1.4 .6-1.3 .6-1.4 .7-1.4 .6-1.3 .6-1.4 .5-1.4 .5-1.4 .5-1.3 .3-1.4 .3-1.4 .3-1.4 .1-1.3 .2-1.4 .1-1.4 0-1.4 0-1.3 0-1.4 .2z"/>
<path transform="translate(428.9 280.2)" d="M-28.8 -2.2l-1.4-.4-1.4-.1-1.4-.1-1.3-.2-1.4-.1-1.4-.1-1.3-.1-1.4-.1-1.4-.1-1.4-.2-1.3-.1-1.4-.1-1.4 0-1.4-.1-1.3-.1-1.4-.1-1.4-.1-1.3-.1-1.4-.1-1.4-.2-1.4-.1-1.3-.2-1.4-.2-1.4-.2-1.4-.3-1.3-.3-1.4-.4-1.4-.4-1.3-.5-1.4-.5-1.4-.6-1.4-.6-1.3-.7-1.4-.7-1.4-.7-1.4-.8-1.3-.7-1.4-.7-1.4-.6-1.4-.6-1.3-.5-1.4-.3-1.4-.3-1.3-.1-1.4 0-1.4 .1-1.4 .2-1.3 .3-1.4 .4-1.4 .5-1.4 .5-1.3 .5-1.4 .5-1.4 .6-1.3 .5-1.4 .4-1.4 .4-1.4 .4-1.3 .2-1.4 .3-1.4 .2-1.4 .1-1.3 .1-1.4 .1-1.4 0-1.4 0-1.3 .2z"/>
<path transform="translate(428.6 280.8)" d="M-33 -2.5l-1.3-.4-1.4-.1-1.4-.1-1.3-.1-1.4-.1-1.4-.1-1.4-.2-1.3-.1-1.4-.1-1.4 0-1.4-.1-1.3-.1-1.4-.1-1.4-.1-1.3-.1-1.4-.2-1.4-.1-1.4-.1-1.3-.2-1.4-.2-1.4-.2-1.4-.2-1.3-.3-1.4-.3-1.4-.4-1.3-.4-1.4-.5-1.4-.5-1.4-.6-1.3-.5-1.4-.7-1.4-.6-1.4-.6-1.3-.6-1.4-.6-1.4-.6-1.4-.5-1.3-.4-1.4-.3-1.4-.2-1.3-.2-1.4 0-1.4 .1-1.4 .1-1.3 .3-1.4 .3-1.4 .4-1.4 .4-1.3 .4-1.4 .4-1.4 .5-1.3 .3-1.4 .4-1.4 .3-1.4 .3-1.3 .2-1.4 .2-1.4 .2-1.4 .1-1.3 0-1.4 0-1.4 0-1.4 0-1.3 .2z"/>
<path transform="translate(428.4 281.4)" d="M-56.3 -4.3l-1.4-.4-1.3-.1-1.4-.2-1.4-.2-1.4-.2-1.3-.3-1.4-.3-1.4-.3-1.3-.3-1.4-.4-1.4-.5-1.4-.5-1.3-.5-1.4-.5-1.4-.5-1.4-.6-1.3-.5-1.4-.5-1.4-.5-1.4-.4-1.3-.4-1.4-.3-1.4-.2-1.3-.1-1.4 0-1.4 0-1.4 .1-1.3 .2-1.4 .3-1.4 .3-1.4 .3-1.3 .3-1.4 .3-1.4 .4-1.3 .3-1.4 .3-1.4 .2-1.4 .2-1.3 .2-1.4 .1-1.4 .1-1.4 .1-1.3 0-1.4 0-1.4 0-1.4 .2z"/>
<path transform="translate(428.1 282)" d="M-57.7 -4.4l-1.3-.4-1.4-.1-1.4-.2-1.4-.2-1.3-.2-1.4-.3-1.4-.3-1.3-.3-1.4-.3-1.4-.4-1.4-.4-1.3-.5-1.4-.4-1.4-.5-1.4-.4-1.3-.5-1.4-.4-1.4-.4-1.4-.4-1.3-.3-1.4-.3-1.4-.1-1.3-.2-1.4 0-1.4 0-1.4 .1-1.3 .1-1.4 .2-1.4 .2-1.4 .3-1.3 .2-1.4 .3-1.4 .2-1.3 .2-1.4 .3-1.4 .1-1.4 .2-1.3 .1-1.4 .1-1.4 .1-1.4 0-1.3 0-1.4 0-1.4 .2z"/>
<path transform="translate(427.9 282.6)" d="M-59 -4.5l-1.4-.4-1.4-.1-1.4-.2-1.3-.2-1.4-.2-1.4-.3-1.3-.3-1.4-.3-1.4-.3-1.4-.3-1.3-.4-1.4-.4-1.4-.4-1.4-.4-1.3-.4-1.4-.3-1.4-.4-1.4-.3-1.3-.3-1.4-.2-1.4-.2-1.3-.1-1.4-.1-1.4 0-1.4 .1-1.3 .1-1.4 .1-1.4 .2-1.4 .1-1.3 .2-1.4 .2-1.4 .2-1.3 .1-1.4 .2-1.4 .1-1.4 .1-1.3 .1-1.4 .1-1.4 0-1.4 0-1.3 0-1.4 .2z"/>
<path transform="translate(427.6 283.2)" d="M-60.4 -4.6l-1.4-.4-1.4-.1-1.3-.2-1.4-.2-1.4-.2-1.3-.3-1.4-.2-1.4-.3-1.4-.3-1.3-.3-1.4-.4-1.4-.3-1.4-.3-1.3-.4-1.4-.3-1.4-.3-1.4-.3-1.3-.2-1.4-.2-1.4-.2-1.3-.1-1.4 0-1.4-.1-1.4 0-1.3 .1-1.4 .1-1.4 .1-1.4 .1-1.3 .1-1.4 .1-1.4 .2-1.3 .1-1.4 .1-1.4 .1-1.4 0-1.3 .1-1.4 0-1.4 0-1.4 0-1.3-.1-1.4 .2z"/>
<path transform="translate(427.4 283.8)" d="M-63.2 -4.8l-1.3-.4-1.4-.2-1.4-.2-1.3-.2-1.4-.3-1.4-.2-1.4-.3-1.3-.2-1.4-.3-1.4-.3-1.4-.3-1.3-.3-1.4-.2-1.4-.3-1.4-.2-1.3-.3-1.4-.1-1.4-.2-1.3-.1-1.4-.1-1.4 0-1.4 0-1.3 0-1.4 0-1.4 .1-1.4 .1-1.3 0-1.4 .1-1.4 .1-1.3 .1-1.4 0-1.4 .1-1.4 0-1.3 0-1.4 0-1.4 0-1.4-.1-1.3 .2z"/>
<path transform="translate(427.1 284.4)" d="M-64.5 -4.9l-1.4-.4-1.4-.2-1.3-.2-1.4-.2-1.4-.2-1.4-.2-1.3-.3-1.4-.2-1.4-.3-1.4-.2-1.3-.3-1.4-.2-1.4-.2-1.4-.2-1.3-.2-1.4-.2-1.4-.1-1.3-.1-1.4-.1-1.4-.1-1.4 0-1.3 0-1.4 0-1.4 0-1.4 .1-1.3 0-1.4 0-1.4 .1-1.3 0-1.4 0-1.4 0-1.4 0-1.3 0-1.4 0-1.4-.1-1.4 .2z"/>
<path transform="translate(426.9 285)" d="M-65.9 -5l-1.4-.4-1.3-.2-1.4-.2-1.4-.2-1.4-.2-1.3-.2-1.4-.2-1.4-.2-1.4-.2-1.3-.2-1.4-.2-1.4-.2-1.4-.2-1.3-.2-1.4-.1-1.4-.2-1.3-.1-1.4-.1-1.4 0-1.4-.1-1.3 0-1.4 0-1.4 0-1.4 0-1.3 0-1.4 0-1.4 0-1.3 0-1.4 0-1.4 0-1.4-.1-1.3 0-1.4 0-1.4 .1z"/>
<path transform="translate(426.6 285.6)" d="M-67.3 -5.1l-1.3-.4-1.4-.2-1.4-.1-1.4-.2-1.3-.2-1.4-.2-1.4-.2-1.4-.2-1.3-.2-1.4-.1-1.4-.2-1.4-.2-1.3-.1-1.4-.2-1.4-.1-1.3-.1-1.4-.1-1.4-.1-1.4 0-1.3-.1-1.4 0-1.4 0-1.4-.1-1.3 0-1.4 0-1.4 0-1.3-.1-1.4 0-1.4 0-1.4-.1-1.3 .2z"/>
<path transform="translate(426.4 286.2)" d="M-68.6 -5.2l-1.4-.4-1.4-.1-1.4-.2-1.3-.2-1.4-.1-1.4-.2-1.4-.2-1.3-.1-1.4-.2-1.4-.2-1.4-.1-1.3-.2-1.4-.1-1.4-.1-1.3-.1-1.4-.1-1.4-.1-1.4-.1-1.3 0-1.4-.1-1.4 0-1.4-.1-1.3 0-1.4-.1-1.4 0-1.3 0-1.4-.1-1.4 0-1.4 .1z"/>
<path transform="translate(426.1 286.7)" d="M-71.4 -5.5l-1.4-.3-1.3-.2-1.4-.1-1.4-.2-1.4-.1-1.3-.2-1.4-.1-1.4-.2-1.4-.1-1.3-.1-1.4-.2-1.4-.1-1.3-.1-1.4-.1-1.4-.1-1.4-.1-1.3 0-1.4-.1-1.4-.1-1.4 0-1.3-.1-1.4 0-1.4-.1-1.3-.1-1.4 .2z"/>
<path transform="translate(425.9 287.3)" d="M-74.1 -5.7l-1.4-.3-1.4-.2-1.4-.1-1.3-.1-1.4-.2-1.4-.1-1.4-.1-1.3-.2-1.4-.1-1.4-.1-1.3-.1-1.4-.1-1.4-.1-1.4-.1-1.3-.1-1.4 0-1.4-.1-1.4-.1-1.3-.1-1.4 0-1.4 .1z"/>
<path transform="translate(425.6 287.9)" d="M-78.3 -6l-1.3-.3-1.4-.2-1.4-.1-1.4-.1-1.3-.1-1.4-.2-1.4-.1-1.3-.1-1.4-.1-1.4-.1-1.4-.1-1.3-.1-1.4 0-1.4-.1-1.4-.1-1.3 .1z"/>
<path transform="translate(425.4 288.5)" d="M-83.8 -6.4l-1.3-.4-1.4-.1-1.4-.1-1.3-.1-1.4-.1-1.4-.1-1.4 .2z"/></g>
<g stroke="#4a4a4a" stroke-width=".6" fill="none"><path d="M285.7 280.9L285.7 221.9"/><path d="M285.7 280.9L424.1 291.5"/><path d="M424.1 291.5L449.3 232.1"/><path d="M285.7 280.9L283.7 280.9"/><path d="M285.7 269.1L283.7 269.1"/><path d="M285.7 257.3L283.7 257.3"/><path d="M285.7 245.5L283.7 245.5"/><path d="M285.7 233.7L283.7 233.7"/><path d="M285.7 221.9L283.7 221.9"/><path d="M286.8 281L286 282.8"/><path d="M314.3 283.1L313.5 284.9"/><path d="M341.7 285.2L340.9 287"/><path d="M369.2 287.3L368.4 289.1"/><path d="M396.6 289.4L395.9 291.2"/><path d="M424.1 291.5L423.3 293.3"/><path d="M424.1 291.5L426.7 291.7"/><path d="M429.1 279.6L431.7 279.8"/><path d="M434.2 267.7L436.8 267.9"/><path d="M439.2 255.9L441.8 256.1"/><path d="M444.3 244L446.9 244.2"/><path d="M449.3 232.1L451.9 232.3"/></g>
<g font-size="5" fill="#3a3a3a"><text x="281.1" y="282.7" text-anchor="end">0</text><text x="281.1" y="270.9" text-anchor="end">50</text><text x="281.1" y="259.1" text-anchor="end">100</text><text x="281.1" y="247.3" text-anchor="end">150</text><text x="281.1" y="235.5" text-anchor="end">200</text><text x="281.1" y="223.7" text-anchor="end">250</text><text x="285.2" y="292.2" text-anchor="end">100</text><text x="312.7" y="294.3" text-anchor="end">80</text><text x="340.1" y="296.4" text-anchor="end">60</text><text x="367.6" y="298.5" text-anchor="end">40</text><text x="395" y="300.6" text-anchor="end">20</text><text x="422.5" y="302.7" text-anchor="end">0</text><text x="430" y="296.8">0</text><text x="435" y="284.9">20</text><text x="440.1" y="273">40</text><text x="445.1" y="261.2">60</text><text x="450.2" y="249.3">80</text><text x="455.2" y="237.4">100</text></g>
<path d="M345.1 226.4C344.3 227.2 342.1 229.6 340.5 231.5C338.9 233.4 336.9 236 335.4 237.9C333.9 239.8 333.1 241.1 331.6 243C330.1 244.9 328.1 247.6 326.5 249.3C324.9 251 323.2 251.8 322.2 253.1C321.2 254.4 320.6 255.7 320.7 257C320.8 258.3 321.3 259.5 322.7 260.8C324.1 262.1 326.6 263.3 329.1 264.6C331.7 265.9 334.4 267 338 268.4C341.6 269.8 346.1 271.4 350.7 273C355.3 274.6 360.8 276.5 365.9 278.1C371 279.7 376.1 281.1 381.2 282.4C386.3 283.7 391.4 284.6 396.5 285.7C401.6 286.8 407.2 287.8 411.7 288.7C416.2 289.6 421.7 290.4 423.7 290.8" fill="none" stroke="#dd1431" stroke-width="1.4" stroke-linecap="round" stroke-linejoin="round"/>
<circle cx="333.4" cy="240.3" r="1.3" fill="none" stroke="#4f9a4c" stroke-width=".5"/>
<circle cx="326.5" cy="249.3" r="1.3" fill="none" stroke="#4f9a4c" stroke-width=".5"/>
<circle cx="323.5" cy="261.5" r="1.3" fill="none" stroke="#4f9a4c" stroke-width=".5"/>
<circle cx="345.1" cy="226.4" r="1.3" fill="#f5e626" stroke="#8a6a1e" stroke-width=".4"/>
<rect x="422.5" y="289.5" width="3" height="3" fill="#f2f01e" stroke="#a9b51e" stroke-width=".3"/>
<text x="368" y="323.4" text-anchor="middle" class="cap">(d) PSO</text>
</g>
<g id="plot-e">
<g stroke="#e3e3e3" stroke-width=".6" fill="none"><path d="M15.8 469.7L73.1 415.6"/><path d="M73.1 415.6L179 446.2"/><path d="M15.8 448.8L73.1 394.7"/><path d="M73.1 394.7L179 425.3"/><path d="M15.8 427.9L73.1 373.8"/><path d="M73.1 373.8L179 404.4"/><path d="M15.8 425.1L73.1 371"/><path d="M73.1 371L179 401.7"/><path d="M15.8 469.7L15.8 425.1"/><path d="M44.4 442.6L44.4 398.1"/><path d="M73.1 415.6L73.1 371"/><path d="M179 446.2L179 401.7"/><path d="M158 440.1L158 395.6"/><path d="M137 434L137 389.5"/><path d="M115.9 428L115.9 383.4"/><path d="M94.9 421.9L94.9 377.4"/><path d="M73.9 415.8L73.9 371.3"/><path d="M73.1 415.6L73.1 371"/></g>
<polygon fill="#3e26a8" points="121.7,500.3 16.6,469.9 73.9,415.8 179,446.2"/>
<g fill="url(#ge)"><path transform="translate(179 446.2)" d="M-34.7 -10l-1-.6-1.1-.4-1-.5-1.1-.4-1-.6-1.1-.6-1-.8-1.1-.8-1-1.1-1.1-1.2-1-1.4-1.1-1.6-1-1.9-1.1-2.1-1-2.3-1.1-2.4-1.1-2.5-1-2.6-1.1-2.4-1-2.2-1.1-1.9-1-1.5-1.1-1.1-1-.5-1.1 0-1 .6-1.1 1-1 1.4-1.1 1.7-1 1.9-1.1 2-1 1.9-1.1 1.8-1 1.7-1.1 1.5-1 1.2-1.1 1-1 .8-1.1 .5-1 .4-1.1 .2-1 .1-1.1-.1-1-.1-1.1-.1-1-.2-1.1-.1z"/>
<path transform="translate(178.4 446.7)" d="M-33.6 -9.7l-1.1-.6-1-.4-1.1-.4-1-.4-1.1-.6-1-.5-1.1-.7-1-.7-1.1-.9-1-1-1.1-1.2-1-1.4-1.1-1.6-1-1.8-1.1-2.1-1-2.2-1.1-2.3-1-2.4-1.1-2.4-1.1-2.4-1-2.1-1.1-1.8-1-1.4-1.1-1-1-.4-1.1 0-1 .6-1.1 .9-1 1.4-1.1 1.6-1 1.8-1.1 1.8-1 1.9-1.1 1.7-1 1.6-1.1 1.4-1 1.1-1.1 1-1 .7-1.1 .5-1 .4-1.1 .2-1 0-1.1 0-1-.1-1.1-.1-1-.2-1.1-.1z"/>
<path transform="translate(177.9 447.3)" d="M-32.6 -9.4l-1-.6-1.1-.4-1-.4-1.1-.4-1-.5-1.1-.5-1-.6-1.1-.7-1-.7-1.1-.9-1-1-1.1-1.2-1-1.4-1.1-1.6-1-1.8-1.1-1.9-1-2.1-1.1-2.3-1-2.3-1.1-2.3-1.1-2.2-1-1.9-1.1-1.7-1-1.4-1.1-.8-1-.4-1.1 0-1 .5-1.1 1-1 1.3-1.1 1.5-1 1.7-1.1 1.7-1 1.7-1.1 1.7-1 1.4-1.1 1.3-1 1.1-1.1 .9-1 .7-1.1 .5-1 .3-1.1 .2-1 .1-1.1 0-1-.1-1.1-.2-1-.2-1.1 0z"/>
<path transform="translate(177.3 447.8)" d="M-31.5 -9.1l-1.1-.6-1-.3-1.1-.4-1-.5-1.1-.4-1-.5-1.1-.6-1-.6-1.1-.7-1-.8-1.1-.9-1-1.1-1.1-1.2-1-1.3-1.1-1.6-1-1.7-1.1-1.9-1-2.1-1.1-2.1-1.1-2.2-1-2.2-1.1-2-1-1.9-1.1-1.6-1-1.2-1.1-.8-1-.3-1.1 .1-1 .5-1.1 .9-1 1.2-1.1 1.5-1 1.6-1.1 1.6-1 1.6-1.1 1.6-1 1.4-1.1 1.2-1 1-1.1 .9-1 .6-1.1 .5-1 .3-1.1 .2-1 0-1.1 0-1-.1-1.1-.1-1-.2-1.1 0z"/>
<path transform="translate(176.7 448.4)" d="M-30.5 -8.8l-1-.5-1.1-.4-1-.4-1.1-.4-1-.5-1.1-.5-1-.5-1.1-.6-1-.7-1.1-.7-1-.9-1.1-.9-1-1.1-1.1-1.2-1-1.4-1.1-1.5-1-1.7-1.1-1.9-1-2-1.1-2.1-1.1-2.1-1-2.1-1.1-1.9-1-1.8-1.1-1.5-1-1.1-1.1-.7-1-.3-1.1 .2-1 .6-1.1 .9-1 1.2-1.1 1.4-1 1.5-1.1 1.6-1 1.5-1.1 1.5-1 1.3-1.1 1.1-1 1-1.1 .8-1 .6-1.1 .5-1 .3-1.1 .2-1 .1-1.1 0-1-.1-1.1-.2-1-.1-1.1-.3-1 0z"/>
<path transform="translate(176.1 448.9)" d="M-29.4 -8.5l-1.1-.5-1-.4-1.1-.4-1-.4-1.1-.5-1-.5-1.1-.5-1-.6-1.1-.6-1-.7-1.1-.8-1-.9-1.1-1-1-1.1-1.1-1.3-1-1.4-1.1-1.5-1-1.8-1.1-1.8-1-2-1.1-2.1-1-2.1-1.1-2-1.1-1.9-1-1.7-1.1-1.4-1-1-1.1-.6-1-.1-1.1 .2-1 .6-1.1 1-1 1.2-1.1 1.4-1 1.5-1.1 1.5-1 1.5-1.1 1.4-1 1.3-1.1 1.1-1 .9-1.1 .8-1 .6-1.1 .5-1 .3-1.1 .2-1 .1-1.1 0-1-.1-1.1-.1-1-.2-1.1-.2-1 0z"/>
<path transform="translate(175.6 449.4)" d="M-29.4 -8.5l-1.1-.6-1-.4-1.1-.4-1-.4-1.1-.5-1-.6-1.1-.5-1-.7-1.1-.7-1-.7-1.1-.9-1-.9-1.1-1.1-1-1.1-1.1-1.4-1-1.4-1.1-1.6-1-1.8-1.1-1.9-1-2-1.1-2.1-1.1-2.1-1-2.1-1.1-1.9-1-1.6-1.1-1.3-1-.9-1.1-.5-1-.1-1.1 .3-1 .8-1.1 1-1 1.3-1.1 1.5-1 1.5-1.1 1.5-1 1.5-1.1 1.4-1 1.2-1.1 1.1-1 1-1.1 .7-1 .6-1.1 .5-1 .3-1.1 .2-1 .1-1.1 .1-1-.1-1.1-.1-1-.1-1.1-.2-1-.3-1.1 0z"/>
<path transform="translate(175 450)" d="M-28.4 -8.2l-1-.6-1.1-.4-1-.4-1.1-.4-1-.5-1.1-.5-1-.6-1.1-.6-1-.7-1.1-.7-1-.9-1.1-.9-1-1-1.1-1.2-1-1.2-1.1-1.4-1-1.6-1.1-1.7-1-1.8-1.1-2-1-2.1-1.1-2.2-1.1-2.2-1-2.1-1.1-1.9-1-1.6-1.1-1.3-1-.9-1.1-.4-1 .1-1.1 .5-1 .9-1.1 1.2-1 1.4-1.1 1.5-1 1.7-1.1 1.5-1 1.6-1.1 1.4-1 1.2-1.1 1.1-1 1-1.1 .8-1 .6-1.1 .5-1 .3-1.1 .3-1 .1-1.1 0-1 0-1.1-.1-1-.1-1.1-.2-1-.2-1.1 0z"/>
<path transform="translate(174.4 450.5)" d="M-27.3 -7.9l-1.1-.5-1-.4-1.1-.4-1-.5-1.1-.4-1-.6-1.1-.5-1-.7-1.1-.6-1-.8-1.1-.8-1-.9-1.1-1-1-1.1-1.1-1.2-1-1.4-1.1-1.5-1-1.6-1.1-1.8-1-2-1.1-2.1-1-2.3-1.1-2.3-1-2.3-1.1-2.2-1.1-2-1-1.8-1.1-1.2-1-.9-1.1-.3-1 .3-1.1 .6-1 1.1-1.1 1.4-1 1.6-1.1 1.7-1 1.8-1.1 1.7-1 1.6-1.1 1.5-1 1.3-1.1 1.1-1 1-1.1 .8-1 .7-1.1 .5-1 .4-1.1 .3-1 .1-1.1 .1-1 0-1.1-.1-1-.1-1.1-.1-1-.2-1.1-.3-1 0z"/>
<path transform="translate(173.8 451.1)" d="M-27.3 -7.9l-1.1-.6-1-.4-1.1-.4-1-.5-1.1-.5-1-.6-1.1-.6-1-.6-1.1-.8-1-.8-1.1-.9-1-1-1.1-1.1-1-1.2-1.1-1.3-1-1.4-1.1-1.7-1-1.7-1.1-2-1-2.1-1.1-2.3-1-2.4-1.1-2.5-1.1-2.5-1-2.4-1.1-2.2-1-1.8-1.1-1.3-1-.8-1.1-.2-1 .4-1.1 .9-1 1.3-1.1 1.6-1 1.9-1.1 1.9-1 2-1.1 1.8-1 1.7-1.1 1.6-1 1.4-1.1 1.2-1 1.1-1.1 .8-1 .7-1.1 .6-1 .4-1.1 .3-1 .2-1.1 .2-1 0-1.1-.1-1-.1-1.1-.1-1-.2-1.1-.2-1 0z"/>
<path transform="translate(173.3 451.6)" d="M-26.3 -7.6l-1-.5-1.1-.4-1-.5-1.1-.4-1-.5-1.1-.6-1-.6-1.1-.6-1-.8-1.1-.8-1-.9-1.1-1-1-1-1.1-1.2-1-1.3-1.1-1.4-1-1.6-1.1-1.7-1-1.9-1.1-2.1-1-2.3-1.1-2.5-1-2.6-1.1-2.7-1.1-2.8-1-2.6-1.1-2.3-1-1.9-1.1-1.4-1-.8-1.1-.1-1 .5-1.1 1.2-1 1.6-1.1 1.9-1 2.1-1.1 2.2-1 2.1-1.1 2.1-1 1.9-1.1 1.7-1 1.5-1.1 1.3-1 1.1-1.1 .9-1 .8-1.1 .6-1 .5-1.1 .3-1 .3-1.1 .1-1 .1-1.1 0-1-.1-1.1-.1-1-.2-1.1-.2-1 0z"/>
<path transform="translate(172.7 452.2)" d="M-26.3 -7.6l-1-.6-1.1-.4-1-.4-1.1-.5-1-.6-1.1-.6-1-.6-1.1-.7-1-.8-1.1-.9-1-1-1.1-1-1-1.2-1.1-1.3-1-1.3-1.1-1.5-1-1.7-1.1-1.8-1-2.1-1.1-2.2-1-2.5-1.1-2.6-1-2.9-1.1-3-1.1-3-1-2.8-1.1-2.5-1-2.1-1.1-1.5-1-.8-1.1 0-1 .7-1.1 1.4-1 1.9-1.1 2.2-1 2.4-1.1 2.5-1 2.3-1.1 2.3-1 2.1-1.1 1.8-1 1.6-1.1 1.4-1 1.2-1.1 1-1 .8-1.1 .7-1 .5-1.1 .4-1 .3-1.1 .2-1 .1-1.1 0-1-.1-1.1-.1-1-.2-1.1-.1-1-.3-1.1 0z"/>
<path transform="translate(172.1 452.7)" d="M-25.2 -7.3l-1.1-.5-1-.4-1.1-.5-1-.4-1.1-.5-1-.6-1.1-.7-1-.7-1.1-.7-1-.9-1.1-1-1-1-1.1-1.1-1-1.3-1.1-1.3-1-1.5-1.1-1.6-1-1.7-1.1-2-1-2.1-1.1-2.4-1-2.6-1.1-2.8-1-3.1-1.1-3.2-1-3.2-1.1-3.1-1.1-2.7-1-2.2-1.1-1.6-1-.8-1.1 .1-1 .9-1.1 1.6-1 2.1-1.1 2.5-1 2.7-1.1 2.7-1 2.6-1.1 2.5-1 2.2-1.1 2-1 1.7-1.1 1.5-1 1.3-1.1 1-1 .9-1.1 .7-1 .6-1.1 .4-1 .4-1.1 .2-1 .1-1.1 0-1 0-1.1-.1-1-.2-1.1-.2-1-.2-1.1 0z"/>
<path transform="translate(171.6 453.2)" d="M-25.2 -7.3l-1.1-.6-1-.4-1.1-.4-1-.5-1.1-.6-1-.6-1.1-.7-1-.7-1.1-.9-1-.9-1.1-1-1-1.1-1.1-1.2-1-1.3-1.1-1.5-1-1.5-1.1-1.6-1-1.9-1.1-2-1-2.2-1.1-2.5-1-2.7-1.1-3-1-3.2-1.1-3.4-1-3.4-1.1-3.3-1.1-2.9-1-2.3-1.1-1.6-1-.8-1.1 .2-1 1-1.1 1.7-1 2.4-1.1 2.7-1 2.9-1.1 3-1 2.8-1.1 2.6-1 2.4-1.1 2.1-1 1.8-1.1 1.6-1 1.3-1.1 1.1-1 1-1.1 .7-1 .6-1.1 .5-1 .3-1.1 .3-1 .1-1.1 0-1 0-1.1-.1-1-.1-1.1-.2-1-.2-1.1 0z"/>
<path transform="translate(171 453.8)" d="M-25.2 -7.3l-1.1-.6-1-.4-1.1-.5-1-.5-1.1-.6-1-.7-1.1-.7-1-.8-1.1-.9-1-1-1.1-1.1-1-1.1-1.1-1.3-1-1.4-1.1-1.4-1-1.6-1.1-1.7-1-1.9-1.1-2-1-2.3-1.1-2.5-1-2.8-1.1-3.1-1-3.3-1.1-3.5-1.1-3.6-1-3.3-1.1-3-1-2.5-1.1-1.6-1-.8-1.1 .2-1 1.1-1.1 1.9-1 2.5-1.1 2.9-1 3.1-1.1 3.1-1 3-1.1 2.7-1 2.5-1.1 2.2-1 1.9-1.1 1.6-1 1.4-1.1 1.1-1 1-1.1 .8-1 .6-1.1 .5-1 .4-1.1 .2-1 .1-1.1 .1-1 0-1.1-.1-1-.1-1.1-.2-1-.2-1.1 0z"/>
<path transform="translate(170.4 454.3)" d="M-24.2 -7l-1-.5-1.1-.4-1-.5-1.1-.5-1-.5-1.1-.6-1-.7-1.1-.8-1-.8-1.1-1-1-1.1-1.1-1.1-1-1.2-1.1-1.4-1-1.4-1.1-1.5-1-1.6-1.1-1.7-1-1.9-1.1-2-1-2.3-1.1-2.5-1-2.8-1.1-3.1-1-3.3-1.1-3.6-1.1-3.5-1-3.4-1.1-3-1-2.5-1.1-1.7-1-.7-1.1 .2-1 1.2-1.1 2-1 2.5-1.1 3-1 3.2-1.1 3.2-1 3-1.1 2.8-1 2.5-1.1 2.2-1 1.9-1.1 1.7-1 1.4-1.1 1.1-1 1-1.1 .8-1 .7-1.1 .4-1 .4-1.1 .3-1 .1-1.1 .1-1 0-1.1-.1-1-.1-1.1-.2-1-.2-1.1 0z"/>
<path transform="translate(169.8 454.9)" d="M-24.2 -7l-1-.5-1.1-.5-1-.4-1.1-.5-1-.6-1.1-.6-1-.8-1.1-.8-1-.9-1.1-1-1-1.1-1.1-1.2-1-1.3-1.1-1.3-1-1.5-1.1-1.5-1-1.6-1.1-1.7-1-1.8-1.1-2.1-1-2.2-1.1-2.4-1-2.8-1.1-3-1-3.2-1.1-3.5-1-3.5-1.1-3.3-1.1-3-1-2.4-1.1-1.6-1-.7-1.1 .2-1 1.2-1.1 2-1 2.5-1.1 3-1 3.2-1.1 3.1-1 3-1.1 2.8-1 2.5-1.1 2.1-1 1.9-1.1 1.7-1 1.3-1.1 1.2-1 1-1.1 .7-1 .7-1.1 .5-1 .3-1.1 .3-1 .1-1.1 .1-1 0-1.1-.1-1-.1-1.1-.2-1-.2-1.1 0z"/>
<path transform="translate(169.3 455.4)" d="M-24.2 -7l-1-.6-1.1-.4-1-.5-1.1-.5-1-.6-1.1-.7-1-.7-1.1-.9-1-.9-1.1-1.1-1-1.1-1.1-1.2-1-1.3-1.1-1.4-1-1.5-1.1-1.5-1-1.6-1.1-1.6-1-1.8-1.1-1.9-1-2.1-1.1-2.4-1-2.6-1.1-2.8-1-3.1-1.1-3.3-1.1-3.3-1-3.2-1.1-2.8-1-2.3-1.1-1.6-1-.6-1.1 .2-1 1.1-1.1 1.9-1 2.5-1.1 2.8-1 3.1-1.1 3-1 2.9-1.1 2.7-1 2.3-1.1 2.1-1 1.9-1.1 1.5-1 1.4-1.1 1.1-1 .9-1.1 .8-1 .6-1.1 .4-1 .4-1.1 .2-1 .2-1.1 0-1 0-1.1-.1-1-.1-1.1-.2-1-.2-1.1 0z"/>
<path transform="translate(168.7 455.9)" d="M-24.2 -7l-1-.6-1.1-.4-1-.5-1.1-.5-1-.7-1.1-.6-1-.8-1.1-.9-1-1-1.1-1.1-1-1.1-1.1-1.3-1-1.3-1.1-1.4-1-1.4-1.1-1.5-1-1.6-1.1-1.6-1-1.6-1.1-1.8-1-2-1.1-2.2-1-2.4-1.1-2.6-1-2.9-1.1-3-1.1-3.1-1-2.9-1.1-2.6-1-2.1-1.1-1.4-1-.7-1.1 .3-1 1-1.1 1.8-1 2.2-1.1 2.7-1 2.8-1.1 2.8-1 2.7-1.1 2.5-1 2.2-1.1 2-1 1.7-1.1 1.5-1 1.2-1.1 1.1-1 .9-1.1 .7-1 .5-1.1 .5-1 .3-1.1 .2-1 .1-1.1 .1-1-.1-1.1-.1-1-.1-1.1-.2-1-.2-1.1 0z"/>
<path transform="translate(168.1 456.5)" d="M-24.2 -7l-1-.6-1.1-.4-1-.5-1.1-.6-1-.6-1.1-.7-1-.8-1.1-.9-1-1-1.1-1.1-1-1.2-1.1-1.2-1-1.4-1.1-1.3-1-1.5-1.1-1.4-1-1.5-1.1-1.5-1-1.5-1.1-1.7-1-1.8-1.1-2-1-2.1-1.1-2.4-1-2.5-1.1-2.7-1-2.8-1.1-2.6-1.1-2.3-1-1.9-1.1-1.3-1-.6-1.1 .2-1 .9-1.1 1.6-1 2.1-1.1 2.3-1 2.6-1.1 2.5-1 2.4-1.1 2.3-1 2-1.1 1.8-1 1.6-1.1 1.3-1 1.1-1.1 1-1 .8-1.1 .7-1 .5-1.1 .4-1 .2-1.1 .2-1 .1-1.1 0-1 0-1.1-.1-1-.2-1.1-.2-1-.2-1.1 0z"/>
<path transform="translate(167.5 457)" d="M-24.2 -7l-1-.6-1.1-.4-1-.5-1.1-.6-1-.6-1.1-.7-1-.9-1.1-.9-1-1-1.1-1.1-1-1.2-1.1-1.2-1-1.3-1.1-1.4-1-1.3-1.1-1.4-1-1.4-1.1-1.4-1-1.4-1.1-1.5-1-1.6-1.1-1.7-1-1.9-1.1-2.1-1-2.2-1.1-2.4-1.1-2.4-1-2.2-1.1-2.1-1-1.6-1.1-1.1-1-.5-1.1 .1-1 .8-1.1 1.3-1 1.8-1.1 2.1-1 2.2-1.1 2.2-1 2.1-1.1 2-1 1.8-1.1 1.6-1 1.3-1.1 1.2-1 1.1-1.1 .8-1 .7-1.1 .6-1 .4-1.1 .4-1 .2-1.1 .2-1 0-1.1 0-1-.1-1.1-.1-1-.1-1.1-.2-1-.3-1.1 0z"/>
<path transform="translate(167 457.6)" d="M-24.2 -7l-1-.6-1.1-.5-1-.4-1.1-.6-1-.6-1.1-.8-1-.8-1.1-.9-1-1-1.1-1.1-1-1.1-1.1-1.3-1-1.2-1.1-1.3-1-1.3-1.1-1.3-1-1.3-1.1-1.3-1-1.3-1.1-1.3-1-1.4-1.1-1.5-1-1.7-1.1-1.7-1-1.9-1.1-2-1.1-2-1-1.9-1.1-1.8-1-1.4-1.1-.9-1-.5-1.1 .2-1 .6-1.1 1.1-1 1.5-1.1 1.7-1 1.9-1.1 1.8-1 1.8-1.1 1.7-1 1.6-1.1 1.3-1 1.2-1.1 1.1-1 .9-1.1 .7-1 .6-1.1 .5-1 .4-1.1 .2-1 .2-1.1 .1-1 0-1.1 0-1-.1-1.1-.1-1-.2-1.1-.2-1-.2-1.1-.1zM-100.9 -29.2l-1-.5-1.1-.3-1-.3-1.1-.3 0 .2z"/>
<path transform="translate(166.4 458.1)" d="M-24.2 -7l-1-.6-1.1-.4-1-.5-1.1-.6-1-.6-1.1-.7-1-.8-1.1-.9-1-1-1.1-1.1-1-1.1-1.1-1.2-1-1.2-1.1-1.3-1-1.2-1.1-1.2-1-1.2-1.1-1.2-1-1.1-1.1-1.2-1-1.2-1.1-1.3-1-1.3-1.1-1.5-1-1.6-1.1-1.6-1.1-1.7-1-1.6-1.1-1.4-1-1.2-1.1-.8-1-.4-1.1 .1-1 .5-1.1 .9-1 1.2-1.1 1.4-1 1.5-1.1 1.5-1 1.5-1.1 1.4-1 1.3-1.1 1.2-1 1-1.1 .8-1 .8-1.1 .6-1 .5-1.1 .4-1 .3-1.1 .2-1 .1-1.1 .1-1 0-1.1-.1-1-.1-1.1-.2-1-.2-1.1-.2-1 0zM-97.7 -28.3l-1.1-.5-1-.4-1.1-.3-1-.4-1.1-.3-1-.3-1.1-.3 0 .4z"/>
<path transform="translate(165.8 458.6)" d="M-24.2 -7l-1-.6-1.1-.4-1-.5-1.1-.6-1-.6-1.1-.7-1-.7-1.1-.9-1-1-1.1-1-1-1.1-1.1-1.1-1-1.2-1.1-1.2-1-1.1-1.1-1.2-1-1-1.1-1.1-1-1-1.1-1-1-1.1-1.1-1-1-1.2-1.1-1.2-1-1.3-1.1-1.3-1-1.4-1.1-1.2-1.1-1.2-1-1-1.1-.6-1-.4-1.1 .1-1 .3-1.1 .7-1 .9-1.1 1.1-1 1.2-1.1 1.3-1 1.2-1.1 1.1-1 1-1.1 1-1 .8-1.1 .7-1 .6-1.1 .5-1 .4-1.1 .3-1 .2-1.1 .2-1 0-1.1 0-1 0-1.1-.1-1-.2-1.1-.1-1-.2-1.1-.3-1 0zM-95.6 -27.7l-1.1-.5-1-.4-1.1-.4-1-.4-1.1-.4-1-.3-1.1-.4-1-.3-1.1-.3 0 .7z"/>
<path transform="translate(165.2 459.2)" d="M-24.2 -7l-1-.6-1.1-.4-1-.5-1.1-.5-1-.6-1.1-.7-1-.7-1.1-.9-1-.9-1.1-1-1-1-1.1-1.1-1-1.1-1.1-1.1-1-1-1.1-1.1-1-1-1.1-.9-1-.9-1.1-.9-1-.9-1.1-.9-1-.9-1.1-1-1-1.1-1.1-1.1-1-1-1.1-1.1-1.1-.9-1-.8-1.1-.6-1-.3-1.1 0-1 .3-1.1 .5-1 .7-1.1 .8-1 1-1.1 .9-1 1-1.1 .9-1 .8-1.1 .7-1 .7-1.1 .5-1 .5-1.1 .4-1 .3-1.1 .2-1 .2-1.1 0-1 0-1.1 0-1-.1-1.1-.1-1-.2-1.1-.2-1-.2-1.1-.3-1 0zM-93.5 -27.1l-1.1-.5-1-.3-1.1-.5-1-.4-1.1-.4-1-.5-1.1-.4-1-.4-1.1-.4-1-.3-1.1-.3 0 1.1z"/>
<path transform="translate(164.7 459.7)" d="M-24.2 -7l-1-.6-1.1-.4-1-.4-1.1-.6-1-.5-1.1-.7-1-.7-1.1-.8-1-.8-1.1-1-1-.9-1.1-1-1-1.1-1.1-1-1-1-1.1-.9-1-.9-1.1-.9-1-.8-1.1-.7-1-.8-1.1-.8-1-.8-1.1-.8-1-.9-1.1-.9-1.1-.8-1-.9-1.1-.8-1-.6-1.1-.5-1-.2-1.1-.1-1 .2-1.1 .3-1 .6-1.1 .6-1 .7-1.1 .7-1 .8-1.1 .7-1 .6-1.1 .6-1 .5-1.1 .4-1 .4-1.1 .2-1 .3-1.1 .1-1 .1-1.1 0-1-.1-1.1 0-1-.2-1.1-.1-1-.2-1.1-.3-1-.2-1.1-.3-1 0zM-92.5 -26.8l-1-.5-1.1-.4-1-.4-1.1-.5-1-.5-1.1-.5-1-.5-1.1-.5-1-.5-1.1-.5-1-.3-1.1-.3 0 1.8z"/>
<path transform="translate(164.1 460.3)" d="M-24.2 -7l-1-.5-1.1-.4-1-.5-1.1-.5-1-.5-1.1-.6-1-.7-1.1-.8-1-.8-1.1-.8-1-.9-1.1-1-1-.9-1.1-.9-1-.9-1.1-.9-1-.8-1.1-.8-1-.7-1.1-.7-1-.7-1.1-.7-1-.6-1.1-.8-1-.7-1.1-.7-1.1-.8-1-.7-1.1-.7-1-.5-1.1-.4-1-.2-1.1-.1-1 .1-1.1 .2-1 .4-1.1 .5-1 .5-1.1 .6-1 .5-1.1 .6-1 .5-1.1 .4-1 .4-1.1 .3-1 .3-1.1 .1-1 .2-1.1 0-1 0-1.1 0-1-.1-1.1-.1-1-.2-1.1-.2-1-.2-1.1-.3-1-.2-1.1-.3-1-.3-1.1-.3-1-.3-1.1-.3-1-.3-1.1-.3-1-.4-1.1-.5-1-.4-1.1-.6-1-.6-1.1-.6-1-.7-1.1-.6-1-.6-1.1-.5-1-.3-1.1-.3 0 2.7z"/>
<path transform="translate(163.5 460.8)" d="M-25.2 -7.3l-1.1-.6-1-.4-1.1-.5-1-.5-1.1-.6-1-.6-1.1-.7-1-.8-1.1-.8-1-.8-1.1-.8-1-.9-1.1-.9-1-.8-1.1-.8-1-.7-1.1-.7-1-.7-1.1-.6-1-.7-1.1-.6-1-.6-1.1-.6-1-.7-1.1-.7-1.1-.6-1-.6-1.1-.6-1-.5-1.1-.3-1-.3-1.1-.1-1 .1-1.1 .2-1 .2-1.1 .4-1 .4-1.1 .4-1 .5-1.1 .4-1 .4-1.1 .3-1 .3-1.1 .2-1 .2-1.1 .1-1 0-1.1 0-1 0-1.1-.1-1-.1-1.1-.2-1-.2-1.1-.2-1-.3-1.1-.3-1-.3-1.1-.2-1-.3-1.1-.3-1-.3-1.1-.4-1-.3-1.1-.4-1-.4-1.1-.5-1-.5-1.1-.7-1-.7-1.1-.8-1-.8-1.1-.8-1-.7-1.1-.5-1-.4-1.1-.2 0 3.8z"/>
<path transform="translate(163 461.3)" d="M-25.2 -7.3l-1.1-.6-1-.4-1.1-.4-1-.5-1.1-.5-1-.6-1.1-.7-1-.7-1.1-.7-1-.7-1.1-.8-1-.8-1.1-.8-1-.8-1.1-.7-1-.7-1.1-.6-1-.7-1.1-.6-1-.6-1.1-.6-1-.6-1.1-.6-1-.6-1.1-.6-1-.6-1.1-.6-1.1-.5-1-.4-1.1-.4-1-.2-1.1-.1-1 0-1.1 .1-1 .3-1.1 .2-1 .4-1.1 .3-1 .3-1.1 .4-1 .3-1.1 .2-1 .2-1.1 .2-1 .1-1.1 0-1 0-1.1 0-1-.1-1.1-.2-1-.1-1.1-.2-1-.3-1.1-.2-1-.3-1.1-.3-1-.3-1.1-.3-1-.4-1.1-.3-1-.3-1.1-.3-1-.4-1.1-.4-1-.4-1.1-.6-1-.7-1.1-.7-1-.9-1.1-1-1-1-1.1-1-1-.8-1.1-.7-1-.4-1.1-.2 0 5.4z"/>
<path transform="translate(162.4 461.9)" d="M-25.2 -7.3l-1.1-.5-1-.4-1.1-.4-1-.5-1.1-.5-1-.5-1.1-.6-1-.7-1.1-.6-1-.7-1.1-.7-1-.7-1.1-.8-1-.7-1.1-.6-1-.7-1.1-.6-1-.6-1.1-.6-1-.6-1.1-.6-1-.6-1.1-.6-1-.6-1.1-.6-1-.6-1.1-.6-1.1-.5-1-.4-1.1-.3-1-.3-1.1-.1-1 0-1.1 .1-1 .2-1.1 .2-1 .3-1.1 .3-1 .3-1.1 .3-1 .2-1.1 .2-1 .2-1.1 .1-1 0-1.1 0-1 0-1.1-.1-1-.2-1.1-.2-1-.2-1.1-.2-1-.3-1.1-.3-1-.3-1.1-.3-1-.4-1.1-.3-1-.3-1.1-.4-1-.3-1.1-.3-1-.4-1.1-.4-1-.5-1.1-.7-1-.7-1.1-1-1-1.1-1.1-1.2-1-1.2-1.1-1.2-1-1-1.1-.8-1-.4-1.1-.2 0 7.2z"/>
<path transform="translate(161.8 462.4)" d="M-26.3 -7.6l-1-.6-1.1-.4-1-.4-1.1-.5-1-.5-1.1-.5-1-.6-1.1-.6-1-.6-1.1-.7-1-.6-1.1-.7-1-.6-1.1-.7-1-.6-1.1-.6-1-.6-1.1-.6-1-.6-1.1-.6-1-.6-1.1-.7-1-.6-1.1-.7-1.1-.6-1-.5-1.1-.5-1-.4-1.1-.4-1-.2-1.1-.1-1 0-1.1 .1-1 .2-1.1 .2-1 .2-1.1 .3-1 .3-1.1 .2-1 .2-1.1 .2-1 .1-1.1 0-1 .1-1.1-.1-1-.1-1.1-.1-1-.2-1.1-.2-1-.2-1.1-.3-1-.3-1.1-.4-1-.3-1.1-.4-1-.4-1.1-.3-1-.4-1.1-.3-1-.4-1.1-.3-1-.4-1.1-.5-1-.5-1.1-.7-1-.9-1.1-1.1-1-1.3-1.1-1.5-1-1.4-1.1-1.5-1-1.2-1.1-.9-1-.5-1.1-.1 0 9.2z"/>
<path transform="translate(161.2 463)" d="M-27.3 -7.9l-1.1-.6-1-.4-1.1-.4-1-.5-1.1-.5-1-.5-1.1-.6-1-.5-1.1-.6-1-.6-1.1-.6-1-.7-1.1-.6-1-.6-1.1-.6-1-.6-1.1-.6-1-.6-1.1-.7-1-.7-1.1-.6-1-.7-1.1-.7-1.1-.6-1-.6-1.1-.5-1-.5-1.1-.3-1-.2-1.1-.1-1 0-1.1 .1-1 .1-1.1 .3-1 .2-1.1 .3-1 .2-1.1 .3-1 .2-1.1 .1-1 .1-1.1 0-1 0-1.1 0-1-.1-1.1-.2-1-.2-1.1-.2-1-.3-1.1-.4-1-.3-1.1-.4-1-.4-1.1-.4-1-.5-1.1-.4-1-.4-1.1-.3-1-.4-1.1-.3-1-.4-1.1-.5-1-.6-1.1-.8-1-1-1.1-1.3-1-1.5-1.1-1.7-1-1.7-1.1-1.7-1-1.4-1.1-1.1-1-.5-1.1-.1 0 11.4z"/>
<path transform="translate(160.7 463.5)" d="M-27.3 -7.9l-1.1-.5-1-.4-1.1-.4-1-.5-1.1-.4-1-.5-1.1-.5-1-.5-1.1-.6-1-.5-1.1-.6-1-.6-1.1-.6-1-.6-1.1-.6-1-.6-1.1-.6-1-.7-1.1-.7-1-.7-1.1-.8-1-.7-1.1-.7-1-.7-1.1-.6-1.1-.6-1-.4-1.1-.3-1-.3-1.1-.1-1 0-1.1 .2-1 .1-1.1 .3-1 .2-1.1 .3-1 .3-1.1 .2-1 .2-1.1 .2-1 .1-1.1 0-1 0-1.1-.1-1-.2-1.1-.1-1-.3-1.1-.3-1-.3-1.1-.4-1-.4-1.1-.4-1-.5-1.1-.5-1-.5-1.1-.4-1-.4-1.1-.4-1-.4-1.1-.4-1-.4-1.1-.4-1-.7-1.1-.8-1-1.1-1.1-1.4-1-1.7-1.1-1.9-1-2-1.1-2-1-1.6-1.1-1.2-1-.6-1.1 0 0 13.5z"/>
<path transform="translate(160.1 464.1)" d="M-28.4 -8.2l-1-.6-1.1-.3-1-.4-1.1-.5-1-.4-1.1-.5-1-.5-1.1-.5-1-.5-1.1-.5-1-.6-1.1-.5-1-.6-1.1-.7-1-.6-1.1-.7-1-.7-1.1-.7-1-.8-1.1-.8-1-.8-1.1-.8-1.1-.7-1-.7-1.1-.5-1-.5-1.1-.4-1-.2-1.1-.1-1 .1-1.1 .1-1 .2-1.1 .3-1 .2-1.1 .3-1 .3-1.1 .3-1 .2-1.1 .1-1 .1-1.1 .1-1-.1-1.1-.1-1-.1-1.1-.2-1-.3-1.1-.3-1-.4-1.1-.4-1-.5-1.1-.5-1-.6-1.1-.5-1-.6-1.1-.5-1-.5-1.1-.4-1-.4-1.1-.3-1-.4-1.1-.5-1-.6-1.1-.9-1-1.1-1.1-1.6-1-1.8-1.1-2.1-1-2.3-1.1-2.1-1-1.8-1.1-1.3-1-.7-1.1 .1 0 15.4z"/>
<path transform="translate(159.5 464.6)" d="M-29.4 -8.5l-1.1-.6-1-.3-1.1-.4-1-.5-1.1-.4-1-.4-1.1-.5-1-.5-1.1-.5-1-.6-1.1-.5-1-.6-1.1-.6-1-.7-1.1-.7-1-.8-1.1-.8-1-.8-1.1-.9-1-.8-1.1-.8-1.1-.8-1-.7-1.1-.6-1-.5-1.1-.3-1-.3-1.1-.1-1 .1-1.1 .1-1 .3-1.1 .3-1 .3-1.1 .3-1 .3-1.1 .3-1 .2-1.1 .2-1 .1-1.1 0-1 0-1.1-.1-1-.2-1.1-.2-1-.3-1.1-.4-1-.4-1.1-.5-1-.6-1.1-.6-1-.6-1.1-.7-1-.6-1.1-.6-1-.6-1.1-.4-1-.4-1.1-.4-1-.3-1.1-.4-1-.6-1.1-.9-1-1.2-1.1-1.5-1-2-1.1-2.2-1-2.4-1.1-2.3-1-2-1.1-1.4-1-.6-1.1 .1 0 16.9z"/>
<path transform="translate(158.9 465.1)" d="M-30.5 -8.8l-1-.6-1.1-.3-1-.4-1.1-.5-1-.4-1.1-.4-1-.5-1.1-.5-1-.5-1.1-.6-1-.6-1.1-.6-1-.7-1.1-.7-1-.8-1.1-.9-1-.9-1.1-.8-1-.9-1.1-.9-1-.8-1.1-.8-1.1-.6-1-.5-1.1-.4-1-.2-1.1-.1-1 .1-1.1 .2-1 .2-1.1 .3-1 .4-1.1 .3-1 .3-1.1 .3-1 .3-1.1 .1-1 .2-1.1 0-1 0-1.1-.2-1-.1-1.1-.3-1-.3-1.1-.4-1-.5-1.1-.6-1-.7-1.1-.7-1-.7-1.1-.8-1-.8-1.1-.6-1-.6-1.1-.5-1-.4-1.1-.4-1-.3-1.1-.3-1-.5-1.1-.8-1-1.2-1.1-1.5-1-2-1.1-2.3-1-2.4-1.1-2.4-1-2-1.1-1.5-1-.7-1.1 .1 0 18z"/>
<path transform="translate(158.4 465.7)" d="M-31.5 -9.1l-1.1-.6-1-.4-1.1-.3-1-.5-1.1-.4-1-.4-1.1-.5-1-.5-1.1-.6-1-.6-1.1-.6-1-.7-1.1-.8-1-.8-1.1-.9-1-.9-1.1-1-1-.9-1.1-.9-1.1-.9-1-.7-1.1-.7-1-.5-1.1-.4-1-.2-1.1-.1-1 .1-1.1 .2-1 .3-1.1 .3-1 .4-1.1 .3-1 .4-1.1 .3-1 .2-1.1 .2-1 .1-1.1 .1-1-.1-1.1-.1-1-.2-1.1-.3-1-.3-1.1-.5-1-.6-1.1-.6-1-.8-1.1-.8-1-.9-1.1-.9-1-.9-1.1-.8-1-.7-1.1-.5-1-.4-1.1-.3-1-.3-1.1-.2-1-.4-1.1-.7-1-1-1.1-1.5-1-1.8-1.1-2.3-1-2.4-1.1-2.4-1-2.1-1.1-1.5-1-.8-1.1 .2 0 18.5z"/>
<path transform="translate(157.8 466.2)" d="M-32.6 -9.4l-1-.6-1.1-.4-1-.4-1.1-.4-1-.4-1.1-.5-1-.5-1.1-.5-1-.6-1.1-.7-1-.7-1.1-.8-1-.9-1.1-.9-1-.9-1.1-1-1-.9-1.1-1-1.1-.9-1-.8-1.1-.6-1-.6-1.1-.3-1-.2-1.1-.1-1 .1-1.1 .2-1 .2-1.1 .4-1 .4-1.1 .4-1 .3-1.1 .3-1 .3-1.1 .2-1 .1-1.1 0-1 0-1.1-.1-1-.3-1.1-.3-1-.4-1.1-.5-1-.7-1.1-.7-1-.9-1.1-1-1-1-1.1-1.1-1-1-1.1-.9-1-.8-1.1-.6-1-.4-1.1-.2-1-.2-1.1-.1-1-.2-1.1-.5-1-.9-1.1-1.3-1-1.7-1.1-2.1-1-2.4-1.1-2.3-1-2.1-1.1-1.5-1-.8-1.1 .2 0 18.5z"/>
<path transform="translate(157.2 466.8)" d="M-32.6 -9.4l-1-.6-1.1-.3-1-.4-1.1-.4-1-.5-1.1-.4-1-.5-1.1-.6-1-.6-1.1-.6-1-.7-1.1-.8-1-.9-1.1-.9-1-1-1.1-1-1-1-1.1-.9-1.1-.9-1-.8-1.1-.7-1-.5-1.1-.4-1-.2-1.1-.1-1 .1-1.1 .2-1 .3-1.1 .3-1 .4-1.1 .4-1 .4-1.1 .3-1 .2-1.1 .2-1 .1-1.1 .1-1-.1-1.1-.1-1-.3-1.1-.3-1-.5-1.1-.5-1-.8-1.1-.9-1-1-1.1-1.1-1-1.2-1.1-1.3-1-1.1-1.1-1.1-1-.9-1.1-.6-1-.4-1.1-.2-1 0-1.1 0-1 0-1.1-.3-1-.6-1.1-1.1-1-1.5-1.1-1.9-1-2.2-1.1-2.2-1-2.1-1.1-1.5-1-.8-1.1 .1 0 18.2z"/>
<path transform="translate(156.7 467.3)" d="M-32.6 -9.4l-1-.5-1.1-.4-1-.4-1.1-.4-1-.4-1.1-.5-1-.5-1.1-.5-1-.6-1.1-.7-1-.7-1.1-.8-1-.9-1.1-.9-1-1-1.1-1-1-.9-1.1-1-1-.9-1.1-.8-1.1-.7-1-.5-1.1-.4-1-.2-1.1-.1-1 .1-1.1 .2-1 .3-1.1 .4-1 .3-1.1 .4-1 .4-1.1 .3-1 .2-1.1 .2-1 .1-1.1 0-1 0-1.1-.2-1-.3-1.1-.3-1-.6-1.1-.6-1-.8-1.1-1-1-1.2-1.1-1.3-1-1.4-1.1-1.4-1-1.3-1.1-1.2-1-1-1.1-.7-1-.4-1.1-.1-1 .1-1.1 .2-1 .1-1.1 0-1-.3-1.1-.8-1-1.2-1.1-1.7-1-2-1.1-2.1-1-2-1.1-1.5-1-.8-1.1 0 0 17.6z"/>
<path transform="translate(156.1 467.8)" d="M-32.6 -9.4l-1-.6-1.1-.3-1-.4-1.1-.4-1-.4-1.1-.5-1-.5-1.1-.5-1-.6-1.1-.7-1-.7-1.1-.8-1-.8-1.1-1-1-.9-1.1-1-1-1-1.1-1-1-.9-1.1-.8-1.1-.7-1-.5-1.1-.3-1-.2-1.1-.1-1 .1-1.1 .2-1 .3-1.1 .3-1 .4-1.1 .3-1 .4-1.1 .2-1 .3-1.1 .1-1 .1-1.1 0-1 0-1.1-.2-1-.3-1.1-.4-1-.6-1.1-.7-1-.9-1.1-1.1-1-1.3-1.1-1.5-1-1.5-1.1-1.6-1-1.6-1.1-1.3-1-1.1-1.1-.7-1-.4-1.1-.1-1 .2-1.1 .4-1 .4-1.1 .3-1-.1-1.1-.4-1-1-1.1-1.4-1-1.8-1.1-2-1-1.9-1.1-1.5-1-.9-1.1 0 0 16.9z"/>
<path transform="translate(155.5 468.4)" d="M-31.5 -9.1l-1.1-.5-1-.4-1.1-.4-1-.4-1.1-.4-1-.4-1.1-.5-1-.4-1.1-.6-1-.5-1.1-.7-1-.7-1.1-.8-1-.8-1.1-1-1-.9-1.1-1-1-1-1.1-.9-1.1-.9-1-.8-1.1-.7-1-.5-1.1-.4-1-.1-1.1-.1-1 .1-1.1 .2-1 .3-1.1 .3-1 .3-1.1 .4-1 .3-1.1 .2-1 .2-1.1 .2-1 .1-1.1-.1-1 0-1.1-.2-1-.3-1.1-.5-1-.6-1.1-.8-1-1-1.1-1.2-1-1.4-1.1-1.6-1-1.8-1.1-1.7-1-1.7-1.1-1.5-1-1.2-1.1-.8-1-.4-1.1 0-1 .3-1.1 .6-1 .6-1.1 .5-1 .3-1.1-.2-1-.6-1.1-1.2-1-1.6-1.1-1.8-1-1.9-1.1-1.5-1-.9-1.1-.2 0 16.3z"/>
<path transform="translate(154.9 468.9)" d="M-30.5 -8.8l-1-.5-1.1-.4-1-.4-1.1-.4-1-.4-1.1-.4-1-.4-1.1-.5-1-.4-1.1-.6-1-.5-1.1-.7-1-.7-1.1-.8-1-.8-1.1-.9-1-1-1.1-.9-1-1-1.1-.9-1.1-.9-1-.8-1.1-.6-1-.5-1.1-.4-1-.1-1.1-.1-1 .1-1.1 .2-1 .3-1.1 .3-1 .3-1.1 .3-1 .3-1.1 .2-1 .2-1.1 .1-1 .1-1.1-.1-1-.1-1.1-.2-1-.3-1.1-.5-1-.6-1.1-.9-1-1.1-1.1-1.3-1-1.5-1.1-1.8-1-1.8-1.1-2-1-1.8-1.1-1.6-1-1.3-1.1-.9-1-.3-1.1 0-1 .5-1.1 .7-1 .8-1.1 .8-1 .5-1.1 .1-1-.4-1.1-.9-1-1.4-1.1-1.8-1-1.7-1.1-1.6-1-1-1.1-.2 0 15.7z"/>
<path transform="translate(154.4 469.5)" d="M-29.4 -8.5l-1.1-.6-1-.3-1.1-.4-1-.4-1.1-.4-1-.4-1.1-.5-1-.4-1.1-.5-1-.4-1.1-.6-1-.5-1.1-.6-1-.7-1.1-.8-1-.9-1.1-.9-1-.9-1.1-.9-1-1-1.1-.9-1-.9-1.1-.7-1.1-.7-1-.4-1.1-.3-1-.2-1.1 0-1 .2-1.1 .2-1 .2-1.1 .3-1 .3-1.1 .2-1 .3-1.1 .2-1 .1-1.1 .1-1 0-1.1 0-1-.2-1.1-.2-1-.3-1.1-.5-1-.7-1.1-.9-1-1.1-1.1-1.4-1-1.6-1.1-1.9-1-2-1.1-2-1-2-1.1-1.7-1-1.4-1.1-.9-1-.4-1.1 .1-1 .6-1.1 .8-1 1-1.1 1-1 .7-1.1 .3-1-.1-1.1-.7-1-1.2-1.1-1.6-1-1.8-1.1-1.5-1-1-1.1-.3 0 15.1z"/>
<path transform="translate(153.8 470)" d="M-27.3 -7.9l-1.1-.5-1-.4-1.1-.3-1-.4-1.1-.4-1-.5-1.1-.4-1-.5-1.1-.4-1-.5-1.1-.4-1-.5-1.1-.5-1-.6-1.1-.6-1-.7-1.1-.8-1-.8-1.1-.9-1-.9-1.1-1-1-.9-1.1-1-1.1-.8-1-.7-1.1-.6-1-.5-1.1-.2-1-.1-1.1 0-1 .2-1.1 .2-1 .3-1.1 .2-1 .3-1.1 .2-1 .2-1.1 .2-1 .1-1.1 0-1 0-1.1-.1-1-.1-1.1-.2-1-.4-1.1-.5-1-.7-1.1-.9-1-1.1-1.1-1.5-1-1.7-1.1-1.9-1-2.1-1.1-2.1-1-2-1.1-1.8-1-1.4-1.1-1-1-.4-1.1 .2-1 .5-1.1 1-1 1.1-1.1 1.1-1 .9-1.1 .5-1 .1-1.1-.5-1-1.1-1.1-1.5-1-1.7-1.1-1.5-1-1-1.1-.3 0 14.5z"/>
<path transform="translate(153.2 470.5)" d="M-26.3 -7.6l-1-.5-1.1-.4-1-.4-1.1-.4-1-.4-1.1-.4-1-.5-1.1-.5-1-.5-1.1-.5-1-.4-1.1-.5-1-.5-1.1-.5-1-.6-1.1-.6-1-.7-1.1-.8-1-.9-1.1-.8-1-1-1.1-.9-1-1-1.1-.9-1.1-.8-1-.7-1.1-.6-1-.3-1.1-.2-1-.1-1.1 .1-1 .2-1.1 .3-1 .2-1.1 .3-1 .2-1.1 .2-1 .2-1.1 .1-1 0-1.1 .1-1-.1-1.1 0-1-.2-1.1-.2-1-.4-1.1-.5-1-.6-1.1-.9-1-1.2-1.1-1.4-1-1.8-1.1-1.9-1-2.1-1.1-2.2-1-2.1-1.1-1.8-1-1.5-1.1-.9-1-.4-1.1 .1-1 .6-1.1 1-1 1.2-1.1 1.2-1 1-1.1 .6-1 .2-1.1-.3-1-.9-1.1-1.4-1-1.6-1.1-1.4-1-1-1.1-.3 0 13.8z"/>
<path transform="translate(152.6 471.1)" d="M-24.2 -7l-1-.5-1.1-.4-1-.3-1.1-.4-1-.4-1.1-.5-1-.4-1.1-.5-1-.5-1.1-.6-1-.5-1.1-.5-1-.5-1.1-.5-1-.5-1.1-.6-1-.5-1.1-.7-1-.7-1.1-.8-1-.9-1.1-.9-1-.9-1.1-.9-1-1-1.1-.9-1-.8-1.1-.7-1.1-.5-1-.3-1.1-.2-1 .1-1.1 .1-1 .3-1.1 .3-1 .3-1.1 .2-1 .2-1.1 .2-1 .1-1.1 .1-1 0-1.1 0-1 0-1.1-.1-1-.2-1.1-.2-1-.3-1.1-.5-1-.6-1.1-.9-1-1.1-1.1-1.5-1-1.7-1.1-1.9-1-2.1-1.1-2.2-1-2-1.1-1.9-1-1.4-1.1-1-1-.4-1.1 .1-1 .6-1.1 1-1 1.2-1.1 1.2-1 1.1-1.1 .7-1 .3-1.1-.2-1-.8-1.1-1.2-1-1.4-1.1-1.3-1-.9-1.1-.3 0 12.9z"/>
<path transform="translate(152.1 471.6)" d="M-22.1 -6.4l-1-.5-1.1-.4-1-.3-1.1-.4-1-.4-1.1-.4-1-.4-1.1-.5-1-.5-1.1-.6-1-.5-1.1-.6-1-.6-1.1-.6-1-.6-1.1-.5-1-.5-1.1-.5-1-.6-1.1-.7-1-.7-1.1-.9-1-.9-1.1-.9-1-.9-1.1-1-1-.9-1.1-.9-1.1-.8-1-.6-1.1-.5-1-.3-1.1-.1-1 .1-1.1 .2-1 .4-1.1 .3-1 .4-1.1 .2-1 .2-1.1 .2-1 .1-1.1 0-1 0-1.1 0-1-.1-1.1-.1-1-.1-1.1-.2-1-.3-1.1-.4-1-.7-1.1-.8-1-1.1-1.1-1.3-1-1.6-1.1-1.9-1-2.1-1.1-2.1-1-2-1.1-1.8-1-1.4-1.1-1-1-.4-1.1 .1-1 .6-1.1 .9-1 1.2-1.1 1.1-1 1.1-1.1 .8-1 .4-1.1-.2-1-.6-1.1-1-1-1.2-1.1-1.2-1-.8-1.1-.3 0 11.9z"/>
<path transform="translate(151.5 472.2)" d="M-20 -5.8l-1-.5-1.1-.4-1-.3-1.1-.4-1-.3-1.1-.4-1-.4-1.1-.5-1-.4-1.1-.6-1-.6-1.1-.6-1-.6-1.1-.7-1-.7-1.1-.6-1-.6-1.1-.6-1-.5-1.1-.6-1-.6-1.1-.7-1-.8-1.1-.8-1-1-1.1-.9-1-1-1.1-.9-1-.9-1.1-.9-1.1-.8-1-.6-1.1-.5-1-.2-1.1 0-1 .2-1.1 .3-1 .4-1.1 .4-1 .4-1.1 .3-1 .2-1.1 .1-1 .1-1.1 0-1-.1-1.1 0-1-.1-1.1-.1-1-.1-1.1-.2-1-.2-1.1-.4-1-.5-1.1-.8-1-.9-1.1-1.3-1-1.5-1.1-1.8-1-1.9-1.1-2-1-1.9-1.1-1.7-1-1.4-1.1-1-1-.4-1.1 .1-1 .5-1.1 .8-1 1.1-1.1 1.1-1 1-1.1 .7-1 .4-1.1 0-1-.5-1.1-.8-1-1-1.1-1-1-.7-1.1-.2 0 10.7z"/>
<path transform="translate(150.9 472.7)" d="M-17.9 -5.2l-1-.5-1.1-.3-1-.4-1.1-.3-1-.4-1.1-.4-1-.4-1.1-.4-1-.4-1.1-.5-1-.5-1.1-.6-1-.7-1.1-.7-1-.8-1.1-.7-1-.8-1.1-.7-1-.6-1.1-.6-1-.6-1.1-.6-1-.6-1.1-.7-1-.8-1.1-1-1-.9-1.1-1-1-1-1.1-.9-1-.9-1.1-.9-1.1-.8-1-.6-1.1-.4-1-.2-1.1 .1-1 .2-1.1 .5-1 .5-1.1 .4-1 .4-1.1 .4-1 .2-1.1 .1-1 0-1.1 0-1-.1-1.1 0-1-.1-1.1-.1-1-.1-1.1-.1-1-.2-1.1-.3-1-.4-1.1-.7-1-.8-1.1-1.2-1-1.3-1.1-1.6-1-1.8-1.1-1.9-1-1.7-1.1-1.6-1-1.3-1.1-.9-1-.5-1.1 0-1 .4-1.1 .8-1 .9-1.1 1-1 .9-1.1 .7-1 .4-1.1 0-1-.4-1.1-.6-1-.8-1.1-.8-1-.6-1.1-.1 0 9.5z"/>
<path transform="translate(150.3 473.2)" d="M-16.8 -4.9l-1.1-.5-1-.3-1.1-.4-1-.4-1.1-.3-1-.4-1.1-.4-1-.4-1.1-.5-1-.4-1.1-.6-1-.6-1.1-.7-1-.7-1.1-.8-1-.9-1.1-.8-1-.9-1.1-.8-1-.7-1.1-.6-1-.6-1.1-.6-1-.6-1.1-.8-1-.8-1.1-1-1-1-1.1-1-1-1-1.1-.9-1-.9-1.1-.9-1-.7-1.1-.6-1.1-.4-1-.2-1.1 .2-1 .3-1.1 .5-1 .6-1.1 .5-1 .5-1.1 .3-1 .2-1.1 .1-1 0-1.1-.1-1-.1-1.1 0-1-.1-1.1 0-1-.1-1.1 0-1-.2-1.1-.2-1-.3-1.1-.5-1-.7-1.1-1-1-1.2-1.1-1.4-1-1.6-1.1-1.6-1-1.7-1.1-1.4-1-1.2-1.1-.9-1-.4-1.1-.1-1 .3-1.1 .6-1 .8-1.1 .8-1 .8-1.1 .6-1 .3-1.1 .1-1-.3-1.1-.5-1-.6-1.1-.6-1-.4-1.1-.1 0 8.4z"/>
<path transform="translate(149.8 473.8)" d="M-15.8 -4.6l-1-.5-1.1-.4-1-.3-1.1-.4-1-.4-1.1-.3-1-.4-1.1-.5-1-.4-1.1-.5-1-.5-1.1-.6-1-.7-1.1-.8-1-.8-1.1-.9-1-1-1.1-1-1-.9-1.1-.8-1-.8-1.1-.7-1-.6-1.1-.6-1-.6-1.1-.8-1-.9-1.1-1-1-1-1.1-1.1-1-.9-1.1-1-1-.9-1.1-.8-1-.7-1.1-.6-1.1-.3-1-.1-1.1 .1-1 .4-1.1 .6-1 .6-1.1 .6-1 .4-1.1 .4-1 .1-1.1 .1-1 0-1.1-.1-1-.1-1.1-.1-1 0-1.1 0-1 0-1.1 0-1 0-1.1-.1-1-.3-1.1-.3-1-.6-1.1-.8-1-1-1.1-1.2-1-1.3-1.1-1.4-1-1.5-1.1-1.3-1-1.1-1.1-.8-1-.4-1.1-.1-1 .2-1.1 .4-1 .6-1.1 .6-1 .6-1.1 .5-1 .3-1.1 0-1-.1-1.1-.4-1-.4-1.1-.5-1-.2-1.1-.1 0 7.4z"/>
<path transform="translate(149.2 474.3)" d="M-14.7 -4.3l-1.1-.5-1-.4-1.1-.3-1-.4-1.1-.4-1-.4-1.1-.4-1-.4-1.1-.4-1-.5-1.1-.5-1-.6-1.1-.7-1-.8-1.1-.8-1-1-1.1-1-1-1.1-1.1-1.1-1-1-1.1-.9-1-.8-1.1-.7-1-.6-1.1-.6-1-.7-1.1-.7-1-1-1.1-1-1-1-1.1-1-1-1-1.1-.9-1-.9-1.1-.8-1.1-.7-1-.5-1.1-.4-1 0-1.1 .2-1 .4-1.1 .6-1 .6-1.1 .5-1 .5-1.1 .3-1 .2-1.1 0-1-.1-1.1-.1-1-.1-1.1 0-1-.1-1.1 .1-1 0-1.1 .1-1 .1-1.1 0-1-.1-1.1-.2-1-.4-1.1-.6-1-.7-1.1-1-1-1.1-1.1-1.2-1-1.2-1.1-1.2-1-.9-1.1-.8-1-.4-1.1-.2-1 .1-1.1 .3-1 .4-1.1 .5-1 .4-1.1 .3-1 .2-1.1 0-1-.1-1.1-.3-1-.3-1.1-.3-1-.2-1.1 0 0 6.6z"/>
<path transform="translate(148.6 474.9)" d="M-13.7 -4l-1-.5-1.1-.4-1-.3-1.1-.4-1-.4-1.1-.4-1-.4-1.1-.4-1-.5-1.1-.4-1-.6-1.1-.5-1-.7-1.1-.7-1-.9-1.1-1-1-1-1.1-1.2-1-1.1-1.1-1.2-1-1.1-1.1-1-1-.8-1.1-.7-1-.6-1.1-.6-1-.6-1.1-.8-1-.9-1.1-1-1-1.1-1.1-1-1-.9-1.1-.9-1-.8-1.1-.8-1.1-.6-1-.6-1.1-.3-1-.1-1.1 .2-1 .4-1.1 .6-1 .5-1.1 .6-1 .4-1.1 .3-1 0-1.1 0-1-.1-1.1-.1-1-.1-1.1-.1-1 0-1.1 .1-1 .1-1.1 .2-1 .2-1.1 .1-1 .1-1.1-.1-1-.1-1.1-.4-1-.5-1.1-.8-1-.8-1.1-1-1-1-1.1-1-1-.8-1.1-.6-1-.5-1.1-.2-1 0-1.1 .1-1 .2-1.1 .3-1 .2-1.1 .2-1 .1-1.1 0-1-.2-1.1-.2-1-.2-1.1-.2-1-.1-1.1 0 0 6z"/>
<path transform="translate(148.1 475.4)" d="M-12.6 -3.6l-1.1-.6-1-.3-1.1-.4-1-.4-1.1-.4-1-.4-1.1-.4-1-.4-1.1-.5-1-.4-1.1-.6-1-.5-1.1-.6-1-.8-1.1-.8-1-1-1.1-1-1-1.2-1.1-1.2-1-1.3-1.1-1.3-1-1.1-1.1-1-1-.9-1.1-.7-1-.6-1.1-.5-1-.6-1.1-.7-1-.9-1.1-1-1-1-1.1-1-1-.9-1.1-.8-1-.8-1.1-.7-1-.6-1.1-.5-1.1-.4-1-.1-1.1 .1-1 .4-1.1 .4-1 .6-1.1 .4-1 .3-1.1 .2-1 0-1.1-.1-1-.1-1.1-.2-1-.1-1.1-.1-1 .1-1.1 .1-1 .2-1.1 .3-1 .3-1.1 .2-1 .3-1.1 .1-1 0-1.1-.1-1-.3-1.1-.5-1-.6-1.1-.8-1-.8-1.1-.7-1-.7-1.1-.6-1-.4-1.1-.3-1-.1-1.1 0-1 0-1.1 .1-1 .1-1.1 0-1 0-1.1-.1-1-.2-1.1-.1-1-.2-1.1-.1-1-.1-1.1 .1 0 5.5z"/>
<path transform="translate(147.5 476)" d="M-12.6 -3.6l-1.1-.6-1-.4-1.1-.4-1-.4-1.1-.4-1-.4-1.1-.4-1-.5-1.1-.4-1-.5-1.1-.6-1-.6-1.1-.7-1-.8-1.1-.9-1-1-1.1-1.2-1-1.2-1.1-1.4-1-1.3-1.1-1.3-1-1.3-1.1-1-1-.9-1.1-.6-1-.6-1.1-.4-1-.6-1.1-.7-1-.8-1.1-.9-1-1-1.1-.9-1-.8-1.1-.8-1-.7-1.1-.6-1.1-.7-1-.5-1.1-.4-1-.2-1.1 .1-1 .2-1.1 .4-1 .4-1.1 .3-1 .2-1.1 0-1-.1-1.1-.1-1-.3-1.1-.2-1-.1-1.1-.1-1 .1-1.1 .2-1 .3-1.1 .3-1 .5-1.1 .4-1 .4-1.1 .3-1 .2-1.1 .1-1-.1-1.1-.3-1-.3-1.1-.5-1-.6-1.1-.6-1-.6-1.1-.5-1-.4-1.1-.3-1-.2-1.1-.1-1-.1-1.1-.1-1-.1-1.1-.1-1-.1-1.1-.2-1-.1-1.1-.2-1-.2-1.1-.1-1 0-1.1 .1 0 5.2z"/>
<path transform="translate(146.9 476.5)" d="M-11.6 -3.3l-1-.6-1.1-.3-1-.4-1.1-.4-1-.4-1.1-.5-1-.4-1.1-.4-1-.5-1.1-.5-1-.5-1.1-.6-1-.7-1.1-.7-1-.9-1.1-.9-1-1.2-1.1-1.2-1-1.4-1.1-1.4-1-1.4-1.1-1.3-1-1.3-1.1-1-1-.9-1.1-.6-1-.4-1.1-.5-1-.4-1.1-.6-1-.7-1.1-.9-1-.8-1.1-.9-1-.7-1.1-.7-1-.7-1.1-.6-1.1-.6-1-.6-1.1-.4-1-.3-1.1-.1-1 .1-1.1 .2-1 .2-1.1 .1-1 0-1.1-.1-1-.2-1.1-.3-1-.3-1.1-.2-1-.2-1.1 0-1 .1-1.1 .2-1 .4-1.1 .5-1 .5-1.1 .6-1 .5-1.1 .5-1 .4-1.1 .3-1 .1-1.1 0-1-.1-1.1-.3-1-.4-1.1-.4-1-.5-1.1-.4-1-.4-1.1-.3-1-.3-1.1-.2-1-.2-1.1-.2-1-.2-1.1-.2-1-.3-1.1-.2-1-.2-1.1-.2-1-.2-1.1-.1-1 0-1.1 .1 0 5z"/>
<path transform="translate(146.3 477)" d="M-11.6 -3.3l-1-.6-1.1-.4-1-.4-1.1-.4-1-.4-1.1-.4-1-.5-1.1-.5-1-.5-1.1-.5-1-.5-1.1-.7-1-.6-1.1-.8-1-.9-1.1-1.1-1-1.2-1.1-1.3-1-1.4-1.1-1.4-1-1.5-1.1-1.4-1-1.2-1.1-1-1-.8-1.1-.6-1-.4-1.1-.3-1-.4-1.1-.4-1-.7-1.1-.7-1-.8-1.1-.7-1-.7-1.1-.6-1-.6-1.1-.6-1.1-.7-1-.6-1.1-.5-1-.4-1.1-.3-1-.1-1.1 0-1 0-1.1-.1-1-.2-1.1-.3-1-.4-1.1-.4-1-.3-1.1-.4-1-.1-1.1-.1-1 .2-1.1 .3-1 .4-1.1 .6-1 .7-1.1 .7-1 .7-1.1 .7-1 .6-1.1 .5-1 .3-1.1 .2-1 0-1.1 0-1-.2-1.1-.3-1-.3-1.1-.4-1-.3-1.1-.4-1-.3-1.1-.3-1-.3-1.1-.3-1-.3-1.1-.3-1-.3-1.1-.3-1-.3-1.1-.2-1-.2-1.1-.1-1 0-1.1 .1 0 4.8z"/>
<path transform="translate(145.8 477.6)" d="M-10.5 -3l-1.1-.6-1-.3-1.1-.4-1-.4-1.1-.4-1-.5-1.1-.4-1-.5-1.1-.5-1-.5-1.1-.6-1-.5-1.1-.7-1-.7-1.1-.8-1-1-1.1-1.1-1-1.2-1.1-1.3-1-1.5-1.1-1.5-1-1.4-1.1-1.4-1-1.2-1.1-1-1-.7-1.1-.5-1-.3-1.1-.3-1-.2-1.1-.4-1-.5-1.1-.6-1-.6-1.1-.7-1-.6-1.1-.6-1-.5-1.1-.6-1-.7-1.1-.7-1.1-.6-1-.6-1.1-.4-1-.4-1.1-.3-1-.2-1.1-.4-1-.4-1.1-.5-1-.5-1.1-.5-1-.5-1.1-.4-1-.2-1.1 0-1 .2-1.1 .3-1 .6-1.1 .7-1 .8-1.1 .8-1 .9-1.1 .8-1 .8-1.1 .7-1 .5-1.1 .4-1 .2-1.1 .1-1 0-1.1-.2-1-.2-1.1-.2-1-.3-1.1-.4-1-.3-1.1-.4-1-.3-1.1-.4-1-.4-1.1-.4-1-.4-1.1-.3-1-.3-1.1-.2-1-.2-1.1-.1-1 0-1.1 0 0 4.6z"/>
<path transform="translate(145.2 478.1)" d="M-10.5 -3l-1.1-.6-1-.4-1.1-.4-1-.4-1.1-.4-1-.4-1.1-.5-1-.5-1.1-.5-1-.5-1.1-.6-1-.6-1.1-.7-1-.7-1.1-.9-1-1-1.1-1.1-1-1.2-1.1-1.4-1-1.5-1.1-1.4-1-1.5-1.1-1.3-1-1.2-1.1-.9-1-.7-1.1-.4-1-.2-1.1-.1-1-.2-1.1-.2-1-.4-1.1-.4-1-.6-1.1-.5-1-.6-1.1-.5-1-.6-1.1-.6-1.1-.7-1-.7-1.1-.8-1-.7-1.1-.7-1-.6-1.1-.6-1-.5-1.1-.6-1-.7-1.1-.7-1-.7-1.1-.7-1-.6-1.1-.4-1-.2-1.1 0-1 .2-1.1 .4-1 .6-1.1 .8-1 .9-1.1 1-1 1.1-1.1 .9-1 1-1.1 .8-1 .7-1.1 .6-1 .4-1.1 .3-1 .1-1.1 0-1-.1-1.1-.2-1-.3-1.1-.3-1-.4-1.1-.3-1-.4-1.1-.5-1-.4-1.1-.5-1-.4-1.1-.4-1-.3-1.1-.2-1-.2-1.1-.2-1 0-1.1 0 0 4.4z"/>
<path transform="translate(144.6 478.7)" d="M-10.5 -3l-1.1-.6-1-.4-1.1-.4-1-.4-1.1-.5-1-.4-1.1-.5-1-.5-1.1-.5-1-.6-1.1-.5-1-.7-1.1-.7-1-.7-1.1-.9-1-1-1.1-1.1-1-1.3-1.1-1.3-1-1.5-1.1-1.4-1-1.4-1.1-1.3-1-1-1.1-.9-1-.6-1.1-.3-1-.2-1.1 0-1 0-1.1-.1-1-.3-1.1-.4-1-.4-1.1-.5-1-.5-1.1-.5-1-.5-1.1-.7-1.1-.7-1-.9-1.1-.9-1-.9-1.1-.9-1-.9-1.1-.8-1-.9-1.1-.8-1-1-1.1-.9-1-.9-1.1-.8-1-.7-1.1-.4-1-.3-1.1 0-1 .2-1.1 .5-1 .8-1.1 .8-1 1.1-1.1 1.1-1 1.2-1.1 1.1-1 1.1-1.1 1-1 .8-1.1 .8-1 .5-1.1 .4-1 .3-1.1 .1-1 0-1.1-.2-1-.2-1.1-.3-1-.3-1.1-.4-1-.4-1.1-.5-1-.5-1.1-.4-1-.5-1.1-.4-1-.3-1.1-.3-1-.2-1.1-.1-1-.1-1.1 0 0 4.1z"/>
<path transform="translate(144 479.2)" d="M-9.5 -2.7l-1-.6-1.1-.3-1-.4-1.1-.4-1-.4-1.1-.5-1-.5-1.1-.5-1-.5-1.1-.5-1-.6-1.1-.6-1-.6-1.1-.7-1-.8-1.1-.8-1-1-1.1-1.1-1-1.3-1.1-1.3-1-1.4-1.1-1.4-1-1.3-1.1-1.2-1-1-1.1-.7-1-.5-1.1-.3-1-.1-1.1 .1-1 0-1.1 0-1-.1-1.1-.3-1-.3-1.1-.4-1-.5-1.1-.5-1-.6-1.1-.7-1-.8-1.1-1-1.1-1-1-1.1-1.1-1.1-1-1.1-1.1-1.2-1-1.1-1.1-1.2-1-1.1-1.1-1.1-1-1.1-1.1-.9-1-.8-1.1-.6-1-.2-1.1 0-1 .2-1.1 .6-1 .8-1.1 1-1 1.1-1.1 1.2-1 1.3-1.1 1.3-1 1.2-1.1 1.1-1 1-1.1 .9-1 .7-1.1 .5-1 .4-1.1 .2-1 .1-1.1-.1-1-.2-1.1-.2-1-.3-1.1-.4-1-.5-1.1-.4-1-.5-1.1-.5-1-.4-1.1-.5-1-.3-1.1-.3-1-.2-1.1-.2-1-.1-1.1 0 0 3.8z"/>
<path transform="translate(143.5 479.7)" d="M-9.5 -2.7l-1-.6-1.1-.3-1-.4-1.1-.4-1-.5-1.1-.4-1-.5-1.1-.5-1-.5-1.1-.6-1-.5-1.1-.6-1-.7-1.1-.7-1-.7-1.1-.9-1-1-1.1-1.1-1-1.1-1.1-1.3-1-1.3-1.1-1.3-1-1.2-1.1-1.1-1-.9-1.1-.7-1-.5-1.1-.2-1 0-1.1 .1-1 .2-1.1 0-1 0-1.1-.2-1-.3-1.1-.4-1-.4-1.1-.5-1-.6-1.1-.8-1-.9-1.1-1.1-1.1-1.2-1-1.2-1.1-1.4-1-1.3-1.1-1.4-1-1.4-1.1-1.4-1-1.3-1.1-1.4-1-1.2-1.1-1.1-1-.8-1.1-.6-1-.3-1.1 0-1 .3-1.1 .6-1 .9-1.1 1-1 1.3-1.1 1.3-1 1.4-1.1 1.4-1 1.3-1.1 1.3-1 1.1-1.1 .9-1 .8-1.1 .7-1 .4-1.1 .3-1 .2-1.1 0-1-.1-1.1-.3-1-.3-1.1-.3-1-.5-1.1-.4-1-.5-1.1-.5-1-.4-1.1-.4-1-.4-1.1-.3-1-.2-1.1-.2-1-.1-1.1-.1 0 3.5z"/>
<path transform="translate(142.9 480.3)" d="M-9.5 -2.7l-1-.6-1.1-.3-1-.4-1.1-.5-1-.4-1.1-.4-1-.5-1.1-.5-1-.6-1.1-.5-1-.6-1.1-.6-1-.6-1.1-.7-1-.8-1.1-.8-1-.9-1.1-1.1-1-1.1-1.1-1.2-1-1.2-1.1-1.2-1-1.1-1.1-1-1-.8-1.1-.6-1-.4-1.1-.1-1 0-1.1 .1-1 .2-1.1 .1-1 0-1.1-.1-1-.2-1.1-.4-1-.4-1.1-.6-1-.6-1.1-.9-1.1-1-1-1.1-1.1-1.4-1-1.4-1.1-1.5-1-1.6-1.1-1.6-1-1.6-1.1-1.6-1-1.6-1.1-1.4-1-1.4-1.1-1.2-1-.9-1.1-.6-1-.4-1.1 .1-1 .3-1.1 .6-1 .9-1.1 1.2-1 1.3-1.1 1.4-1 1.5-1.1 1.5-1 1.4-1.1 1.3-1 1.2-1.1 1.1-1 .9-1.1 .7-1 .6-1.1 .3-1 .2-1.1 .1-1-.1-1.1-.2-1-.2-1.1-.4-1-.4-1.1-.4-1-.5-1.1-.4-1-.5-1.1-.4-1-.4-1.1-.3-1-.2-1.1-.2-1-.1-1.1-.1 0 3.1z"/>
<path transform="translate(142.3 480.8)" d="M-9.5 -2.7l-1-.6-1.1-.4-1-.3-1.1-.5-1-.4-1.1-.4-1-.5-1.1-.5-1-.6-1.1-.5-1-.6-1.1-.6-1-.6-1.1-.7-1-.7-1.1-.9-1-.8-1.1-1-1-1.1-1.1-1.1-1-1.1-1.1-1.1-1-1-1.1-.8-1-.8-1.1-.5-1-.3-1.1-.1-1 .1-1.1 .1-1 .2-1.1 .1-1 .1-1.1-.1-1-.2-1.1-.4-1-.4-1.1-.6-1-.7-1.1-.9-1.1-1.1-1-1.3-1.1-1.4-1-1.6-1.1-1.7-1-1.7-1.1-1.8-1-1.8-1.1-1.8-1-1.7-1.1-1.6-1-1.5-1.1-1.3-1-.9-1.1-.7-1-.4-1.1 .1-1 .3-1.1 .7-1 .9-1.1 1.2-1 1.4-1.1 1.5-1 1.5-1.1 1.6-1 1.5-1.1 1.4-1 1.3-1.1 1.1-1 1-1.1 .8-1 .6-1.1 .4-1 .3-1.1 .1-1-.1-1.1-.1-1-.2-1.1-.4-1-.3-1.1-.5-1-.4-1.1-.4-1-.5-1.1-.4-1-.3-1.1-.3-1-.3-1.1-.2-1-.1-1.1-.1 0 2.7z"/>
<path transform="translate(141.8 481.4)" d="M-9.5 -2.7l-1-.6-1.1-.3-1-.4-1.1-.5-1-.4-1.1-.4-1-.5-1.1-.5-1-.5-1.1-.6-1-.6-1.1-.6-1-.6-1.1-.7-1-.7-1.1-.7-1-.9-1.1-.9-1-.9-1.1-1-1-1-1.1-1-1-.9-1.1-.8-1-.6-1.1-.4-1-.3-1.1-.1-1 .1-1.1 .1-1 .2-1.1 .1-1 .1-1.1-.1-1-.2-1.1-.4-1-.5-1.1-.6-1-.8-1.1-1-1.1-1.1-1-1.4-1.1-1.5-1-1.7-1.1-1.8-1-1.8-1.1-2-1-1.9-1.1-1.9-1-1.9-1.1-1.7-1-1.6-1.1-1.3-1-1-1.1-.7-1-.4-1.1 0-1 .4-1.1 .7-1 1-1.1 1.2-1 1.4-1.1 1.6-1 1.6-1.1 1.6-1 1.5-1.1 1.5-1 1.3-1.1 1.2-1 1-1.1 .8-1 .7-1.1 .5-1 .3-1.1 .1-1 0-1.1-.1-1-.2-1.1-.3-1-.3-1.1-.4-1-.4-1.1-.5-1-.4-1.1-.4-1-.3-1.1-.3-1-.3-1.1-.2-1-.2-1.1-.1 0 2.4z"/>
<path transform="translate(141.2 481.9)" d="M-9.5 -2.7l-1-.6-1.1-.3-1-.4-1.1-.4-1-.5-1.1-.4-1-.5-1.1-.5-1-.5-1.1-.6-1-.5-1.1-.6-1-.6-1.1-.7-1-.6-1.1-.8-1-.7-1.1-.9-1-.8-1.1-.9-1-.9-1.1-.9-1-.8-1.1-.6-1-.6-1.1-.4-1-.2-1.1-.1-1 .1-1.1 .1-1 .1-1.1 .1-1 .1-1.1-.1-1-.3-1.1-.3-1-.6-1.1-.6-1-.9-1.1-1-1.1-1.2-1-1.4-1.1-1.6-1-1.8-1.1-1.8-1-2-1.1-2.1-1-2-1.1-2-1-2-1.1-1.8-1-1.6-1.1-1.3-1-1.1-1.1-.7-1-.4-1.1 0-1 .4-1.1 .7-1 1-1.1 1.2-1 1.5-1.1 1.5-1 1.7-1.1 1.6-1 1.6-1.1 1.5-1 1.3-1.1 1.3-1 1-1.1 .9-1 .6-1.1 .5-1 .4-1.1 .1-1 .1-1.1-.1-1-.2-1.1-.2-1-.3-1.1-.4-1-.4-1.1-.4-1-.4-1.1-.4-1-.3-1.1-.3-1-.3-1.1-.2-1-.2-1.1-.1 0 2z"/>
<path transform="translate(140.6 482.4)" d="M-9.5 -2.7l-1-.6-1.1-.3-1-.4-1.1-.4-1-.4-1.1-.5-1-.5-1.1-.4-1-.6-1.1-.5-1-.5-1.1-.6-1-.6-1.1-.6-1-.7-1.1-.6-1-.8-1.1-.7-1-.8-1.1-.8-1-.8-1.1-.7-1-.7-1.1-.6-1-.5-1.1-.3-1-.2-1.1-.1-1 0-1.1 .1-1 .1-1.1 .1-1 0-1.1-.2-1-.2-1.1-.4-1-.6-1.1-.7-1-.9-1.1-1-1.1-1.3-1-1.5-1.1-1.6-1-1.8-1.1-1.9-1-2.1-1.1-2.1-1-2.1-1.1-2-1-2-1.1-1.9-1-1.6-1.1-1.4-1-1.1-1.1-.7-1-.4-1.1 0-1 .4-1.1 .7-1 1-1.1 1.2-1 1.5-1.1 1.5-1 1.7-1.1 1.6-1 1.6-1.1 1.5-1 1.4-1.1 1.2-1 1-1.1 .9-1 .7-1.1 .5-1 .4-1.1 .2-1 0-1.1 0-1-.2-1.1-.2-1-.3-1.1-.3-1-.4-1.1-.3-1-.4-1.1-.4-1-.3-1.1-.3-1-.3-1.1-.2-1-.2-1.1-.2 0 1.7z"/>
<path transform="translate(140 483)" d="M-10.5 -3l-1.1-.6-1-.4-1.1-.4-1-.4-1.1-.5-1-.4-1.1-.5-1-.5-1.1-.5-1-.5-1.1-.6-1-.6-1.1-.6-1-.6-1.1-.6-1-.7-1.1-.6-1-.7-1.1-.7-1-.7-1.1-.7-1-.6-1.1-.5-1-.4-1.1-.3-1-.2-1.1-.1-1 0-1.1 0-1 .1-1.1 0-1-.1-1.1-.1-1-.3-1.1-.5-1-.5-1.1-.8-1-.9-1.1-1.1-1.1-1.3-1-1.4-1.1-1.7-1-1.8-1.1-2-1-2-1.1-2.1-1-2.2-1.1-2.1-1-2-1.1-1.8-1-1.7-1.1-1.4-1-1-1.1-.8-1-.3-1.1 0-1 .3-1.1 .7-1 1-1.1 1.2-1 1.4-1.1 1.6-1 1.6-1.1 1.6-1 1.6-1.1 1.4-1 1.4-1.1 1.2-1 1-1.1 .9-1 .7-1.1 .5-1 .4-1.1 .2-1 .1-1.1 0-1-.2-1.1-.2-1-.2-1.1-.4-1-.3-1.1-.3-1-.4-1.1-.3-1-.4-1.1-.3-1-.2-1.1-.3-1-.2-1.1-.2 0 1.4z"/>
<path transform="translate(139.5 483.5)" d="M-10.5 -3l-1.1-.6-1-.4-1.1-.4-1-.4-1.1-.4-1-.4-1.1-.5-1-.5-1.1-.5-1-.5-1.1-.6-1-.5-1.1-.6-1-.5-1.1-.6-1-.6-1.1-.6-1-.7-1.1-.6-1-.6-1.1-.6-1-.5-1.1-.4-1-.4-1.1-.3-1-.2-1.1-.1-1 0-1.1 0-1 0-1.1-.1-1-.1-1.1-.2-1-.3-1.1-.5-1-.6-1.1-.8-1-.9-1.1-1.1-1-1.3-1.1-1.5-1.1-1.6-1-1.8-1.1-2-1-2-1.1-2.1-1-2.1-1.1-2.1-1-2-1.1-1.8-1-1.7-1.1-1.3-1-1.1-1.1-.7-1-.4-1.1 0-1 .3-1.1 .7-1 .9-1.1 1.2-1 1.4-1.1 1.5-1 1.6-1.1 1.5-1 1.6-1.1 1.4-1 1.3-1.1 1.2-1 1-1.1 .9-1 .7-1.1 .5-1 .3-1.1 .2-1 .1-1.1 0-1-.1-1.1-.2-1-.2-1.1-.3-1-.3-1.1-.4-1-.3-1.1-.3-1-.4-1.1-.3-1-.2-1.1-.3-1-.2-1.1-.3 0 1.2z"/>
<path transform="translate(138.9 484.1)" d="M-10.5 -3l-1.1-.6-1-.3-1.1-.4-1-.4-1.1-.4-1-.5-1.1-.4-1-.5-1.1-.5-1-.5-1.1-.5-1-.5-1.1-.5-1-.6-1.1-.5-1-.6-1.1-.6-1-.5-1.1-.6-1-.5-1.1-.5-1-.5-1.1-.4-1-.3-1.1-.3-1-.1-1.1-.2-1-.1-1.1 0-1-.1-1.1-.1-1-.1-1.1-.3-1-.3-1.1-.5-1-.7-1.1-.7-1-1-1.1-1.1-1-1.2-1.1-1.5-1.1-1.6-1-1.8-1.1-1.9-1-2-1.1-2.1-1-2-1.1-2.1-1-1.9-1.1-1.8-1-1.6-1.1-1.4-1-1-1.1-.7-1-.4-1.1 0-1 .3-1.1 .6-1 .9-1.1 1.2-1 1.3-1.1 1.4-1 1.5-1.1 1.5-1 1.5-1.1 1.4-1 1.3-1.1 1.1-1 1-1.1 .8-1 .6-1.1 .5-1 .4-1.1 .2-1 .1-1.1 0-1-.1-1.1-.2-1-.2-1.1-.3-1-.3-1.1-.3-1-.4-1.1-.3-1-.3-1.1-.3-1-.3-1.1-.2-1-.3-1.1-.2 0 .9z"/>
<path transform="translate(138.3 484.6)" d="M-11.6 -3.3l-1-.6-1.1-.4-1-.4-1.1-.4-1-.4-1.1-.4-1-.5-1.1-.5-1-.4-1.1-.5-1-.5-1.1-.5-1-.5-1.1-.5-1-.6-1.1-.5-1-.5-1.1-.5-1-.4-1.1-.5-1-.4-1.1-.4-1-.3-1.1-.2-1-.2-1.1-.2-1-.1-1.1-.1-1-.1-1.1-.2-1-.2-1.1-.2-1-.4-1.1-.5-1-.7-1.1-.8-1-.9-1.1-1.1-1.1-1.2-1-1.4-1.1-1.6-1-1.7-1.1-1.9-1-1.9-1.1-2-1-2-1.1-2-1-1.9-1.1-1.7-1-1.5-1.1-1.3-1-1-1.1-.7-1-.4-1.1 0-1 .2-1.1 .6-1 .9-1.1 1.1-1 1.2-1.1 1.4-1 1.4-1.1 1.4-1 1.4-1.1 1.3-1 1.2-1.1 1-1 1-1.1 .7-1 .6-1.1 .5-1 .3-1.1 .2-1 .1-1.1 0-1-.1-1.1-.2-1-.2-1.1-.2-1-.3-1.1-.3-1-.3-1.1-.4-1-.3-1.1-.3-1-.2-1.1-.3-1-.3-1.1-.2 0 .7z"/>
<path transform="translate(137.7 485.2)" d="M-11.6 -3.3l-1-.6-1.1-.3-1-.4-1.1-.4-1-.4-1.1-.5-1-.4-1.1-.4-1-.5-1.1-.5-1-.4-1.1-.5-1-.5-1.1-.5-1-.4-1.1-.5-1-.5-1.1-.4-1-.4-1.1-.4-1-.4-1.1-.4-1-.2-1.1-.3-1-.2-1.1-.2-1-.1-1.1-.2-1-.1-1.1-.2-1-.3-1.1-.3-1-.4-1.1-.5-1-.6-1.1-.8-1-.9-1.1-1.1-1.1-1.2-1-1.3-1.1-1.6-1-1.6-1.1-1.8-1-1.8-1.1-1.9-1-1.9-1.1-1.9-1-1.8-1.1-1.7-1-1.5-1.1-1.2-1-1-1.1-.7-1-.3-1.1-.1-1 .3-1.1 .5-1 .8-1.1 1-1 1.2-1.1 1.2-1 1.3-1.1 1.4-1 1.2-1.1 1.3-1 1.1-1.1 1-1 .8-1.1 .7-1 .6-1.1 .4-1 .3-1.1 .2-1 .1-1.1-.1-1-.1-1.1-.1-1-.2-1.1-.3-1-.3-1.1-.3-1-.3-1.1-.3-1-.3-1.1-.3-1-.3-1.1-.2-1-.3-1.1-.3 0 .6z"/>
<path transform="translate(137.2 485.7)" d="M-12.6 -3.6l-1.1-.6-1-.4-1.1-.4-1-.4-1.1-.4-1-.4-1.1-.4-1-.4-1.1-.5-1-.4-1.1-.5-1-.4-1.1-.5-1-.4-1.1-.5-1-.4-1.1-.4-1-.4-1.1-.4-1-.3-1.1-.3-1-.3-1.1-.3-1-.2-1.1-.2-1-.2-1.1-.1-1-.2-1.1-.3-1-.2-1.1-.4-1-.4-1.1-.5-1-.7-1.1-.7-1-.9-1.1-1-1-1.2-1.1-1.3-1.1-1.4-1-1.6-1.1-1.6-1-1.8-1.1-1.8-1-1.8-1.1-1.8-1-1.7-1.1-1.5-1-1.4-1.1-1.2-1-.9-1.1-.7-1-.4-1.1 0-1 .2-1.1 .5-1 .7-1.1 .9-1 1-1.1 1.2-1 1.2-1.1 1.2-1 1.2-1.1 1.1-1 1-1.1 .9-1 .8-1.1 .6-1 .6-1.1 .3-1 .3-1.1 .1-1 .1-1.1 0-1-.1-1.1-.2-1-.2-1.1-.3-1-.2-1.1-.3-1-.3-1.1-.3-1-.3-1.1-.3-1-.3-1.1-.3-1-.3-1.1-.2 0 .4z"/>
<path transform="translate(136.6 486.2)" d="M-12.6 -3.6l-1.1-.6-1-.3-1.1-.4-1-.4-1.1-.4-1-.4-1.1-.4-1-.4-1.1-.4-1-.5-1.1-.4-1-.4-1.1-.4-1-.4-1.1-.5-1-.4-1.1-.3-1-.4-1.1-.3-1-.4-1.1-.3-1-.3-1.1-.2-1-.2-1.1-.3-1-.2-1.1-.2-1-.2-1.1-.3-1-.3-1.1-.3-1-.5-1.1-.5-1-.6-1.1-.7-1-.9-1.1-.9-1.1-1.1-1-1.2-1.1-1.4-1-1.5-1.1-1.5-1-1.7-1.1-1.7-1-1.6-1.1-1.7-1-1.6-1.1-1.5-1-1.3-1.1-1.1-1-.9-1.1-.6-1-.4-1.1 0-1 .1-1.1 .4-1 .7-1.1 .8-1 .9-1.1 1.1-1 1.1-1.1 1-1 1.1-1.1 1-1 .9-1.1 .8-1 .7-1.1 .6-1 .4-1.1 .4-1 .2-1.1 .1-1 0-1.1 0-1-.1-1.1-.2-1-.2-1.1-.3-1-.2-1.1-.3-1-.3-1.1-.3-1-.3-1.1-.3-1-.3-1.1-.3-1-.2-1.1-.3 0 .3z"/>
<path transform="translate(136 486.8)" d="M-13.7 -4l-1-.5-1.1-.4-1-.3-1.1-.4-1-.4-1.1-.4-1-.4-1.1-.4-1-.4-1.1-.4-1-.4-1.1-.4-1-.4-1.1-.4-1-.3-1.1-.4-1-.4-1.1-.3-1-.3-1.1-.3-1-.3-1.1-.2-1-.3-1.1-.2-1-.2-1.1-.3-1-.2-1.1-.3-1-.3-1.1-.4-1-.4-1.1-.6-1-.6-1.1-.6-1-.8-1.1-1-1.1-1-1-1.1-1.1-1.3-1-1.4-1.1-1.4-1-1.5-1.1-1.6-1-1.6-1.1-1.5-1-1.5-1.1-1.3-1-1.3-1.1-1-1-.8-1.1-.6-1-.4-1.1-.1-1 .1-1.1 .4-1 .5-1.1 .7-1 .9-1.1 .9-1 1-1.1 .9-1 1-1.1 .8-1 .8-1.1 .8-1 .6-1.1 .4-1 .4-1.1 .3-1 .2-1.1 .1-1 0-1.1-.1-1-.1-1.1-.2-1-.2-1.1-.3-1-.2-1.1-.3-1-.3-1.1-.3-1-.3-1.1-.3-1-.3-1.1-.3-1-.3-1.1-.2 0 .2z"/>
<path transform="translate(135.5 487.3)" d="M-14.7 -4.3l-1.1-.5-1-.4-1.1-.3-1-.4-1.1-.4-1-.4-1.1-.3-1-.4-1.1-.4-1-.4-1.1-.4-1-.4-1.1-.3-1-.4-1.1-.3-1-.4-1.1-.3-1-.3-1.1-.3-1-.3-1.1-.2-1-.3-1.1-.2-1-.3-1.1-.2-1-.3-1.1-.3-1-.3-1.1-.4-1-.4-1.1-.6-1-.5-1.1-.7-1-.7-1.1-.9-1.1-1-1-1-1.1-1.2-1-1.2-1.1-1.4-1-1.4-1.1-1.4-1-1.5-1.1-1.4-1-1.3-1.1-1.3-1-1.1-1.1-1-1-.8-1.1-.5-1-.4-1.1-.1-1 .1-1.1 .3-1 .4-1.1 .6-1 .7-1.1 .8-1 .9-1.1 .8-1 .8-1.1 .8-1 .7-1.1 .6-1 .5-1.1 .4-1 .3-1.1 .2-1 .2-1.1 0-1 0-1.1-.1-1-.1-1.1-.2-1-.2-1.1-.3-1-.3-1.1-.2-1-.3-1.1-.3-1-.3-1.1-.3-1-.1z"/>
<path transform="translate(134.9 487.9)" d="M-15.8 -4.6l-1-.5-1.1-.4-1-.3-1.1-.4-1-.3-1.1-.4-1-.4-1.1-.4-1-.3-1.1-.4-1-.4-1.1-.3-1-.4-1.1-.3-1-.3-1.1-.3-1-.3-1.1-.3-1-.3-1.1-.3-1-.2-1.1-.3-1-.3-1.1-.2-1-.3-1.1-.3-1-.4-1.1-.3-1-.5-1.1-.5-1-.5-1.1-.6-1-.8-1.1-.8-1-.8-1.1-1-1.1-1.1-1-1.1-1.1-1.3-1-1.2-1.1-1.4-1-1.3-1.1-1.3-1-1.2-1.1-1.2-1-1-1.1-.9-1-.7-1.1-.6-1-.3-1.1-.1-1 0-1.1 .2-1 .4-1.1 .5-1 .6-1.1 .7-1 .7-1.1 .7-1 .7-1.1 .6-1 .6-1.1 .5-1 .4-1.1 .4-1 .2-1.1 .2-1 0-1.1 .1-1-.1-1.1-.1-1-.2-1.1-.2-1-.2-1.1-.2-1-.3-1.1-.1z"/>
<path transform="translate(134.3 488.4)" d="M-16.8 -4.9l-1.1-.5-1-.3-1.1-.4-1-.4-1.1-.3-1-.4-1.1-.3-1-.4-1.1-.3-1-.4-1.1-.3-1-.4-1.1-.3-1-.3-1.1-.3-1-.3-1.1-.3-1-.3-1.1-.3-1-.2-1.1-.3-1-.3-1.1-.3-1-.3-1.1-.3-1-.3-1.1-.4-1-.4-1.1-.5-1-.5-1.1-.6-1-.7-1.1-.7-1.1-.8-1-.9-1.1-1-1-1.1-1.1-1.1-1-1.1-1.1-1.2-1-1.2-1.1-1.2-1-1.1-1.1-1.1-1-.9-1.1-.8-1-.7-1.1-.5-1-.4-1.1-.1-1 0-1.1 .1-1 .3-1.1 .4-1 .5-1.1 .6-1 .6-1.1 .5-1 .6-1.1 .5-1 .5-1.1 .4-1 .4-1.1 .2-1 .2-1.1 .1-1 0-1.1 0-1-.1-1.1-.1-1-.2-1.1-.2-1-.2-1.1-.3-1-.1z"/>
<path transform="translate(133.7 488.9)" d="M-17.9 -5.2l-1-.5-1.1-.3-1-.4-1.1-.3-1-.4-1.1-.3-1-.4-1.1-.3-1-.3-1.1-.4-1-.3-1.1-.3-1-.3-1.1-.3-1-.3-1.1-.3-1-.3-1.1-.3-1-.3-1.1-.3-1-.2-1.1-.3-1-.3-1.1-.4-1-.3-1.1-.4-1-.4-1.1-.4-1-.5-1.1-.6-1-.6-1.1-.7-1.1-.8-1-.8-1.1-.9-1-.9-1.1-1-1-1.1-1.1-1-1-1.1-1.1-1.1-1-1-1.1-.9-1-.9-1.1-.8-1-.6-1.1-.5-1-.3-1.1-.2-1 0-1.1 .1-1 .2-1.1 .3-1 .4-1.1 .4-1 .5-1.1 .5-1 .4-1.1 .4-1 .4-1.1 .3-1 .3-1.1 .1-1 .2-1.1 0-1 0-1.1-.1-1-.1-1.1-.1-1-.2-1.1-.2-1-.3-1.1-.1z"/>
<path transform="translate(133.2 489.5)" d="M-20 -5.8l-1-.5-1.1-.3-1-.4-1.1-.3-1-.4-1.1-.3-1-.3-1.1-.3-1-.4-1.1-.3-1-.3-1.1-.3-1-.3-1.1-.3-1-.3-1.1-.3-1-.3-1.1-.2-1-.3-1.1-.3-1-.3-1.1-.4-1-.3-1.1-.4-1-.4-1.1-.4-1-.5-1.1-.5-1-.6-1.1-.6-1-.7-1.1-.8-1.1-.8-1-.8-1.1-.9-1-1-1.1-.9-1-1-1.1-.9-1-1-1.1-.8-1-.8-1.1-.7-1-.6-1.1-.4-1-.4-1.1-.2-1 0-1.1 0-1 .1-1.1 .3-1 .3-1.1 .3-1 .3-1.1 .4-1 .3-1.1 .4-1 .2-1.1 .3-1 .1-1.1 .1-1 .1-1.1 0-1 0-1.1-.1-1-.2-1.1-.2-1-.2-1.1-.2-1-.1z"/>
<path transform="translate(132.6 490)" d="M-22.1 -6.4l-1-.5-1.1-.3-1-.4-1.1-.3-1-.3-1.1-.3-1-.4-1.1-.3-1-.3-1.1-.3-1-.3-1.1-.3-1-.3-1.1-.3-1-.3-1.1-.2-1-.3-1.1-.3-1-.4-1.1-.3-1-.3-1.1-.4-1-.4-1.1-.4-1-.4-1.1-.5-1-.6-1.1-.5-1-.7-1.1-.7-1.1-.7-1-.8-1.1-.8-1-.8-1.1-.9-1-.9-1.1-.8-1-.8-1.1-.8-1-.7-1.1-.6-1-.6-1.1-.4-1-.3-1.1-.3-1-.1-1.1 0-1 .1-1.1 .1-1 .2-1.1 .3-1 .2-1.1 .3-1 .2-1.1 .2-1 .2-1.1 .2-1 .1-1.1 0-1 0-1.1 0-1-.1-1.1-.1-1-.2-1.1-.2-1-.2-1.1-.1z"/>
<path transform="translate(132 490.6)" d="M-25.2 -7.3l-1.1-.5-1-.3-1.1-.4-1-.3-1.1-.3-1-.3-1.1-.3-1-.3-1.1-.3-1-.3-1.1-.3-1-.3-1.1-.3-1-.3-1.1-.3-1-.3-1.1-.3-1-.4-1.1-.3-1-.4-1.1-.4-1-.4-1.1-.5-1-.5-1.1-.5-1.1-.6-1-.6-1.1-.7-1-.7-1.1-.7-1-.8-1.1-.7-1-.8-1.1-.8-1-.7-1.1-.7-1-.6-1.1-.6-1-.5-1.1-.4-1-.4-1.1-.2-1-.1-1.1-.1-1 0-1.1 .1-1 .1-1.1 .2-1 .1-1.1 .2-1 .1-1.1 .2-1 .1-1.1 .1-1 0-1.1 0-1-.1-1.1-.1-1-.1-1.1-.1-1-.2-1.1-.2-1-.3-1.1-.1z"/>
<path transform="translate(131.4 491.1)" d="M-43.1 -12.5l-1-.5-1.1-.3-1-.4-1.1-.4-1-.4-1.1-.4-1-.5-1.1-.5-1.1-.5-1-.6-1.1-.6-1-.6-1.1-.7-1-.7-1.1-.7-1-.6-1.1-.7-1-.7-1.1-.6-1-.6-1.1-.5-1-.5-1.1-.4-1-.3-1.1-.3-1-.1-1.1-.1-1-.1-1.1 0-1 .1-1.1 0-1 .1-1.1 .1-1 .1-1.1 0-1 .1-1.1 0-1 0-1.1-.1-1-.1-1.1-.1-1-.2-1.1-.2-1-.2-1.1-.2-1 0z"/>
<path transform="translate(130.9 491.6)" d="M-44.1 -12.8l-1.1-.5-1-.3-1.1-.4-1-.4-1.1-.4-1-.5-1.1-.4-1-.5-1.1-.5-1.1-.6-1-.5-1.1-.6-1-.6-1.1-.7-1-.6-1.1-.6-1-.6-1.1-.6-1-.5-1.1-.5-1-.4-1.1-.4-1-.3-1.1-.3-1-.2-1.1-.1-1-.1-1.1-.1-1 0-1.1 0-1 0-1.1 .1-1 0-1.1 0-1-.1-1.1 0-1-.1-1.1-.1-1-.1-1.1-.2-1-.2-1.1-.2-1-.2-1.1 0z"/>
<path transform="translate(130.3 492.2)" d="M-45.2 -13.1l-1-.5-1.1-.3-1-.4-1.1-.4-1-.4-1.1-.5-1.1-.4-1-.5-1.1-.5-1-.5-1.1-.5-1-.6-1.1-.6-1-.5-1.1-.6-1-.5-1.1-.5-1-.5-1.1-.5-1-.4-1.1-.4-1-.3-1.1-.2-1-.2-1.1-.2-1-.2-1.1-.1-1 0-1.1-.1-1 0-1.1-.1-1 0-1.1-.1-1-.1-1.1-.1-1-.1-1.1-.1-1-.2-1.1-.2-1-.2-1.1-.2-1 0z"/>
<path transform="translate(129.7 492.7)" d="M-46.2 -13.4l-1.1-.5-1-.3-1.1-.4-1-.4-1.1-.4-1.1-.4-1-.5-1.1-.5-1-.4-1.1-.5-1-.5-1.1-.5-1-.5-1.1-.5-1-.5-1.1-.5-1-.5-1.1-.4-1-.4-1.1-.3-1-.3-1.1-.3-1-.2-1.1-.2-1-.2-1.1-.2-1-.1-1.1-.1-1-.1-1.1-.1-1-.1-1.1-.1-1-.1-1.1-.2-1-.1-1.1-.2-1-.2-1.1-.2-1-.2-1.1-.3-1 0z"/>
<path transform="translate(129.1 493.3)" d="M-48.3 -14l-1.1-.6-1-.3-1.1-.4-1.1-.4-1-.4-1.1-.5-1-.4-1.1-.4-1-.5-1.1-.5-1-.4-1.1-.5-1-.5-1.1-.4-1-.4-1.1-.4-1-.4-1.1-.3-1-.3-1.1-.3-1-.3-1.1-.2-1-.2-1.1-.2-1-.1-1.1-.2-1-.1-1.1-.1-1-.2-1.1-.1-1-.2-1.1-.2-1-.2-1.1-.2-1-.2-1.1-.2-1-.3-1.1 0z"/>
<path transform="translate(128.6 493.8)" d="M-49.4 -14.3l-1-.6-1.1-.3-1-.4-1.1-.4-1.1-.4-1-.4-1.1-.4-1-.4-1.1-.5-1-.4-1.1-.4-1-.5-1.1-.4-1-.4-1.1-.3-1-.4-1.1-.3-1-.3-1.1-.3-1-.3-1.1-.2-1-.2-1.1-.2-1-.2-1.1-.2-1-.2-1.1-.2-1-.1-1.1-.2-1-.2-1.1-.2-1-.2-1.1-.3-1-.2-1.1-.3-1 0z"/>
<path transform="translate(128 494.3)" d="M-50.4 -14.6l-1.1-.5-1.1-.4-1-.4-1.1-.4-1-.3-1.1-.4-1-.4-1.1-.4-1-.4-1.1-.4-1-.4-1.1-.4-1-.4-1.1-.3-1-.4-1.1-.3-1-.3-1.1-.3-1-.3-1.1-.2-1-.3-1.1-.2-1-.2-1.1-.2-1-.2-1.1-.2-1-.3-1.1-.2-1-.2-1.1-.2-1-.2-1.1-.3-1-.2-1.1-.1z"/>
<path transform="translate(127.4 494.9)" d="M-51.5 -14.9l-1.1-.5-1-.4-1.1-.3-1-.4-1.1-.4-1-.4-1.1-.3-1-.4-1.1-.4-1-.4-1.1-.3-1-.4-1.1-.3-1-.4-1.1-.3-1-.3-1.1-.3-1-.3-1.1-.2-1-.3-1.1-.2-1-.3-1.1-.2-1-.2-1.1-.3-1-.2-1.1-.2-1-.3-1.1-.2-1-.3-1.1 0z"/>
<path transform="translate(126.9 495.4)" d="M-52.6 -15.2l-1-.5-1.1-.4-1-.3-1.1-.4-1-.3-1.1-.4-1-.3-1.1-.4-1-.4-1.1-.3-1-.4-1.1-.3-1-.3-1.1-.3-1-.3-1.1-.3-1-.3-1.1-.3-1-.3-1.1-.2-1-.3-1.1-.2-1-.3-1.1-.2-1-.3-1.1-.2-1-.3-1.1-.2-1-.1z"/>
<path transform="translate(126.3 496)" d="M-54.7 -15.8l-1-.5-1.1-.4-1-.3-1.1-.4-1-.3-1.1-.4-1-.3-1.1-.3-1-.4-1.1-.3-1-.3-1.1-.3-1-.3-1.1-.3-1-.3-1.1-.3-1-.3-1.1-.3-1-.2-1.1-.3-1-.3-1.1-.2-1-.3-1.1-.2-1-.1z"/>
<path transform="translate(125.7 496.5)" d="M-56.8 -16.4l-1-.5-1.1-.4-1-.3-1.1-.3-1-.4-1.1-.3-1-.3-1.1-.4-1-.3-1.1-.3-1-.3-1.1-.3-1-.3-1.1-.3-1-.3-1.1-.2-1-.3-1.1-.3-1-.3-1.1-.2-1-.1z"/>
<path transform="translate(125.1 497.1)" d="M-59.9 -17.3l-1.1-.6-1-.3-1.1-.3-1-.3-1.1-.3-1-.4-1.1-.3-1-.3-1.1-.3-1-.3-1.1-.3-1-.3-1.1-.2-1-.3-1.1-.3-1-.1z"/>
<path transform="translate(124.6 497.6)" d="M-64.1 -18.5l-1.1-.6-1-.3-1.1-.3-1-.3-1.1-.3-1-.3-1.1-.1z"/></g>
<g stroke="#4a4a4a" stroke-width=".6" fill="none"><path d="M15.8 469.7L15.8 425.1"/><path d="M15.8 469.7L121.7 500.3"/><path d="M121.7 500.3L179 446.2"/><path d="M15.8 469.7L13.8 469.7"/><path d="M15.8 448.8L13.8 448.8"/><path d="M15.8 427.9L13.8 427.9"/><path d="M16.6 469.9L15.1 471.3"/><path d="M37.6 476L36.2 477.4"/><path d="M58.6 482.1L57.2 483.4"/><path d="M79.7 488.1L78.2 489.5"/><path d="M100.7 494.2L99.2 495.6"/><path d="M121.7 500.3L120.2 501.7"/><path d="M121.7 500.3L124.2 501"/><path d="M150.3 473.2L152.8 474"/><path d="M179 446.2L181.5 446.9"/></g>
<g font-size="5" fill="#3a3a3a"><text x="11.2" y="471.5" text-anchor="end">0</text><text x="11.2" y="450.6" text-anchor="end">100</text><text x="11.2" y="429.7" text-anchor="end">200</text><text x="13.5" y="479.6" text-anchor="end">100</text><text x="34.5" y="485.7" text-anchor="end">80</text><text x="55.5" y="491.8" text-anchor="end">60</text><text x="76.6" y="497.8" text-anchor="end">40</text><text x="97.6" y="503.9" text-anchor="end">20</text><text x="118.6" y="510" text-anchor="end">0</text><text x="126.9" y="507.9">0</text><text x="155.5" y="480.9">50</text><text x="184.2" y="453.8">100</text></g>
<polygon points="96.8,416.8 97.4,418.6 99.4,418.7 97.8,419.8 98.4,421.7 96.8,420.6 95.2,421.7 95.8,419.8 94.2,418.7 96.2,418.6" fill="#f0e01e" stroke="#5a5420" stroke-width=".4"/>
<path d="M96.8 419.5C95.5 419.7 92.2 420.2 89.2 420.8C86.2 421.4 82.4 422 79 423.3C75.6 424.6 71.6 426.5 68.8 428.4C66 430.3 64 432.7 62.4 434.8C60.8 436.9 59.3 439 59.1 441.1C58.9 443.2 60 445.1 61.1 447.5C62.2 449.9 65.3 452.6 65.7 455.2C66.1 457.8 63.5 460.7 63.7 462.8C63.9 464.9 64.7 465.3 66.8 467.9C68.9 470.4 73.1 475.3 76.4 478.1C79.7 480.9 83.7 482.8 86.6 484.5C89.5 486.2 91.2 487 93.8 488.3C96.3 489.6 98.9 490.6 101.9 492.1C105 493.6 108.8 495.8 112.1 497.2C115.4 498.6 120.1 499.8 121.7 500.3" fill="none" stroke="#dd1431" stroke-width="1.4" stroke-linecap="round" stroke-linejoin="round"/>
<circle cx="68.8" cy="428.4" r="1.3" fill="none" stroke="#4f9a4c" stroke-width=".5"/>
<circle cx="59.1" cy="441.1" r="1.3" fill="none" stroke="#4f9a4c" stroke-width=".5"/>
<circle cx="63.7" cy="462.8" r="1.3" fill="none" stroke="#4f9a4c" stroke-width=".5"/>
<circle cx="93.8" cy="488.3" r="1.3" fill="none" stroke="#4f9a4c" stroke-width=".5"/>
<rect x="120.2" y="498.8" width="3" height="3" fill="#f2f01e" stroke="#a9b51e" stroke-width=".3"/>
<text x="97" y="544.2" text-anchor="middle" class="cap">(e) GA</text>
</g>
<g id="plot-f">
<g stroke="#e3e3e3" stroke-width=".6" fill="none"><path d="M287.1 476.8L338.9 417.3"/><path d="M338.9 417.3L454.8 444.3"/><path d="M287.1 456.1L338.9 396.6"/><path d="M338.9 396.6L454.8 423.7"/><path d="M287.1 435.5L338.9 376"/><path d="M338.9 376L454.8 403"/><path d="M287.1 432.8L338.9 373.3"/><path d="M338.9 373.3L454.8 400.3"/><path d="M287.1 476.8L287.1 432.8"/><path d="M297.4 464.9L297.4 420.9"/><path d="M307.8 453L307.8 409"/><path d="M318.2 441.1L318.2 397.1"/><path d="M328.5 429.2L328.5 385.2"/><path d="M338.9 417.3L338.9 373.3"/><path d="M454.8 444.3L454.8 400.3"/><path d="M431.8 438.9L431.8 395"/><path d="M408.8 433.6L408.8 389.6"/><path d="M385.8 428.2L385.8 384.2"/><path d="M362.8 422.9L362.8 378.9"/><path d="M339.8 417.5L339.8 373.5"/><path d="M338.9 417.3L338.9 373.3"/></g>
<polygon fill="#3e26a8" points="403,503.8 288,477 339.8,417.5 454.8,444.3"/>
<g fill="url(#gf)"><path transform="translate(454.8 444.3)" d="M-37.9 -8.8l-1.2-.6-1.1-.3-1.2-.5-1.2-.4-1.1-.5-1.2-.6-1.1-.7-1.1-.8-1.2-1-1.1-1.2-1.2-1.3-1.2-1.6-1.1-1.8-1.2-2.1-1.1-2.2-1.2-2.4-1.1-2.4-1.1-2.5-1.2-2.4-1.1-2.1-1.2-1.9-1.1-1.5-1.2-1-1.2-.4-1.1 0-1.2 .6-1.1 1.1-1.1 1.4-1.2 1.7-1.1 1.9-1.2 1.9-1.2 2-1.1 1.8-1.2 1.7-1.1 1.5-1.2 1.3-1.1 1-1.1 .8-1.2 .5-1.1 .4-1.2 .3-1.1 .1-1.2 0-1.2-.1-1.1-.1-1.2-.2-1.1 0z"/>
<path transform="translate(454.3 444.9)" d="M-36.8 -8.6l-1.2-.5-1.1-.3-1.1-.4-1.2-.4-1.2-.5-1.1-.5-1.2-.7-1.1-.7-1.1-.8-1.2-1-1.2-1.1-1.1-1.4-1.2-1.5-1.1-1.8-1.2-2-1.1-2.1-1.2-2.3-1.1-2.3-1.1-2.4-1.2-2.2-1.2-2.1-1.1-1.7-1.1-1.4-1.2-.9-1.2-.5-1.1 .1-1.2 .6-1.1 1-1.1 1.3-1.2 1.6-1.2 1.8-1.1 1.9-1.2 1.8-1.1 1.8-1.2 1.6-1.1 1.4-1.2 1.2-1.1 .9-1.1 .8-1.2 .5-1.2 .4-1.1 .2-1.1 .1-1.2 .1-1.2-.1-1.1-.1-1.2-.2-1.1 0z"/>
<path transform="translate(453.8 445.5)" d="M-35.6 -8.3l-1.2-.5-1.1-.4-1.2-.3-1.1-.4-1.2-.5-1.2-.5-1.1-.5-1.2-.6-1.1-.8-1.1-.8-1.2-1-1.1-1.1-1.2-1.4-1.2-1.5-1.1-1.7-1.2-1.9-1.1-2.1-1.2-2.2-1.1-2.2-1.1-2.2-1.2-2.2-1.1-1.9-1.2-1.6-1.1-1.3-1.2-.8-1.2-.4-1.1 .1-1.2 .5-1.1 1-1.1 1.3-1.2 1.5-1.1 1.7-1.2 1.8-1.2 1.7-1.1 1.7-1.2 1.5-1.1 1.3-1.2 1.1-1.1 .9-1.1 .7-1.2 .5-1.1 .4-1.2 .2-1.1 .1-1.2 0-1.2 0-1.1-.2-1.2-.1-1.1 0z"/>
<path transform="translate(453.2 446.1)" d="M-34.5 -8l-1.1-.5-1.2-.4-1.1-.3-1.2-.4-1.1-.5-1.2-.4-1.1-.5-1.2-.6-1.2-.7-1.1-.7-1.1-.9-1.2-1-1.1-1.2-1.2-1.3-1.2-1.5-1.1-1.6-1.1-1.9-1.2-2-1.2-2.1-1.1-2.1-1.1-2.1-1.2-2-1.1-1.8-1.2-1.6-1.1-1.1-1.2-.8-1.1-.3-1.2 .1-1.2 .6-1.1 .9-1.1 1.3-1.2 1.4-1.1 1.6-1.2 1.7-1.2 1.6-1.1 1.6-1.1 1.4-1.2 1.2-1.2 1.1-1.1 .8-1.1 .7-1.2 .5-1.1 .3-1.2 .2-1.1 .2-1.2 0-1.1-.1-1.2-.1-1.2-.2-1.1 .1z"/>
<path transform="translate(452.7 446.7)" d="M-33.4 -7.8l-1.1-.5-1.1-.3-1.2-.4-1.1-.4-1.2-.4-1.1-.4-1.2-.5-1.2-.6-1.1-.6-1.2-.7-1.1-.8-1.1-.9-1.2-1-1.1-1.2-1.2-1.3-1.2-1.5-1.1-1.7-1.2-1.8-1.1-1.9-1.2-2-1.1-2.1-1.1-2-1.2-1.9-1.1-1.8-1.2-1.4-1.1-1-1.2-.7-1.2-.2-1.1 .2-1.2 .6-1.1 .9-1.1 1.2-1.2 1.4-1.1 1.6-1.2 1.6-1.2 1.5-1.1 1.5-1.2 1.3-1.1 1.2-1.2 1-1.1 .8-1.1 .6-1.2 .5-1.1 .4-1.2 .2-1.1 .1-1.2 0-1.2 0-1.1-.2-1.2-.1-1.1-.2-1.1 0z"/>
<path transform="translate(452.2 447.3)" d="M-32.2 -7.5l-1.2-.5-1.1-.3-1.1-.4-1.2-.4-1.2-.4-1.1-.4-1.1-.5-1.2-.6-1.2-.6-1.1-.6-1.2-.8-1.1-.8-1.1-1-1.2-1-1.2-1.2-1.1-1.4-1.2-1.5-1.1-1.7-1.2-1.8-1.1-1.9-1.2-2-1.1-2.1-1.1-1.9-1.2-1.9-1.2-1.6-1.1-1.3-1.1-1-1.2-.6-1.2-.1-1.1 .3-1.2 .6-1.1 1-1.1 1.2-1.2 1.4-1.2 1.6-1.1 1.5-1.2 1.5-1.1 1.4-1.2 1.3-1.1 1.1-1.2 1-1.1 .8-1.1 .6-1.2 .5-1.2 .3-1.1 .3-1.1 .1-1.2 0-1.2 0-1.1-.1-1.2-.1-1.1-.2-1.1 0z"/>
<path transform="translate(451.7 447.9)" d="M-32.2 -7.5l-1.2-.5-1.1-.4-1.1-.4-1.2-.4-1.1-.4-1.2-.5-1.1-.6-1.2-.5-1.2-.7-1.1-.7-1.2-.8-1.1-.9-1.1-1-1.2-1.2-1.1-1.2-1.2-1.5-1.2-1.5-1.1-1.7-1.2-1.9-1.1-2-1.2-2-1.1-2-1.1-2-1.2-1.8-1.1-1.6-1.2-1.3-1.1-.9-1.2-.5-1.2 0-1.1 .4-1.2 .8-1.1 1-1.1 1.4-1.2 1.4-1.1 1.5-1.2 1.6-1.2 1.5-1.1 1.4-1.2 1.2-1.1 1.2-1.2 .9-1.1 .8-1.1 .6-1.2 .5-1.1 .4-1.2 .2-1.1 .2-1.2 0-1.2 0-1.1-.1-1.2-.1-1.1-.2-1.1-.1-1.2-.1z"/>
<path transform="translate(451.2 448.5)" d="M-31.1 -7.2l-1.1-.5-1.2-.4-1.1-.4-1.1-.4-1.2-.4-1.1-.5-1.2-.5-1.1-.6-1.2-.7-1.2-.7-1.1-.8-1.2-.9-1.1-.9-1.1-1.1-1.2-1.2-1.1-1.4-1.2-1.5-1.2-1.6-1.1-1.8-1.2-2-1.1-2-1.2-2.1-1.1-2.1-1.1-2.1-1.2-1.8-1.1-1.6-1.2-1.3-1.1-.8-1.2-.4-1.2 .1-1.1 .6-1.2 .9-1.1 1.2-1.1 1.4-1.2 1.6-1.1 1.6-1.2 1.6-1.2 1.5-1.1 1.5-1.2 1.2-1.1 1.2-1.2 .9-1.1 .8-1.1 .7-1.2 .5-1.1 .4-1.2 .2-1.1 .2-1.2 .1-1.2 0-1.1-.1-1.2-.1-1.1-.1-1.1-.2-1.2 0z"/>
<path transform="translate(450.7 449.1)" d="M-29.9 -7l-1.2-.5-1.1-.3-1.2-.4-1.1-.4-1.1-.4-1.2-.5-1.1-.5-1.2-.6-1.1-.6-1.2-.8-1.2-.7-1.1-.9-1.2-1-1.1-1-1.1-1.2-1.2-1.3-1.1-1.4-1.2-1.6-1.2-1.8-1.1-1.9-1.2-2.1-1.1-2.2-1.2-2.2-1.1-2.3-1.1-2.1-1.2-2-1.1-1.6-1.2-1.3-1.1-.8-1.2-.2-1.2 .2-1.1 .7-1.2 1.1-1.1 1.5-1.1 1.6-1.2 1.7-1.1 1.8-1.2 1.7-1.2 1.6-1.1 1.5-1.2 1.3-1.1 1.2-1.2 1-1.1 .8-1.1 .7-1.2 .5-1.1 .4-1.2 .3-1.1 .2-1.2 .1-1.2 .1-1.1 0-1.2-.1-1.1-.2-1.1-.1-1.2-.2-1.1 0z"/>
<path transform="translate(450.1 449.7)" d="M-29.9 -7l-1.2-.5-1.1-.4-1.2-.4-1.1-.4-1.1-.5-1.2-.5-1.1-.6-1.2-.6-1.1-.7-1.2-.8-1.2-.8-1.1-1-1.2-1-1.1-1.2-1.1-1.2-1.2-1.4-1.1-1.6-1.2-1.7-1.2-1.9-1.1-2.1-1.2-2.2-1.1-2.4-1.2-2.4-1.1-2.5-1.1-2.3-1.2-2.1-1.1-1.7-1.2-1.3-1.1-.8-1.2-.1-1.2 .4-1.1 .9-1.2 1.3-1.1 1.7-1.1 1.9-1.2 1.9-1.1 1.9-1.2 1.9-1.2 1.7-1.1 1.6-1.2 1.4-1.1 1.3-1.2 1-1.1 .9-1.1 .8-1.2 .5-1.1 .5-1.2 .3-1.1 .3-1.2 .1-1.2 .1-1.1 0-1.2-.1-1.1-.1-1.1-.2-1.2-.1-1.1 0z"/>
<path transform="translate(449.6 450.2)" d="M-28.8 -6.7l-1.1-.5-1.2-.4-1.1-.3-1.2-.5-1.1-.4-1.1-.5-1.2-.6-1.1-.6-1.2-.7-1.1-.8-1.2-.8-1.2-1-1.1-1-1.2-1.1-1.1-1.3-1.1-1.3-1.2-1.5-1.1-1.7-1.2-1.9-1.2-2-1.1-2.2-1.2-2.5-1.1-2.5-1.2-2.7-1.1-2.7-1.1-2.5-1.2-2.3-1.1-1.9-1.2-1.3-1.1-.7-1.2-.1-1.2 .6-1.1 1.1-1.2 1.6-1.1 1.9-1.1 2.2-1.2 2.2-1.1 2.1-1.2 2.1-1.2 1.9-1.1 1.7-1.2 1.5-1.1 1.3-1.2 1.1-1.1 1-1.1 .8-1.2 .6-1.1 .5-1.2 .4-1.1 .3-1.2 .2-1.2 .1-1.1 0-1.2-.1-1.1-.1-1.1-.1-1.2-.2-1.1 .1z"/>
<path transform="translate(449.1 450.8)" d="M-28.8 -6.7l-1.1-.5-1.2-.4-1.1-.4-1.2-.5-1.1-.5-1.1-.5-1.2-.6-1.1-.7-1.2-.8-1.1-.8-1.2-.9-1.2-1-1.1-1.2-1.2-1.2-1.1-1.3-1.1-1.5-1.2-1.6-1.1-1.8-1.2-1.9-1.2-2.2-1.1-2.4-1.2-2.6-1.1-2.8-1.2-2.9-1.1-2.9-1.1-2.8-1.2-2.5-1.1-2-1.2-1.4-1.1-.7-1.2 0-1.2 .7-1.1 1.4-1.2 1.9-1.1 2.2-1.1 2.4-1.2 2.5-1.1 2.4-1.2 2.2-1.2 2.1-1.1 1.8-1.2 1.6-1.1 1.5-1.2 1.2-1.1 1-1.1 .9-1.2 .6-1.1 .6-1.2 .4-1.1 .3-1.2 .2-1.2 .1-1.1 .1-1.2 0-1.1-.1-1.1-.1-1.2-.2-1.1-.2-1.2 0z"/>
<path transform="translate(448.6 451.4)" d="M-27.6 -6.4l-1.2-.5-1.1-.4-1.2-.4-1.1-.4-1.2-.5-1.1-.5-1.1-.6-1.2-.7-1.1-.7-1.2-.8-1.1-1-1.2-1-1.2-1-1.1-1.2-1.2-1.3-1.1-1.4-1.1-1.6-1.2-1.7-1.1-1.9-1.2-2-1.2-2.3-1.1-2.6-1.2-2.8-1.1-3-1.2-3.1-1.1-3.2-1.1-2.9-1.2-2.7-1.1-2.2-1.2-1.5-1.1-.7-1.2 .1-1.2 .9-1.1 1.6-1.2 2.1-1.1 2.5-1.1 2.7-1.2 2.7-1.1 2.6-1.2 2.5-1.2 2.2-1.1 2-1.2 1.8-1.1 1.5-1.2 1.2-1.1 1.1-1.1 .9-1.2 .8-1.1 .6-1.2 .4-1.1 .4-1.2 .2-1.2 .2-1.1 0-1.2 0-1.1-.1-1.1-.1-1.2-.1-1.1-.2-1.2 0z"/>
<path transform="translate(448.1 452)" d="M-27.6 -6.4l-1.2-.6-1.1-.3-1.2-.4-1.1-.5-1.2-.5-1.1-.6-1.1-.6-1.2-.7-1.1-.8-1.2-.9-1.1-1-1.2-1.1-1.2-1.1-1.1-1.3-1.2-1.4-1.1-1.4-1.1-1.6-1.2-1.8-1.1-2-1.2-2.1-1.2-2.4-1.1-2.7-1.2-2.9-1.1-3.2-1.2-3.3-1.1-3.3-1.1-3.2-1.2-2.8-1.1-2.3-1.2-1.6-1.1-.7-1.2 .2-1.2 1-1.1 1.8-1.2 2.3-1.1 2.7-1.1 3-1.2 2.9-1.1 2.8-1.2 2.7-1.2 2.3-1.1 2.1-1.2 1.9-1.1 1.5-1.2 1.4-1.1 1.1-1.1 1-1.2 .8-1.1 .6-1.2 .5-1.1 .4-1.2 .2-1.2 .2-1.1 .1-1.2 0-1.1-.1-1.1-.1-1.2-.1-1.1-.2-1.2 0z"/>
<path transform="translate(447.5 452.6)" d="M-27.6 -6.4l-1.2-.6-1.1-.4-1.2-.4-1.1-.5-1.2-.5-1.1-.7-1.1-.6-1.2-.8-1.1-.9-1.2-.9-1.1-1.1-1.2-1.1-1.2-1.2-1.1-1.3-1.2-1.4-1.1-1.6-1.1-1.6-1.2-1.8-1.1-2-1.2-2.2-1.2-2.5-1.1-2.7-1.2-3-1.1-3.3-1.2-3.4-1.1-3.5-1.1-3.3-1.2-2.9-1.1-2.4-1.2-1.6-1.1-.7-1.2 .2-1.2 1.2-1.1 1.9-1.2 2.5-1.1 2.9-1.1 3.1-1.2 3.1-1.1 2.9-1.2 2.8-1.2 2.5-1.1 2.1-1.2 1.9-1.1 1.7-1.2 1.4-1.1 1.1-1.1 1-1.2 .8-1.1 .7-1.2 .5-1.1 .4-1.2 .3-1.2 .1-1.1 .1-1.2 0-1.1 0-1.1-.1-1.2-.1-1.1-.2-1.2 0z"/>
<path transform="translate(447 453.2)" d="M-26.4 -6.2l-1.2-.5-1.2-.3-1.1-.4-1.2-.5-1.1-.5-1.2-.6-1.1-.6-1.1-.7-1.2-.9-1.1-.9-1.2-1-1.1-1.1-1.2-1.2-1.2-1.2-1.1-1.4-1.2-1.5-1.1-1.5-1.1-1.7-1.2-1.8-1.1-2-1.2-2.2-1.2-2.4-1.1-2.8-1.2-3-1.1-3.3-1.2-3.4-1.1-3.5-1.1-3.3-1.2-3-1.1-2.4-1.2-1.6-1.1-.7-1.2 .3-1.2 1.1-1.1 2-1.2 2.6-1.1 3-1.1 3.2-1.2 3.1-1.1 3.1-1.2 2.8-1.2 2.5-1.1 2.2-1.2 1.9-1.1 1.6-1.2 1.5-1.1 1.1-1.1 1-1.2 .9-1.1 .6-1.2 .6-1.1 .3-1.2 .3-1.2 .2-1.1 .1-1.2 0-1.1 0-1.1-.1-1.2-.1-1.1-.2-1.2 0z"/>
<path transform="translate(446.5 453.8)" d="M-26.4 -6.2l-1.2-.5-1.2-.4-1.1-.4-1.2-.5-1.1-.5-1.2-.6-1.1-.7-1.1-.7-1.2-.9-1.1-1-1.2-1-1.1-1.2-1.2-1.2-1.2-1.3-1.1-1.4-1.2-1.5-1.1-1.5-1.1-1.7-1.2-1.8-1.1-1.9-1.2-2.2-1.2-2.4-1.1-2.6-1.2-3-1.1-3.2-1.2-3.4-1.1-3.4-1.1-3.2-1.2-2.9-1.1-2.4-1.2-1.5-1.1-.7-1.2 .3-1.2 1.1-1.1 2-1.2 2.6-1.1 3-1.1 3.1-1.2 3.2-1.1 3-1.2 2.7-1.2 2.5-1.1 2.2-1.2 1.9-1.1 1.6-1.2 1.4-1.1 1.2-1.1 1-1.2 .8-1.1 .7-1.2 .5-1.1 .4-1.2 .2-1.2 .2-1.1 .1-1.2 0-1.1 0-1.1-.1-1.2-.1-1.1-.2-1.2 0z"/>
<path transform="translate(446 454.4)" d="M-26.4 -6.2l-1.2-.5-1.2-.4-1.1-.4-1.2-.5-1.1-.6-1.2-.6-1.1-.7-1.1-.8-1.2-.9-1.1-1-1.2-1.1-1.1-1.2-1.2-1.3-1.2-1.3-1.1-1.4-1.2-1.5-1.1-1.5-1.1-1.6-1.2-1.7-1.1-1.9-1.2-2-1.2-2.3-1.1-2.6-1.2-2.8-1.1-3-1.2-3.2-1.1-3.2-1.1-3.1-1.2-2.8-1.1-2.2-1.2-1.5-1.1-.7-1.2 .3-1.2 1.2-1.1 1.9-1.2 2.4-1.1 2.9-1.1 3-1.2 3-1.1 2.9-1.2 2.7-1.2 2.4-1.1 2.1-1.2 1.8-1.1 1.6-1.2 1.3-1.1 1.2-1.1 .9-1.2 .8-1.1 .6-1.2 .5-1.1 .4-1.2 .3-1.2 .1-1.1 .1-1.2 0-1.1 0-1.1-.1-1.2-.1-1.1-.2-1.2 0z"/>
<path transform="translate(445.5 455)" d="M-26.4 -6.2l-1.2-.5-1.2-.4-1.1-.5-1.2-.5-1.1-.5-1.2-.7-1.1-.7-1.1-.9-1.2-.9-1.1-1-1.2-1.1-1.1-1.2-1.2-1.3-1.2-1.4-1.1-1.4-1.2-1.4-1.1-1.5-1.1-1.5-1.2-1.7-1.1-1.7-1.2-1.9-1.2-2.1-1.1-2.4-1.2-2.5-1.1-2.8-1.2-3-1.1-3-1.1-2.8-1.2-2.6-1.1-2-1.2-1.4-1.1-.6-1.2 .3-1.2 1-1.1 1.8-1.2 2.3-1.1 2.6-1.1 2.8-1.2 2.8-1.1 2.7-1.2 2.5-1.2 2.3-1.1 1.9-1.2 1.8-1.1 1.4-1.2 1.3-1.1 1.1-1.1 .9-1.2 .7-1.1 .6-1.2 .5-1.1 .3-1.2 .3-1.2 .1-1.1 .1-1.2 0-1.1-.1-1.1-.1-1.2-.1-1.1-.2-1.2 0z"/>
<path transform="translate(445 455.6)" d="M-26.4 -6.2l-1.2-.5-1.2-.4-1.1-.5-1.2-.5-1.1-.6-1.2-.6-1.1-.8-1.1-.9-1.2-.9-1.1-1.1-1.2-1.1-1.1-1.2-1.2-1.3-1.2-1.3-1.1-1.4-1.2-1.4-1.1-1.4-1.1-1.4-1.2-1.6-1.1-1.6-1.2-1.7-1.2-1.9-1.1-2.1-1.2-2.3-1.1-2.5-1.2-2.7-1.1-2.6-1.1-2.6-1.2-2.3-1.1-1.8-1.2-1.2-1.1-.6-1.2 .3-1.2 .9-1.1 1.6-1.2 2-1.1 2.4-1.1 2.6-1.2 2.5-1.1 2.4-1.2 2.3-1.2 2-1.1 1.8-1.2 1.6-1.1 1.4-1.2 1.1-1.1 1-1.1 .8-1.2 .7-1.1 .5-1.2 .5-1.1 .3-1.2 .2-1.2 .1-1.1 0-1.2 0-1.1 0-1.1-.2-1.2-.1-1.1-.2-1.2 0z"/>
<path transform="translate(444.4 456.2)" d="M-26.4 -6.2l-1.2-.5-1.2-.4-1.1-.5-1.2-.5-1.1-.6-1.2-.7-1.1-.8-1.1-.8-1.2-1-1.1-1-1.2-1.2-1.1-1.2-1.2-1.2-1.2-1.3-1.1-1.4-1.2-1.3-1.1-1.3-1.1-1.4-1.2-1.4-1.1-1.4-1.2-1.5-1.2-1.7-1.1-1.9-1.2-2-1.1-2.1-1.2-2.3-1.1-2.3-1.1-2.3-1.2-1.9-1.1-1.6-1.2-1.1-1.1-.5-1.2 .2-1.2 .8-1.1 1.4-1.2 1.8-1.1 2-1.1 2.2-1.2 2.2-1.1 2.2-1.2 2-1.2 1.8-1.1 1.6-1.2 1.4-1.1 1.2-1.2 1-1.1 .9-1.1 .7-1.2 .6-1.1 .5-1.2 .4-1.1 .2-1.2 .2-1.2 .1-1.1 0-1.2 0-1.1-.1-1.1-.1-1.2-.2-1.1-.2-1.2 0z"/>
<path transform="translate(443.9 456.8)" d="M-26.4 -6.2l-1.2-.5-1.2-.4-1.1-.5-1.2-.5-1.1-.6-1.2-.7-1.1-.8-1.1-.8-1.2-1-1.1-1-1.2-1.1-1.1-1.2-1.2-1.3-1.2-1.2-1.1-1.3-1.2-1.2-1.1-1.3-1.1-1.2-1.2-1.2-1.1-1.3-1.2-1.4-1.2-1.4-1.1-1.6-1.2-1.7-1.1-1.8-1.2-2-1.1-1.9-1.1-1.9-1.2-1.7-1.1-1.3-1.2-.9-1.1-.4-1.2 .1-1.2 .7-1.1 1.1-1.2 1.5-1.1 1.7-1.1 1.9-1.2 1.9-1.1 1.8-1.2 1.7-1.2 1.6-1.1 1.3-1.2 1.3-1.1 1-1.2 .9-1.1 .8-1.1 .6-1.2 .5-1.1 .4-1.2 .3-1.1 .2-1.2 .2-1.2 0-1.1 0-1.2 0-1.1-.1-1.1-.2-1.2-.2-1.1-.2-1.2 0zM-110.4 -25.7l-1.2-.5-1.1-.3-1.2-.3-1.1-.2 0 .2z"/>
<path transform="translate(443.4 457.4)" d="M-26.4 -6.2l-1.2-.5-1.2-.4-1.1-.5-1.2-.5-1.1-.6-1.2-.7-1.1-.7-1.1-.9-1.2-.9-1.1-1-1.2-1.1-1.1-1.2-1.2-1.1-1.2-1.2-1.1-1.2-1.2-1.2-1.1-1.1-1.1-1.2-1.2-1.1-1.1-1.1-1.2-1.1-1.2-1.3-1.1-1.3-1.2-1.4-1.1-1.5-1.2-1.6-1.1-1.6-1.1-1.6-1.2-1.3-1.1-1.2-1.2-.7-1.1-.4-1.2 .1-1.2 .5-1.1 1-1.2 1.2-1.1 1.4-1.1 1.5-1.2 1.6-1.1 1.5-1.2 1.4-1.2 1.3-1.1 1.1-1.2 1.1-1.1 .9-1.2 .7-1.1 .7-1.1 .5-1.2 .4-1.1 .4-1.2 .2-1.1 .1-1.2 .1-1.2 0-1.1 0-1.2-.1-1.1-.1-1.1-.2-1.2-.1-1.1 0zM-107 -24.9l-1.1-.5-1.1-.3-1.2-.4-1.2-.3-1.1-.3-1.2-.2-1.1-.3 0 .4z"/>
<path transform="translate(442.9 458)" d="M-26.4 -6.2l-1.2-.5-1.2-.4-1.1-.5-1.2-.5-1.1-.6-1.2-.6-1.1-.7-1.1-.9-1.2-.9-1.1-1-1.2-1-1.1-1.1-1.2-1.1-1.2-1.2-1.1-1.1-1.2-1-1.1-1.1-1.1-1-1.2-1-1.1-.9-1.2-1-1.2-1-1.1-1.1-1.2-1.2-1.1-1.2-1.2-1.3-1.1-1.3-1.1-1.3-1.2-1.1-1.1-.9-1.2-.6-1.1-.3-1.2 0-1.2 .4-1.1 .7-1.2 1-1.1 1.1-1.1 1.2-1.2 1.3-1.1 1.2-1.2 1.1-1.2 1.1-1.1 .9-1.2 .9-1.1 .7-1.2 .7-1.1 .5-1.1 .4-1.2 .3-1.1 .3-1.2 .2-1.1 .1-1.2 0-1.2 0-1.1-.1-1.2-.1-1.1-.1-1.1-.2-1.2-.2-1.1 0zM-104.6 -24.4l-1.2-.5-1.2-.3-1.1-.4-1.1-.3-1.2-.4-1.2-.3-1.1-.3-1.2-.3-1.1-.3 0 .7z"/>
<path transform="translate(442.4 458.6)" d="M-26.4 -6.2l-1.2-.5-1.2-.4-1.1-.4-1.2-.5-1.1-.6-1.2-.6-1.1-.7-1.1-.8-1.2-.9-1.1-.9-1.2-1-1.1-1.1-1.2-1-1.2-1.1-1.1-1-1.2-1-1.1-.9-1.1-.9-1.2-.9-1.1-.8-1.2-.9-1.2-.8-1.1-.9-1.2-1-1.1-1-1.2-1-1.1-1.1-1.1-1-1.2-.9-1.1-.7-1.2-.5-1.1-.3-1.2 0-1.2 .3-1.1 .6-1.2 .7-1.1 .9-1.1 .9-1.2 1-1.1 .9-1.2 1-1.2 .8-1.1 .8-1.2 .7-1.1 .6-1.2 .4-1.1 .5-1.1 .3-1.2 .2-1.1 .2-1.2 .1-1.1 .1-1.2 0-1.2-.1-1.1-.1-1.2-.1-1.1-.2-1.1-.2-1.2-.2-1.1 0zM-102.4 -23.9l-1.1-.4-1.1-.4-1.2-.3-1.2-.4-1.1-.4-1.1-.4-1.2-.4-1.2-.4-1.1-.4-1.2-.3-1.1-.2 0 1.1z"/>
<path transform="translate(441.9 459.2)" d="M-26.4 -6.2l-1.2-.5-1.2-.4-1.1-.4-1.2-.5-1.1-.5-1.2-.6-1.1-.7-1.1-.7-1.2-.8-1.1-.9-1.2-1-1.1-.9-1.2-1-1.2-1-1.1-.9-1.2-.9-1.1-.9-1.1-.8-1.2-.7-1.1-.8-1.2-.7-1.2-.7-1.1-.8-1.2-.8-1.1-.8-1.2-.8-1.1-.9-1.1-.8-1.2-.7-1.1-.6-1.2-.5-1.1-.2-1.2 0-1.2 .2-1.1 .4-1.2 .5-1.1 .7-1.1 .7-1.2 .8-1.1 .7-1.2 .8-1.2 .6-1.1 .6-1.2 .6-1.1 .4-1.2 .4-1.1 .3-1.1 .2-1.2 .2-1.1 .1-1.2 .1-1.1 0-1.2-.1-1.2-.1-1.1-.1-1.2-.2-1.1-.2-1.1-.2-1.2-.2-1.1 0zM-101.2 -23.6l-1.2-.5-1.1-.3-1.1-.4-1.2-.5-1.2-.4-1.1-.5-1.1-.5-1.2-.5-1.2-.4-1.1-.4-1.2-.3-1.1-.2 0 1.7z"/>
<path transform="translate(441.3 459.8)" d="M-26.4 -6.2l-1.2-.5-1.2-.3-1.1-.4-1.2-.5-1.1-.5-1.2-.6-1.1-.6-1.1-.7-1.2-.8-1.1-.8-1.2-.9-1.1-.8-1.2-.9-1.2-.9-1.1-.9-1.2-.8-1.1-.8-1.1-.7-1.2-.7-1.1-.7-1.2-.6-1.2-.6-1.1-.7-1.2-.6-1.1-.7-1.2-.8-1.1-.7-1.1-.6-1.2-.6-1.1-.5-1.2-.4-1.1-.2-1.2-.1-1.2 .2-1.1 .3-1.2 .4-1.1 .5-1.1 .5-1.2 .6-1.1 .6-1.2 .5-1.2 .6-1.1 .4-1.2 .4-1.1 .4-1.2 .3-1.1 .2-1.1 .1-1.2 .1-1.1 .1-1.2 0-1.1-.1-1.2-.1-1.2-.1-1.1-.2-1.2-.2-1.1-.2-1.1-.2-1.2-.2-1.1-.3-1.2-.2-1.2-.3-1.1-.3-1.2-.3-1.1-.3-1.2-.3-1.1-.4-1.1-.5-1.2-.5-1.2-.5-1.1-.6-1.1-.6-1.2-.6-1.2-.5-1.1-.5-1.2-.3-1.1-.2 0 2.6z"/>
<path transform="translate(440.8 460.4)" d="M-27.6 -6.4l-1.2-.6-1.1-.4-1.2-.4-1.1-.5-1.2-.5-1.1-.6-1.1-.7-1.2-.7-1.1-.7-1.2-.8-1.1-.8-1.2-.9-1.2-.8-1.1-.8-1.2-.7-1.1-.7-1.1-.7-1.2-.6-1.1-.6-1.2-.6-1.2-.6-1.1-.5-1.2-.6-1.1-.7-1.2-.6-1.1-.6-1.1-.6-1.2-.5-1.1-.4-1.2-.4-1.1-.2-1.2 0-1.2 .1-1.1 .2-1.2 .3-1.1 .3-1.1 .5-1.2 .4-1.1 .5-1.2 .4-1.2 .4-1.1 .4-1.2 .3-1.1 .3-1.2 .2-1.1 .1-1.1 .1-1.2 0-1.1 0-1.2 0-1.1-.1-1.2-.2-1.2-.1-1.1-.2-1.2-.2-1.1-.3-1.1-.2-1.2-.3-1.1-.2-1.2-.3-1.2-.3-1.1-.3-1.2-.3-1.1-.3-1.2-.4-1.1-.4-1.1-.6-1.2-.6-1.2-.7-1.1-.7-1.1-.8-1.2-.7-1.2-.7-1.1-.5-1.2-.3-1.1-.2 0 3.8z"/>
<path transform="translate(440.3 461)" d="M-27.6 -6.4l-1.2-.6-1.1-.3-1.2-.4-1.1-.5-1.2-.5-1.1-.5-1.1-.6-1.2-.7-1.1-.7-1.2-.7-1.1-.7-1.2-.8-1.2-.7-1.1-.7-1.2-.7-1.1-.7-1.1-.6-1.2-.6-1.1-.5-1.2-.6-1.2-.6-1.1-.5-1.2-.6-1.1-.6-1.2-.5-1.1-.6-1.1-.5-1.2-.5-1.1-.4-1.2-.3-1.1-.2-1.2-.1-1.2 .1-1.1 .1-1.2 .3-1.1 .3-1.1 .3-1.2 .4-1.1 .4-1.2 .3-1.2 .4-1.1 .2-1.2 .3-1.1 .2-1.2 .1-1.1 .1-1.1 0-1.2 0-1.1-.1-1.2-.1-1.1-.1-1.2-.2-1.2-.2-1.1-.2-1.2-.3-1.1-.2-1.1-.3-1.2-.3-1.1-.3-1.2-.2-1.2-.3-1.1-.3-1.2-.3-1.1-.4-1.2-.4-1.1-.5-1.1-.7-1.2-.7-1.2-.8-1.1-1-1.1-.9-1.2-.9-1.2-.8-1.1-.7-1.2-.4-1.1-.1 0 5.3z"/>
<path transform="translate(439.8 461.6)" d="M-27.6 -6.4l-1.2-.5-1.1-.4-1.2-.4-1.1-.4-1.2-.4-1.1-.6-1.1-.5-1.2-.6-1.1-.6-1.2-.7-1.1-.6-1.2-.7-1.2-.7-1.1-.6-1.2-.7-1.1-.6-1.1-.6-1.2-.6-1.1-.5-1.2-.6-1.2-.5-1.1-.6-1.2-.5-1.1-.6-1.2-.6-1.1-.5-1.1-.6-1.2-.4-1.1-.4-1.2-.3-1.1-.2-1.2 0-1.2 0-1.1 .1-1.2 .2-1.1 .3-1.1 .3-1.2 .3-1.1 .3-1.2 .3-1.2 .3-1.1 .2-1.2 .2-1.1 .1-1.2 .1-1.1 0-1.1 0-1.2 0-1.1-.1-1.2-.2-1.1-.2-1.2-.2-1.2-.2-1.1-.3-1.2-.2-1.1-.3-1.1-.3-1.2-.3-1.1-.3-1.2-.3-1.2-.3-1.1-.3-1.2-.4-1.1-.4-1.2-.4-1.1-.6-1.1-.8-1.2-.8-1.2-1.1-1.1-1.1-1.1-1.2-1.2-1.1-1.2-1-1.1-.8-1.2-.4-1.1-.1 0 7.1z"/>
<path transform="translate(439.3 462.2)" d="M-28.8 -6.7l-1.1-.5-1.2-.4-1.1-.4-1.2-.4-1.1-.5-1.1-.5-1.2-.5-1.1-.6-1.2-.6-1.1-.6-1.2-.6-1.2-.6-1.1-.6-1.2-.6-1.1-.6-1.1-.6-1.2-.5-1.1-.6-1.2-.6-1.2-.5-1.1-.6-1.2-.6-1.1-.6-1.2-.6-1.1-.6-1.1-.5-1.2-.5-1.1-.3-1.2-.3-1.1-.2-1.2-.1-1.2 0-1.1 .2-1.2 .2-1.1 .2-1.1 .3-1.2 .3-1.1 .3-1.2 .2-1.2 .3-1.1 .2-1.2 .1-1.1 .1-1.2 .1-1.1 0-1.1-.1-1.2-.1-1.1-.1-1.2-.2-1.1-.2-1.2-.3-1.2-.2-1.1-.4-1.2-.3-1.1-.3-1.1-.3-1.2-.4-1.1-.3-1.2-.3-1.2-.3-1.1-.3-1.2-.4-1.1-.4-1.2-.5-1.1-.7-1.1-.8-1.2-1.1-1.2-1.2-1.1-1.4-1.1-1.4-1.2-1.4-1.2-1.2-1.1-.9-1.2-.5-1.1 0 0 9.1z"/>
<path transform="translate(438.7 462.7)" d="M-29.9 -7l-1.2-.5-1.1-.4-1.2-.4-1.1-.4-1.1-.5-1.2-.5-1.1-.5-1.2-.5-1.1-.6-1.2-.5-1.2-.6-1.1-.6-1.2-.5-1.1-.6-1.1-.6-1.2-.5-1.1-.6-1.2-.6-1.2-.6-1.1-.6-1.2-.7-1.1-.6-1.2-.7-1.1-.6-1.1-.5-1.2-.5-1.1-.4-1.2-.3-1.1-.1-1.2-.1-1.2 0-1.1 .1-1.2 .2-1.1 .3-1.1 .3-1.2 .3-1.1 .3-1.2 .2-1.2 .2-1.1 .2-1.2 .1-1.1 .1-1.2 0-1.1 0-1.1-.1-1.2-.1-1.1-.2-1.2-.2-1.1-.2-1.2-.3-1.2-.3-1.1-.4-1.2-.4-1.1-.3-1.1-.4-1.2-.4-1.1-.4-1.2-.3-1.2-.3-1.1-.3-1.2-.4-1.1-.4-1.2-.6-1.1-.7-1.1-1-1.2-1.2-1.2-1.5-1.1-1.6-1.1-1.7-1.2-1.6-1.2-1.4-1.1-1-1.2-.5-1.1 0 0 11.2z"/>
<path transform="translate(438.2 463.3)" d="M-29.9 -7l-1.2-.5-1.1-.3-1.2-.4-1.1-.4-1.1-.4-1.2-.4-1.1-.5-1.2-.5-1.1-.5-1.2-.5-1.2-.5-1.1-.6-1.2-.5-1.1-.6-1.1-.5-1.2-.6-1.1-.6-1.2-.7-1.2-.6-1.1-.7-1.2-.7-1.1-.7-1.2-.7-1.1-.6-1.1-.6-1.2-.5-1.1-.4-1.2-.3-1.1-.2-1.2-.1-1.2 .1-1.1 .1-1.2 .2-1.1 .3-1.1 .3-1.2 .3-1.1 .3-1.2 .3-1.2 .2-1.1 .2-1.2 .1-1.1 0-1.2 .1-1.1-.1-1.1-.1-1.2-.1-1.1-.2-1.2-.3-1.1-.3-1.2-.3-1.2-.4-1.1-.4-1.2-.4-1.1-.5-1.1-.4-1.2-.4-1.1-.4-1.2-.4-1.2-.3-1.1-.3-1.2-.4-1.1-.4-1.2-.6-1.1-.8-1.1-1.1-1.2-1.4-1.2-1.6-1.1-1.9-1.1-1.9-1.2-1.9-1.2-1.6-1.1-1.1-1.2-.6-1.1 .1 0 13.3z"/>
<path transform="translate(437.7 463.9)" d="M-31.1 -7.2l-1.1-.5-1.2-.4-1.1-.4-1.1-.3-1.2-.5-1.1-.4-1.2-.4-1.1-.5-1.2-.5-1.2-.5-1.1-.5-1.2-.5-1.1-.6-1.1-.5-1.2-.7-1.1-.6-1.2-.7-1.2-.7-1.1-.7-1.2-.8-1.1-.7-1.2-.7-1.1-.7-1.1-.7-1.2-.5-1.1-.4-1.2-.3-1.1-.2-1.2-.1-1.2 .1-1.1 .2-1.2 .2-1.1 .3-1.1 .3-1.2 .3-1.1 .3-1.2 .3-1.2 .3-1.1 .1-1.2 .2-1.1 0-1.2 0-1.1 0-1.1-.2-1.2-.1-1.1-.3-1.2-.2-1.1-.4-1.2-.4-1.2-.4-1.1-.5-1.2-.5-1.1-.5-1.1-.5-1.2-.5-1.1-.5-1.2-.3-1.2-.4-1.1-.3-1.2-.4-1.1-.4-1.2-.6-1.1-.8-1.1-1.1-1.2-1.5-1.2-1.8-1.1-2-1.1-2.2-1.2-2.1-1.2-1.8-1.1-1.2-1.2-.6-1.1 .1 0 15.2z"/>
<path transform="translate(437.2 464.5)" d="M-32.2 -7.5l-1.2-.5-1.1-.4-1.1-.3-1.2-.4-1.1-.4-1.2-.4-1.1-.4-1.2-.5-1.2-.5-1.1-.5-1.2-.5-1.1-.5-1.1-.6-1.2-.7-1.1-.6-1.2-.8-1.2-.7-1.1-.8-1.2-.8-1.1-.8-1.2-.8-1.1-.7-1.1-.7-1.2-.5-1.1-.5-1.2-.3-1.1-.2-1.2 0-1.2 0-1.1 .2-1.2 .3-1.1 .3-1.1 .3-1.2 .4-1.1 .3-1.2 .3-1.2 .3-1.1 .2-1.2 .1-1.1 .1-1.2 0-1.1-.1-1.1-.1-1.2-.2-1.1-.3-1.2-.3-1.1-.4-1.2-.5-1.2-.5-1.1-.6-1.2-.6-1.1-.6-1.1-.6-1.2-.6-1.1-.4-1.2-.5-1.2-.3-1.1-.3-1.2-.3-1.1-.4-1.2-.6-1.1-.8-1.1-1.1-1.2-1.6-1.2-1.8-1.1-2.2-1.1-2.3-1.2-2.3-1.2-1.9-1.1-1.3-1.2-.7-1.1 .2 0 16.7z"/>
<path transform="translate(436.7 465.1)" d="M-33.4 -7.8l-1.1-.5-1.1-.3-1.2-.4-1.1-.4-1.2-.3-1.1-.5-1.2-.4-1.2-.4-1.1-.5-1.2-.5-1.1-.6-1.1-.6-1.2-.6-1.1-.8-1.2-.7-1.2-.8-1.1-.8-1.2-.9-1.1-.8-1.2-.9-1.1-.8-1.1-.6-1.2-.6-1.1-.5-1.2-.3-1.1-.2-1.2-.1-1.2 .1-1.1 .2-1.2 .3-1.1 .4-1.1 .3-1.2 .4-1.1 .4-1.2 .3-1.2 .2-1.1 .3-1.2 .1-1.1 .1-1.2-.1-1.1 0-1.1-.2-1.2-.2-1.1-.3-1.2-.4-1.1-.4-1.2-.6-1.2-.6-1.1-.6-1.2-.8-1.1-.7-1.1-.7-1.2-.6-1.1-.6-1.2-.5-1.2-.3-1.1-.3-1.2-.3-1.1-.3-1.2-.5-1.1-.7-1.1-1.1-1.2-1.5-1.2-1.9-1.1-2.2-1.1-2.4-1.2-2.4-1.2-2-1.1-1.4-1.2-.6-1.1 .1 0 17.8z"/>
<path transform="translate(436.2 465.7)" d="M-34.5 -8l-1.1-.6-1.2-.3-1.1-.4-1.2-.3-1.1-.4-1.2-.4-1.2-.5-1.1-.4-1.2-.6-1.1-.5-1.1-.6-1.2-.7-1.1-.7-1.2-.8-1.2-.8-1.1-.9-1.2-.9-1.1-.9-1.2-.9-1.1-.8-1.1-.7-1.2-.6-1.1-.5-1.2-.3-1.1-.2-1.2-.1-1.2 .1-1.1 .3-1.2 .3-1.1 .3-1.1 .4-1.2 .4-1.1 .4-1.2 .3-1.2 .3-1.1 .2-1.2 .2-1.1 0-1.2 0-1.1-.1-1.1-.1-1.2-.3-1.1-.3-1.2-.4-1.1-.6-1.2-.6-1.2-.7-1.1-.8-1.2-.8-1.1-.9-1.1-.8-1.2-.8-1.1-.7-1.2-.5-1.2-.3-1.1-.3-1.2-.2-1.1-.2-1.2-.3-1.1-.7-1.1-.9-1.2-1.4-1.2-1.9-1.1-2.2-1.1-2.3-1.2-2.4-1.2-2-1.1-1.5-1.2-.7-1.1 .2 0 18.3z"/>
<path transform="translate(435.6 466.3)" d="M-35.6 -8.3l-1.2-.5-1.1-.4-1.2-.3-1.1-.4-1.2-.4-1.2-.4-1.1-.5-1.2-.5-1.1-.6-1.1-.6-1.2-.7-1.1-.7-1.2-.8-1.2-.9-1.1-.9-1.2-.9-1.1-.9-1.2-.9-1.1-.9-1.1-.7-1.2-.7-1.1-.4-1.2-.4-1.1-.2-1.2 0-1.2 .1-1.1 .2-1.2 .4-1.1 .3-1.1 .4-1.2 .4-1.1 .4-1.2 .4-1.2 .3-1.1 .2-1.2 .1-1.1 .1-1.2 0-1.1-.1-1.1-.2-1.2-.3-1.1-.3-1.2-.5-1.1-.6-1.2-.8-1.2-.8-1.1-.9-1.2-1-1.1-1.1-1.1-.9-1.2-.9-1.1-.8-1.2-.5-1.2-.4-1.1-.2-1.2-.1-1.1-.1-1.2-.2-1.1-.4-1.1-.8-1.2-1.3-1.2-1.6-1.1-2.1-1.1-2.3-1.2-2.3-1.2-2-1.1-1.5-1.2-.7-1.1 .2 0 18.3z"/>
<path transform="translate(435.1 466.9)" d="M-35.6 -8.3l-1.2-.5-1.1-.3-1.2-.4-1.1-.4-1.2-.3-1.2-.5-1.1-.4-1.2-.5-1.1-.6-1.1-.6-1.2-.7-1.1-.8-1.2-.8-1.2-.9-1.1-.9-1.2-.9-1.1-1-1.2-.9-1.1-.8-1.1-.8-1.2-.6-1.1-.5-1.2-.4-1.1-.1-1.2-.1-1.2 .1-1.1 .3-1.2 .3-1.1 .4-1.1 .4-1.2 .4-1.1 .4-1.2 .3-1.2 .3-1.1 .2-1.2 .2-1.1 0-1.2 0-1.1-.1-1.1-.2-1.2-.3-1.1-.4-1.2-.6-1.1-.7-1.2-.8-1.2-1-1.1-1.1-1.2-1.1-1.1-1.2-1.1-1.1-1.2-1.1-1.1-.8-1.2-.6-1.2-.4-1.1-.1-1.2 0-1.1 .1-1.2 0-1.1-.3-1.1-.5-1.2-1-1.2-1.5-1.1-1.9-1.1-2.1-1.2-2.2-1.2-2-1.1-1.4-1.2-.8-1.1 .1 0 18z"/>
<path transform="translate(434.6 467.5)" d="M-35.6 -8.3l-1.2-.5-1.1-.3-1.2-.4-1.1-.3-1.2-.4-1.2-.4-1.1-.5-1.2-.5-1.1-.6-1.1-.6-1.2-.7-1.1-.7-1.2-.8-1.2-.9-1.1-.9-1.2-1-1.1-.9-1.2-1-1.1-.8-1.1-.8-1.2-.6-1.1-.5-1.2-.4-1.1-.1-1.2-.1-1.2 .2-1.1 .2-1.2 .3-1.1 .4-1.1 .4-1.2 .4-1.1 .4-1.2 .3-1.2 .3-1.1 .2-1.2 .1-1.1 .1-1.2 0-1.1-.2-1.1-.2-1.2-.3-1.1-.5-1.2-.6-1.1-.8-1.2-1-1.2-1.1-1.1-1.2-1.2-1.4-1.1-1.3-1.1-1.3-1.2-1.2-1.1-.9-1.2-.7-1.2-.3-1.1-.1-1.2 .1-1.1 .2-1.2 .2-1.1 .1-1.1-.3-1.2-.8-1.2-1.1-1.1-1.7-1.1-1.9-1.2-2.1-1.2-1.9-1.1-1.5-1.2-.7-1.1 0 0 17.4z"/>
<path transform="translate(434.1 468.1)" d="M-35.6 -8.3l-1.2-.5-1.1-.3-1.2-.4-1.1-.4-1.2-.3-1.2-.5-1.1-.4-1.2-.5-1.1-.5-1.1-.7-1.2-.6-1.1-.8-1.2-.8-1.2-.9-1.1-.9-1.2-1-1.1-.9-1.2-.9-1.1-.9-1.1-.7-1.2-.7-1.1-.5-1.2-.3-1.1-.2-1.2 0-1.2 .1-1.1 .3-1.2 .3-1.1 .3-1.1 .4-1.2 .4-1.1 .4-1.2 .3-1.2 .3-1.1 .1-1.2 .2-1.1 0-1.2 0-1.1-.2-1.1-.2-1.2-.4-1.1-.5-1.2-.7-1.1-.9-1.2-1-1.2-1.3-1.1-1.4-1.2-1.5-1.1-1.6-1.1-1.4-1.2-1.3-1.1-1.1-1.2-.7-1.2-.3-1.1-.1-1.2 .3-1.1 .4-1.2 .4-1.1 .3-1.1 0-1.2-.4-1.2-.9-1.1-1.4-1.1-1.7-1.2-2-1.2-1.8-1.1-1.5-1.2-.8-1.1 0 0 16.7z"/>
<path transform="translate(433.6 468.7)" d="M-34.5 -8l-1.1-.5-1.2-.3-1.1-.4-1.2-.3-1.1-.4-1.2-.4-1.2-.4-1.1-.5-1.2-.4-1.1-.6-1.1-.6-1.2-.7-1.1-.7-1.2-.8-1.2-.9-1.1-.9-1.2-.9-1.1-1-1.2-.9-1.1-.8-1.1-.8-1.2-.6-1.1-.5-1.2-.3-1.1-.2-1.2 0-1.2 .2-1.1 .2-1.2 .3-1.1 .3-1.1 .4-1.2 .4-1.1 .3-1.2 .3-1.2 .2-1.1 .2-1.2 .1-1.1 0-1.2 0-1.1-.2-1.1-.3-1.2-.4-1.1-.5-1.2-.8-1.1-.9-1.2-1.2-1.2-1.4-1.1-1.6-1.2-1.6-1.1-1.8-1.1-1.6-1.2-1.4-1.1-1.2-1.2-.7-1.2-.4-1.1 0-1.2 .4-1.1 .6-1.2 .6-1.1 .6-1.1 .3-1.2-.2-1.2-.6-1.1-1.1-1.1-1.5-1.2-1.8-1.2-1.8-1.1-1.5-1.2-.9-1.1-.1 0 16.1z"/>
<path transform="translate(433 469.3)" d="M-33.4 -7.8l-1.1-.5-1.1-.3-1.2-.3-1.1-.4-1.2-.3-1.1-.4-1.2-.4-1.2-.4-1.1-.5-1.2-.4-1.1-.6-1.1-.6-1.2-.6-1.1-.8-1.2-.8-1.2-.8-1.1-.9-1.2-1-1.1-.9-1.2-.9-1.1-.8-1.1-.8-1.2-.6-1.1-.4-1.2-.3-1.1-.2-1.2 .1-1.2 .1-1.1 .2-1.2 .3-1.1 .3-1.1 .4-1.2 .3-1.1 .3-1.2 .3-1.2 .2-1.1 .1-1.2 .1-1.1 0-1.2-.1-1.1-.2-1.1-.2-1.2-.5-1.1-.6-1.2-.8-1.1-1-1.2-1.3-1.2-1.5-1.1-1.7-1.2-1.8-1.1-1.9-1.1-1.7-1.2-1.6-1.1-1.2-1.2-.9-1.2-.3-1.1 .1-1.2 .5-1.1 .7-1.2 .8-1.1 .8-1.1 .6-1.2 .1-1.2-.3-1.1-.9-1.1-1.4-1.2-1.6-1.2-1.8-1.1-1.5-1.2-.9-1.1-.2 0 15.5z"/>
<path transform="translate(432.5 469.9)" d="M-32.2 -7.5l-1.2-.5-1.1-.3-1.1-.4-1.2-.3-1.1-.4-1.2-.4-1.1-.4-1.2-.4-1.2-.4-1.1-.5-1.2-.4-1.1-.6-1.1-.5-1.2-.7-1.1-.7-1.2-.8-1.2-.9-1.1-.9-1.2-.9-1.1-.9-1.2-.9-1.1-.8-1.1-.7-1.2-.6-1.1-.4-1.2-.3-1.1-.1-1.2 0-1.2 .2-1.1 .2-1.2 .3-1.1 .3-1.1 .3-1.2 .3-1.1 .3-1.2 .2-1.2 .2-1.1 .1-1.2 0-1.1 0-1.2-.1-1.1-.1-1.1-.4-1.2-.4-1.1-.6-1.2-.9-1.1-1.1-1.2-1.3-1.2-1.6-1.1-1.8-1.2-1.9-1.1-2-1.1-1.9-1.2-1.7-1.1-1.3-1.2-.8-1.2-.4-1.1 .1-1.2 .6-1.1 .8-1.2 1.1-1.1 .9-1.1 .8-1.2 .4-1.2-.1-1.1-.7-1.1-1.2-1.2-1.6-1.2-1.6-1.1-1.5-1.2-1-1.1-.2 0 14.9z"/>
<path transform="translate(432 470.5)" d="M-29.9 -7l-1.2-.4-1.1-.4-1.2-.3-1.1-.4-1.1-.3-1.2-.4-1.2-.4-1.1-.4-1.1-.4-1.2-.5-1.2-.4-1.1-.4-1.2-.5-1.1-.5-1.1-.6-1.2-.7-1.2-.7-1.1-.8-1.2-.8-1.1-.9-1.2-.9-1.1-.9-1.2-.9-1.1-.8-1.1-.7-1.2-.6-1.2-.3-1.1-.3-1.1 0-1.2 0-1.2 .2-1.1 .3-1.2 .3-1.1 .3-1.1 .2-1.2 .3-1.2 .2-1.1 .2-1.2 .1-1.1 .1-1.2 0-1.1 0-1.2-.1-1.1-.2-1.1-.3-1.2-.5-1.2-.6-1.1-.9-1.1-1.1-1.2-1.4-1.2-1.6-1.1-1.9-1.2-2-1.1-2.1-1.1-1.9-1.2-1.8-1.2-1.4-1.1-.8-1.2-.4-1.1 .2-1.2 .6-1.1 .9-1.2 1.1-1.1 1.2-1.1 .9-1.2 .6-1.2 0-1.1-.5-1.1-1-1.2-1.4-1.2-1.6-1.1-1.5-1.2-1-1.1-.2 0 14.3z"/>
<path transform="translate(431.5 471.1)" d="M-28.8 -6.7l-1.1-.5-1.2-.3-1.1-.4-1.2-.3-1.1-.4-1.1-.4-1.2-.5-1.1-.4-1.2-.4-1.1-.5-1.2-.4-1.2-.5-1.1-.4-1.2-.5-1.1-.5-1.1-.6-1.2-.7-1.1-.7-1.2-.8-1.2-.9-1.1-.9-1.2-.9-1.1-.8-1.2-.9-1.1-.8-1.1-.7-1.2-.5-1.1-.3-1.2-.2-1.1 0-1.2 .1-1.2 .2-1.1 .3-1.2 .3-1.1 .3-1.1 .3-1.2 .2-1.1 .2-1.2 .1-1.2 .1-1.1 .1-1.2 0-1.1-.1-1.2-.1-1.1-.2-1.1-.3-1.2-.4-1.1-.7-1.2-.8-1.1-1.1-1.2-1.4-1.2-1.7-1.1-1.9-1.2-2.1-1.1-2.1-1.1-2-1.2-1.8-1.1-1.4-1.2-.9-1.2-.4-1.1 .2-1.2 .6-1.1 1-1.2 1.2-1.1 1.2-1.1 1.1-1.2 .7-1.2 .2-1.1-.3-1.1-.9-1.2-1.3-1.2-1.5-1.1-1.4-1.2-1-1.1-.2 0 13.6z"/>
<path transform="translate(431 471.7)" d="M-26.4 -6.2l-1.2-.5-1.2-.3-1.1-.3-1.1-.3-1.2-.4-1.2-.4-1.1-.4-1.1-.5-1.2-.5-1.1-.5-1.2-.5-1.1-.4-1.2-.5-1.1-.5-1.2-.4-1.2-.5-1.1-.6-1.1-.6-1.2-.6-1.1-.8-1.2-.8-1.2-.9-1.1-.9-1.1-.9-1.2-.9-1.2-.8-1.1-.8-1.1-.6-1.2-.5-1.1-.3-1.2-.1-1.1 0-1.2 .2-1.1 .3-1.2 .3-1.2 .4-1.1 .3-1.1 .2-1.2 .2-1.1 .1-1.2 .1-1.2 .1-1.1 0-1.1 0-1.2 0-1.2-.1-1.1-.2-1.1-.3-1.2-.4-1.1-.7-1.2-.8-1.1-1.1-1.2-1.4-1.1-1.6-1.2-1.9-1.2-2-1.1-2.1-1.1-2-1.2-1.8-1.1-1.4-1.2-1-1.2-.3-1.1 .1-1.1 .7-1.2 1-1.2 1.2-1.1 1.2-1.1 1.1-1.2 .8-1.1 .3-1.2-.2-1.1-.7-1.2-1.2-1.1-1.3-1.2-1.3-1.2-.9-1.1-.3 0 12.8z"/>
<path transform="translate(430.5 472.3)" d="M-24.1 -5.6l-1.2-.5-1.1-.3-1.2-.3-1.2-.4-1.1-.3-1.2-.4-1.1-.4-1.2-.4-1.1-.5-1.1-.5-1.2-.6-1.1-.5-1.2-.6-1.1-.5-1.2-.5-1.2-.5-1.1-.5-1.2-.5-1.1-.5-1.1-.7-1.2-.7-1.1-.8-1.2-.8-1.2-.9-1.1-.9-1.2-.9-1.1-.9-1.2-.8-1.1-.8-1.1-.6-1.2-.4-1.1-.3-1.2 0-1.1 .1-1.2 .3-1.2 .3-1.1 .4-1.2 .4-1.1 .3-1.1 .2-1.2 .2-1.1 .1-1.2 .1-1.2 0-1.1 0-1.2 0-1.1-.1-1.2-.1-1.1-.2-1.1-.2-1.2-.4-1.1-.6-1.2-.8-1.1-1-1.2-1.3-1.2-1.6-1.1-1.8-1.2-2-1.1-2-1.1-2-1.2-1.7-1.1-1.4-1.2-.9-1.2-.4-1.1 .1-1.2 .6-1.1 1-1.2 1.1-1.1 1.2-1.1 1.1-1.2 .8-1.2 .4-1.1-.1-1.1-.5-1.2-1-1.2-1.2-1.1-1.1-1.2-.8-1.1-.2 0 11.7z"/>
<path transform="translate(429.9 472.9)" d="M-21.9 -5.1l-1.1-.5-1.1-.3-1.2-.3-1.2-.3-1.1-.4-1.2-.3-1.1-.4-1.2-.4-1.1-.4-1.2-.5-1.1-.6-1.1-.5-1.2-.7-1.2-.6-1.1-.6-1.1-.6-1.2-.6-1.2-.5-1.1-.5-1.2-.5-1.1-.6-1.1-.6-1.2-.8-1.2-.8-1.1-.9-1.2-.9-1.1-.9-1.2-.9-1.1-.9-1.2-.8-1.1-.8-1.1-.6-1.2-.4-1.2-.2-1.1 0-1.1 .3-1.2 .3-1.2 .4-1.1 .5-1.2 .4-1.1 .3-1.1 .2-1.2 .2-1.2 .1-1.1 0-1.2 0-1.1 0-1.2 0-1.1-.1-1.2-.1-1.1-.1-1.1-.2-1.2-.3-1.2-.5-1.1-.7-1.1-1-1.2-1.2-1.2-1.5-1.1-1.7-1.2-1.9-1.1-1.9-1.1-1.8-1.2-1.7-1.2-1.3-1.1-.9-1.2-.4-1.1 .1-1.2 .5-1.1 .9-1.2 1-1.1 1.2-1.1 1-1.2 .8-1.2 .4-1.1 0-1.1-.4-1.2-.8-1.2-1-1.1-1-1.2-.6-1.1-.2 0 10.6z"/>
<path transform="translate(429.4 473.5)" d="M-19.6 -4.6l-1.1-.4-1.2-.3-1.1-.4-1.1-.3-1.2-.3-1.1-.3-1.2-.4-1.2-.4-1.1-.4-1.2-.4-1.1-.5-1.2-.6-1.1-.6-1.1-.7-1.2-.7-1.1-.7-1.2-.7-1.1-.7-1.2-.6-1.2-.5-1.1-.6-1.2-.5-1.1-.6-1.1-.7-1.2-.8-1.1-.8-1.2-.9-1.2-1-1.1-.9-1.2-.9-1.1-.9-1.2-.8-1.1-.7-1.1-.6-1.2-.4-1.1-.1-1.2 .1-1.1 .3-1.2 .4-1.2 .5-1.1 .5-1.2 .5-1.1 .3-1.1 .2-1.2 .2-1.1 0-1.2 0-1.2 0-1.1 0-1.2 0-1.1-.1-1.2 0-1.1-.1-1.1-.2-1.2-.2-1.1-.5-1.2-.6-1.1-.8-1.2-1.1-1.2-1.3-1.1-1.5-1.2-1.8-1.1-1.7-1.1-1.8-1.2-1.5-1.1-1.3-1.2-.8-1.2-.4-1.1 0-1.2 .4-1.1 .8-1.2 .9-1.1 1-1.1 1-1.2 .7-1.2 .4-1.1 .1-1.1-.3-1.2-.7-1.2-.7-1.1-.8-1.2-.5-1.1-.1 0 9.4z"/>
<path transform="translate(428.9 474.1)" d="M-18.4 -4.3l-1.1-.5-1.2-.3-1.2-.3-1.1-.3-1.1-.4-1.2-.3-1.1-.4-1.2-.3-1.2-.4-1.1-.5-1.1-.5-1.2-.6-1.2-.6-1.1-.7-1.1-.8-1.2-.8-1.1-.8-1.2-.8-1.1-.7-1.2-.7-1.1-.6-1.2-.5-1.2-.6-1.1-.6-1.1-.7-1.2-.8-1.1-.9-1.2-1-1.2-1-1.1-.9-1.1-.9-1.2-.9-1.2-.8-1.1-.7-1.1-.5-1.2-.4-1.1-.1-1.2 .2-1.1 .3-1.2 .6-1.1 .5-1.2 .6-1.2 .5-1.1 .3-1.1 .3-1.2 .1-1.1 0-1.2 0-1.2 0-1.1-.1-1.1 0-1.2 0-1.2 0-1.1-.1-1.1 0-1.2-.2-1.1-.3-1.2-.5-1.1-.7-1.2-.9-1.1-1.2-1.2-1.3-1.2-1.5-1.1-1.6-1.1-1.6-1.2-1.4-1.1-1.2-1.2-.8-1.2-.4-1.1 0-1.1 .3-1.2 .6-1.2 .8-1.1 .9-1.1 .8-1.2 .6-1.1 .4-1.2 0-1.1-.2-1.2-.4-1.1-.6-1.2-.5-1.2-.4-1.1-.1 0 8.3z"/>
<path transform="translate(428.4 474.6)" d="M-17.2 -4l-1.2-.5-1.2-.3-1.1-.4-1.2-.3-1.1-.3-1.1-.4-1.2-.3-1.1-.4-1.2-.4-1.2-.5-1.1-.5-1.2-.5-1.1-.7-1.2-.7-1.1-.8-1.1-.9-1.2-.9-1.1-.9-1.2-.9-1.1-.8-1.2-.7-1.2-.6-1.1-.6-1.2-.6-1.1-.6-1.1-.7-1.2-.9-1.1-.9-1.2-1-1.2-1-1.1-.9-1.2-.9-1.1-.9-1.2-.8-1.1-.6-1.1-.6-1.2-.3-1.1-.1-1.2 .2-1.1 .5-1.2 .6-1.2 .6-1.1 .6-1.2 .5-1.1 .3-1.1 .2-1.2 .1-1.1 0-1.2 0-1.2-.1-1.1 0-1.2 0-1.1 0-1.2 0-1.1 .1-1.1 0-1.2-.1-1.1-.2-1.2-.3-1.1-.5-1.2-.8-1.2-.9-1.1-1.2-1.2-1.3-1.1-1.3-1.1-1.4-1.2-1.3-1.1-1-1.2-.8-1.2-.4-1.1-.1-1.2 .3-1.1 .4-1.2 .6-1.1 .7-1.1 .6-1.2 .5-1.2 .3-1.1 .1-1.1-.1-1.2-.3-1.2-.5-1.1-.3-1.2-.3-1.1 0 0 7.3z"/>
<path transform="translate(427.9 475.2)" d="M-16.1 -3.8l-1.1-.5-1.2-.3-1.2-.3-1.1-.3-1.2-.4-1.1-.3-1.1-.4-1.2-.4-1.2-.4-1.1-.4-1.2-.5-1.1-.6-1.2-.6-1.1-.7-1.2-.9-1.1-.9-1.1-1-1.2-1-1.2-1-1.1-1-1.1-.8-1.2-.8-1.2-.7-1.1-.5-1.2-.6-1.1-.6-1.1-.8-1.2-.8-1.2-1-1.1-1-1.2-1-1.1-.9-1.2-.9-1.1-.8-1.2-.7-1.1-.7-1.1-.5-1.2-.3-1.2-.1-1.1 .3-1.1 .4-1.2 .6-1.2 .7-1.1 .6-1.2 .5-1.1 .3-1.1 .2-1.2 0-1.2 0-1.1-.1-1.2 0-1.1-.1-1.2 0-1.1 .1-1.2 .1-1.1 .1-1.1 .1-1.2 0-1.2 0-1.1-.2-1.1-.3-1.2-.5-1.2-.8-1.1-.9-1.2-1.1-1.1-1.1-1.1-1.2-1.2-1.1-1.2-.9-1.1-.7-1.2-.4-1.1-.1-1.2 .1-1.1 .3-1.2 .4-1.1 .5-1.1 .5-1.2 .3-1.2 .2-1.1 .1-1.1-.1-1.2-.3-1.2-.2-1.1-.3-1.2-.1-1.1 0 0 6.5z"/>
<path transform="translate(427.3 475.8)" d="M-14.9 -3.5l-1.2-.5-1.1-.3-1.2-.3-1.2-.4-1.1-.3-1.2-.4-1.1-.4-1.1-.3-1.2-.5-1.1-.4-1.2-.5-1.2-.5-1.1-.6-1.2-.7-1.1-.9-1.2-.9-1.1-1-1.1-1.1-1.2-1.1-1.1-1.1-1.2-1.1-1.1-.9-1.2-.8-1.2-.7-1.1-.5-1.2-.6-1.1-.6-1.1-.7-1.2-.9-1.1-.9-1.2-1-1.2-1-1.1-.9-1.2-.8-1.1-.8-1.2-.7-1.1-.6-1.1-.5-1.2-.3-1.1-.1-1.2 .2-1.1 .5-1.2 .5-1.2 .7-1.1 .5-1.2 .5-1.1 .2-1.1 .2-1.2 0-1.1-.1-1.2-.1-1.2-.1-1.1 0-1.2 0-1.1 .1-1.2 .2-1.1 .2-1.1 .2-1.2 .2-1.1 .1-1.2 0-1.1-.2-1.2-.3-1.2-.5-1.1-.7-1.2-.8-1.1-.9-1.1-1-1.2-.9-1.1-.8-1.2-.6-1.2-.4-1.1-.2-1.2 0-1.1 .2-1.2 .2-1.1 .3-1.1 .3-1.2 .2-1.2 .1-1.1 0-1.1-.1-1.2-.1-1.2-.2-1.1-.2-1.2-.1-1.1 .1 0 5.9z"/>
<path transform="translate(426.8 476.4)" d="M-13.8 -3.2l-1.1-.5-1.2-.3-1.1-.4-1.2-.3-1.2-.4-1.1-.3-1.2-.4-1.1-.4-1.1-.4-1.2-.4-1.1-.5-1.2-.5-1.2-.6-1.1-.7-1.2-.8-1.1-.9-1.2-1-1.1-1.1-1.1-1.2-1.2-1.3-1.1-1.2-1.2-1.1-1.1-1-1.2-.8-1.2-.6-1.1-.6-1.2-.5-1.1-.5-1.1-.7-1.2-.9-1.1-.9-1.2-1-1.2-.9-1.1-.8-1.2-.8-1.1-.7-1.2-.7-1.1-.6-1.1-.5-1.2-.3-1.1-.1-1.2 .2-1.1 .3-1.2 .5-1.2 .6-1.1 .5-1.2 .3-1.1 .2-1.1 .1-1.2-.1-1.1-.1-1.2-.1-1.2-.1-1.1-.1-1.2 .1-1.1 .2-1.2 .2-1.1 .3-1.1 .3-1.2 .3-1.1 .3-1.2 .2-1.1 0-1.2-.1-1.2-.3-1.1-.4-1.2-.6-1.1-.7-1.1-.7-1.2-.8-1.1-.6-1.2-.6-1.2-.4-1.1-.2-1.2-.1-1.1 0-1.2 .1-1.1 .2-1.1 .1-1.2 0-1.2 0-1.1 0-1.1-.2-1.2-.1-1.2-.1-1.1-.1-1.2-.1-1.1 .1 0 5.5z"/>
<path transform="translate(426.3 477)" d="M-13.8 -3.2l-1.1-.5-1.2-.4-1.1-.3-1.2-.4-1.2-.3-1.1-.4-1.2-.4-1.1-.4-1.1-.5-1.2-.4-1.1-.5-1.2-.6-1.2-.6-1.1-.8-1.2-.9-1.1-1-1.2-1.1-1.1-1.2-1.1-1.3-1.2-1.3-1.1-1.3-1.2-1.1-1.1-1-1.2-.8-1.2-.6-1.1-.5-1.2-.5-1.1-.5-1.1-.6-1.2-.8-1.1-.9-1.2-.9-1.2-.9-1.1-.8-1.2-.7-1.1-.6-1.2-.7-1.1-.6-1.1-.5-1.2-.3-1.1-.1-1.2 0-1.1 .3-1.2 .4-1.2 .4-1.1 .3-1.2 .3-1.1 .1-1.1-.1-1.2-.1-1.1-.2-1.2-.2-1.2-.1-1.1 0-1.2 .1-1.1 .2-1.2 .3-1.1 .4-1.1 .4-1.2 .5-1.1 .4-1.2 .4-1.1 .2-1.2 .1-1.2-.1-1.1-.2-1.2-.3-1.1-.5-1.1-.5-1.2-.6-1.1-.5-1.2-.5-1.2-.3-1.1-.3-1.2-.2-1.1-.1-1.2 0-1.1-.1-1.1 0-1.2-.1-1.2-.1-1.1-.1-1.1-.1-1.2-.2-1.2-.1-1.1-.1-1.2 0-1.1 .1 0 5.2z"/>
<path transform="translate(425.8 477.6)" d="M-12.6 -2.9l-1.2-.5-1.1-.4-1.2-.3-1.1-.4-1.2-.4-1.2-.3-1.1-.4-1.2-.5-1.1-.4-1.1-.4-1.2-.5-1.1-.6-1.2-.6-1.2-.7-1.1-.8-1.2-.9-1.1-1.1-1.2-1.2-1.1-1.3-1.1-1.4-1.2-1.3-1.1-1.3-1.2-1.2-1.1-1-1.2-.8-1.2-.6-1.1-.4-1.2-.4-1.1-.4-1.1-.6-1.2-.7-1.1-.8-1.2-.8-1.2-.8-1.1-.7-1.2-.6-1.1-.7-1.2-.5-1.1-.6-1.1-.6-1.2-.4-1.1-.2-1.2-.1-1.1 .2-1.2 .2-1.2 .2-1.1 .2-1.2 0-1.1 0-1.1-.2-1.2-.3-1.1-.2-1.2-.3-1.2-.1-1.1 0-1.2 .1-1.1 .3-1.2 .4-1.1 .5-1.1 .6-1.2 .6-1.1 .6-1.2 .5-1.1 .4-1.2 .3-1.2 .2-1.1 0-1.2-.1-1.1-.3-1.1-.3-1.2-.4-1.1-.4-1.2-.4-1.2-.3-1.1-.3-1.2-.3-1.1-.2-1.2-.1-1.1-.2-1.1-.2-1.2-.1-1.2-.2-1.1-.2-1.1-.2-1.2-.2-1.2-.1-1.1-.1-1.2 .1-1.1 0 0 5z"/>
<path transform="translate(425.3 478.2)" d="M-12.6 -2.9l-1.2-.6-1.1-.3-1.2-.4-1.1-.3-1.2-.4-1.2-.4-1.1-.4-1.2-.5-1.1-.4-1.1-.5-1.2-.5-1.1-.6-1.2-.7-1.2-.7-1.1-.9-1.2-1-1.1-1.1-1.2-1.3-1.1-1.3-1.1-1.4-1.2-1.4-1.1-1.4-1.2-1.1-1.1-1-1.2-.8-1.2-.5-1.1-.4-1.2-.2-1.1-.4-1.1-.4-1.2-.6-1.1-.7-1.2-.7-1.2-.7-1.1-.7-1.2-.5-1.1-.6-1.2-.6-1.1-.6-1.1-.5-1.2-.5-1.1-.4-1.2-.2-1.1-.1-1.2 0-1.2 0-1.1 0-1.2-.2-1.1-.2-1.1-.4-1.2-.3-1.1-.4-1.2-.3-1.2-.1-1.1 0-1.2 .2-1.1 .3-1.2 .5-1.1 .6-1.1 .7-1.2 .7-1.1 .8-1.2 .7-1.1 .6-1.2 .5-1.2 .3-1.1 .3-1.2 .1-1.1-.1-1.1-.2-1.2-.2-1.1-.3-1.2-.3-1.2-.3-1.1-.3-1.2-.3-1.1-.2-1.2-.3-1.1-.3-1.1-.2-1.2-.3-1.2-.3-1.1-.3-1.1-.2-1.2-.2-1.2-.1-1.1-.1-1.2 .1-1.1 0 0 4.8z"/>
<path transform="translate(424.8 478.8)" d="M-11.5 -2.7l-1.1-.5-1.2-.3-1.1-.4-1.2-.3-1.1-.4-1.2-.4-1.2-.4-1.1-.4-1.2-.5-1.1-.5-1.1-.5-1.2-.5-1.1-.6-1.2-.7-1.2-.8-1.1-.9-1.2-1-1.1-1.2-1.2-1.3-1.1-1.4-1.1-1.5-1.2-1.4-1.1-1.3-1.2-1.1-1.1-1-1.2-.7-1.2-.4-1.1-.3-1.2-.2-1.1-.2-1.1-.3-1.2-.5-1.1-.6-1.2-.6-1.2-.6-1.1-.6-1.2-.5-1.1-.5-1.2-.6-1.1-.6-1.1-.6-1.2-.6-1.1-.5-1.2-.5-1.1-.3-1.2-.2-1.2-.3-1.1-.3-1.2-.4-1.1-.4-1.1-.5-1.2-.5-1.1-.4-1.2-.4-1.2-.1-1.1 0-1.2 .2-1.1 .4-1.2 .5-1.1 .8-1.1 .8-1.2 .9-1.1 .8-1.2 .9-1.1 .8-1.2 .7-1.2 .5-1.1 .5-1.2 .2-1.1 .2-1.1 0-1.2-.1-1.1-.2-1.2-.2-1.2-.3-1.1-.3-1.2-.3-1.1-.3-1.2-.4-1.1-.3-1.1-.4-1.2-.3-1.2-.3-1.1-.3-1.1-.3-1.2-.2-1.2-.2-1.1 0-1.2 0-1.1 .1 0 4.5z"/>
<path transform="translate(424.2 479.4)" d="M-11.5 -2.7l-1.1-.5-1.2-.3-1.1-.4-1.2-.4-1.1-.4-1.2-.4-1.2-.4-1.1-.4-1.2-.5-1.1-.5-1.1-.5-1.2-.6-1.1-.6-1.2-.7-1.2-.8-1.1-1-1.2-1-1.1-1.3-1.2-1.3-1.1-1.4-1.1-1.4-1.2-1.4-1.1-1.3-1.2-1.1-1.1-.9-1.2-.6-1.2-.4-1.1-.2-1.2-.1-1.1-.1-1.1-.2-1.2-.3-1.1-.4-1.2-.5-1.2-.6-1.1-.5-1.2-.5-1.1-.5-1.2-.5-1.1-.7-1.1-.7-1.2-.7-1.1-.7-1.2-.7-1.1-.5-1.2-.5-1.2-.6-1.1-.5-1.2-.7-1.1-.6-1.1-.7-1.2-.6-1.1-.6-1.2-.4-1.2-.2-1.1 .1-1.2 .2-1.1 .5-1.2 .6-1.1 .8-1.1 1-1.2 1-1.1 1-1.2 1-1.1 1-1.2 .9-1.2 .7-1.1 .6-1.2 .4-1.1 .3-1.1 .1-1.2 .1-1.1-.1-1.2-.2-1.2-.2-1.1-.3-1.2-.3-1.1-.3-1.2-.4-1.1-.4-1.1-.4-1.2-.4-1.2-.4-1.1-.3-1.1-.3-1.2-.2-1.2-.2-1.1-.1-1.2 0-1.1 .1 0 4.3z"/>
<path transform="translate(423.7 480)" d="M-11.5 -2.7l-1.1-.5-1.2-.4-1.1-.3-1.2-.4-1.1-.4-1.2-.4-1.2-.5-1.1-.4-1.2-.5-1.1-.5-1.1-.6-1.2-.6-1.1-.6-1.2-.7-1.2-.8-1.1-1-1.2-1.1-1.1-1.2-1.2-1.3-1.1-1.4-1.1-1.4-1.2-1.3-1.1-1.2-1.2-1.1-1.1-.8-1.2-.5-1.2-.3-1.1-.1-1.2 0-1.1 0-1.1-.1-1.2-.2-1.1-.4-1.2-.4-1.2-.4-1.1-.4-1.2-.5-1.1-.5-1.2-.6-1.1-.8-1.1-.8-1.2-.8-1.1-.9-1.2-.8-1.1-.9-1.2-.8-1.2-.8-1.1-.8-1.2-.9-1.1-.9-1.1-.8-1.2-.8-1.1-.6-1.2-.5-1.2-.2-1.1 0-1.2 .3-1.1 .5-1.2 .8-1.1 .9-1.1 1-1.2 1.2-1.1 1.1-1.2 1.2-1.1 1.1-1.2 1-1.2 .9-1.1 .7-1.2 .6-1.1 .5-1.1 .2-1.2 .2-1.1 0-1.2-.1-1.2-.2-1.1-.2-1.2-.3-1.1-.4-1.2-.4-1.1-.4-1.1-.4-1.2-.5-1.2-.4-1.1-.3-1.1-.3-1.2-.3-1.2-.2-1.1-.1-1.2 0-1.1 .1 0 4z"/>
<path transform="translate(423.2 480.6)" d="M-10.4 -2.4l-1.1-.5-1.1-.3-1.2-.4-1.1-.3-1.2-.4-1.1-.4-1.2-.5-1.2-.4-1.1-.5-1.2-.5-1.1-.5-1.1-.6-1.2-.6-1.1-.6-1.2-.8-1.2-.8-1.1-.9-1.2-1.1-1.1-1.2-1.2-1.3-1.1-1.3-1.1-1.3-1.2-1.3-1.1-1.1-1.2-1-1.1-.7-1.2-.5-1.2-.2-1.1 0-1.2 0-1.1 .1-1.1 0-1.2-.1-1.1-.2-1.2-.3-1.2-.4-1.1-.4-1.2-.5-1.1-.5-1.2-.7-1.1-.8-1.1-.9-1.2-1-1.1-1-1.2-1.1-1.1-1.1-1.2-1-1.2-1.1-1.1-1.1-1.2-1.1-1.1-1.1-1.1-1-1.2-.9-1.1-.8-1.2-.5-1.2-.2-1.1 0-1.2 .3-1.1 .6-1.2 .8-1.1 1-1.1 1.2-1.2 1.2-1.1 1.3-1.2 1.3-1.1 1.3-1.2 1.1-1.2 1-1.1 .9-1.2 .7-1.1 .6-1.1 .3-1.2 .3-1.1 .1-1.2 0-1.2-.2-1.1-.2-1.2-.3-1.1-.3-1.2-.4-1.1-.5-1.1-.4-1.2-.4-1.2-.4-1.1-.4-1.1-.3-1.2-.3-1.2-.2-1.1-.1-1.2-.1-1.1 .1 0 3.7z"/>
<path transform="translate(422.7 481.2)" d="M-10.4 -2.4l-1.1-.5-1.1-.3-1.2-.4-1.1-.4-1.2-.4-1.1-.4-1.2-.4-1.2-.5-1.1-.5-1.2-.5-1.1-.5-1.1-.6-1.2-.6-1.1-.6-1.2-.7-1.2-.9-1.1-.9-1.2-1-1.1-1.2-1.2-1.2-1.1-1.2-1.1-1.3-1.2-1.2-1.1-1-1.2-.9-1.1-.6-1.2-.4-1.2-.2-1.1 0-1.2 .2-1.1 .1-1.1 .1-1.2 0-1.1-.1-1.2-.3-1.2-.3-1.1-.4-1.2-.5-1.1-.6-1.2-.7-1.1-.9-1.1-1-1.2-1.1-1.1-1.2-1.2-1.3-1.1-1.3-1.2-1.4-1.2-1.3-1.1-1.3-1.2-1.4-1.1-1.3-1.1-1.1-1.2-1-1.1-.8-1.2-.6-1.2-.3-1.1 .1-1.2 .3-1.1 .6-1.2 .9-1.1 1.1-1.1 1.2-1.2 1.4-1.1 1.4-1.2 1.4-1.1 1.4-1.2 1.2-1.2 1.2-1.1 .9-1.2 .9-1.1 .6-1.1 .5-1.2 .3-1.1 .2-1.2 0-1.2 0-1.1-.2-1.2-.3-1.1-.3-1.2-.4-1.1-.4-1.1-.5-1.2-.4-1.2-.4-1.1-.4-1.1-.3-1.2-.3-1.2-.2-1.1-.1-1.2-.1-1.1 0 0 3.4z"/>
<path transform="translate(422.2 481.8)" d="M-10.4 -2.4l-1.1-.5-1.1-.3-1.2-.4-1.1-.4-1.2-.4-1.1-.4-1.2-.4-1.2-.5-1.1-.5-1.2-.5-1.1-.5-1.1-.6-1.2-.6-1.1-.7-1.2-.7-1.2-.8-1.1-.9-1.2-.9-1.1-1.1-1.2-1.2-1.1-1.1-1.1-1.2-1.2-1.1-1.1-.9-1.2-.8-1.1-.5-1.2-.4-1.2-.1-1.1 .1-1.2 .2-1.1 .2-1.1 .1-1.2 0-1.1 0-1.2-.3-1.2-.3-1.1-.4-1.2-.5-1.1-.6-1.2-.8-1.1-.9-1.1-1.2-1.2-1.2-1.1-1.4-1.2-1.5-1.1-1.5-1.2-1.5-1.2-1.6-1.1-1.6-1.2-1.5-1.1-1.4-1.1-1.3-1.2-1.1-1.1-.9-1.2-.6-1.2-.3-1.1 0-1.2 .4-1.1 .7-1.2 .9-1.1 1.1-1.1 1.4-1.2 1.4-1.1 1.5-1.2 1.5-1.1 1.4-1.2 1.4-1.2 1.2-1.1 1.1-1.2 .9-1.1 .8-1.1 .5-1.2 .4-1.1 .3-1.2 .1-1.2-.1-1.1-.1-1.2-.3-1.1-.3-1.2-.3-1.1-.4-1.1-.5-1.2-.4-1.2-.4-1.1-.4-1.1-.3-1.2-.3-1.2-.2-1.1-.1-1.2-.1-1.1-.1 0 3.1z"/>
<path transform="translate(421.6 482.4)" d="M-10.4 -2.4l-1.1-.5-1.1-.4-1.2-.3-1.1-.4-1.2-.4-1.1-.4-1.2-.4-1.2-.5-1.1-.5-1.2-.5-1.1-.5-1.1-.6-1.2-.6-1.1-.6-1.2-.7-1.2-.8-1.1-.9-1.2-.9-1.1-1-1.2-1-1.1-1.1-1.1-1-1.2-1-1.1-.8-1.2-.7-1.1-.5-1.2-.3-1.2 0-1.1 .1-1.2 .1-1.1 .2-1.1 .2-1.2 .1-1.1-.1-1.2-.2-1.2-.3-1.1-.4-1.2-.5-1.1-.7-1.2-.9-1.1-1-1.1-1.2-1.2-1.4-1.1-1.5-1.2-1.6-1.1-1.7-1.2-1.8-1.2-1.7-1.1-1.7-1.2-1.7-1.1-1.6-1.1-1.4-1.2-1.2-1.1-1-1.2-.6-1.2-.3-1.1 0-1.2 .4-1.1 .7-1.2 1-1.1 1.2-1.1 1.4-1.2 1.5-1.1 1.6-1.2 1.5-1.1 1.5-1.2 1.5-1.2 1.3-1.1 1.1-1.2 1-1.1 .8-1.1 .6-1.2 .5-1.1 .3-1.2 .1-1.2 0-1.1-.1-1.2-.2-1.1-.3-1.2-.3-1.1-.4-1.1-.4-1.2-.4-1.2-.4-1.1-.3-1.1-.4-1.2-.2-1.2-.3-1.1-.1-1.2-.1-1.1-.1 0 2.7z"/>
<path transform="translate(421.1 483)" d="M-10.4 -2.4l-1.1-.5-1.1-.3-1.2-.4-1.1-.4-1.2-.4-1.1-.4-1.2-.4-1.2-.5-1.1-.5-1.2-.5-1.1-.5-1.1-.6-1.2-.6-1.1-.6-1.2-.7-1.2-.7-1.1-.8-1.2-.8-1.1-1-1.2-.9-1.1-1-1.1-.9-1.2-.8-1.1-.8-1.2-.6-1.1-.4-1.2-.2-1.2 0-1.1 0-1.2 .2-1.1 .2-1.1 .2-1.2 .1-1.1-.1-1.2-.2-1.2-.3-1.1-.4-1.2-.6-1.1-.8-1.2-.9-1.1-1.1-1.1-1.3-1.2-1.5-1.1-1.6-1.2-1.7-1.1-1.9-1.2-1.8-1.2-1.9-1.1-1.9-1.2-1.8-1.1-1.7-1.1-1.5-1.2-1.3-1.1-.9-1.2-.7-1.2-.3-1.1 0-1.2 .4-1.1 .7-1.2 1-1.1 1.3-1.1 1.4-1.2 1.6-1.1 1.6-1.2 1.6-1.1 1.6-1.2 1.5-1.2 1.3-1.1 1.2-1.2 1-1.1 .9-1.1 .7-1.2 .5-1.1 .3-1.2 .2-1.2 0-1.1-.1-1.2-.1-1.1-.3-1.2-.3-1.1-.3-1.1-.4-1.2-.4-1.2-.4-1.1-.3-1.1-.3-1.2-.3-1.2-.2-1.1-.2-1.2-.2-1.1 0 0 2.3z"/>
<path transform="translate(420.6 483.6)" d="M-10.4 -2.4l-1.1-.5-1.1-.3-1.2-.4-1.1-.4-1.2-.4-1.1-.4-1.2-.4-1.2-.5-1.1-.5-1.2-.5-1.1-.5-1.1-.5-1.2-.6-1.1-.6-1.2-.6-1.2-.7-1.1-.8-1.2-.7-1.1-.9-1.2-.8-1.1-.9-1.1-.8-1.2-.7-1.1-.7-1.2-.5-1.1-.3-1.2-.2-1.2 0-1.1 0-1.2 .2-1.1 .2-1.1 .1-1.2 0-1.1 0-1.2-.2-1.2-.4-1.1-.4-1.2-.7-1.1-.8-1.2-.9-1.1-1.2-1.1-1.4-1.2-1.5-1.1-1.7-1.2-1.8-1.1-2-1.2-1.9-1.2-2-1.1-2-1.2-1.9-1.1-1.7-1.1-1.6-1.2-1.3-1.1-1-1.2-.7-1.2-.3-1.1 0-1.2 .4-1.1 .8-1.2 1-1.1 1.2-1.1 1.5-1.2 1.6-1.1 1.6-1.2 1.6-1.1 1.6-1.2 1.5-1.2 1.4-1.1 1.3-1.2 1-1.1 .9-1.1 .7-1.2 .5-1.1 .4-1.2 .2-1.2 .1-1.1-.1-1.2-.1-1.1-.2-1.2-.3-1.1-.3-1.1-.4-1.2-.3-1.2-.4-1.1-.3-1.1-.3-1.2-.3-1.2-.2-1.1-.2-1.2-.2-1.1-.1 0 2z"/>
<path transform="translate(420.1 484.2)" d="M-10.4 -2.4l-1.1-.5-1.1-.3-1.2-.4-1.1-.3-1.2-.4-1.1-.4-1.2-.5-1.2-.4-1.1-.5-1.2-.5-1.1-.5-1.1-.5-1.2-.6-1.1-.6-1.2-.6-1.2-.6-1.1-.7-1.2-.7-1.1-.7-1.2-.8-1.1-.7-1.1-.7-1.2-.7-1.1-.5-1.2-.5-1.1-.3-1.2-.1-1.2-.1-1.1 .1-1.2 .1-1.1 .1-1.1 .1-1.2 0-1.1-.1-1.2-.2-1.2-.4-1.1-.5-1.2-.6-1.1-.9-1.2-1-1.1-1.2-1.1-1.4-1.2-1.6-1.1-1.7-1.2-1.9-1.1-2-1.2-2-1.2-2.1-1.1-2-1.2-1.9-1.1-1.8-1.1-1.6-1.2-1.4-1.1-1-1.2-.7-1.2-.3-1.1 0-1.2 .4-1.1 .8-1.2 1-1.1 1.2-1.1 1.5-1.2 1.6-1.1 1.6-1.2 1.6-1.1 1.6-1.2 1.6-1.2 1.4-1.1 1.2-1.2 1.1-1.1 .9-1.1 .7-1.2 .5-1.1 .4-1.2 .2-1.2 .1-1.1 0-1.2-.1-1.1-.2-1.2-.2-1.1-.3-1.1-.4-1.2-.3-1.2-.3-1.1-.4-1.1-.3-1.2-.2-1.2-.3-1.1-.2-1.2-.1-1.1-.2 0 1.7z"/>
<path transform="translate(419.6 484.8)" d="M-11.5 -2.7l-1.1-.5-1.2-.4-1.1-.3-1.2-.4-1.1-.4-1.2-.4-1.2-.5-1.1-.4-1.2-.5-1.1-.5-1.1-.5-1.2-.5-1.1-.6-1.2-.6-1.2-.6-1.1-.6-1.2-.6-1.1-.7-1.2-.6-1.1-.7-1.1-.6-1.2-.6-1.1-.4-1.2-.4-1.1-.3-1.2-.1-1.2-.1-1.1 0-1.2 .1-1.1 .1-1.1 0-1.2 0-1.1-.1-1.2-.3-1.2-.4-1.1-.5-1.2-.7-1.1-.9-1.2-1-1.1-1.3-1.1-1.4-1.2-1.6-1.1-1.8-1.2-1.9-1.1-2-1.2-2-1.2-2.1-1.1-2-1.2-2-1.1-1.8-1.1-1.6-1.2-1.3-1.1-1.1-1.2-.7-1.2-.3-1.1 0-1.2 .4-1.1 .7-1.2 1.1-1.1 1.2-1.1 1.4-1.2 1.6-1.1 1.6-1.2 1.6-1.1 1.6-1.2 1.5-1.2 1.4-1.1 1.2-1.2 1.1-1.1 .9-1.1 .7-1.2 .5-1.1 .4-1.2 .3-1.2 .1-1.1 0-1.2-.1-1.1-.2-1.2-.2-1.1-.3-1.1-.3-1.2-.3-1.2-.3-1.1-.3-1.1-.3-1.2-.3-1.2-.2-1.1-.2-1.2-.2-1.1-.2 0 1.4z"/>
<path transform="translate(419.1 485.4)" d="M-11.5 -2.7l-1.1-.5-1.2-.3-1.1-.4-1.2-.4-1.1-.4-1.2-.4-1.2-.4-1.1-.4-1.2-.5-1.1-.5-1.1-.5-1.2-.5-1.1-.5-1.2-.5-1.2-.6-1.1-.6-1.2-.5-1.1-.6-1.2-.6-1.1-.6-1.1-.5-1.2-.5-1.1-.4-1.2-.3-1.1-.3-1.2-.1-1.2-.1-1.1 0-1.2 0-1.1 0-1.1 0-1.2 0-1.1-.2-1.2-.3-1.2-.4-1.1-.6-1.2-.7-1.1-.9-1.2-1.1-1.1-1.2-1.1-1.4-1.2-1.6-1.1-1.8-1.2-1.9-1.1-2-1.2-2-1.2-2.1-1.1-2-1.2-1.9-1.1-1.8-1.1-1.6-1.2-1.3-1.1-1-1.2-.7-1.2-.4-1.1 .1-1.2 .3-1.1 .7-1.2 1-1.1 1.2-1.1 1.4-1.2 1.5-1.1 1.6-1.2 1.6-1.1 1.5-1.2 1.5-1.2 1.3-1.1 1.2-1.2 1-1.1 .9-1.1 .7-1.2 .6-1.1 .3-1.2 .3-1.2 .1-1.1 0-1.2 0-1.1-.2-1.2-.2-1.1-.3-1.1-.2-1.2-.3-1.2-.3-1.1-.3-1.1-.3-1.2-.3-1.2-.2-1.1-.3-1.2-.2-1.1-.1 0 1.1z"/>
<path transform="translate(418.5 485.9)" d="M-11.5 -2.7l-1.1-.5-1.2-.3-1.1-.4-1.2-.3-1.1-.4-1.2-.4-1.2-.4-1.1-.4-1.2-.5-1.1-.4-1.1-.5-1.2-.5-1.1-.5-1.2-.5-1.2-.5-1.1-.5-1.2-.5-1.1-.6-1.2-.5-1.1-.5-1.1-.4-1.2-.5-1.1-.3-1.2-.3-1.1-.2-1.2-.2-1.2-.1-1.1 0-1.2-.1-1.1 0-1.1-.1-1.2-.1-1.1-.2-1.2-.3-1.2-.5-1.1-.6-1.2-.7-1.1-.9-1.2-1-1.1-1.3-1.1-1.4-1.2-1.5-1.1-1.8-1.2-1.8-1.1-2-1.2-2-1.2-2-1.1-2-1.2-1.9-1.1-1.7-1.1-1.5-1.2-1.3-1.1-1-1.2-.7-1.2-.3-1.1 0-1.2 .3-1.1 .7-1.2 .9-1.1 1.2-1.1 1.3-1.2 1.4-1.1 1.6-1.2 1.5-1.1 1.5-1.2 1.4-1.2 1.2-1.1 1.2-1.2 1-1.1 .8-1.1 .7-1.2 .5-1.1 .4-1.2 .2-1.2 .2-1.1 0-1.2-.1-1.1-.1-1.2-.2-1.1-.3-1.1-.2-1.2-.3-1.2-.3-1.1-.3-1.1-.3-1.2-.2-1.2-.3-1.1-.2-1.2-.2-1.1-.2 0 .9z"/>
<path transform="translate(418 486.5)" d="M-12.6 -2.9l-1.2-.6-1.1-.3-1.2-.4-1.1-.3-1.2-.4-1.2-.4-1.1-.4-1.2-.5-1.1-.4-1.1-.5-1.2-.4-1.1-.5-1.2-.4-1.2-.5-1.1-.5-1.2-.5-1.1-.4-1.2-.5-1.1-.4-1.1-.4-1.2-.4-1.1-.3-1.2-.3-1.1-.2-1.2-.2-1.2-.1-1.1-.1-1.2-.1-1.1 0-1.1-.1-1.2-.2-1.1-.3-1.2-.3-1.2-.5-1.1-.6-1.2-.7-1.1-.9-1.2-1-1.1-1.2-1.1-1.4-1.2-1.5-1.1-1.7-1.2-1.8-1.1-1.9-1.2-1.9-1.2-2-1.1-1.9-1.2-1.8-1.1-1.7-1.1-1.5-1.2-1.2-1.1-1-1.2-.7-1.2-.3-1.1 0-1.2 .3-1.1 .6-1.2 .9-1.1 1.1-1.1 1.3-1.2 1.3-1.1 1.5-1.2 1.4-1.1 1.4-1.2 1.3-1.2 1.3-1.1 1-1.2 1-1.1 .8-1.1 .6-1.2 .5-1.1 .4-1.2 .2-1.2 .1-1.1 0-1.2-.1-1.1-.1-1.2-.2-1.1-.2-1.1-.2-1.2-.3-1.2-.3-1.1-.3-1.1-.2-1.2-.3-1.2-.2-1.1-.3-1.2-.2-1.1-.2 0 .7z"/>
<path transform="translate(417.5 487.1)" d="M-12.6 -2.9l-1.2-.5-1.1-.4-1.2-.3-1.1-.4-1.2-.3-1.2-.4-1.1-.4-1.2-.4-1.1-.5-1.1-.4-1.2-.4-1.1-.5-1.2-.4-1.2-.4-1.1-.5-1.2-.4-1.1-.4-1.2-.4-1.1-.4-1.1-.4-1.2-.3-1.1-.3-1.2-.3-1.1-.2-1.2-.2-1.2-.1-1.1-.1-1.2-.1-1.1-.2-1.1-.1-1.2-.2-1.1-.3-1.2-.4-1.2-.5-1.1-.6-1.2-.7-1.1-.8-1.2-1.1-1.1-1.1-1.1-1.3-1.2-1.5-1.1-1.6-1.2-1.7-1.1-1.8-1.2-1.8-1.2-1.9-1.1-1.8-1.2-1.8-1.1-1.6-1.1-1.4-1.2-1.2-1.1-.9-1.2-.7-1.2-.3-1.1 0-1.2 .3-1.1 .5-1.2 .8-1.1 1-1.1 1.2-1.2 1.3-1.1 1.3-1.2 1.4-1.1 1.3-1.2 1.2-1.2 1.1-1.1 1.1-1.2 .8-1.1 .8-1.1 .6-1.2 .4-1.1 .3-1.2 .2-1.2 .1-1.1 0-1.2 0-1.1-.1-1.2-.2-1.1-.2-1.1-.3-1.2-.2-1.2-.3-1.1-.3-1.1-.2-1.2-.3-1.2-.3-1.1-.2-1.2-.2-1.1-.3 0 .6z"/>
<path transform="translate(417 487.7)" d="M-13.8 -3.2l-1.1-.5-1.2-.4-1.1-.3-1.2-.4-1.2-.3-1.1-.4-1.2-.4-1.1-.4-1.1-.4-1.2-.4-1.1-.4-1.2-.5-1.2-.4-1.1-.4-1.2-.4-1.1-.4-1.2-.3-1.1-.4-1.1-.3-1.2-.3-1.1-.3-1.2-.3-1.1-.2-1.2-.2-1.2-.1-1.1-.2-1.2-.1-1.1-.2-1.1-.2-1.2-.2-1.1-.3-1.2-.4-1.2-.5-1.1-.6-1.2-.7-1.1-.8-1.2-1-1.1-1.1-1.1-1.2-1.2-1.4-1.1-1.5-1.2-1.7-1.1-1.7-1.2-1.7-1.2-1.8-1.1-1.7-1.2-1.6-1.1-1.5-1.1-1.4-1.2-1.1-1.1-.9-1.2-.6-1.2-.4-1.1 0-1.2 .3-1.1 .5-1.2 .7-1.1 .9-1.1 1.1-1.2 1.2-1.1 1.2-1.2 1.2-1.1 1.2-1.2 1.2-1.2 1-1.1 .9-1.2 .8-1.1 .7-1.1 .5-1.2 .4-1.1 .3-1.2 .2-1.2 .1-1.1 0-1.2-.1-1.1-.1-1.2-.2-1.1-.2-1.1-.2-1.2-.3-1.2-.3-1.1-.2-1.1-.3-1.2-.2-1.2-.3-1.1-.2-1.2-.3-1.1-.2 0 .4z"/>
<path transform="translate(416.5 488.3)" d="M-13.8 -3.2l-1.1-.5-1.2-.3-1.1-.4-1.2-.3-1.2-.4-1.1-.3-1.2-.4-1.1-.4-1.1-.4-1.2-.3-1.1-.4-1.2-.4-1.2-.4-1.1-.4-1.2-.4-1.1-.3-1.2-.4-1.1-.3-1.1-.3-1.2-.3-1.1-.3-1.2-.2-1.1-.2-1.2-.2-1.2-.2-1.1-.2-1.2-.2-1.1-.1-1.1-.3-1.2-.2-1.1-.4-1.2-.4-1.2-.4-1.1-.6-1.2-.7-1.1-.8-1.2-.9-1.1-1.1-1.1-1.1-1.2-1.3-1.1-1.5-1.2-1.5-1.1-1.6-1.2-1.6-1.2-1.6-1.1-1.6-1.2-1.6-1.1-1.4-1.1-1.3-1.2-1-1.1-.9-1.2-.6-1.2-.3-1.1 0-1.2 .2-1.1 .4-1.2 .7-1.1 .8-1.1 1-1.2 1-1.1 1.1-1.2 1.1-1.1 1.1-1.2 1-1.2 1-1.1 .8-1.2 .7-1.1 .6-1.1 .5-1.2 .3-1.1 .3-1.2 .1-1.2 .1-1.1 0-1.2-.1-1.1-.1-1.2-.2-1.1-.2-1.1-.2-1.2-.3-1.2-.2-1.1-.3-1.1-.3-1.2-.2-1.2-.3-1.1-.2-1.2-.3-1.1-.2 0 .3z"/>
<path transform="translate(415.9 488.9)" d="M-14.9 -3.5l-1.2-.5-1.1-.3-1.2-.3-1.2-.4-1.1-.3-1.2-.4-1.1-.3-1.1-.4-1.2-.4-1.1-.3-1.2-.4-1.2-.4-1.1-.3-1.2-.4-1.1-.3-1.2-.3-1.1-.4-1.1-.3-1.2-.2-1.1-.3-1.2-.2-1.1-.3-1.2-.2-1.2-.2-1.1-.2-1.2-.2-1.1-.2-1.1-.2-1.2-.3-1.1-.3-1.2-.4-1.2-.5-1.1-.6-1.2-.6-1.1-.8-1.2-.9-1.1-.9-1.1-1.1-1.2-1.3-1.1-1.3-1.2-1.4-1.1-1.4-1.2-1.5-1.2-1.6-1.1-1.5-1.2-1.4-1.1-1.3-1.1-1.2-1.2-1-1.1-.8-1.2-.5-1.2-.3-1.1-.1-1.2 .2-1.1 .3-1.2 .6-1.1 .7-1.1 .9-1.2 .9-1.1 1-1.2 1-1.1 1-1.2 .9-1.2 .8-1.1 .7-1.2 .7-1.1 .5-1.1 .4-1.2 .3-1.1 .2-1.2 .1-1.2 0-1.1 0-1.2-.1-1.1-.1-1.2-.2-1.1-.2-1.1-.2-1.2-.3-1.2-.2-1.1-.3-1.1-.3-1.2-.2-1.2-.3-1.1-.2-1.2-.3-1.1-.2 0 .2z"/>
<path transform="translate(415.4 489.5)" d="M-16.1 -3.8l-1.1-.5-1.2-.3-1.2-.3-1.1-.3-1.2-.4-1.1-.3-1.1-.4-1.2-.3-1.1-.4-1.2-.3-1.2-.4-1.1-.3-1.2-.3-1.1-.4-1.2-.3-1.1-.3-1.1-.3-1.2-.2-1.1-.3-1.2-.2-1.1-.2-1.2-.3-1.2-.2-1.1-.2-1.2-.2-1.1-.3-1.1-.2-1.2-.3-1.1-.4-1.2-.4-1.2-.4-1.1-.6-1.2-.6-1.1-.7-1.2-.8-1.1-.9-1.1-1-1.2-1.2-1.1-1.2-1.2-1.3-1.1-1.3-1.2-1.4-1.2-1.4-1.1-1.4-1.2-1.3-1.1-1.2-1.1-1.1-1.2-.9-1.1-.7-1.2-.5-1.2-.4-1.1 0-1.2 .1-1.1 .3-1.2 .5-1.1 .6-1.1 .7-1.2 .9-1.1 .8-1.2 .9-1.1 .8-1.2 .8-1.2 .7-1.1 .6-1.2 .6-1.1 .4-1.1 .4-1.2 .2-1.1 .2-1.2 0-1.2 .1-1.1-.1-1.2-.1-1.1-.2-1.2-.1-1.1-.2-1.1-.3-1.2-.2-1.2-.3-1.1-.2-1.1-.3-1.2-.2-1.2-.1z"/>
<path transform="translate(414.9 490.1)" d="M-17.2 -4l-1.2-.5-1.2-.3-1.1-.4-1.2-.3-1.1-.3-1.1-.4-1.2-.3-1.1-.3-1.2-.4-1.2-.3-1.1-.3-1.2-.3-1.1-.3-1.2-.3-1.1-.3-1.1-.3-1.2-.3-1.1-.2-1.2-.3-1.1-.2-1.2-.2-1.2-.3-1.1-.2-1.2-.2-1.1-.3-1.1-.2-1.2-.3-1.1-.4-1.2-.4-1.2-.4-1.1-.5-1.2-.6-1.1-.7-1.2-.8-1.1-.8-1.1-.9-1.2-1.1-1.1-1.1-1.2-1.1-1.1-1.3-1.2-1.2-1.2-1.3-1.1-1.3-1.2-1.1-1.1-1.2-1.1-.9-1.2-.9-1.1-.7-1.2-.5-1.2-.3-1.1-.1-1.2 .1-1.1 .2-1.2 .4-1.1 .6-1.1 .6-1.2 .7-1.1 .7-1.2 .7-1.1 .8-1.2 .6-1.2 .6-1.1 .6-1.2 .4-1.1 .4-1.1 .3-1.2 .1-1.1 .2-1.2 0-1.2 0-1.1-.1-1.2-.1-1.1-.2-1.2-.2-1.1-.2-1.1-.2-1.2-.1z"/>
<path transform="translate(414.4 490.7)" d="M-18.4 -4.3l-1.2-.5-1.1-.3-1.2-.3-1.1-.3-1.1-.3-1.2-.4-1.1-.3-1.2-.3-1.2-.3-1.1-.3-1.2-.3-1.1-.3-1.2-.3-1.1-.3-1.1-.3-1.2-.2-1.1-.3-1.2-.3-1.1-.2-1.2-.2-1.2-.3-1.1-.2-1.2-.3-1.1-.2-1.1-.3-1.2-.3-1.1-.3-1.2-.4-1.2-.5-1.1-.5-1.2-.5-1.1-.6-1.2-.7-1.1-.8-1.1-.9-1.2-.9-1.1-1-1.2-1.1-1.1-1.1-1.2-1.1-1.2-1.2-1.1-1.1-1.2-1.1-1.1-1-1.1-.9-1.2-.8-1.1-.6-1.2-.5-1.2-.3-1.1-.1-1.2 0-1.1 .2-1.2 .3-1.1 .5-1.1 .5-1.2 .6-1.1 .6-1.2 .6-1.1 .6-1.2 .5-1.2 .5-1.1 .5-1.2 .3-1.1 .3-1.1 .2-1.2 .2-1.1 0-1.2 0-1.2 0-1.1-.1-1.2-.2-1.1-.1-1.2-.2-1.1-.2-1.1-.1z"/>
<path transform="translate(413.9 491.3)" d="M-19.6 -4.6l-1.1-.4-1.2-.3-1.1-.3-1.1-.4-1.2-.3-1.1-.3-1.2-.3-1.2-.3-1.1-.3-1.2-.3-1.1-.3-1.2-.3-1.1-.2-1.1-.3-1.2-.3-1.1-.2-1.2-.3-1.1-.2-1.2-.3-1.2-.2-1.1-.3-1.2-.2-1.1-.3-1.1-.3-1.2-.3-1.1-.3-1.2-.4-1.2-.4-1.1-.5-1.2-.5-1.1-.6-1.2-.6-1.1-.7-1.1-.8-1.2-.9-1.1-.9-1.2-.9-1.1-1-1.2-1.1-1.2-1-1.1-1-1.2-1-1.1-.9-1.1-.8-1.2-.7-1.1-.6-1.2-.4-1.2-.3-1.1-.2-1.2 0-1.1 .1-1.2 .3-1.1 .3-1.1 .4-1.2 .5-1.1 .5-1.2 .5-1.1 .5-1.2 .4-1.2 .4-1.1 .4-1.2 .2-1.1 .2-1.1 .2-1.2 .1-1.1 0-1.2 0-1.2-.1-1.1-.1-1.2-.2-1.1-.2-1.2-.2-1.1 0z"/>
<path transform="translate(413.4 491.9)" d="M-21.9 -5.1l-1.1-.5-1.1-.3-1.2-.3-1.1-.3-1.2-.3-1.2-.3-1.1-.3-1.2-.3-1.1-.2-1.2-.3-1.1-.3-1.1-.3-1.2-.2-1.1-.3-1.2-.2-1.1-.3-1.2-.3-1.2-.2-1.1-.3-1.2-.2-1.1-.3-1.1-.3-1.2-.3-1.1-.3-1.2-.4-1.2-.4-1.1-.4-1.2-.5-1.1-.5-1.2-.6-1.1-.7-1.1-.7-1.2-.8-1.1-.8-1.2-.8-1.1-.9-1.2-.9-1.2-1-1.1-.9-1.2-.8-1.1-.9-1.1-.7-1.2-.7-1.1-.5-1.2-.4-1.2-.3-1.1-.2-1.2 0-1.1 .1-1.2 .1-1.1 .3-1.1 .3-1.2 .4-1.1 .3-1.2 .4-1.1 .4-1.2 .3-1.2 .3-1.1 .3-1.2 .2-1.1 .1-1.1 .1-1.2 .1-1.1-.1-1.2 0-1.2-.1-1.1-.2-1.2-.1-1.1-.2-1.2-.1z"/>
<path transform="translate(412.8 492.5)" d="M-24.1 -5.6l-1.2-.5-1.1-.3-1.2-.3-1.2-.3-1.1-.3-1.2-.3-1.1-.2-1.2-.3-1.1-.3-1.1-.3-1.2-.2-1.1-.3-1.2-.2-1.1-.3-1.2-.3-1.2-.2-1.1-.3-1.2-.2-1.1-.3-1.1-.3-1.2-.3-1.1-.3-1.2-.4-1.2-.4-1.1-.4-1.2-.4-1.1-.5-1.2-.6-1.1-.6-1.1-.6-1.2-.7-1.1-.7-1.2-.8-1.1-.8-1.2-.8-1.2-.8-1.1-.8-1.2-.8-1.1-.8-1.1-.6-1.2-.6-1.1-.5-1.2-.4-1.2-.3-1.1-.2-1.2-.1-1.1 .1-1.2 .1-1.1 .1-1.1 .3-1.2 .2-1.1 .3-1.2 .3-1.1 .3-1.2 .2-1.2 .2-1.1 .2-1.2 .1-1.1 .1-1.1 .1-1.2-.1-1.1 0-1.2-.1-1.2-.1-1.1-.2-1.2-.2-1.1 0z"/>
<path transform="translate(412.3 493.1)" d="M-27.6 -6.4l-1.2-.5-1.1-.3-1.2-.3-1.1-.3-1.2-.2-1.1-.3-1.1-.3-1.2-.2-1.1-.3-1.2-.3-1.1-.2-1.2-.3-1.2-.2-1.1-.3-1.2-.3-1.1-.2-1.1-.3-1.2-.3-1.1-.4-1.2-.3-1.2-.4-1.1-.3-1.2-.5-1.1-.4-1.2-.5-1.1-.6-1.1-.6-1.2-.6-1.1-.6-1.2-.7-1.1-.7-1.2-.8-1.2-.7-1.1-.7-1.2-.7-1.1-.7-1.1-.6-1.2-.5-1.1-.5-1.2-.4-1.2-.2-1.1-.2-1.2-.1-1.1-.1-1.2 .1-1.1 .1-1.1 .1-1.2 .2-1.1 .2-1.2 .2-1.1 .2-1.2 .1-1.2 .2-1.1 .1-1.2 .1-1.1 0-1.1 0-1.2-.1-1.1-.1-1.2-.1-1.2-.2-1.1-.1-1.2-.2-1.1-.1z"/>
<path transform="translate(411.8 493.7)" d="M-47.1 -11l-1.2-.5-1.1-.3-1.2-.3-1.2-.4-1.1-.3-1.2-.4-1.1-.5-1.2-.4-1.1-.5-1.1-.5-1.2-.6-1.1-.6-1.2-.6-1.1-.7-1.2-.6-1.2-.7-1.1-.6-1.2-.6-1.1-.6-1.1-.6-1.2-.4-1.1-.5-1.2-.3-1.2-.3-1.1-.2-1.2-.2-1.1 0-1.2 0-1.1 0-1.1 .1-1.2 .1-1.1 .1-1.2 .1-1.1 .1-1.2 .1-1.2 .1-1.1 0-1.2 0-1.1 0-1.1-.1-1.2-.1-1.1-.1-1.2-.1-1.2-.2-1.1-.2-1.2 0z"/>
<path transform="translate(411.3 494.3)" d="M-48.3 -11.3l-1.1-.4-1.2-.4-1.2-.3-1.1-.3-1.2-.4-1.1-.4-1.2-.4-1.1-.5-1.1-.5-1.2-.5-1.1-.5-1.2-.6-1.1-.5-1.2-.6-1.2-.6-1.1-.6-1.2-.5-1.1-.6-1.1-.5-1.2-.4-1.1-.4-1.2-.4-1.2-.2-1.1-.2-1.2-.2-1.1-.1-1.2-.1-1.1 0-1.1 0-1.2 .1-1.1 0-1.2 0-1.1 .1-1.2 0-1.2 0-1.1 0-1.2 0-1.1-.1-1.1-.1-1.2-.1-1.1-.2-1.2-.1-1.2-.2-1.1 0z"/>
<path transform="translate(410.8 494.9)" d="M-49.4 -11.5l-1.2-.5-1.2-.3-1.1-.4-1.2-.3-1.1-.4-1.2-.4-1.1-.4-1.1-.4-1.2-.5-1.1-.5-1.2-.5-1.1-.5-1.2-.5-1.2-.5-1.1-.6-1.2-.5-1.1-.4-1.1-.5-1.2-.4-1.1-.4-1.2-.3-1.2-.3-1.1-.2-1.2-.2-1.1-.1-1.2-.1-1.1-.1-1.1 0-1.2-.1-1.1 0-1.2 0-1.1 0-1.2 0-1.2-.1-1.1 0-1.2-.1-1.1-.1-1.1-.2-1.2-.1-1.1-.2-1.2-.2-1.2 0z"/>
<path transform="translate(410.3 495.5)" d="M-50.6 -11.8l-1.2-.5-1.1-.3-1.2-.3-1.1-.4-1.2-.4-1.1-.3-1.1-.4-1.2-.5-1.1-.4-1.2-.5-1.1-.4-1.2-.5-1.2-.5-1.1-.4-1.2-.5-1.1-.4-1.1-.4-1.2-.4-1.1-.4-1.2-.3-1.2-.3-1.1-.2-1.2-.2-1.1-.2-1.2-.1-1.1-.1-1.1-.1-1.2-.1-1.1 0-1.2-.1-1.1-.1-1.2 0-1.2-.1-1.1-.1-1.2-.2-1.1-.1-1.1-.2-1.2-.1-1.1-.2-1.2-.2-1.2-.1z"/>
<path transform="translate(409.7 496.1)" d="M-52.9 -12.3l-1.2-.6-1.1-.3-1.2-.3-1.1-.4-1.1-.4-1.2-.4-1.1-.4-1.2-.4-1.1-.4-1.2-.4-1.2-.5-1.1-.4-1.2-.4-1.1-.4-1.1-.4-1.2-.4-1.1-.3-1.2-.3-1.2-.3-1.1-.2-1.2-.2-1.1-.2-1.2-.2-1.1-.1-1.1-.1-1.2-.1-1.1-.2-1.2-.1-1.1-.1-1.2-.1-1.2-.1-1.1-.2-1.2-.1-1.1-.2-1.1-.2-1.2-.2-1.1-.2-1.2 0z"/>
<path transform="translate(409.2 496.7)" d="M-54.1 -12.6l-1.1-.5-1.2-.4-1.1-.3-1.1-.3-1.2-.4-1.1-.4-1.2-.4-1.1-.4-1.2-.3-1.2-.4-1.1-.4-1.2-.4-1.1-.4-1.1-.3-1.2-.4-1.1-.3-1.2-.3-1.2-.3-1.1-.2-1.2-.2-1.1-.2-1.2-.2-1.1-.2-1.1-.2-1.2-.1-1.1-.2-1.2-.1-1.1-.1-1.2-.2-1.2-.1-1.1-.2-1.2-.2-1.1-.2-1.1-.2-1.2-.2-1.1 0z"/>
<path transform="translate(408.7 497.3)" d="M-55.2 -12.9l-1.2-.5-1.1-.3-1.1-.3-1.2-.4-1.1-.3-1.2-.4-1.1-.3-1.2-.4-1.2-.4-1.1-.3-1.2-.4-1.1-.3-1.1-.4-1.2-.3-1.1-.3-1.2-.3-1.2-.3-1.1-.2-1.2-.3-1.1-.2-1.2-.2-1.1-.2-1.1-.2-1.2-.1-1.1-.2-1.2-.2-1.1-.1-1.2-.2-1.2-.2-1.1-.2-1.2-.2-1.1-.2-1.1-.2-1.2-.1z"/>
<path transform="translate(408.2 497.9)" d="M-56.4 -13.1l-1.1-.5-1.1-.3-1.2-.4-1.1-.3-1.2-.3-1.1-.4-1.2-.3-1.2-.4-1.1-.3-1.2-.3-1.1-.4-1.1-.3-1.2-.3-1.1-.3-1.2-.3-1.2-.2-1.1-.3-1.2-.2-1.1-.3-1.2-.2-1.1-.2-1.1-.2-1.2-.2-1.1-.2-1.2-.2-1.1-.2-1.2-.2-1.2-.2-1.1-.2-1.2-.2-1.1 0z"/>
<path transform="translate(407.7 498.4)" d="M-57.5 -13.4l-1.1-.5-1.2-.3-1.1-.3-1.2-.3-1.1-.3-1.2-.4-1.2-.3-1.1-.3-1.2-.3-1.1-.3-1.1-.4-1.2-.3-1.1-.2-1.2-.3-1.2-.3-1.1-.3-1.2-.2-1.1-.2-1.2-.3-1.1-.2-1.1-.2-1.2-.2-1.1-.2-1.2-.3-1.1-.2-1.2-.2-1.2-.2-1.1-.2-1.2-.1z"/>
<path transform="translate(407.1 499)" d="M-59.8 -13.9l-1.1-.5-1.2-.3-1.1-.3-1.2-.3-1.2-.4-1.1-.3-1.2-.3-1.1-.3-1.1-.3-1.2-.3-1.1-.2-1.2-.3-1.2-.3-1.1-.3-1.2-.2-1.1-.3-1.2-.2-1.1-.2-1.1-.3-1.2-.2-1.1-.2-1.2-.2-1.1-.3-1.2-.2-1.2 0z"/>
<path transform="translate(406.6 499.6)" d="M-62.1 -14.5l-1.1-.5-1.2-.3-1.2-.3-1.1-.3-1.2-.3-1.1-.2-1.1-.3-1.2-.3-1.1-.3-1.2-.3-1.2-.2-1.1-.3-1.2-.3-1.1-.2-1.2-.3-1.1-.2-1.1-.2-1.2-.3-1.1-.2-1.2-.3-1.1 0z"/>
<path transform="translate(406.1 500.2)" d="M-65.6 -15.3l-1.1-.5-1.2-.3-1.1-.2-1.1-.3-1.2-.3-1.1-.3-1.2-.3-1.2-.2-1.1-.3-1.2-.3-1.1-.2-1.2-.3-1.1-.2-1.1-.3-1.2-.2-1.1-.1z"/>
<path transform="translate(405.6 500.8)" d="M-70.1 -16.3l-1.2-.5-1.1-.3-1.2-.3-1.2-.2-1.1-.3-1.2-.3-1.1 0z"/></g>
<g stroke="#4a4a4a" stroke-width=".6" fill="none"><path d="M287.1 476.8L287.1 432.8"/><path d="M287.1 476.8L403 503.8"/><path d="M403 503.8L454.8 444.3"/><path d="M287.1 476.8L285.1 476.8"/><path d="M287.1 456.1L285.1 456.1"/><path d="M287.1 435.5L285.1 435.5"/><path d="M288 477L286.7 478.5"/><path d="M311 482.4L309.7 483.9"/><path d="M334 487.7L332.7 489.2"/><path d="M357 493.1L355.7 494.6"/><path d="M380 498.4L378.7 499.9"/><path d="M403 503.8L401.7 505.3"/><path d="M403 503.8L405.5 504.4"/><path d="M413.4 491.9L415.9 492.5"/><path d="M423.7 480L426.3 480.6"/><path d="M434.1 468.1L436.6 468.7"/><path d="M444.4 456.2L447 456.8"/><path d="M454.8 444.3L457.3 444.9"/></g>
<g font-size="5" fill="#3a3a3a"><text x="282.5" y="478.6" text-anchor="end">0</text><text x="282.5" y="457.9" text-anchor="end">100</text><text x="282.5" y="437.3" text-anchor="end">200</text><text x="284.9" y="486.7" text-anchor="end">100</text><text x="307.9" y="492.1" text-anchor="end">80</text><text x="330.9" y="497.4" text-anchor="end">60</text><text x="353.9" y="502.8" text-anchor="end">40</text><text x="376.9" y="508.1" text-anchor="end">20</text><text x="399.9" y="513.5" text-anchor="end">0</text><text x="409.1" y="511">0</text><text x="419.5" y="499.1">20</text><text x="429.8" y="487.2">40</text><text x="440.2" y="475.3">60</text><text x="450.5" y="463.4">80</text><text x="460.9" y="451.5">100</text></g>
<polygon points="365.2,417 365.8,418.8 367.8,418.9 366.2,420 366.8,421.9 365.2,420.8 363.6,421.9 364.2,420 362.6,418.9 364.6,418.8" fill="#f0e01e" stroke="#5a5420" stroke-width=".4"/>
<path d="M365.2 419.7C363.8 419.9 359.9 420.4 356.8 421C353.7 421.6 350 422.2 346.6 423.5C343.2 424.8 339.1 426.7 336.4 428.6C333.6 430.5 331.7 432.7 330.1 435C328.5 437.3 327.4 440.3 326.8 442.6C326.2 444.9 326.1 446.9 326.3 449C326.5 451.1 327.1 453 328 455C328.9 457 329.7 458.2 331.4 461C333.1 463.8 335.9 468.4 338.1 471.5C340.3 474.6 342.7 477.5 344.8 479.5C346.9 481.5 348.5 482.6 350.5 483.5C352.5 484.4 354.6 485 356.8 485.2C359 485.4 361.7 485.1 363.9 484.8C366.1 484.5 368.4 483.6 370 483.5C371.6 483.4 372.7 483.3 373.8 484.2C374.9 485.1 375.7 486.9 376.6 488.6C377.6 490.3 378.6 493.5 379.5 494.3C380.4 495.1 381.1 493.9 382 493.4C382.9 492.9 383.5 491.4 384.8 491.1C386.1 490.9 387.9 490.9 389.6 491.9C391.4 492.8 393.2 494.8 395.3 496.8C397.4 498.8 401.2 502.8 402.4 504" fill="none" stroke="#dd1431" stroke-width="1.4" stroke-linecap="round" stroke-linejoin="round"/>
<circle cx="326.3" cy="449" r="1.3" fill="none" stroke="#4f9a4c" stroke-width=".5"/>
<circle cx="344.8" cy="479.5" r="1.3" fill="none" stroke="#4f9a4c" stroke-width=".5"/>
<circle cx="356.8" cy="485.2" r="1.3" fill="none" stroke="#4f9a4c" stroke-width=".5"/>
<circle cx="373" cy="483.5" r="1.3" fill="none" stroke="#4f9a4c" stroke-width=".5"/>
<circle cx="380.1" cy="494.9" r="1.3" fill="none" stroke="#4f9a4c" stroke-width=".5"/>
<circle cx="384.8" cy="491.1" r="1.3" fill="none" stroke="#4f9a4c" stroke-width=".5"/>
<rect x="401.1" y="502.7" width="3" height="3" fill="#f2f01e" stroke="#a9b51e" stroke-width=".3"/>
<text x="363.6" y="544.2" text-anchor="middle" class="cap">(f) ACA</text>
</g>
</svg>
</body></html>
